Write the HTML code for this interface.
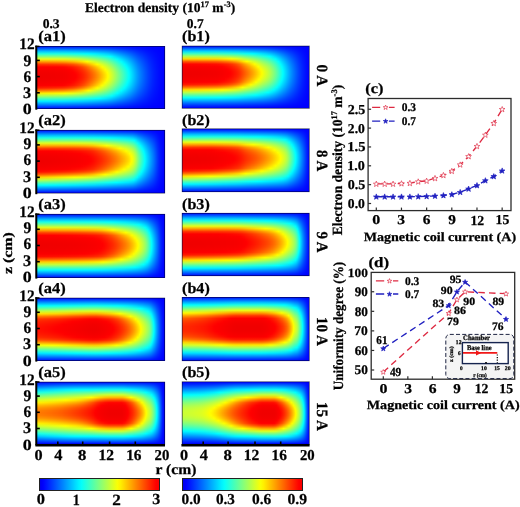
<!DOCTYPE html>
<html><head><meta charset="utf-8"><title>Electron density</title>
<style>
html,body{margin:0;padding:0;background:#fff}
#fig{position:relative;width:520px;height:507px;overflow:hidden;background:#fff;font-family:"Liberation Serif",serif}
.hm{position:absolute;display:flex}
.hm i{display:block;flex:0 0 1px;height:100%}
#ov{position:absolute;left:0;top:0;filter:blur(.35px)}
#ov text{font-family:"Liberation Serif",serif;font-weight:bold;fill:#000;text-anchor:start;text-rendering:geometricPrecision;stroke:#000;stroke-width:.25px}
.cb{position:absolute;height:12.4px;border:1px solid #222;box-sizing:border-box}
</style></head><body><div id="fig">

<div class="hm" style="left:36px;top:46.2px;width:129.7px;height:62.5px"><i style="background:linear-gradient(#0000ff,#005eff,#00bdff,#1fffe1,#81ff7f,#eaff15,#ff9c00,#ff3500,#fd0000,#f70000,#f30000,#f00000,#f00000,#f20000,#f60000,#fb0000,#ff1e00,#ff7700,#ffeb00,#acff53,#4effb1,#00f5ff,#009fff,#004cff,#0000ff)"></i><i style="background:linear-gradient(#0000ff,#005eff,#00bdff,#1fffe1,#81ff7f,#eaff15,#ff9b00,#ff3400,#fd0000,#f70000,#f30000,#f00000,#f00000,#f20000,#f60000,#fb0000,#ff1f00,#ff7800,#ffeb00,#acff53,#4effb1,#00f5ff,#009fff,#004cff,#0000ff)"></i><i style="background:linear-gradient(#0000ff,#005eff,#00beff,#1fffe1,#81ff7f,#eaff15,#ff9b00,#ff3400,#fd0000,#f70000,#f30000,#f00000,#f00000,#f20000,#f60000,#fb0000,#ff1f00,#ff7800,#ffeb00,#acff54,#4effb2,#00f5ff,#009fff,#004cff,#0000ff)"></i><i style="background:linear-gradient(#0000ff,#005eff,#00beff,#1fffe1,#81ff7f,#eaff15,#ff9b00,#ff3400,#fd0000,#f70000,#f30000,#f00000,#f00000,#f20000,#f60000,#fb0000,#ff1f00,#ff7900,#ffec00,#acff54,#4effb2,#00f5ff,#009fff,#004cff,#0000ff)"></i><i style="background:linear-gradient(#0000ff,#005eff,#00beff,#1fffe0,#81ff7f,#eaff15,#ff9b00,#ff3400,#fd0000,#f70000,#f30000,#f00000,#f00000,#f20000,#f60000,#fb0000,#ff1f00,#ff7900,#ffec00,#abff54,#4effb2,#00f4ff,#009fff,#004cff,#0000ff)"></i><i style="background:linear-gradient(#0000ff,#005eff,#00beff,#1fffe0,#81ff7f,#eaff15,#ff9b00,#ff3400,#fd0000,#f70000,#f30000,#f10000,#f00000,#f20000,#f60000,#fb0000,#ff2000,#ff7900,#ffed00,#abff55,#4dffb2,#00f4ff,#009eff,#004cff,#0000ff)"></i><i style="background:linear-gradient(#0000ff,#005eff,#00beff,#1fffe0,#81ff7f,#eaff15,#ff9b00,#ff3400,#fd0000,#f70000,#f30000,#f10000,#f00000,#f20000,#f60000,#fb0000,#ff2000,#ff7a00,#ffed00,#abff55,#4dffb3,#00f4ff,#009eff,#004cff,#0000ff)"></i><i style="background:linear-gradient(#0000ff,#005eff,#00beff,#1fffe0,#81ff7f,#eaff15,#ff9b00,#ff3400,#fd0000,#f70000,#f30000,#f10000,#f10000,#f20000,#f60000,#fb0000,#ff2100,#ff7b00,#ffee00,#aaff56,#4dffb3,#00f4ff,#009eff,#004cff,#0000ff)"></i><i style="background:linear-gradient(#0000ff,#005eff,#00beff,#1fffe0,#81ff7f,#eaff15,#ff9b00,#ff3500,#fd0000,#f70000,#f30000,#f10000,#f10000,#f20000,#f60000,#fc0000,#ff2100,#ff7b00,#ffee00,#aaff56,#4cffb3,#00f3ff,#009eff,#004cff,#0000ff)"></i><i style="background:linear-gradient(#0000ff,#005eff,#00beff,#1fffe1,#81ff7f,#eaff15,#ff9b00,#ff3500,#fd0000,#f70000,#f30000,#f10000,#f10000,#f30000,#f60000,#fc0000,#ff2200,#ff7c00,#ffef00,#a9ff56,#4cffb4,#00f3ff,#009eff,#004bff,#0000ff)"></i><i style="background:linear-gradient(#0000ff,#005eff,#00bdff,#1fffe1,#81ff7f,#eaff15,#ff9c00,#ff3500,#fd0000,#f70000,#f30000,#f10000,#f10000,#f30000,#f60000,#fc0000,#ff2200,#ff7c00,#ffef00,#a9ff57,#4cffb4,#00f3ff,#009dff,#004bff,#0000ff)"></i><i style="background:linear-gradient(#0000ff,#005eff,#00bdff,#1fffe1,#81ff7f,#eaff15,#ff9c00,#ff3500,#fd0000,#f70000,#f30000,#f10000,#f10000,#f30000,#f70000,#fc0000,#ff2300,#ff7d00,#fff000,#a8ff57,#4bffb4,#00f3ff,#009dff,#004bff,#0000ff)"></i><i style="background:linear-gradient(#0000ff,#005eff,#00bdff,#1fffe1,#81ff7f,#eaff16,#ff9c00,#ff3500,#fd0000,#f70000,#f30000,#f10000,#f10000,#f30000,#f70000,#fc0000,#ff2300,#ff7e00,#fff100,#a8ff58,#4bffb5,#00f2ff,#009dff,#004bff,#0000ff)"></i><i style="background:linear-gradient(#0000ff,#005eff,#00bdff,#1effe1,#80ff80,#e9ff16,#ff9c00,#ff3600,#fd0000,#f80000,#f40000,#f10000,#f10000,#f30000,#f70000,#fc0000,#ff2400,#ff7f00,#fff100,#a7ff58,#4affb5,#00f2ff,#009dff,#004bff,#0000ff)"></i><i style="background:linear-gradient(#0000ff,#005eff,#00bdff,#1effe1,#80ff80,#e9ff16,#ff9d00,#ff3600,#fe0000,#f80000,#f40000,#f20000,#f10000,#f30000,#f70000,#fc0000,#ff2500,#ff7f00,#fff200,#a7ff59,#4affb6,#00f2ff,#009dff,#004bff,#0000ff)"></i><i style="background:linear-gradient(#0000ff,#005eff,#00bdff,#1effe1,#80ff80,#e9ff16,#ff9d00,#ff3600,#fe0000,#f80000,#f40000,#f20000,#f20000,#f30000,#f70000,#fd0000,#ff2500,#ff8000,#fff300,#a6ff59,#4affb6,#00f1ff,#009cff,#004bff,#0000ff)"></i><i style="background:linear-gradient(#0000ff,#005eff,#00bdff,#1effe1,#80ff80,#e9ff16,#ff9d00,#ff3700,#fe0000,#f80000,#f40000,#f20000,#f20000,#f40000,#f70000,#fd0000,#ff2600,#ff8100,#fff300,#a6ff5a,#49ffb6,#00f1ff,#009cff,#004bff,#0000ff)"></i><i style="background:linear-gradient(#0000ff,#005eff,#00bdff,#1effe1,#80ff80,#e9ff17,#ff9e00,#ff3700,#fe0000,#f80000,#f40000,#f20000,#f20000,#f40000,#f80000,#fd0000,#ff2700,#ff8200,#fff400,#a5ff5a,#49ffb7,#00f1ff,#009cff,#004aff,#0000ff)"></i><i style="background:linear-gradient(#0000ff,#005eff,#00bdff,#1effe1,#80ff80,#e8ff17,#ff9e00,#ff3800,#fe0000,#f80000,#f40000,#f20000,#f20000,#f40000,#f80000,#fd0000,#ff2800,#ff8300,#fff500,#a5ff5b,#48ffb7,#00f0ff,#009cff,#004aff,#0000ff)"></i><i style="background:linear-gradient(#0000ff,#005eff,#00bdff,#1effe2,#7fff81,#e8ff17,#ff9f00,#ff3800,#fe0000,#f90000,#f50000,#f30000,#f20000,#f40000,#f80000,#fd0000,#ff2800,#ff8400,#fff600,#a4ff5c,#48ffb8,#00f0ff,#009bff,#004aff,#0000ff)"></i><i style="background:linear-gradient(#0000ff,#005eff,#00bdff,#1effe2,#7fff81,#e8ff17,#ff9f00,#ff3800,#ff0000,#f90000,#f50000,#f30000,#f30000,#f50000,#f80000,#fe0000,#ff2900,#ff8500,#fff700,#a3ff5c,#47ffb8,#00efff,#009bff,#004aff,#0000ff)"></i><i style="background:linear-gradient(#0000ff,#005eff,#00bdff,#1dffe2,#7fff81,#e7ff18,#ffa000,#ff3900,#ff0000,#f90000,#f50000,#f30000,#f30000,#f50000,#f80000,#fe0000,#ff2a00,#ff8600,#fff700,#a3ff5d,#47ffb9,#00efff,#009bff,#004aff,#0000ff)"></i><i style="background:linear-gradient(#0000ff,#005eff,#00bcff,#1dffe2,#7fff81,#e7ff18,#ffa000,#ff3a00,#ff0000,#f90000,#f50000,#f30000,#f30000,#f50000,#f90000,#fe0000,#ff2b00,#ff8700,#fff800,#a2ff5e,#46ffb9,#00efff,#009bff,#004aff,#0000ff)"></i><i style="background:linear-gradient(#0000ff,#005eff,#00bcff,#1dffe2,#7eff82,#e7ff18,#ffa100,#ff3a00,#ff0100,#f90000,#f50000,#f30000,#f30000,#f50000,#f90000,#fe0000,#ff2c00,#ff8800,#fff900,#a2ff5e,#46ffba,#00eeff,#009aff,#004aff,#0000ff)"></i><i style="background:linear-gradient(#0000ff,#005eff,#00bcff,#1dffe2,#7eff82,#e6ff19,#ffa100,#ff3b00,#ff0100,#fa0000,#f60000,#f40000,#f40000,#f60000,#f90000,#ff0000,#ff2d00,#ff8900,#fffa00,#a1ff5f,#45ffba,#00eeff,#009aff,#0049ff,#0000ff)"></i><i style="background:linear-gradient(#0000ff,#005dff,#00bcff,#1dffe3,#7eff82,#e6ff19,#ffa200,#ff3b00,#ff0200,#fa0000,#f60000,#f40000,#f40000,#f60000,#f90000,#ff0000,#ff2e00,#ff8a00,#fffb00,#a0ff5f,#45ffbb,#00edff,#009aff,#0049ff,#0000ff)"></i><i style="background:linear-gradient(#0000ff,#005dff,#00bcff,#1cffe3,#7eff82,#e6ff1a,#ffa300,#ff3c00,#ff0300,#fa0000,#f60000,#f40000,#f40000,#f60000,#fa0000,#ff0100,#ff2f00,#ff8b00,#fffc00,#a0ff60,#44ffbb,#00edff,#0099ff,#0049ff,#0000ff)"></i><i style="background:linear-gradient(#0000ff,#005dff,#00bcff,#1cffe3,#7dff83,#e5ff1a,#ffa400,#ff3d00,#ff0400,#fb0000,#f70000,#f50000,#f50000,#f60000,#fa0000,#ff0200,#ff3000,#ff8d00,#fffd00,#9fff61,#43ffbc,#00ecff,#0099ff,#0049ff,#0000ff)"></i><i style="background:linear-gradient(#0000ff,#005dff,#00bbff,#1bffe4,#7cff84,#e4ff1b,#ffa500,#ff3f00,#ff0500,#fb0000,#f70000,#f50000,#f50000,#f70000,#fb0000,#ff0300,#ff3200,#ff8f00,#ffff00,#9dff62,#42ffbd,#00ecff,#0099ff,#0049ff,#0000ff)"></i><i style="background:linear-gradient(#0000ff,#005dff,#00bbff,#1bffe4,#7cff84,#e3ff1c,#ffa700,#ff4000,#ff0700,#fc0000,#f80000,#f60000,#f60000,#f80000,#fb0000,#ff0500,#ff3400,#ff9100,#fdff02,#9cff64,#41ffbe,#00ebff,#0098ff,#0048ff,#0000ff)"></i><i style="background:linear-gradient(#0000ff,#005dff,#00baff,#1affe5,#7bff85,#e1ff1e,#ffa900,#ff4200,#ff0900,#fc0000,#f80000,#f60000,#f60000,#f80000,#fc0000,#ff0700,#ff3700,#ff9400,#fbff04,#9bff65,#40ffbf,#00eaff,#0097ff,#0048ff,#0000ff)"></i><i style="background:linear-gradient(#0000ff,#005cff,#00baff,#19ffe6,#79ff87,#e0ff1f,#ffab00,#ff4500,#ff0b00,#fd0000,#f90000,#f70000,#f70000,#f90000,#fd0000,#ff0a00,#ff3900,#ff9700,#f9ff06,#99ff67,#3fffc0,#00e9ff,#0097ff,#0048ff,#0000ff)"></i><i style="background:linear-gradient(#0000ff,#005cff,#00b9ff,#18ffe7,#78ff88,#dfff21,#ffae00,#ff4700,#ff0e00,#fe0000,#fa0000,#f80000,#f80000,#fa0000,#fe0000,#ff0c00,#ff3c00,#ff9a00,#f7ff08,#98ff68,#3effc2,#00e8ff,#0096ff,#0048ff,#0000ff)"></i><i style="background:linear-gradient(#0000ff,#005cff,#00b9ff,#17ffe8,#77ff89,#ddff22,#ffb000,#ff4a00,#ff1000,#ff0000,#fb0000,#f90000,#f90000,#fb0000,#ff0000,#ff0f00,#ff3f00,#ff9d00,#f5ff0a,#96ff6a,#3cffc3,#00e7ff,#0096ff,#0047ff,#0000ff)"></i><i style="background:linear-gradient(#0000ff,#005bff,#00b8ff,#16ffe9,#76ff8a,#dbff24,#ffb300,#ff4c00,#ff1300,#ff0200,#fc0000,#fa0000,#fa0000,#fc0000,#ff0100,#ff1100,#ff4200,#ffa000,#f3ff0c,#94ff6c,#3bffc4,#00e6ff,#0095ff,#0047ff,#0000ff)"></i><i style="background:linear-gradient(#0000ff,#005bff,#00b7ff,#16ffea,#75ff8b,#daff26,#ffb500,#ff4f00,#ff1500,#ff0400,#fd0000,#fb0000,#fb0000,#fd0000,#ff0400,#ff1400,#ff4500,#ffa300,#f0ff0f,#93ff6d,#3affc6,#00e5ff,#0094ff,#0047ff,#0000ff)"></i><i style="background:linear-gradient(#0000ff,#005bff,#00b7ff,#15ffeb,#73ff8d,#d8ff27,#ffb800,#ff5200,#ff1800,#ff0700,#fe0000,#fc0000,#fc0000,#fe0000,#ff0700,#ff1700,#ff4800,#ffa600,#eeff11,#91ff6f,#38ffc7,#00e4ff,#0093ff,#0046ff,#0000ff)"></i><i style="background:linear-gradient(#0000ff,#005aff,#00b6ff,#13ffec,#72ff8e,#d6ff29,#ffbb00,#ff5500,#ff1b00,#ff0a00,#ff0000,#fd0000,#fd0000,#ff0000,#ff0a00,#ff1a00,#ff4c00,#ffaa00,#ebff14,#8fff71,#37ffc9,#00e3ff,#0093ff,#0046ff,#0000ff)"></i><i style="background:linear-gradient(#0000ff,#005aff,#00b6ff,#13ffed,#70ff90,#d4ff2b,#ffbe00,#ff5900,#ff1f00,#ff0e00,#ff0200,#fe0000,#fe0000,#ff0200,#ff0d00,#ff1d00,#ff5000,#ffae00,#e9ff16,#8dff73,#36ffca,#00e2ff,#0092ff,#0045ff,#0000ff)"></i><i style="background:linear-gradient(#0000ff,#005aff,#00b5ff,#12ffee,#6fff91,#d2ff2d,#ffc200,#ff5e00,#ff2300,#ff1100,#ff0600,#ff0000,#ff0000,#ff0500,#ff1100,#ff2200,#ff5500,#ffb200,#e6ff19,#8bff75,#34ffcb,#00e1ff,#0092ff,#0045ff,#0000ff)"></i><i style="background:linear-gradient(#0000ff,#005aff,#00b4ff,#11ffef,#6dff92,#d0ff30,#ffc600,#ff6200,#ff2700,#ff1500,#ff0900,#ff0300,#ff0300,#ff0900,#ff1500,#ff2600,#ff5a00,#ffb700,#e3ff1c,#89ff77,#33ffcd,#00e0ff,#0091ff,#0045ff,#0000ff)"></i><i style="background:linear-gradient(#0000ff,#0059ff,#00b4ff,#10fff0,#6cff94,#cdff32,#ffcb00,#ff6700,#ff2b00,#ff1900,#ff0d00,#ff0700,#ff0700,#ff0d00,#ff1900,#ff2b00,#ff6000,#ffbc00,#e0ff1f,#87ff79,#31ffce,#00dfff,#0090ff,#0045ff,#0000ff)"></i><i style="background:linear-gradient(#0000ff,#0059ff,#00b3ff,#0efff1,#6aff96,#cbff35,#ffcf00,#ff6d00,#ff3000,#ff1e00,#ff1100,#ff0b00,#ff0b00,#ff1100,#ff1d00,#ff3000,#ff6500,#ffc100,#ddff23,#85ff7b,#30ffd0,#00deff,#0090ff,#0044ff,#0000ff)"></i><i style="background:linear-gradient(#0000ff,#0059ff,#00b2ff,#0dfff2,#68ff98,#c8ff37,#ffd400,#ff7200,#ff3600,#ff2200,#ff1600,#ff0f00,#ff0f00,#ff1600,#ff2200,#ff3500,#ff6b00,#ffc600,#d9ff26,#82ff7e,#2effd1,#00ddff,#008fff,#0044ff,#0000ff)"></i><i style="background:linear-gradient(#0000ff,#0058ff,#00b2ff,#0cfff3,#66ff99,#c5ff3a,#ffd800,#ff7800,#ff3b00,#ff2700,#ff1a00,#ff1400,#ff1400,#ff1a00,#ff2700,#ff3a00,#ff7100,#ffcb00,#d6ff29,#80ff80,#2cffd3,#00dcff,#008eff,#0044ff,#0000ff)"></i><i style="background:linear-gradient(#0000ff,#0058ff,#00b1ff,#0bfff4,#64ff9b,#c2ff3d,#ffdd00,#ff7e00,#ff4100,#ff2c00,#ff1f00,#ff1800,#ff1800,#ff1f00,#ff2c00,#ff4000,#ff7800,#ffd100,#d3ff2d,#7dff83,#2affd5,#00dbff,#008dff,#0043ff,#0000ff)"></i><i style="background:linear-gradient(#0000ff,#0058ff,#00b0ff,#09fff6,#62ff9d,#bfff40,#ffe200,#ff8400,#ff4700,#ff3100,#ff2400,#ff1d00,#ff1d00,#ff2400,#ff3200,#ff4700,#ff7f00,#ffd700,#cfff30,#7bff85,#29ffd7,#00d9ff,#008dff,#0043ff,#0000ff)"></i><i style="background:linear-gradient(#0000ff,#0057ff,#00afff,#08fff7,#60ffa0,#bcff44,#ffe800,#ff8b00,#ff4e00,#ff3800,#ff2900,#ff2200,#ff2200,#ff2a00,#ff3800,#ff4e00,#ff8600,#ffdd00,#cbff34,#78ff88,#27ffd9,#00d8ff,#008cff,#0042ff,#0000ff)"></i><i style="background:linear-gradient(#0000ff,#0057ff,#00aeff,#06fff9,#5effa2,#b8ff47,#ffee00,#ff9300,#ff5600,#ff3e00,#ff2f00,#ff2800,#ff2800,#ff3000,#ff3f00,#ff5500,#ff8e00,#ffe400,#c7ff38,#75ff8b,#24ffdb,#00d6ff,#008bff,#0042ff,#0000ff)"></i><i style="background:linear-gradient(#0000ff,#0056ff,#00adff,#04fffb,#5bffa5,#b4ff4b,#fff400,#ff9b00,#ff5e00,#ff4500,#ff3600,#ff2e00,#ff2f00,#ff3600,#ff4600,#ff5e00,#ff9700,#ffea00,#c3ff3d,#72ff8e,#22ffdd,#00d5ff,#008aff,#0042ff,#0000ff)"></i><i style="background:linear-gradient(#0000ff,#0056ff,#00acff,#03fffc,#58ffa7,#b0ff4f,#fffa00,#ffa300,#ff6600,#ff4d00,#ff3d00,#ff3500,#ff3500,#ff3d00,#ff4e00,#ff6600,#ff9f00,#fff100,#beff41,#6eff92,#20ffdf,#00d3ff,#0089ff,#0041ff,#0000ff)"></i><i style="background:linear-gradient(#0000ff,#0055ff,#00abff,#01fffe,#56ffaa,#acff53,#feff01,#ffac00,#ff6f00,#ff5500,#ff4400,#ff3c00,#ff3c00,#ff4500,#ff5600,#ff6f00,#ffa800,#fff800,#baff46,#6bff95,#1dffe2,#00d2ff,#0088ff,#0041ff,#0000ff)"></i><i style="background:linear-gradient(#0000ff,#0055ff,#00aaff,#00feff,#53ffad,#a8ff57,#f7ff08,#ffb400,#ff7800,#ff5d00,#ff4c00,#ff4400,#ff4400,#ff4d00,#ff5e00,#ff7800,#ffb100,#ffff00,#b5ff4b,#67ff98,#1bffe4,#00d0ff,#0087ff,#0040ff,#0000ff)"></i><i style="background:linear-gradient(#0000ff,#0054ff,#00a9ff,#00fcff,#50ffb0,#a4ff5c,#f1ff0e,#ffbd00,#ff8100,#ff6600,#ff5400,#ff4b00,#ff4c00,#ff5500,#ff6700,#ff8200,#ffba00,#f8ff07,#b0ff4f,#64ff9c,#19ffe7,#00ceff,#0086ff,#0040ff,#0000ff)"></i><i style="background:linear-gradient(#0000ff,#0054ff,#00a7ff,#00faff,#4dffb3,#a0ff60,#ebff14,#ffc500,#ff8b00,#ff6e00,#ff5c00,#ff5300,#ff5300,#ff5d00,#ff7000,#ff8b00,#ffc300,#f2ff0d,#acff54,#60ff9f,#16ffe9,#00ccff,#0085ff,#003fff,#0000ff)"></i><i style="background:linear-gradient(#0000ff,#0053ff,#00a6ff,#00f8ff,#4affb6,#9cff64,#e5ff1a,#ffce00,#ff9400,#ff7700,#ff6400,#ff5b00,#ff5b00,#ff6500,#ff7800,#ff9500,#ffcc00,#ebff14,#a7ff59,#5dffa3,#14ffec,#00cbff,#0084ff,#003fff,#0000ff)"></i><i style="background:linear-gradient(#0000ff,#0053ff,#00a5ff,#00f6ff,#47ffb9,#97ff68,#e0ff20,#ffd600,#ff9d00,#ff8000,#ff6d00,#ff6300,#ff6400,#ff6e00,#ff8100,#ff9e00,#ffd500,#e5ff1a,#a2ff5d,#59ffa6,#11ffee,#00c9ff,#0082ff,#003eff,#0000ff)"></i><i style="background:linear-gradient(#0000ff,#0052ff,#00a4ff,#00f4ff,#44ffbc,#93ff6d,#daff25,#ffdf00,#ffa700,#ff8900,#ff7500,#ff6c00,#ff6c00,#ff7700,#ff8b00,#ffa800,#ffde00,#dfff21,#9dff62,#56ffaa,#0efff1,#00c7ff,#0081ff,#003eff,#0000ff)"></i><i style="background:linear-gradient(#0000ff,#0051ff,#00a2ff,#00f2ff,#41ffbf,#8fff71,#d4ff2b,#ffe700,#ffb100,#ff9200,#ff7e00,#ff7400,#ff7500,#ff8000,#ff9400,#ffb200,#ffe700,#d9ff27,#99ff67,#52ffad,#0cfff3,#00c5ff,#0080ff,#003dff,#0000ff)"></i><i style="background:linear-gradient(#0000ff,#0051ff,#00a1ff,#00f0ff,#3effc2,#8aff76,#ceff31,#fff000,#ffba00,#ff9c00,#ff8700,#ff7d00,#ff7e00,#ff8900,#ff9e00,#ffbc00,#fff000,#d2ff2d,#94ff6c,#4effb1,#09fff6,#00c3ff,#007fff,#003dff,#0000ff)"></i><i style="background:linear-gradient(#0000ff,#0050ff,#00a0ff,#00edff,#3affc5,#85ff7b,#c9ff37,#fff900,#ffc400,#ffa600,#ff9100,#ff8700,#ff8700,#ff9200,#ffa800,#ffc600,#fff800,#ccff33,#8eff71,#4bffb5,#06fff9,#00c1ff,#007eff,#003cff,#0000ff)"></i><i style="background:linear-gradient(#0000ff,#004fff,#009eff,#00ebff,#37ffc8,#81ff7f,#c2ff3d,#fdff02,#ffce00,#ffb000,#ff9b00,#ff9000,#ff9100,#ff9c00,#ffb200,#ffd000,#fdff02,#c6ff3a,#89ff77,#47ffb9,#04fffb,#00bfff,#007dff,#003bff,#0000ff)"></i><i style="background:linear-gradient(#0000ff,#004fff,#009dff,#00e9ff,#34ffcc,#7cff84,#bcff43,#f5ff0a,#ffd900,#ffba00,#ffa400,#ff9a00,#ff9b00,#ffa600,#ffbc00,#ffdb00,#f4ff0b,#bfff40,#84ff7c,#43ffbd,#01fffe,#00bdff,#007bff,#003bff,#0000ff)"></i><i style="background:linear-gradient(#0000ff,#004eff,#009bff,#00e6ff,#30ffcf,#77ff89,#b6ff4a,#ecff13,#ffe300,#ffc400,#ffaf00,#ffa400,#ffa500,#ffb100,#ffc600,#ffe500,#ecff14,#b9ff47,#7fff81,#3fffc1,#00fdff,#00bbff,#007aff,#003aff,#0000ff)"></i><i style="background:linear-gradient(#0000ff,#004dff,#009aff,#00e4ff,#2cffd3,#72ff8e,#afff50,#e4ff1b,#ffed00,#ffce00,#ffb900,#ffae00,#ffaf00,#ffbb00,#ffd100,#ffef00,#e3ff1c,#b2ff4e,#79ff87,#3bffc5,#00faff,#00b9ff,#0079ff,#003aff,#0000ff)"></i><i style="background:linear-gradient(#0000ff,#004cff,#0098ff,#00e1ff,#29ffd7,#6dff93,#a9ff57,#dcff23,#fff700,#ffd800,#ffc300,#ffb900,#ffba00,#ffc500,#ffdb00,#fff900,#dbff24,#abff55,#74ff8c,#36ffc9,#00f7ff,#00b7ff,#0077ff,#0039ff,#0000ff)"></i><i style="background:linear-gradient(#0000ff,#004cff,#0096ff,#00dfff,#25ffda,#67ff98,#a2ff5d,#d5ff2b,#fdff02,#ffe300,#ffce00,#ffc300,#ffc400,#ffd000,#ffe500,#fbff04,#d3ff2c,#a4ff5b,#6eff92,#32ffcd,#00f3ff,#00b5ff,#0076ff,#0038ff,#0000ff)"></i><i style="background:linear-gradient(#0000ff,#004bff,#0095ff,#00dcff,#21ffde,#62ff9e,#9cff64,#cdff33,#f4ff0b,#ffed00,#ffd800,#ffce00,#ffcf00,#ffda00,#fff000,#f1ff0e,#cbff34,#9dff63,#68ff98,#2effd2,#00f0ff,#00b3ff,#0075ff,#0038ff,#0000ff)"></i><i style="background:linear-gradient(#0000ff,#004aff,#0093ff,#00d9ff,#1dffe2,#5cffa3,#95ff6b,#c5ff3b,#eaff15,#fff700,#ffe300,#ffd800,#ffd900,#ffe500,#fffa00,#e7ff18,#c3ff3c,#96ff6a,#62ff9d,#29ffd6,#00edff,#00b0ff,#0073ff,#0037ff,#0000ff)"></i><i style="background:linear-gradient(#0000ff,#0049ff,#0091ff,#00d6ff,#19ffe6,#57ffa9,#8eff72,#bcff43,#e1ff1f,#fcff03,#ffed00,#ffe300,#ffe400,#fff000,#f9ff06,#deff21,#bbff45,#8fff71,#5cffa3,#25ffdb,#00eaff,#00aeff,#0071ff,#0036ff,#0000ff)"></i><i style="background:linear-gradient(#0000ff,#0048ff,#008fff,#00d3ff,#15ffea,#51ffaf,#86ff7a,#b4ff4c,#d7ff28,#f2ff0d,#fff800,#ffee00,#ffef00,#fffb00,#efff10,#d5ff2b,#b2ff4e,#87ff79,#56ffaa,#20ffdf,#00e6ff,#00abff,#0070ff,#0035ff,#0000ff)"></i><i style="background:linear-gradient(#0000ff,#0047ff,#008dff,#00d0ff,#10ffef,#4bffb5,#7fff81,#abff55,#ceff31,#e8ff17,#fbff04,#fffa00,#fffb00,#f8ff07,#e5ff1a,#cbff34,#a9ff57,#7fff81,#50ffb0,#1bffe4,#00e2ff,#00a9ff,#006eff,#0035ff,#0000ff)"></i><i style="background:linear-gradient(#0000ff,#0046ff,#008bff,#00cdff,#0cfff3,#44ffbb,#77ff89,#a1ff5e,#c4ff3b,#deff22,#f0ff0f,#f9ff06,#f8ff07,#edff12,#dbff25,#c1ff3f,#9fff60,#77ff89,#49ffb7,#16ffe9,#00deff,#00a6ff,#006cff,#0034ff,#0000ff)"></i><i style="background:linear-gradient(#0000ff,#0045ff,#0088ff,#00c9ff,#06fff9,#3effc2,#6fff91,#98ff67,#baff45,#d4ff2c,#e5ff1a,#edff12,#edff13,#e2ff1d,#d1ff2f,#b7ff49,#96ff6a,#6fff91,#42ffbe,#10ffef,#00daff,#00a3ff,#006aff,#0033ff,#0000ff)"></i><i style="background:linear-gradient(#0000ff,#0043ff,#0085ff,#00c4ff,#01fffe,#37ffc9,#66ff99,#8fff71,#b0ff4f,#c9ff36,#daff26,#e2ff1e,#e1ff1e,#d7ff28,#c6ff39,#adff53,#8dff73,#66ff99,#3affc5,#0afff5,#00d5ff,#009fff,#0068ff,#0032ff,#0000ff)"></i><i style="background:linear-gradient(#0000ff,#0042ff,#0082ff,#00c0ff,#00f9ff,#2fffd0,#5effa2,#86ff7a,#a6ff5a,#beff41,#ceff31,#d6ff2a,#d5ff2a,#ccff33,#bbff45,#a3ff5d,#83ff7d,#5effa2,#33ffcd,#03fffc,#00d0ff,#009bff,#0065ff,#0030ff,#0000ff)"></i><i style="background:linear-gradient(#0000ff,#0040ff,#007fff,#00bbff,#00f3ff,#27ffd8,#55ffab,#7bff84,#9bff65,#b3ff4d,#c2ff3d,#caff36,#c9ff37,#c0ff40,#afff50,#98ff68,#79ff87,#54ffab,#2affd5,#00fbff,#00caff,#0097ff,#0063ff,#002fff,#0000ff)"></i><i style="background:linear-gradient(#0000ff,#003eff,#007bff,#00b6ff,#00ecff,#1fffe0,#4bffb4,#71ff8f,#90ff70,#a7ff59,#b6ff4a,#bdff43,#bcff43,#b4ff4c,#a3ff5c,#8cff74,#6eff91,#4bffb5,#22ffdd,#00f4ff,#00c4ff,#0092ff,#0060ff,#002eff,#0000ff)"></i><i style="background:linear-gradient(#0000ff,#003dff,#0078ff,#00b0ff,#00e5ff,#17ffe8,#42ffbe,#66ff99,#84ff7c,#9bff65,#a9ff56,#b0ff4f,#afff50,#a7ff59,#97ff68,#81ff7f,#64ff9c,#41ffbe,#1affe6,#00edff,#00bfff,#008eff,#005dff,#002cff,#0000ff)"></i><i style="background:linear-gradient(#0000ff,#003bff,#0074ff,#00abff,#00dfff,#0ffff1,#38ffc7,#5cffa4,#79ff87,#8eff72,#9dff63,#a3ff5c,#a3ff5d,#9aff65,#8bff75,#75ff8b,#59ffa7,#37ffc8,#11ffee,#00e6ff,#00b9ff,#008aff,#005aff,#002bff,#0000ff)"></i><i style="background:linear-gradient(#0000ff,#0039ff,#0071ff,#00a6ff,#00d8ff,#06fff9,#2fffd1,#51ffae,#6dff93,#82ff7e,#90ff70,#97ff69,#96ff6a,#8eff72,#7fff81,#6aff96,#4effb1,#2effd2,#09fff7,#00dfff,#00b3ff,#0085ff,#0057ff,#002aff,#0000ff)"></i><i style="background:linear-gradient(#0000ff,#0037ff,#006dff,#00a1ff,#00d1ff,#00fdff,#25ffda,#47ffb9,#62ff9e,#76ff8a,#84ff7c,#8aff76,#89ff77,#82ff7e,#73ff8d,#5effa1,#44ffbc,#24ffdb,#00ffff,#00d8ff,#00adff,#0081ff,#0054ff,#0028ff,#0000ff)"></i><i style="background:linear-gradient(#0000ff,#0036ff,#006aff,#009cff,#00cbff,#00f5ff,#1cffe3,#3dffc3,#57ffa9,#6bff95,#78ff88,#7eff82,#7dff83,#76ff8a,#68ff98,#53ffac,#3affc6,#1bffe4,#00f7ff,#00d1ff,#00a8ff,#007dff,#0052ff,#0027ff,#0000ff)"></i><i style="background:linear-gradient(#0000ff,#0034ff,#0066ff,#0097ff,#00c4ff,#00eeff,#13ffec,#33ffcd,#4cffb3,#5fffa0,#6cff94,#72ff8e,#71ff8f,#6aff96,#5cffa4,#49ffb7,#30ffd0,#12ffed,#00efff,#00caff,#00a2ff,#0079ff,#004fff,#0026ff,#0000ff)"></i><i style="background:linear-gradient(#0000ff,#0032ff,#0063ff,#0092ff,#00beff,#00e6ff,#0afff5,#29ffd7,#41ffbe,#54ffac,#60ffa0,#66ff9a,#65ff9b,#5effa2,#51ffaf,#3effc2,#26ffd9,#09fff6,#00e7ff,#00c3ff,#009dff,#0075ff,#004cff,#0024ff,#0000ff)"></i><i style="background:linear-gradient(#0000ff,#0030ff,#0060ff,#008dff,#00b8ff,#00deff,#02fffd,#1fffe0,#37ffc9,#49ffb7,#54ffab,#5affa6,#59ffa7,#52ffad,#45ffba,#33ffcc,#1cffe3,#00ffff,#00e0ff,#00bdff,#0098ff,#0071ff,#004aff,#0023ff,#0000ff)"></i><i style="background:linear-gradient(#0000ff,#002fff,#005dff,#0088ff,#00b1ff,#00d7ff,#00f8ff,#15ffea,#2cffd3,#3dffc2,#49ffb7,#4effb2,#4dffb2,#46ffb9,#3affc5,#29ffd7,#12ffed,#00f6ff,#00d8ff,#00b6ff,#0092ff,#006dff,#0047ff,#0022ff,#0000ff)"></i><i style="background:linear-gradient(#0000ff,#002dff,#0059ff,#0083ff,#00abff,#00cfff,#00efff,#0bfff4,#21ffde,#32ffce,#3dffc3,#42ffbe,#41ffbe,#3bffc5,#2fffd0,#1effe1,#08fff7,#00edff,#00d0ff,#00b0ff,#008dff,#0069ff,#0045ff,#0021ff,#0000ff)"></i><i style="background:linear-gradient(#0000ff,#002bff,#0056ff,#007fff,#00a5ff,#00c7ff,#00e6ff,#01fffe,#17ffe9,#27ffd9,#31ffce,#36ffc9,#35ffca,#2fffd0,#24ffdc,#13ffec,#00fdff,#00e4ff,#00c8ff,#00a9ff,#0088ff,#0065ff,#0042ff,#001fff,#0000ff)"></i><i style="background:linear-gradient(#0000ff,#002aff,#0053ff,#007aff,#009eff,#00c0ff,#00ddff,#00f6ff,#0cfff3,#1bffe4,#25ffda,#2affd5,#29ffd6,#23ffdc,#18ffe7,#09fff6,#00f4ff,#00dcff,#00c0ff,#00a2ff,#0082ff,#0061ff,#003fff,#001eff,#0000ff)"></i><i style="background:linear-gradient(#0000ff,#0028ff,#004fff,#0075ff,#0098ff,#00b8ff,#00d5ff,#00edff,#01fffe,#10ffef,#1affe5,#1effe1,#1effe2,#18ffe7,#0dfff2,#00fdff,#00eaff,#00d3ff,#00b9ff,#009cff,#007dff,#005dff,#003dff,#001dff,#0000ff)"></i><i style="background:linear-gradient(#0000ff,#0027ff,#004cff,#0070ff,#0092ff,#00b1ff,#00ccff,#00e3ff,#00f6ff,#05fffa,#0efff1,#13ffed,#12ffed,#0cfff3,#02fffd,#00f3ff,#00e0ff,#00caff,#00b1ff,#0095ff,#0078ff,#0059ff,#003aff,#001cff,#0000ff)"></i><i style="background:linear-gradient(#0000ff,#0025ff,#0049ff,#006bff,#008cff,#00a9ff,#00c3ff,#00d9ff,#00ebff,#00f9ff,#03fffc,#07fff8,#06fff9,#01fffe,#00f6ff,#00e8ff,#00d7ff,#00c1ff,#00a9ff,#008fff,#0073ff,#0056ff,#0038ff,#001bff,#0000ff)"></i><i style="background:linear-gradient(#0000ff,#0023ff,#0046ff,#0067ff,#0085ff,#00a1ff,#00baff,#00d0ff,#00e1ff,#00eeff,#00f6ff,#00faff,#00faff,#00f5ff,#00ebff,#00deff,#00cdff,#00b9ff,#00a2ff,#0089ff,#006eff,#0052ff,#0035ff,#0019ff,#0000ff)"></i><i style="background:linear-gradient(#0000ff,#0022ff,#0042ff,#0062ff,#007fff,#009aff,#00b1ff,#00c6ff,#00d6ff,#00e2ff,#00ebff,#00eeff,#00eeff,#00e9ff,#00e0ff,#00d3ff,#00c3ff,#00b0ff,#009aff,#0082ff,#0069ff,#004eff,#0033ff,#0018ff,#0000ff)"></i><i style="background:linear-gradient(#0000ff,#0020ff,#003fff,#005dff,#0079ff,#0092ff,#00a8ff,#00bcff,#00cbff,#00d7ff,#00dfff,#00e2ff,#00e2ff,#00ddff,#00d5ff,#00c9ff,#00b9ff,#00a7ff,#0092ff,#007cff,#0063ff,#004aff,#0030ff,#0017ff,#0000ff)"></i><i style="background:linear-gradient(#0000ff,#001eff,#003cff,#0058ff,#0072ff,#008aff,#009fff,#00b1ff,#00c0ff,#00cbff,#00d2ff,#00d6ff,#00d5ff,#00d1ff,#00c9ff,#00beff,#00afff,#009eff,#008aff,#0075ff,#005eff,#0046ff,#002eff,#0016ff,#0000ff)"></i><i style="background:linear-gradient(#0000ff,#001cff,#0038ff,#0053ff,#006bff,#0082ff,#0096ff,#00a7ff,#00b5ff,#00bfff,#00c6ff,#00caff,#00c9ff,#00c5ff,#00bdff,#00b3ff,#00a5ff,#0095ff,#0082ff,#006eff,#0058ff,#0042ff,#002bff,#0014ff,#0000ff)"></i><i style="background:linear-gradient(#0000ff,#001bff,#0035ff,#004eff,#0065ff,#007aff,#008dff,#009dff,#00aaff,#00b4ff,#00baff,#00bdff,#00bdff,#00b9ff,#00b2ff,#00a8ff,#009bff,#008cff,#007bff,#0067ff,#0053ff,#003eff,#0028ff,#0013ff,#0000ff)"></i><i style="background:linear-gradient(#0000ff,#0019ff,#0031ff,#0049ff,#005fff,#0072ff,#0084ff,#0093ff,#009fff,#00a9ff,#00afff,#00b1ff,#00b1ff,#00adff,#00a7ff,#009dff,#0091ff,#0083ff,#0073ff,#0061ff,#004eff,#003aff,#0026ff,#0012ff,#0000ff)"></i><i style="background:linear-gradient(#0000ff,#0017ff,#002eff,#0044ff,#0058ff,#006bff,#007bff,#008aff,#0095ff,#009eff,#00a3ff,#00a6ff,#00a5ff,#00a2ff,#009cff,#0093ff,#0088ff,#007bff,#006bff,#005bff,#0049ff,#0036ff,#0023ff,#0011ff,#0000ff)"></i><i style="background:linear-gradient(#0000ff,#0016ff,#002bff,#003fff,#0052ff,#0064ff,#0073ff,#0080ff,#008bff,#0093ff,#0098ff,#009bff,#009aff,#0097ff,#0091ff,#0089ff,#007fff,#0072ff,#0064ff,#0055ff,#0044ff,#0033ff,#0021ff,#0010ff,#0000ff)"></i><i style="background:linear-gradient(#0000ff,#0014ff,#0028ff,#003bff,#004dff,#005dff,#006bff,#0078ff,#0082ff,#0089ff,#008eff,#0090ff,#0090ff,#008dff,#0088ff,#0080ff,#0076ff,#006bff,#005dff,#004fff,#003fff,#002fff,#001fff,#000fff,#0000ff)"></i><i style="background:linear-gradient(#0000ff,#0013ff,#0025ff,#0037ff,#0048ff,#0057ff,#0064ff,#0070ff,#0079ff,#0080ff,#0084ff,#0086ff,#0086ff,#0083ff,#007eff,#0077ff,#006eff,#0063ff,#0057ff,#0049ff,#003bff,#002cff,#001dff,#000eff,#0000ff)"></i><i style="background:linear-gradient(#0000ff,#0012ff,#0023ff,#0033ff,#0043ff,#0051ff,#005eff,#0068ff,#0071ff,#0077ff,#007cff,#007eff,#007dff,#007bff,#0076ff,#006fff,#0067ff,#005dff,#0051ff,#0045ff,#0037ff,#0029ff,#001bff,#000dff,#0000ff)"></i><i style="background:linear-gradient(#0000ff,#0010ff,#0021ff,#0030ff,#003eff,#004bff,#0057ff,#0061ff,#0069ff,#006fff,#0073ff,#0075ff,#0075ff,#0072ff,#006eff,#0068ff,#0060ff,#0056ff,#004cff,#0040ff,#0033ff,#0026ff,#0019ff,#000cff,#0000ff)"></i><i style="background:linear-gradient(#0000ff,#000fff,#001eff,#002dff,#003aff,#0046ff,#0051ff,#005aff,#0062ff,#0067ff,#006bff,#006dff,#006cff,#006aff,#0066ff,#0060ff,#0059ff,#0050ff,#0046ff,#003bff,#0030ff,#0023ff,#0017ff,#000bff,#0000ff)"></i><i style="background:linear-gradient(#0000ff,#000eff,#001cff,#0029ff,#0035ff,#0041ff,#004bff,#0053ff,#005aff,#005fff,#0063ff,#0064ff,#0064ff,#0062ff,#005eff,#0059ff,#0052ff,#004aff,#0041ff,#0037ff,#002cff,#0021ff,#0015ff,#000aff,#0000ff)"></i><i style="background:linear-gradient(#0000ff,#000dff,#001aff,#0026ff,#0031ff,#003bff,#0045ff,#004cff,#0053ff,#0058ff,#005bff,#005cff,#005cff,#005aff,#0057ff,#0052ff,#004cff,#0044ff,#003cff,#0032ff,#0028ff,#001eff,#0014ff,#0009ff,#0000ff)"></i><i style="background:linear-gradient(#0000ff,#000cff,#0017ff,#0023ff,#002dff,#0036ff,#003fff,#0046ff,#004cff,#0050ff,#0053ff,#0054ff,#0054ff,#0052ff,#004fff,#004bff,#0045ff,#003eff,#0037ff,#002eff,#0025ff,#001cff,#0012ff,#0009ff,#0000ff)"></i><i style="background:linear-gradient(#0000ff,#000bff,#0015ff,#001fff,#0029ff,#0032ff,#0039ff,#0040ff,#0045ff,#0049ff,#004cff,#004dff,#004dff,#004bff,#0048ff,#0044ff,#003fff,#0039ff,#0032ff,#002aff,#0022ff,#0019ff,#0010ff,#0008ff,#0000ff)"></i><i style="background:linear-gradient(#0000ff,#000aff,#0013ff,#001cff,#0025ff,#002dff,#0034ff,#003aff,#003eff,#0042ff,#0044ff,#0045ff,#0045ff,#0044ff,#0041ff,#003eff,#0039ff,#0033ff,#002dff,#0026ff,#001eff,#0017ff,#000fff,#0007ff,#0000ff)"></i><i style="background:linear-gradient(#0000ff,#0009ff,#0011ff,#001aff,#0021ff,#0028ff,#002eff,#0034ff,#0038ff,#003bff,#003dff,#003eff,#003eff,#003dff,#003bff,#0037ff,#0033ff,#002eff,#0028ff,#0022ff,#001bff,#0014ff,#000dff,#0006ff,#0000ff)"></i><i style="background:linear-gradient(#0000ff,#0008ff,#0010ff,#0017ff,#001eff,#0024ff,#002aff,#002eff,#0032ff,#0035ff,#0037ff,#0038ff,#0038ff,#0037ff,#0034ff,#0031ff,#002eff,#0029ff,#0024ff,#001eff,#0018ff,#0012ff,#000cff,#0006ff,#0000ff)"></i><i style="background:linear-gradient(#0000ff,#0007ff,#000eff,#0014ff,#001aff,#0020ff,#0025ff,#0029ff,#002cff,#002fff,#0031ff,#0031ff,#0031ff,#0030ff,#002fff,#002cff,#0029ff,#0025ff,#0020ff,#001bff,#0016ff,#0010ff,#000bff,#0005ff,#0000ff)"></i><i style="background:linear-gradient(#0000ff,#0006ff,#000cff,#0012ff,#0017ff,#001cff,#0021ff,#0024ff,#0027ff,#0029ff,#002bff,#002cff,#002cff,#002bff,#0029ff,#0027ff,#0024ff,#0020ff,#001cff,#0018ff,#0013ff,#000eff,#0009ff,#0004ff,#0000ff)"></i><i style="background:linear-gradient(#0000ff,#0005ff,#000bff,#0010ff,#0014ff,#0019ff,#001dff,#0020ff,#0022ff,#0024ff,#0026ff,#0026ff,#0026ff,#0025ff,#0024ff,#0022ff,#001fff,#001cff,#0019ff,#0015ff,#0011ff,#000dff,#0008ff,#0004ff,#0000ff)"></i><i style="background:linear-gradient(#0000ff,#0005ff,#0009ff,#000eff,#0012ff,#0016ff,#0019ff,#001cff,#001eff,#0020ff,#0021ff,#0021ff,#0021ff,#0021ff,#001fff,#001eff,#001bff,#0019ff,#0016ff,#0012ff,#000fff,#000bff,#0007ff,#0003ff,#0000ff)"></i><i style="background:linear-gradient(#0000ff,#0004ff,#0008ff,#000cff,#000fff,#0013ff,#0016ff,#0018ff,#001aff,#001cff,#001cff,#001dff,#001dff,#001cff,#001bff,#001aff,#0018ff,#0015ff,#0013ff,#0010ff,#000dff,#0009ff,#0006ff,#0003ff,#0000ff)"></i><i style="background:linear-gradient(#0000ff,#0004ff,#0007ff,#000aff,#000dff,#0010ff,#0013ff,#0015ff,#0017ff,#0018ff,#0019ff,#0019ff,#0019ff,#0018ff,#0018ff,#0016ff,#0015ff,#0013ff,#0010ff,#000eff,#000bff,#0008ff,#0005ff,#0003ff,#0000ff)"></i><i style="background:linear-gradient(#0000ff,#0003ff,#0006ff,#0009ff,#000bff,#000eff,#0010ff,#0012ff,#0013ff,#0014ff,#0015ff,#0015ff,#0015ff,#0015ff,#0014ff,#0013ff,#0011ff,#0010ff,#000eff,#000cff,#0009ff,#0007ff,#0005ff,#0002ff,#0000ff)"></i><i style="background:linear-gradient(#0000ff,#0003ff,#0005ff,#0007ff,#0009ff,#000bff,#000dff,#000fff,#0010ff,#0011ff,#0012ff,#0012ff,#0012ff,#0011ff,#0011ff,#0010ff,#000fff,#000dff,#000cff,#000aff,#0008ff,#0006ff,#0004ff,#0002ff,#0000ff)"></i><i style="background:linear-gradient(#0000ff,#0002ff,#0004ff,#0006ff,#0008ff,#0009ff,#000bff,#000cff,#000dff,#000eff,#000eff,#000eff,#000eff,#000eff,#000eff,#000dff,#000cff,#000bff,#0009ff,#0008ff,#0006ff,#0005ff,#0003ff,#0001ff,#0000ff)"></i><i style="background:linear-gradient(#0000ff,#0002ff,#0003ff,#0005ff,#0006ff,#0007ff,#0008ff,#0009ff,#000aff,#000bff,#000bff,#000bff,#000bff,#000bff,#000bff,#000aff,#0009ff,#0008ff,#0007ff,#0006ff,#0005ff,#0004ff,#0002ff,#0001ff,#0000ff)"></i><i style="background:linear-gradient(#0000ff,#0001ff,#0002ff,#0003ff,#0004ff,#0005ff,#0006ff,#0007ff,#0008ff,#0008ff,#0008ff,#0008ff,#0008ff,#0008ff,#0008ff,#0007ff,#0007ff,#0006ff,#0005ff,#0005ff,#0004ff,#0003ff,#0002ff,#0001ff,#0000ff)"></i><i style="background:linear-gradient(#0000ff,#0001ff,#0002ff,#0002ff,#0003ff,#0004ff,#0004ff,#0005ff,#0005ff,#0006ff,#0006ff,#0006ff,#0006ff,#0006ff,#0005ff,#0005ff,#0005ff,#0004ff,#0004ff,#0003ff,#0003ff,#0002ff,#0001ff,#0001ff,#0000ff)"></i><i style="background:linear-gradient(#0000ff,#0001ff,#0001ff,#0001ff,#0002ff,#0002ff,#0003ff,#0003ff,#0003ff,#0003ff,#0004ff,#0004ff,#0004ff,#0004ff,#0003ff,#0003ff,#0003ff,#0003ff,#0002ff,#0002ff,#0002ff,#0001ff,#0001ff,#0000ff,#0000ff)"></i><i style="background:linear-gradient(#0000ff,#0000ff,#0000ff,#0001ff,#0001ff,#0001ff,#0001ff,#0001ff,#0002ff,#0002ff,#0002ff,#0002ff,#0002ff,#0002ff,#0002ff,#0002ff,#0001ff,#0001ff,#0001ff,#0001ff,#0001ff,#0001ff,#0000ff,#0000ff,#0000ff)"></i><i style="flex-basis:0.7px;background:linear-gradient(#0000ff,#0000ff,#0000ff,#0000ff,#0000ff,#0000ff,#0000ff,#0000ff,#0000ff,#0000ff,#0000ff,#0000ff,#0000ff,#0000ff,#0000ff,#0000ff,#0000ff,#0000ff,#0000ff,#0000ff,#0000ff,#0000ff,#0000ff,#0000ff,#0000ff)"></i></div>
<div class="hm" style="left:182px;top:45.8px;width:128.3px;height:62.6px"><i style="background:linear-gradient(#0000ff,#0069ff,#00d2ff,#3dffc2,#abff54,#ffda00,#ff5c00,#ff0500,#f80000,#f30000,#f10000,#f00000,#f20000,#f50000,#fb0000,#ff1b00,#ff7200,#ffe100,#b8ff47,#5fffa1,#0dfff2,#00beff,#0076ff,#0034ff,#0000ff)"></i><i style="background:linear-gradient(#0000ff,#0069ff,#00d2ff,#3dffc2,#abff54,#ffda00,#ff5c00,#ff0500,#f80000,#f30000,#f10000,#f00000,#f20000,#f50000,#fb0000,#ff1b00,#ff7200,#ffe200,#b8ff47,#5fffa1,#0dfff2,#00beff,#0076ff,#0034ff,#0000ff)"></i><i style="background:linear-gradient(#0000ff,#0069ff,#00d2ff,#3dffc2,#acff54,#ffd900,#ff5c00,#ff0500,#f80000,#f30000,#f10000,#f00000,#f20000,#f50000,#fb0000,#ff1b00,#ff7200,#ffe200,#b8ff48,#5effa1,#0dfff3,#00beff,#0076ff,#0034ff,#0000ff)"></i><i style="background:linear-gradient(#0000ff,#0069ff,#00d2ff,#3dffc2,#acff54,#ffd900,#ff5b00,#ff0500,#f80000,#f30000,#f10000,#f00000,#f20000,#f50000,#fb0000,#ff1c00,#ff7300,#ffe200,#b8ff48,#5effa2,#0cfff3,#00beff,#0075ff,#0034ff,#0000ff)"></i><i style="background:linear-gradient(#0000ff,#0069ff,#00d2ff,#3effc2,#acff54,#ffd900,#ff5b00,#ff0500,#f80000,#f30000,#f10000,#f00000,#f20000,#f50000,#fb0000,#ff1c00,#ff7300,#ffe300,#b7ff48,#5effa2,#0cfff3,#00beff,#0075ff,#0034ff,#0000ff)"></i><i style="background:linear-gradient(#0000ff,#0069ff,#00d2ff,#3effc2,#acff54,#ffd900,#ff5b00,#ff0500,#f80000,#f30000,#f10000,#f00000,#f20000,#f60000,#fb0000,#ff1c00,#ff7300,#ffe300,#b7ff48,#5effa2,#0cfff3,#00beff,#0075ff,#0034ff,#0000ff)"></i><i style="background:linear-gradient(#0000ff,#0069ff,#00d3ff,#3effc2,#acff54,#ffd900,#ff5b00,#ff0500,#f80000,#f30000,#f10000,#f00000,#f20000,#f60000,#fb0000,#ff1d00,#ff7400,#ffe300,#b7ff49,#5dffa2,#0cfff3,#00bdff,#0075ff,#0034ff,#0000ff)"></i><i style="background:linear-gradient(#0000ff,#0069ff,#00d3ff,#3effc2,#acff54,#ffd900,#ff5b00,#ff0500,#f80000,#f30000,#f10000,#f00000,#f20000,#f60000,#fb0000,#ff1d00,#ff7400,#ffe400,#b6ff49,#5dffa3,#0cfff4,#00bdff,#0075ff,#0034ff,#0000ff)"></i><i style="background:linear-gradient(#0000ff,#0069ff,#00d3ff,#3effc2,#acff54,#ffd900,#ff5b00,#ff0500,#f80000,#f40000,#f10000,#f00000,#f20000,#f60000,#fb0000,#ff1d00,#ff7500,#ffe400,#b6ff49,#5dffa3,#0bfff4,#00bdff,#0075ff,#0034ff,#0000ff)"></i><i style="background:linear-gradient(#0000ff,#0069ff,#00d3ff,#3effc2,#acff54,#ffd900,#ff5b00,#ff0600,#f80000,#f40000,#f10000,#f00000,#f20000,#f60000,#fb0000,#ff1e00,#ff7500,#ffe500,#b6ff4a,#5dffa3,#0bfff4,#00bdff,#0075ff,#0033ff,#0000ff)"></i><i style="background:linear-gradient(#0000ff,#0069ff,#00d3ff,#3effc2,#acff54,#ffd900,#ff5c00,#ff0600,#f80000,#f40000,#f10000,#f10000,#f20000,#f60000,#fb0000,#ff1e00,#ff7500,#ffe500,#b5ff4a,#5cffa3,#0bfff4,#00bdff,#0075ff,#0033ff,#0000ff)"></i><i style="background:linear-gradient(#0000ff,#0069ff,#00d3ff,#3effc2,#acff54,#ffd900,#ff5c00,#ff0600,#f80000,#f40000,#f10000,#f10000,#f20000,#f60000,#fb0000,#ff1e00,#ff7600,#ffe600,#b5ff4a,#5cffa4,#0bfff5,#00bcff,#0074ff,#0033ff,#0000ff)"></i><i style="background:linear-gradient(#0000ff,#0069ff,#00d2ff,#3effc2,#acff54,#ffd900,#ff5c00,#ff0600,#f90000,#f40000,#f10000,#f10000,#f20000,#f60000,#fb0000,#ff1f00,#ff7700,#ffe600,#b5ff4b,#5cffa4,#0afff5,#00bcff,#0074ff,#0033ff,#0000ff)"></i><i style="background:linear-gradient(#0000ff,#0069ff,#00d2ff,#3effc2,#acff54,#ffd900,#ff5c00,#ff0600,#f90000,#f40000,#f10000,#f10000,#f30000,#f60000,#fc0000,#ff1f00,#ff7700,#ffe700,#b4ff4b,#5bffa4,#0afff5,#00bcff,#0074ff,#0033ff,#0000ff)"></i><i style="background:linear-gradient(#0000ff,#0069ff,#00d2ff,#3dffc2,#acff54,#ffd900,#ff5c00,#ff0600,#f90000,#f40000,#f10000,#f10000,#f30000,#f60000,#fc0000,#ff2000,#ff7800,#ffe700,#b4ff4c,#5bffa5,#0afff5,#00bcff,#0074ff,#0033ff,#0000ff)"></i><i style="background:linear-gradient(#0000ff,#0069ff,#00d2ff,#3dffc2,#acff54,#ffda00,#ff5c00,#ff0700,#f90000,#f40000,#f10000,#f10000,#f30000,#f60000,#fc0000,#ff2000,#ff7800,#ffe800,#b4ff4c,#5bffa5,#0afff6,#00bcff,#0074ff,#0033ff,#0000ff)"></i><i style="background:linear-gradient(#0000ff,#0069ff,#00d2ff,#3dffc2,#acff54,#ffda00,#ff5d00,#ff0700,#f90000,#f40000,#f20000,#f10000,#f30000,#f70000,#fc0000,#ff2100,#ff7900,#ffe800,#b3ff4d,#5affa5,#09fff6,#00bbff,#0074ff,#0033ff,#0000ff)"></i><i style="background:linear-gradient(#0000ff,#0069ff,#00d2ff,#3dffc2,#abff54,#ffda00,#ff5d00,#ff0700,#f90000,#f40000,#f20000,#f10000,#f30000,#f70000,#fc0000,#ff2100,#ff7a00,#ffe900,#b3ff4d,#5affa6,#09fff6,#00bbff,#0074ff,#0033ff,#0000ff)"></i><i style="background:linear-gradient(#0000ff,#0069ff,#00d2ff,#3dffc2,#abff54,#ffda00,#ff5d00,#ff0700,#f90000,#f40000,#f20000,#f10000,#f30000,#f70000,#fc0000,#ff2200,#ff7a00,#ffea00,#b2ff4d,#5affa6,#09fff6,#00bbff,#0073ff,#0033ff,#0000ff)"></i><i style="background:linear-gradient(#0000ff,#0069ff,#00d2ff,#3dffc2,#abff54,#ffda00,#ff5d00,#ff0800,#f90000,#f50000,#f20000,#f20000,#f30000,#f70000,#fc0000,#ff2200,#ff7b00,#ffea00,#b2ff4e,#59ffa6,#08fff7,#00bbff,#0073ff,#0033ff,#0000ff)"></i><i style="background:linear-gradient(#0000ff,#0069ff,#00d2ff,#3dffc2,#abff55,#ffdb00,#ff5e00,#ff0800,#f90000,#f50000,#f20000,#f20000,#f30000,#f70000,#fc0000,#ff2300,#ff7c00,#ffeb00,#b1ff4e,#59ffa7,#08fff7,#00bbff,#0073ff,#0033ff,#0000ff)"></i><i style="background:linear-gradient(#0000ff,#0069ff,#00d2ff,#3dffc3,#abff55,#ffdb00,#ff5e00,#ff0800,#fa0000,#f50000,#f20000,#f20000,#f40000,#f70000,#fd0000,#ff2400,#ff7c00,#ffec00,#b1ff4f,#58ffa7,#08fff7,#00baff,#0073ff,#0033ff,#0000ff)"></i><i style="background:linear-gradient(#0000ff,#0069ff,#00d2ff,#3dffc3,#abff55,#ffdb00,#ff5e00,#ff0900,#fa0000,#f50000,#f20000,#f20000,#f40000,#f70000,#fd0000,#ff2400,#ff7d00,#ffec00,#b0ff4f,#58ffa8,#07fff8,#00baff,#0073ff,#0032ff,#0000ff)"></i><i style="background:linear-gradient(#0000ff,#0069ff,#00d2ff,#3dffc3,#abff55,#ffdb00,#ff5f00,#ff0900,#fa0000,#f50000,#f30000,#f20000,#f40000,#f80000,#fd0000,#ff2500,#ff7e00,#ffed00,#b0ff50,#58ffa8,#07fff8,#00baff,#0073ff,#0032ff,#0000ff)"></i><i style="background:linear-gradient(#0000ff,#0068ff,#00d2ff,#3dffc3,#abff55,#ffdc00,#ff5f00,#ff0900,#fa0000,#f50000,#f30000,#f20000,#f40000,#f80000,#fd0000,#ff2500,#ff7f00,#ffee00,#afff50,#57ffa8,#07fff8,#00baff,#0072ff,#0032ff,#0000ff)"></i><i style="background:linear-gradient(#0000ff,#0068ff,#00d2ff,#3cffc3,#aaff55,#ffdc00,#ff5f00,#ff0a00,#fa0000,#f50000,#f30000,#f20000,#f40000,#f80000,#fd0000,#ff2600,#ff7f00,#ffee00,#afff51,#57ffa9,#06fff9,#00b9ff,#0072ff,#0032ff,#0000ff)"></i><i style="background:linear-gradient(#0000ff,#0068ff,#00d2ff,#3cffc3,#aaff55,#ffdc00,#ff6000,#ff0a00,#fa0000,#f60000,#f30000,#f30000,#f40000,#f80000,#fe0000,#ff2700,#ff8000,#ffef00,#aeff51,#56ffa9,#06fff9,#00b9ff,#0072ff,#0032ff,#0000ff)"></i><i style="background:linear-gradient(#0000ff,#0068ff,#00d2ff,#3cffc3,#aaff56,#ffdd00,#ff6000,#ff0b00,#fa0000,#f60000,#f30000,#f30000,#f50000,#f80000,#fe0000,#ff2800,#ff8100,#fff000,#aeff52,#56ffaa,#06fff9,#00b9ff,#0072ff,#0032ff,#0000ff)"></i><i style="background:linear-gradient(#0000ff,#0068ff,#00d1ff,#3cffc3,#aaff56,#ffdd00,#ff6100,#ff0b00,#fb0000,#f60000,#f30000,#f30000,#f50000,#f90000,#fe0000,#ff2800,#ff8200,#fff100,#adff52,#55ffaa,#05fffa,#00b8ff,#0072ff,#0032ff,#0000ff)"></i><i style="background:linear-gradient(#0000ff,#0068ff,#00d1ff,#3cffc4,#aaff56,#ffdd00,#ff6100,#ff0c00,#fb0000,#f60000,#f40000,#f30000,#f50000,#f90000,#fe0000,#ff2900,#ff8300,#fff100,#adff53,#55ffab,#05fffa,#00b8ff,#0072ff,#0032ff,#0000ff)"></i><i style="background:linear-gradient(#0000ff,#0068ff,#00d1ff,#3cffc4,#a9ff56,#ffde00,#ff6200,#ff0c00,#fb0000,#f60000,#f40000,#f30000,#f50000,#f90000,#fe0000,#ff2a00,#ff8400,#fff200,#acff54,#55ffab,#05fffa,#00b8ff,#0071ff,#0032ff,#0000ff)"></i><i style="background:linear-gradient(#0000ff,#0068ff,#00d1ff,#3bffc4,#a9ff57,#ffde00,#ff6200,#ff0d00,#fb0000,#f70000,#f40000,#f40000,#f50000,#f90000,#ff0000,#ff2b00,#ff8500,#fff300,#abff54,#54ffac,#04fffb,#00b8ff,#0071ff,#0032ff,#0000ff)"></i><i style="background:linear-gradient(#0000ff,#0068ff,#00d1ff,#3bffc4,#a9ff57,#ffde00,#ff6300,#ff0d00,#fb0000,#f70000,#f40000,#f40000,#f60000,#f90000,#ff0000,#ff2b00,#ff8600,#fff400,#abff55,#54ffac,#04fffb,#00b7ff,#0071ff,#0032ff,#0000ff)"></i><i style="background:linear-gradient(#0000ff,#0068ff,#00d1ff,#3bffc4,#a9ff57,#ffdf00,#ff6300,#ff0e00,#fc0000,#f70000,#f40000,#f40000,#f60000,#fa0000,#ff0000,#ff2c00,#ff8700,#fff500,#aaff55,#53ffad,#03fffc,#00b7ff,#0071ff,#0031ff,#0000ff)"></i><i style="background:linear-gradient(#0000ff,#0068ff,#00d1ff,#3bffc5,#a8ff58,#ffe000,#ff6400,#ff0f00,#fc0000,#f70000,#f50000,#f40000,#f60000,#fa0000,#ff0100,#ff2e00,#ff8800,#fff600,#a9ff56,#52ffad,#03fffc,#00b7ff,#0070ff,#0031ff,#0000ff)"></i><i style="background:linear-gradient(#0000ff,#0068ff,#00d0ff,#3affc5,#a7ff58,#ffe100,#ff6600,#ff1000,#fc0000,#f80000,#f50000,#f50000,#f70000,#fa0000,#ff0200,#ff2f00,#ff8a00,#fff700,#a8ff57,#52ffae,#02fffd,#00b6ff,#0070ff,#0031ff,#0000ff)"></i><i style="background:linear-gradient(#0000ff,#0068ff,#00d0ff,#3affc6,#a7ff59,#ffe200,#ff6700,#ff1100,#fd0000,#f80000,#f60000,#f50000,#f70000,#fb0000,#ff0400,#ff3100,#ff8c00,#fff900,#a7ff58,#51ffaf,#02fffe,#00b6ff,#0070ff,#0031ff,#0000ff)"></i><i style="background:linear-gradient(#0000ff,#0067ff,#00cfff,#39ffc7,#a6ff5a,#ffe400,#ff6900,#ff1300,#fd0000,#f90000,#f60000,#f60000,#f80000,#fc0000,#ff0600,#ff3300,#ff8e00,#fffa00,#a6ff5a,#50ffb0,#01fffe,#00b5ff,#006fff,#0031ff,#0000ff)"></i><i style="background:linear-gradient(#0000ff,#0067ff,#00cfff,#38ffc7,#a5ff5b,#ffe500,#ff6b00,#ff1500,#fe0000,#f90000,#f70000,#f70000,#f90000,#fc0000,#ff0800,#ff3500,#ff9000,#fffc00,#a5ff5b,#4fffb1,#00ffff,#00b4ff,#006fff,#0031ff,#0000ff)"></i><i style="background:linear-gradient(#0000ff,#0067ff,#00ceff,#37ffc8,#a4ff5c,#ffe700,#ff6d00,#ff1700,#ff0000,#fa0000,#f80000,#f70000,#f90000,#fd0000,#ff0a00,#ff3800,#ff9300,#fffe00,#a3ff5c,#4dffb2,#00feff,#00b4ff,#006fff,#0030ff,#0000ff)"></i><i style="background:linear-gradient(#0000ff,#0066ff,#00ceff,#36ffc9,#a2ff5d,#ffe900,#ff7000,#ff1900,#ff0100,#fb0000,#f80000,#f80000,#fa0000,#fe0000,#ff0c00,#ff3a00,#ff9600,#feff01,#a2ff5e,#4cffb3,#00fdff,#00b3ff,#006eff,#0030ff,#0000ff)"></i><i style="background:linear-gradient(#0000ff,#0066ff,#00cdff,#35ffca,#a1ff5f,#ffeb00,#ff7200,#ff1b00,#ff0400,#fc0000,#f90000,#f90000,#fb0000,#fe0000,#ff0f00,#ff3d00,#ff9900,#fbff04,#a0ff60,#4bffb5,#00fcff,#00b2ff,#006eff,#0030ff,#0000ff)"></i><i style="background:linear-gradient(#0000ff,#0066ff,#00ccff,#34ffcb,#a0ff60,#ffed00,#ff7500,#ff1e00,#ff0600,#fd0000,#fa0000,#fa0000,#fc0000,#ff0100,#ff1100,#ff4000,#ff9b00,#f9ff06,#9eff61,#4affb6,#00fbff,#00b2ff,#006dff,#0030ff,#0000ff)"></i><i style="background:linear-gradient(#0000ff,#0065ff,#00ccff,#33ffcc,#9eff61,#ffef00,#ff7700,#ff2000,#ff0900,#fd0000,#fb0000,#fb0000,#fd0000,#ff0400,#ff1400,#ff4300,#ff9f00,#f7ff08,#9dff63,#48ffb7,#00faff,#00b1ff,#006dff,#0030ff,#0000ff)"></i><i style="background:linear-gradient(#0000ff,#0065ff,#00cbff,#32ffcd,#9dff63,#fff100,#ff7a00,#ff2200,#ff0b00,#fe0000,#fc0000,#fc0000,#fd0000,#ff0600,#ff1600,#ff4600,#ffa200,#f5ff0b,#9bff65,#47ffb9,#00f9ff,#00b0ff,#006cff,#002fff,#0000ff)"></i><i style="background:linear-gradient(#0000ff,#0065ff,#00caff,#31ffce,#9cff64,#fff400,#ff7d00,#ff2500,#ff0e00,#ff0100,#fd0000,#fc0000,#fe0000,#ff0900,#ff1900,#ff4900,#ffa500,#f2ff0d,#99ff67,#45ffba,#00f8ff,#00afff,#006cff,#002fff,#0000ff)"></i><i style="background:linear-gradient(#0000ff,#0065ff,#00caff,#30ffcf,#9aff66,#fff600,#ff8000,#ff2800,#ff1100,#ff0300,#fe0000,#fd0000,#ff0100,#ff0c00,#ff1c00,#ff4d00,#ffa800,#f0ff0f,#98ff68,#44ffbb,#00f7ff,#00afff,#006bff,#002fff,#0000ff)"></i><i style="background:linear-gradient(#0000ff,#0064ff,#00c9ff,#2fffd0,#99ff67,#fff900,#ff8400,#ff2c00,#ff1400,#ff0700,#ff0000,#fe0000,#ff0400,#ff0f00,#ff2000,#ff5100,#ffac00,#edff12,#96ff6a,#43ffbd,#00f6ff,#00aeff,#006bff,#002fff,#0000ff)"></i><i style="background:linear-gradient(#0000ff,#0064ff,#00c9ff,#2effd1,#97ff69,#fffc00,#ff8900,#ff3000,#ff1800,#ff0a00,#ff0200,#ff0200,#ff0700,#ff1300,#ff2400,#ff5600,#ffb100,#eaff15,#94ff6c,#41ffbe,#00f5ff,#00adff,#006bff,#002fff,#0000ff)"></i><i style="background:linear-gradient(#0000ff,#0064ff,#00c8ff,#2dffd2,#95ff6b,#ffff00,#ff8d00,#ff3500,#ff1c00,#ff0e00,#ff0600,#ff0500,#ff0b00,#ff1700,#ff2800,#ff5b00,#ffb500,#e7ff18,#92ff6e,#40ffc0,#00f4ff,#00adff,#006aff,#002eff,#0000ff)"></i><i style="background:linear-gradient(#0000ff,#0063ff,#00c7ff,#2cffd3,#93ff6d,#fcff03,#ff9200,#ff3900,#ff2000,#ff1200,#ff0a00,#ff0900,#ff0f00,#ff1b00,#ff2d00,#ff6000,#ffba00,#e4ff1b,#8fff70,#3effc1,#00f3ff,#00acff,#006aff,#002eff,#0000ff)"></i><i style="background:linear-gradient(#0000ff,#0063ff,#00c6ff,#2bffd5,#91ff6f,#f8ff07,#ff9700,#ff3f00,#ff2500,#ff1600,#ff0e00,#ff0d00,#ff1300,#ff1f00,#ff3200,#ff6600,#ffbf00,#e1ff1f,#8dff73,#3dffc3,#00f1ff,#00abff,#0069ff,#002eff,#0000ff)"></i><i style="background:linear-gradient(#0000ff,#0063ff,#00c6ff,#29ffd6,#8fff71,#f5ff0a,#ff9d00,#ff4400,#ff2900,#ff1a00,#ff1200,#ff1200,#ff1800,#ff2400,#ff3700,#ff6c00,#ffc500,#ddff22,#8bff75,#3bffc5,#00f0ff,#00aaff,#0069ff,#002eff,#0000ff)"></i><i style="background:linear-gradient(#0000ff,#0062ff,#00c5ff,#28ffd8,#8dff73,#f1ff0e,#ffa200,#ff4a00,#ff2f00,#ff1f00,#ff1700,#ff1600,#ff1c00,#ff2900,#ff3d00,#ff7200,#ffca00,#daff25,#88ff78,#39ffc6,#00efff,#00a9ff,#0068ff,#002eff,#0000ff)"></i><i style="background:linear-gradient(#0000ff,#0062ff,#00c4ff,#26ffd9,#8aff76,#edff12,#ffa800,#ff5100,#ff3400,#ff2400,#ff1c00,#ff1b00,#ff2100,#ff2f00,#ff4300,#ff7900,#ffd000,#d6ff29,#85ff7b,#37ffc8,#00edff,#00a8ff,#0068ff,#002dff,#0000ff)"></i><i style="background:linear-gradient(#0000ff,#0061ff,#00c3ff,#25ffdb,#88ff78,#e9ff16,#ffaf00,#ff5800,#ff3b00,#ff2900,#ff2100,#ff2000,#ff2700,#ff3500,#ff4a00,#ff8100,#ffd700,#d2ff2d,#82ff7e,#35ffca,#00ecff,#00a7ff,#0067ff,#002dff,#0000ff)"></i><i style="background:linear-gradient(#0000ff,#0061ff,#00c2ff,#23ffdd,#84ff7b,#e4ff1b,#ffb600,#ff6000,#ff4200,#ff3000,#ff2700,#ff2600,#ff2d00,#ff3c00,#ff5200,#ff8900,#ffdd00,#ceff31,#7fff81,#33ffcd,#00eaff,#00a6ff,#0066ff,#002dff,#0000ff)"></i><i style="background:linear-gradient(#0000ff,#0060ff,#00c0ff,#20ffdf,#81ff7f,#dfff20,#ffbf00,#ff6900,#ff4a00,#ff3700,#ff2e00,#ff2d00,#ff3500,#ff4400,#ff5b00,#ff9200,#ffe500,#c9ff36,#7bff85,#30ffcf,#00e8ff,#00a5ff,#0066ff,#002cff,#0000ff)"></i><i style="background:linear-gradient(#0000ff,#0060ff,#00bfff,#1effe1,#7dff83,#d9ff26,#ffc800,#ff7400,#ff5300,#ff4000,#ff3600,#ff3500,#ff3d00,#ff4d00,#ff6600,#ff9d00,#ffee00,#c4ff3c,#77ff89,#2dffd2,#00e6ff,#00a3ff,#0065ff,#002cff,#0000ff)"></i><i style="background:linear-gradient(#0000ff,#005fff,#00bdff,#1bffe4,#79ff87,#d4ff2c,#ffd100,#ff7f00,#ff5d00,#ff4900,#ff3f00,#ff3e00,#ff4600,#ff5700,#ff7000,#ffa800,#fff600,#beff42,#73ff8d,#2affd5,#00e4ff,#00a2ff,#0064ff,#002cff,#0000ff)"></i><i style="background:linear-gradient(#0000ff,#005eff,#00bcff,#19ffe7,#75ff8b,#ceff32,#ffdb00,#ff8a00,#ff6800,#ff5300,#ff4800,#ff4700,#ff5000,#ff6100,#ff7c00,#ffb300,#fffe00,#b8ff47,#6fff91,#27ffd8,#00e2ff,#00a0ff,#0063ff,#002bff,#0000ff)"></i><i style="background:linear-gradient(#0000ff,#005dff,#00baff,#16ffe9,#71ff8f,#c8ff37,#ffe400,#ff9500,#ff7200,#ff5c00,#ff5100,#ff5000,#ff5900,#ff6b00,#ff8700,#ffbd00,#f7ff08,#b3ff4d,#6bff95,#24ffdc,#00e0ff,#009fff,#0062ff,#002bff,#0000ff)"></i><i style="background:linear-gradient(#0000ff,#005dff,#00b8ff,#13ffec,#6dff93,#c2ff3d,#ffec00,#ffa000,#ff7c00,#ff6600,#ff5a00,#ff5900,#ff6300,#ff7500,#ff9200,#ffc800,#f0ff0f,#adff52,#66ff99,#21ffde,#00ddff,#009dff,#0061ff,#002aff,#0000ff)"></i><i style="background:linear-gradient(#0000ff,#005cff,#00b7ff,#11ffee,#69ff97,#bdff42,#fff400,#ffaa00,#ff8600,#ff6f00,#ff6300,#ff6200,#ff6c00,#ff7f00,#ff9c00,#ffd100,#e9ff16,#a8ff58,#63ff9d,#1effe1,#00dbff,#009cff,#0060ff,#002aff,#0000ff)"></i><i style="background:linear-gradient(#0000ff,#005bff,#00b5ff,#0efff1,#65ff9a,#b8ff47,#fffc00,#ffb400,#ff8f00,#ff7800,#ff6c00,#ff6b00,#ff7500,#ff8800,#ffa600,#ffda00,#e3ff1d,#a3ff5d,#5fffa1,#1bffe4,#00d9ff,#009bff,#005fff,#002aff,#0000ff)"></i><i style="background:linear-gradient(#0000ff,#005bff,#00b4ff,#0cfff3,#62ff9e,#b3ff4d,#fbff04,#ffbd00,#ff9900,#ff8100,#ff7400,#ff7300,#ff7d00,#ff9200,#ffaf00,#ffe300,#dcff23,#9eff62,#5bffa5,#18ffe7,#00d7ff,#0099ff,#005fff,#0029ff,#0000ff)"></i><i style="background:linear-gradient(#0000ff,#005aff,#00b3ff,#0afff5,#5effa1,#aeff52,#f4ff0b,#ffc700,#ffa200,#ff8a00,#ff7d00,#ff7c00,#ff8600,#ff9b00,#ffb900,#ffec00,#d6ff29,#99ff66,#57ffa8,#16ffe9,#00d5ff,#0098ff,#005eff,#0029ff,#0000ff)"></i><i style="background:linear-gradient(#0000ff,#0059ff,#00b1ff,#07fff8,#5bffa5,#a9ff57,#edff12,#ffd000,#ffab00,#ff9200,#ff8600,#ff8500,#ff8f00,#ffa400,#ffc200,#fff400,#d0ff2f,#95ff6b,#54ffac,#13ffec,#00d3ff,#0097ff,#005dff,#0029ff,#0000ff)"></i><i style="background:linear-gradient(#0000ff,#0058ff,#00b0ff,#05fffa,#57ffa9,#a4ff5c,#e6ff19,#ffd900,#ffb400,#ff9b00,#ff8f00,#ff8e00,#ff9800,#ffad00,#ffcc00,#fffc00,#cbff35,#90ff70,#50ffb0,#10ffef,#00d1ff,#0095ff,#005cff,#0028ff,#0000ff)"></i><i style="background:linear-gradient(#0000ff,#0058ff,#00aeff,#02fffd,#53ffac,#9fff61,#e0ff20,#ffe300,#ffbe00,#ffa500,#ff9800,#ff9700,#ffa100,#ffb700,#ffd500,#faff05,#c4ff3b,#8bff75,#4cffb3,#0dfff2,#00cfff,#0094ff,#005bff,#0028ff,#0000ff)"></i><i style="background:linear-gradient(#0000ff,#0057ff,#00adff,#00ffff,#50ffb0,#9aff66,#d9ff26,#ffec00,#ffc700,#ffae00,#ffa100,#ffa000,#ffab00,#ffc000,#ffdf00,#f2ff0e,#beff41,#86ff7a,#48ffb7,#0bfff5,#00cdff,#0092ff,#005aff,#0028ff,#0000ff)"></i><i style="background:linear-gradient(#0000ff,#0056ff,#00abff,#00fcff,#4cffb4,#95ff6b,#d2ff2d,#fff500,#ffd100,#ffb700,#ffaa00,#ffa900,#ffb400,#ffca00,#ffe900,#eaff16,#b8ff48,#81ff7f,#44ffbb,#08fff7,#00cbff,#0091ff,#005aff,#0027ff,#0000ff)"></i><i style="background:linear-gradient(#0000ff,#0055ff,#00a9ff,#00faff,#48ffb8,#8fff71,#ccff34,#fffe00,#ffda00,#ffc100,#ffb400,#ffb300,#ffbe00,#ffd400,#fff200,#e2ff1e,#b2ff4e,#7bff85,#40ffbf,#05fffa,#00c9ff,#008fff,#0059ff,#0027ff,#0000ff)"></i><i style="background:linear-gradient(#0000ff,#0055ff,#00a7ff,#00f7ff,#44ffbc,#89ff77,#c5ff3b,#f7ff09,#ffe400,#ffcb00,#ffbe00,#ffbd00,#ffc800,#ffde00,#fffc00,#daff25,#abff55,#76ff8a,#3cffc3,#01fffe,#00c7ff,#008eff,#0058ff,#0026ff,#0000ff)"></i><i style="background:linear-gradient(#0000ff,#0054ff,#00a6ff,#00f4ff,#3fffc0,#84ff7c,#beff42,#eeff12,#ffee00,#ffd500,#ffc800,#ffc700,#ffd200,#ffe800,#f9ff06,#d2ff2d,#a4ff5b,#70ff90,#38ffc8,#00fdff,#00c4ff,#008cff,#0057ff,#0026ff,#0000ff)"></i><i style="background:linear-gradient(#0000ff,#0053ff,#00a4ff,#00f1ff,#3bffc4,#7eff82,#b7ff49,#e5ff1a,#fff800,#ffdf00,#ffd200,#ffd200,#ffdd00,#fff200,#efff10,#caff35,#9dff62,#6bff95,#33ffcc,#00faff,#00c2ff,#008aff,#0056ff,#0025ff,#0000ff)"></i><i style="background:linear-gradient(#0000ff,#0052ff,#00a2ff,#00eeff,#37ffc9,#78ff88,#afff50,#dcff23,#fdff02,#ffe900,#ffdd00,#ffdc00,#ffe700,#fffc00,#e6ff19,#c2ff3d,#97ff69,#65ff9b,#2fffd0,#00f7ff,#00bfff,#0089ff,#0055ff,#0025ff,#0000ff)"></i><i style="background:linear-gradient(#0000ff,#0051ff,#00a0ff,#00ebff,#32ffcd,#72ff8e,#a8ff58,#d4ff2b,#f3ff0c,#fff300,#ffe700,#ffe600,#fff100,#f9ff06,#ddff22,#baff45,#90ff70,#5fffa1,#2affd5,#00f3ff,#00bdff,#0087ff,#0054ff,#0025ff,#0000ff)"></i><i style="background:linear-gradient(#0000ff,#0050ff,#009eff,#00e8ff,#2effd2,#6cff94,#a1ff5f,#cbff34,#eaff15,#fffd00,#fff100,#fff000,#fffb00,#efff10,#d5ff2b,#b2ff4d,#89ff77,#59ffa6,#26ffd9,#00f0ff,#00baff,#0085ff,#0053ff,#0024ff,#0000ff)"></i><i style="background:linear-gradient(#0000ff,#004fff,#009cff,#00e5ff,#29ffd6,#66ff9a,#99ff67,#c3ff3d,#e1ff1e,#f7ff08,#fffb00,#fffa00,#f9ff06,#e6ff19,#ccff33,#aaff55,#82ff7e,#53ffac,#21ffde,#00ecff,#00b8ff,#0083ff,#0051ff,#0024ff,#0000ff)"></i><i style="background:linear-gradient(#0000ff,#004eff,#009aff,#00e1ff,#24ffdb,#5fffa0,#92ff6e,#baff45,#d9ff27,#eeff11,#f9ff06,#faff05,#f0ff0f,#ddff22,#c3ff3c,#a2ff5e,#7aff86,#4dffb2,#1dffe3,#00e9ff,#00b5ff,#0082ff,#0050ff,#0023ff,#0000ff)"></i><i style="background:linear-gradient(#0000ff,#004dff,#0098ff,#00deff,#20ffe0,#59ffa7,#8aff76,#b2ff4e,#d0ff2f,#e5ff1a,#f0ff0f,#f0ff0f,#e7ff18,#d5ff2b,#bbff45,#9aff66,#73ff8d,#47ffb8,#18ffe7,#00e5ff,#00b2ff,#0080ff,#004fff,#0023ff,#0000ff)"></i><i style="background:linear-gradient(#0000ff,#004cff,#0095ff,#00daff,#1bffe4,#53ffac,#84ff7c,#abff55,#c8ff37,#dcff23,#e7ff18,#e7ff18,#deff21,#cdff33,#b3ff4c,#93ff6d,#6dff93,#42ffbe,#13ffec,#00e1ff,#00afff,#007dff,#004eff,#0022ff,#0000ff)"></i><i style="background:linear-gradient(#0000ff,#004aff,#0093ff,#00d7ff,#16ffe9,#4dffb2,#7dff83,#a3ff5c,#c1ff3f,#d4ff2b,#deff21,#deff21,#d6ff2a,#c5ff3b,#acff54,#8cff74,#66ff99,#3cffc3,#0efff1,#00ddff,#00acff,#007bff,#004cff,#0021ff,#0000ff)"></i><i style="background:linear-gradient(#0000ff,#0049ff,#0090ff,#00d3ff,#11ffee,#47ffb8,#76ff8a,#9cff64,#b8ff47,#ccff34,#d5ff2a,#d6ff2a,#cdff32,#bcff43,#a4ff5c,#85ff7b,#60ffa0,#36ffc9,#09fff6,#00d9ff,#00a9ff,#0079ff,#004bff,#0021ff,#0000ff)"></i><i style="background:linear-gradient(#0000ff,#0048ff,#008dff,#00cfff,#0cfff3,#41ffbe,#6fff91,#94ff6c,#b0ff50,#c3ff3d,#ccff33,#cdff33,#c4ff3b,#b4ff4c,#9cff64,#7dff83,#59ffa7,#30ffcf,#04fffb,#00d4ff,#00a5ff,#0076ff,#0049ff,#0020ff,#0000ff)"></i><i style="background:linear-gradient(#0000ff,#0046ff,#008aff,#00caff,#06fff9,#3affc5,#67ff99,#8cff74,#a7ff59,#b9ff46,#c3ff3d,#c3ff3d,#bbff45,#abff55,#93ff6d,#75ff8b,#52ffae,#2affd6,#00fdff,#00d0ff,#00a2ff,#0074ff,#0048ff,#001fff,#0000ff)"></i><i style="background:linear-gradient(#0000ff,#0045ff,#0087ff,#00c6ff,#00ffff,#33ffcc,#5fffa1,#83ff7d,#9eff62,#afff50,#b8ff47,#b9ff47,#b1ff4f,#a1ff5f,#8aff76,#6dff93,#4affb6,#23ffdd,#00f7ff,#00cbff,#009eff,#0071ff,#0046ff,#001fff,#0000ff)"></i><i style="background:linear-gradient(#0000ff,#0043ff,#0084ff,#00c1ff,#00f9ff,#2cffd4,#56ffa9,#79ff87,#93ff6d,#a5ff5b,#aeff52,#aeff52,#a6ff5a,#96ff69,#80ff80,#63ff9c,#41ffbe,#1bffe4,#00f1ff,#00c6ff,#009aff,#006eff,#0044ff,#001eff,#0000ff)"></i><i style="background:linear-gradient(#0000ff,#0041ff,#0080ff,#00bcff,#00f2ff,#24ffdc,#4dffb3,#6fff91,#88ff78,#99ff66,#a2ff5e,#a2ff5e,#9bff65,#8bff74,#76ff8a,#5affa6,#39ffc7,#14ffec,#00eaff,#00c0ff,#0096ff,#006bff,#0042ff,#001dff,#0000ff)"></i><i style="background:linear-gradient(#0000ff,#003fff,#007cff,#00b6ff,#00ebff,#1bffe4,#43ffbc,#64ff9c,#7dff83,#8dff72,#96ff6a,#96ff6a,#8fff71,#80ff80,#6bff95,#50ffb0,#2fffd0,#0bfff4,#00e4ff,#00bbff,#0091ff,#0068ff,#0040ff,#001cff,#0000ff)"></i><i style="background:linear-gradient(#0000ff,#003dff,#0078ff,#00b0ff,#00e4ff,#12ffed,#39ffc6,#59ffa7,#71ff8f,#81ff7f,#89ff77,#89ff77,#82ff7e,#74ff8c,#5fffa0,#45ffbb,#26ffd9,#03fffc,#00dcff,#00b5ff,#008dff,#0065ff,#003eff,#001bff,#0000ff)"></i><i style="background:linear-gradient(#0000ff,#003bff,#0075ff,#00abff,#00dcff,#09fff6,#2fffd1,#4effb2,#65ff9b,#74ff8c,#7cff84,#7cff84,#75ff8a,#68ff98,#54ffac,#3affc5,#1cffe3,#00faff,#00d5ff,#00afff,#0088ff,#0061ff,#003cff,#001aff,#0000ff)"></i><i style="background:linear-gradient(#0000ff,#0039ff,#0070ff,#00a4ff,#00d4ff,#00ffff,#24ffdb,#42ffbe,#58ffa8,#67ff99,#6fff91,#6fff91,#68ff98,#5bffa5,#47ffb8,#2fffd0,#12ffed,#00f1ff,#00cdff,#00a9ff,#0083ff,#005eff,#003aff,#0019ff,#0000ff)"></i><i style="background:linear-gradient(#0000ff,#0037ff,#006cff,#009eff,#00ccff,#00f5ff,#19ffe7,#35ffca,#4bffb5,#59ffa7,#60ff9f,#61ff9f,#5affa6,#4dffb2,#3bffc5,#23ffdc,#07fff8,#00e7ff,#00c5ff,#00a2ff,#007eff,#005aff,#0038ff,#0018ff,#0000ff)"></i><i style="background:linear-gradient(#0000ff,#0035ff,#0067ff,#0097ff,#00c3ff,#00eaff,#0dfff2,#28ffd7,#3dffc3,#4bffb5,#52ffae,#52ffae,#4cffb4,#3fffc0,#2effd2,#17ffe8,#00fbff,#00deff,#00bdff,#009bff,#0079ff,#0056ff,#0036ff,#0017ff,#0000ff)"></i><i style="background:linear-gradient(#0000ff,#0032ff,#0063ff,#0091ff,#00bbff,#00e0ff,#01fffe,#1bffe4,#2fffd1,#3cffc4,#43ffbd,#43ffbd,#3dffc3,#31ffce,#20ffdf,#0bfff4,#00f0ff,#00d4ff,#00b5ff,#0094ff,#0073ff,#0053ff,#0033ff,#0016ff,#0000ff)"></i><i style="background:linear-gradient(#0000ff,#0030ff,#005eff,#008aff,#00b2ff,#00d5ff,#00f4ff,#0efff1,#20ffdf,#2dffd2,#33ffcc,#34ffcc,#2effd1,#23ffdd,#13ffed,#00fdff,#00e5ff,#00caff,#00acff,#008dff,#006eff,#004fff,#0031ff,#0015ff,#0000ff)"></i><i style="background:linear-gradient(#0000ff,#002dff,#0059ff,#0083ff,#00a9ff,#00cbff,#00e8ff,#00ffff,#12ffed,#1effe1,#24ffdb,#24ffdb,#1fffe0,#14ffeb,#05fffa,#00f1ff,#00daff,#00c0ff,#00a4ff,#0086ff,#0068ff,#004bff,#002eff,#0014ff,#0000ff)"></i><i style="background:linear-gradient(#0000ff,#002bff,#0055ff,#007cff,#00a0ff,#00c1ff,#00dcff,#00f2ff,#04fffb,#10ffef,#15ffea,#16ffea,#10ffef,#06fff9,#00f7ff,#00e4ff,#00ceff,#00b6ff,#009bff,#0080ff,#0063ff,#0047ff,#002cff,#0013ff,#0000ff)"></i><i style="background:linear-gradient(#0000ff,#0029ff,#0050ff,#0076ff,#0098ff,#00b6ff,#00d0ff,#00e6ff,#00f6ff,#01fffe,#07fff8,#07fff8,#02fffd,#00f8ff,#00eaff,#00d8ff,#00c4ff,#00acff,#0093ff,#0079ff,#005eff,#0043ff,#002aff,#0012ff,#0000ff)"></i><i style="background:linear-gradient(#0000ff,#0027ff,#004cff,#0070ff,#0090ff,#00adff,#00c5ff,#00d9ff,#00e9ff,#00f3ff,#00f8ff,#00f8ff,#00f3ff,#00eaff,#00ddff,#00cdff,#00b9ff,#00a3ff,#008bff,#0072ff,#0059ff,#0040ff,#0027ff,#0011ff,#0000ff)"></i><i style="background:linear-gradient(#0000ff,#0025ff,#0048ff,#0069ff,#0088ff,#00a3ff,#00baff,#00cdff,#00dcff,#00e5ff,#00eaff,#00eaff,#00e6ff,#00ddff,#00d1ff,#00c1ff,#00afff,#009aff,#0084ff,#006cff,#0054ff,#003cff,#0025ff,#0010ff,#0000ff)"></i><i style="background:linear-gradient(#0000ff,#0022ff,#0044ff,#0063ff,#0080ff,#0099ff,#00afff,#00c1ff,#00cfff,#00d8ff,#00dcff,#00dcff,#00d8ff,#00d0ff,#00c5ff,#00b6ff,#00a5ff,#0091ff,#007cff,#0066ff,#004fff,#0039ff,#0023ff,#000fff,#0000ff)"></i><i style="background:linear-gradient(#0000ff,#0020ff,#003fff,#005dff,#0078ff,#0090ff,#00a4ff,#00b5ff,#00c2ff,#00caff,#00ceff,#00cfff,#00cbff,#00c3ff,#00b8ff,#00abff,#009aff,#0088ff,#0074ff,#005fff,#004aff,#0035ff,#0021ff,#000eff,#0000ff)"></i><i style="background:linear-gradient(#0000ff,#001eff,#003bff,#0057ff,#0070ff,#0086ff,#0099ff,#00a9ff,#00b5ff,#00bdff,#00c1ff,#00c1ff,#00bdff,#00b6ff,#00acff,#009fff,#0090ff,#007fff,#006cff,#0059ff,#0045ff,#0032ff,#001fff,#000dff,#0000ff)"></i><i style="background:linear-gradient(#0000ff,#001cff,#0037ff,#0051ff,#0068ff,#007dff,#008fff,#009dff,#00a8ff,#00b0ff,#00b3ff,#00b3ff,#00b0ff,#00aaff,#00a0ff,#0094ff,#0086ff,#0076ff,#0065ff,#0053ff,#0040ff,#002eff,#001dff,#000cff,#0000ff)"></i><i style="background:linear-gradient(#0000ff,#001aff,#0033ff,#004bff,#0061ff,#0074ff,#0084ff,#0092ff,#009cff,#00a3ff,#00a6ff,#00a6ff,#00a3ff,#009dff,#0095ff,#0089ff,#007cff,#006dff,#005eff,#004dff,#003cff,#002bff,#001aff,#000cff,#0000ff)"></i><i style="background:linear-gradient(#0000ff,#0018ff,#002fff,#0045ff,#0059ff,#006bff,#007aff,#0087ff,#0090ff,#0097ff,#009aff,#009aff,#0097ff,#0091ff,#0089ff,#007fff,#0073ff,#0065ff,#0056ff,#0047ff,#0037ff,#0027ff,#0018ff,#000bff,#0000ff)"></i><i style="background:linear-gradient(#0000ff,#0016ff,#002cff,#0040ff,#0052ff,#0063ff,#0071ff,#007cff,#0085ff,#008bff,#008eff,#008eff,#008bff,#0086ff,#007fff,#0075ff,#006aff,#005dff,#0050ff,#0041ff,#0033ff,#0024ff,#0017ff,#000aff,#0000ff)"></i><i style="background:linear-gradient(#0000ff,#0014ff,#0028ff,#003bff,#004cff,#005bff,#0068ff,#0072ff,#007aff,#0080ff,#0082ff,#0082ff,#0080ff,#007bff,#0074ff,#006cff,#0061ff,#0056ff,#0049ff,#003cff,#002fff,#0021ff,#0015ff,#0009ff,#0000ff)"></i><i style="background:linear-gradient(#0000ff,#0013ff,#0025ff,#0036ff,#0045ff,#0053ff,#005fff,#0069ff,#0070ff,#0075ff,#0077ff,#0077ff,#0075ff,#0071ff,#006bff,#0063ff,#0059ff,#004fff,#0043ff,#0037ff,#002bff,#001fff,#0013ff,#0008ff,#0000ff)"></i><i style="background:linear-gradient(#0000ff,#0011ff,#0021ff,#0031ff,#003fff,#004cff,#0056ff,#005fff,#0066ff,#006aff,#006dff,#006dff,#006bff,#0067ff,#0061ff,#005aff,#0051ff,#0048ff,#003dff,#0032ff,#0027ff,#001cff,#0011ff,#0008ff,#0000ff)"></i><i style="background:linear-gradient(#0000ff,#000fff,#001eff,#002cff,#0039ff,#0044ff,#004eff,#0056ff,#005cff,#0060ff,#0062ff,#0062ff,#0060ff,#005dff,#0058ff,#0051ff,#0049ff,#0041ff,#0037ff,#002dff,#0023ff,#0019ff,#0010ff,#0007ff,#0000ff)"></i><i style="background:linear-gradient(#0000ff,#000eff,#001bff,#0027ff,#0033ff,#003dff,#0046ff,#004dff,#0052ff,#0056ff,#0058ff,#0058ff,#0056ff,#0053ff,#004eff,#0048ff,#0042ff,#003aff,#0031ff,#0028ff,#001fff,#0017ff,#000eff,#0006ff,#0000ff)"></i><i style="background:linear-gradient(#0000ff,#000cff,#0018ff,#0023ff,#002dff,#0036ff,#003eff,#0044ff,#0049ff,#004cff,#004eff,#004eff,#004cff,#0049ff,#0045ff,#0040ff,#003aff,#0033ff,#002cff,#0024ff,#001cff,#0014ff,#000cff,#0005ff,#0000ff)"></i><i style="background:linear-gradient(#0000ff,#000bff,#0015ff,#001fff,#0028ff,#002fff,#0036ff,#003cff,#0040ff,#0043ff,#0044ff,#0044ff,#0043ff,#0040ff,#003dff,#0038ff,#0033ff,#002dff,#0026ff,#001fff,#0018ff,#0011ff,#000bff,#0005ff,#0000ff)"></i><i style="background:linear-gradient(#0000ff,#0009ff,#0012ff,#001bff,#0022ff,#0029ff,#002fff,#0034ff,#0037ff,#003aff,#003bff,#003bff,#003aff,#0038ff,#0035ff,#0031ff,#002cff,#0027ff,#0021ff,#001bff,#0015ff,#000fff,#0009ff,#0004ff,#0000ff)"></i><i style="background:linear-gradient(#0000ff,#0008ff,#000fff,#0017ff,#001dff,#0023ff,#0028ff,#002cff,#002fff,#0031ff,#0032ff,#0032ff,#0031ff,#0030ff,#002dff,#002aff,#0026ff,#0021ff,#001cff,#0017ff,#0012ff,#000dff,#0008ff,#0003ff,#0000ff)"></i><i style="background:linear-gradient(#0000ff,#0007ff,#000dff,#0013ff,#0019ff,#001eff,#0022ff,#0025ff,#0028ff,#0029ff,#002aff,#002aff,#002aff,#0028ff,#0026ff,#0023ff,#0020ff,#001cff,#0018ff,#0014ff,#000fff,#000bff,#0007ff,#0003ff,#0000ff)"></i><i style="background:linear-gradient(#0000ff,#0005ff,#000bff,#0010ff,#0014ff,#0018ff,#001cff,#001fff,#0021ff,#0022ff,#0023ff,#0023ff,#0022ff,#0021ff,#001fff,#001dff,#001aff,#0017ff,#0014ff,#0010ff,#000dff,#0009ff,#0006ff,#0002ff,#0000ff)"></i><i style="background:linear-gradient(#0000ff,#0004ff,#0009ff,#000dff,#0011ff,#0014ff,#0017ff,#0019ff,#001bff,#001cff,#001dff,#001dff,#001cff,#001bff,#001aff,#0018ff,#0015ff,#0013ff,#0010ff,#000dff,#000aff,#0007ff,#0005ff,#0002ff,#0000ff)"></i><i style="background:linear-gradient(#0000ff,#0004ff,#0007ff,#000aff,#000dff,#0010ff,#0012ff,#0014ff,#0015ff,#0016ff,#0017ff,#0017ff,#0016ff,#0015ff,#0014ff,#0013ff,#0011ff,#000fff,#000dff,#000aff,#0008ff,#0006ff,#0004ff,#0002ff,#0000ff)"></i><i style="background:linear-gradient(#0000ff,#0003ff,#0005ff,#0008ff,#000aff,#000cff,#000dff,#000fff,#0010ff,#0011ff,#0011ff,#0011ff,#0011ff,#0010ff,#000fff,#000eff,#000dff,#000bff,#000aff,#0008ff,#0006ff,#0004ff,#0003ff,#0001ff,#0000ff)"></i><i style="background:linear-gradient(#0000ff,#0002ff,#0004ff,#0005ff,#0007ff,#0008ff,#0009ff,#000aff,#000bff,#000cff,#000cff,#000cff,#000cff,#000bff,#000bff,#000aff,#0009ff,#0008ff,#0007ff,#0005ff,#0004ff,#0003ff,#0002ff,#0001ff,#0000ff)"></i><i style="background:linear-gradient(#0000ff,#0001ff,#0002ff,#0003ff,#0004ff,#0005ff,#0006ff,#0006ff,#0007ff,#0007ff,#0007ff,#0007ff,#0007ff,#0007ff,#0006ff,#0006ff,#0005ff,#0005ff,#0004ff,#0003ff,#0003ff,#0002ff,#0001ff,#0000ff,#0000ff)"></i><i style="background:linear-gradient(#0000ff,#0000ff,#0001ff,#0001ff,#0002ff,#0002ff,#0002ff,#0003ff,#0003ff,#0003ff,#0003ff,#0003ff,#0003ff,#0003ff,#0003ff,#0002ff,#0002ff,#0002ff,#0002ff,#0001ff,#0001ff,#0001ff,#0000ff,#0000ff,#0000ff)"></i><i style="flex-basis:0.3px;background:linear-gradient(#0000ff,#0000ff,#0000ff,#0000ff,#0000ff,#0000ff,#0000ff,#0000ff,#0000ff,#0001ff,#0001ff,#0001ff,#0001ff,#0000ff,#0000ff,#0000ff,#0000ff,#0000ff,#0000ff,#0000ff,#0000ff,#0000ff,#0000ff,#0000ff,#0000ff)"></i></div>
<div class="hm" style="left:36px;top:130px;width:129.7px;height:63.2px"><i style="background:linear-gradient(#0000ff,#005bff,#00b8ff,#17ffe8,#76ff8a,#dcff23,#ffae00,#ff4400,#fe0000,#f80000,#f30000,#f10000,#f00000,#f10000,#f50000,#f90000,#ff0e00,#ff5f00,#ffcf00,#c3ff3c,#61ff9e,#06fff9,#00acff,#0054ff,#0000ff)"></i><i style="background:linear-gradient(#0000ff,#005cff,#00b8ff,#17ffe8,#76ff89,#ddff23,#ffad00,#ff4300,#fe0000,#f80000,#f30000,#f10000,#f00000,#f10000,#f50000,#fa0000,#ff0e00,#ff6000,#ffd000,#c2ff3d,#61ff9f,#06fff9,#00abff,#0054ff,#0000ff)"></i><i style="background:linear-gradient(#0000ff,#005cff,#00b8ff,#17ffe8,#77ff89,#ddff22,#ffad00,#ff4300,#fe0000,#f80000,#f30000,#f10000,#f00000,#f10000,#f50000,#fa0000,#ff0f00,#ff6000,#ffd100,#c2ff3e,#60ffa0,#05fffa,#00abff,#0053ff,#0000ff)"></i><i style="background:linear-gradient(#0000ff,#005cff,#00b9ff,#18ffe8,#77ff89,#ddff22,#ffac00,#ff4300,#fe0000,#f80000,#f30000,#f10000,#f00000,#f10000,#f50000,#fa0000,#ff0f00,#ff6100,#ffd200,#c1ff3f,#5fffa0,#05fffa,#00aaff,#0053ff,#0000ff)"></i><i style="background:linear-gradient(#0000ff,#005cff,#00b9ff,#18ffe8,#77ff89,#deff22,#ffac00,#ff4200,#fe0000,#f80000,#f30000,#f10000,#f00000,#f20000,#f50000,#fa0000,#ff1000,#ff6200,#ffd300,#c0ff40,#5fffa1,#04fffb,#00aaff,#0053ff,#0000ff)"></i><i style="background:linear-gradient(#0000ff,#005cff,#00b9ff,#18ffe7,#77ff88,#deff21,#ffac00,#ff4200,#fe0000,#f80000,#f30000,#f10000,#f00000,#f20000,#f50000,#fa0000,#ff1000,#ff6300,#ffd400,#bfff40,#5effa2,#03fffc,#00aaff,#0053ff,#0000ff)"></i><i style="background:linear-gradient(#0000ff,#005cff,#00b9ff,#18ffe7,#78ff88,#deff21,#ffab00,#ff4200,#fe0000,#f80000,#f30000,#f10000,#f00000,#f20000,#f50000,#fa0000,#ff1100,#ff6400,#ffd500,#beff41,#5dffa2,#03fffc,#00a9ff,#0052ff,#0000ff)"></i><i style="background:linear-gradient(#0000ff,#005cff,#00b9ff,#18ffe7,#78ff88,#deff21,#ffab00,#ff4200,#fe0000,#f80000,#f30000,#f10000,#f00000,#f20000,#f50000,#fa0000,#ff1200,#ff6500,#ffd600,#beff42,#5dffa3,#02fffd,#00a9ff,#0052ff,#0000ff)"></i><i style="background:linear-gradient(#0000ff,#005cff,#00b9ff,#18ffe7,#78ff88,#deff21,#ffab00,#ff4200,#fe0000,#f80000,#f40000,#f10000,#f10000,#f20000,#f50000,#fa0000,#ff1300,#ff6600,#ffd700,#bdff43,#5cffa4,#02fffd,#00a8ff,#0052ff,#0000ff)"></i><i style="background:linear-gradient(#0000ff,#005cff,#00b9ff,#18ffe7,#78ff88,#dfff21,#ffaa00,#ff4100,#fe0000,#f80000,#f40000,#f10000,#f10000,#f20000,#f50000,#fa0000,#ff1300,#ff6700,#ffd800,#bcff44,#5bffa4,#01fffe,#00a8ff,#0052ff,#0000ff)"></i><i style="background:linear-gradient(#0000ff,#005cff,#00b9ff,#18ffe7,#78ff88,#dfff20,#ffaa00,#ff4100,#fe0000,#f80000,#f40000,#f10000,#f10000,#f20000,#f60000,#fb0000,#ff1400,#ff6800,#ffd900,#bbff45,#5bffa5,#01fffe,#00a7ff,#0051ff,#0000ff)"></i><i style="background:linear-gradient(#0000ff,#005cff,#00b9ff,#19ffe7,#78ff88,#dfff20,#ffaa00,#ff4100,#fe0000,#f80000,#f40000,#f10000,#f10000,#f20000,#f60000,#fb0000,#ff1500,#ff6900,#ffda00,#baff46,#5affa6,#00ffff,#00a7ff,#0051ff,#0000ff)"></i><i style="background:linear-gradient(#0000ff,#005cff,#00b9ff,#19ffe7,#78ff87,#dfff20,#ffaa00,#ff4100,#fe0000,#f80000,#f40000,#f20000,#f10000,#f30000,#f60000,#fb0000,#ff1600,#ff6a00,#ffdc00,#b9ff46,#59ffa7,#00feff,#00a6ff,#0051ff,#0000ff)"></i><i style="background:linear-gradient(#0000ff,#005cff,#00b9ff,#19ffe7,#79ff87,#dfff20,#ffaa00,#ff4100,#ff0000,#f80000,#f40000,#f20000,#f10000,#f30000,#f60000,#fb0000,#ff1700,#ff6c00,#ffdd00,#b8ff47,#58ffa7,#00feff,#00a6ff,#0051ff,#0000ff)"></i><i style="background:linear-gradient(#0000ff,#005cff,#00b9ff,#19ffe6,#79ff87,#dfff20,#ffaa00,#ff4100,#ff0000,#f80000,#f40000,#f20000,#f10000,#f30000,#f60000,#fb0000,#ff1800,#ff6d00,#ffde00,#b7ff48,#58ffa8,#00fdff,#00a5ff,#0050ff,#0000ff)"></i><i style="background:linear-gradient(#0000ff,#005cff,#00b9ff,#19ffe6,#79ff87,#dfff20,#ffaa00,#ff4100,#ff0000,#f90000,#f40000,#f20000,#f10000,#f30000,#f60000,#fc0000,#ff1900,#ff6e00,#ffdf00,#b6ff49,#57ffa9,#00fcff,#00a5ff,#0050ff,#0000ff)"></i><i style="background:linear-gradient(#0000ff,#005cff,#00baff,#19ffe6,#79ff87,#dfff20,#ffaa00,#ff4100,#ff0000,#f90000,#f50000,#f20000,#f20000,#f30000,#f70000,#fc0000,#ff1a00,#ff6f00,#ffe100,#b5ff4a,#56ffaa,#00fcff,#00a4ff,#0050ff,#0000ff)"></i><i style="background:linear-gradient(#0000ff,#005cff,#00baff,#19ffe6,#79ff87,#e0ff20,#ffaa00,#ff4100,#ff0000,#f90000,#f50000,#f20000,#f20000,#f30000,#f70000,#fc0000,#ff1b00,#ff7100,#ffe200,#b4ff4b,#55ffaa,#00fbff,#00a4ff,#004fff,#0000ff)"></i><i style="background:linear-gradient(#0000ff,#005cff,#00baff,#19ffe6,#79ff87,#e0ff20,#ffaa00,#ff4100,#ff0000,#f90000,#f50000,#f20000,#f20000,#f40000,#f70000,#fc0000,#ff1c00,#ff7200,#ffe300,#b3ff4c,#54ffab,#00faff,#00a4ff,#004fff,#0000ff)"></i><i style="background:linear-gradient(#0000ff,#005cff,#00baff,#19ffe6,#79ff87,#e0ff20,#ffaa00,#ff4200,#ff0100,#f90000,#f50000,#f30000,#f20000,#f40000,#f70000,#fc0000,#ff1d00,#ff7300,#ffe500,#b2ff4d,#54ffac,#00faff,#00a3ff,#004fff,#0000ff)"></i><i style="background:linear-gradient(#0000ff,#005cff,#00baff,#19ffe6,#79ff87,#e0ff20,#ffaa00,#ff4200,#ff0100,#f90000,#f50000,#f30000,#f20000,#f40000,#f70000,#fd0000,#ff1e00,#ff7500,#ffe600,#b1ff4e,#53ffad,#00f9ff,#00a3ff,#004fff,#0000ff)"></i><i style="background:linear-gradient(#0000ff,#005cff,#00baff,#19ffe6,#79ff87,#e0ff20,#ffaa00,#ff4200,#ff0200,#fa0000,#f50000,#f30000,#f30000,#f40000,#f80000,#fd0000,#ff1f00,#ff7600,#ffe700,#b0ff4f,#52ffae,#00f8ff,#00a2ff,#004eff,#0000ff)"></i><i style="background:linear-gradient(#0000ff,#005cff,#00baff,#19ffe6,#79ff87,#e0ff20,#ffaa00,#ff4200,#ff0200,#fa0000,#f60000,#f30000,#f30000,#f40000,#f80000,#fd0000,#ff2000,#ff7800,#ffe900,#afff50,#51ffaf,#00f8ff,#00a2ff,#004eff,#0000ff)"></i><i style="background:linear-gradient(#0000ff,#005cff,#00baff,#19ffe6,#79ff87,#e0ff20,#ffaa00,#ff4200,#ff0200,#fa0000,#f60000,#f30000,#f30000,#f50000,#f80000,#fd0000,#ff2100,#ff7900,#ffea00,#aeff51,#50ffaf,#00f7ff,#00a1ff,#004eff,#0000ff)"></i><i style="background:linear-gradient(#0000ff,#005cff,#00baff,#19ffe6,#79ff87,#dfff20,#ffaa00,#ff4200,#ff0300,#fa0000,#f60000,#f40000,#f30000,#f50000,#f80000,#fe0000,#ff2200,#ff7a00,#ffeb00,#adff52,#4fffb0,#00f6ff,#00a1ff,#004dff,#0000ff)"></i><i style="background:linear-gradient(#0000ff,#005cff,#00baff,#19ffe6,#79ff87,#dfff20,#ffab00,#ff4300,#ff0300,#fa0000,#f60000,#f40000,#f40000,#f50000,#f90000,#fe0000,#ff2300,#ff7c00,#ffed00,#acff53,#4fffb1,#00f6ff,#00a0ff,#004dff,#0000ff)"></i><i style="background:linear-gradient(#0000ff,#005cff,#00baff,#19ffe6,#79ff87,#dfff20,#ffab00,#ff4300,#ff0400,#fa0000,#f60000,#f40000,#f40000,#f50000,#f90000,#fe0000,#ff2400,#ff7d00,#ffee00,#abff55,#4effb2,#00f5ff,#00a0ff,#004dff,#0000ff)"></i><i style="background:linear-gradient(#0000ff,#005cff,#00baff,#19ffe6,#79ff87,#dfff20,#ffab00,#ff4300,#ff0400,#fb0000,#f70000,#f40000,#f40000,#f60000,#f90000,#fe0000,#ff2600,#ff7f00,#ffef00,#aaff56,#4dffb3,#00f4ff,#009fff,#004dff,#0000ff)"></i><i style="background:linear-gradient(#0000ff,#005cff,#00b9ff,#19ffe7,#79ff87,#dfff20,#ffab00,#ff4300,#ff0500,#fb0000,#f70000,#f40000,#f40000,#f60000,#f90000,#ff0000,#ff2700,#ff8000,#fff100,#a9ff57,#4cffb4,#00f4ff,#009fff,#004cff,#0000ff)"></i><i style="background:linear-gradient(#0000ff,#005cff,#00b9ff,#19ffe7,#79ff87,#dfff20,#ffab00,#ff4400,#ff0600,#fb0000,#f70000,#f50000,#f40000,#f60000,#fa0000,#ff0000,#ff2800,#ff8200,#fff200,#a8ff58,#4bffb4,#00f3ff,#009eff,#004cff,#0000ff)"></i><i style="background:linear-gradient(#0000ff,#005cff,#00b9ff,#19ffe7,#79ff87,#dfff20,#ffab00,#ff4400,#ff0600,#fb0000,#f70000,#f50000,#f50000,#f60000,#fa0000,#ff0100,#ff2900,#ff8300,#fff400,#a7ff59,#4affb5,#00f2ff,#009eff,#004cff,#0000ff)"></i><i style="background:linear-gradient(#0000ff,#005cff,#00b9ff,#19ffe7,#79ff87,#dfff20,#ffac00,#ff4400,#ff0700,#fb0000,#f70000,#f50000,#f50000,#f70000,#fa0000,#ff0100,#ff2b00,#ff8500,#fff500,#a6ff5a,#49ffb6,#00f2ff,#009dff,#004bff,#0000ff)"></i><i style="background:linear-gradient(#0000ff,#005cff,#00b9ff,#19ffe7,#78ff87,#dfff20,#ffac00,#ff4500,#ff0700,#fc0000,#f80000,#f50000,#f50000,#f70000,#fa0000,#ff0200,#ff2c00,#ff8600,#fff600,#a5ff5b,#49ffb7,#00f1ff,#009dff,#004bff,#0000ff)"></i><i style="background:linear-gradient(#0000ff,#005cff,#00b9ff,#18ffe7,#78ff88,#dfff20,#ffac00,#ff4500,#ff0800,#fc0000,#f80000,#f60000,#f50000,#f70000,#fb0000,#ff0300,#ff2d00,#ff8800,#fff800,#a4ff5c,#48ffb8,#00f0ff,#009cff,#004bff,#0000ff)"></i><i style="background:linear-gradient(#0000ff,#005cff,#00b9ff,#18ffe7,#78ff88,#dfff21,#ffac00,#ff4500,#ff0800,#fc0000,#f80000,#f60000,#f60000,#f70000,#fb0000,#ff0400,#ff2e00,#ff8a00,#fff900,#a3ff5d,#47ffb9,#00f0ff,#009cff,#004bff,#0000ff)"></i><i style="background:linear-gradient(#0000ff,#005cff,#00b9ff,#18ffe7,#78ff88,#dfff21,#ffad00,#ff4600,#ff0900,#fc0000,#f80000,#f60000,#f60000,#f80000,#fb0000,#ff0500,#ff3000,#ff8b00,#fffb00,#a2ff5e,#46ffba,#00efff,#009bff,#004aff,#0000ff)"></i><i style="background:linear-gradient(#0000ff,#005cff,#00b9ff,#18ffe7,#78ff88,#deff21,#ffad00,#ff4600,#ff0a00,#fd0000,#f90000,#f60000,#f60000,#f80000,#fc0000,#ff0600,#ff3100,#ff8d00,#fffc00,#a0ff5f,#45ffbb,#00eeff,#009aff,#004aff,#0000ff)"></i><i style="background:linear-gradient(#0000ff,#005cff,#00b9ff,#18ffe7,#78ff88,#deff21,#ffae00,#ff4700,#ff0b00,#fd0000,#f90000,#f70000,#f70000,#f80000,#fc0000,#ff0700,#ff3300,#ff8f00,#fffe00,#9fff60,#44ffbb,#00edff,#009aff,#004aff,#0000ff)"></i><i style="background:linear-gradient(#0000ff,#005cff,#00b9ff,#18ffe7,#78ff88,#deff21,#ffae00,#ff4700,#ff0c00,#fd0000,#f90000,#f70000,#f70000,#f90000,#fc0000,#ff0800,#ff3500,#ff9100,#ffff00,#9eff62,#43ffbc,#00edff,#0099ff,#0049ff,#0000ff)"></i><i style="background:linear-gradient(#0000ff,#005cff,#00b9ff,#18ffe8,#77ff89,#ddff22,#ffaf00,#ff4800,#ff0d00,#fd0000,#fa0000,#f70000,#f70000,#f90000,#fd0000,#ff0900,#ff3600,#ff9200,#fdff02,#9dff63,#42ffbd,#00ecff,#0099ff,#0049ff,#0000ff)"></i><i style="background:linear-gradient(#0000ff,#005cff,#00b9ff,#17ffe8,#77ff89,#ddff22,#ffaf00,#ff4900,#ff0e00,#fe0000,#fa0000,#f80000,#f80000,#fa0000,#fd0000,#ff0b00,#ff3800,#ff9400,#fcff03,#9cff64,#41ffbe,#00ebff,#0098ff,#0049ff,#0000ff)"></i><i style="background:linear-gradient(#0000ff,#005cff,#00b9ff,#17ffe8,#77ff89,#ddff23,#ffb000,#ff4a00,#ff0f00,#fe0000,#fa0000,#f80000,#f80000,#fa0000,#fe0000,#ff0c00,#ff3a00,#ff9600,#faff05,#9aff66,#40ffc0,#00eaff,#0098ff,#0048ff,#0000ff)"></i><i style="background:linear-gradient(#0000ff,#005cff,#00b8ff,#17ffe8,#76ff8a,#dcff23,#ffb100,#ff4a00,#ff1000,#ff0000,#fb0000,#f90000,#f90000,#fa0000,#fe0000,#ff0d00,#ff3c00,#ff9900,#f8ff07,#99ff67,#3fffc1,#00e9ff,#0097ff,#0048ff,#0000ff)"></i><i style="background:linear-gradient(#0000ff,#005cff,#00b8ff,#17ffe9,#76ff8a,#dcff24,#ffb200,#ff4b00,#ff1100,#ff0000,#fb0000,#f90000,#f90000,#fb0000,#ff0000,#ff0f00,#ff3e00,#ff9b00,#f7ff08,#98ff68,#3effc2,#00e8ff,#0096ff,#0048ff,#0000ff)"></i><i style="background:linear-gradient(#0000ff,#005bff,#00b8ff,#16ffe9,#76ff8a,#dbff24,#ffb300,#ff4c00,#ff1200,#ff0100,#fb0000,#f90000,#f90000,#fb0000,#ff0000,#ff1000,#ff4000,#ff9d00,#f5ff0a,#96ff6a,#3dffc3,#00e8ff,#0096ff,#0047ff,#0000ff)"></i><i style="background:linear-gradient(#0000ff,#005bff,#00b8ff,#16ffe9,#75ff8b,#dbff25,#ffb400,#ff4e00,#ff1300,#ff0200,#fc0000,#fa0000,#fa0000,#fc0000,#ff0200,#ff1200,#ff4200,#ff9f00,#f3ff0c,#95ff6b,#3cffc4,#00e7ff,#0095ff,#0047ff,#0000ff)"></i><i style="background:linear-gradient(#0000ff,#005bff,#00b8ff,#16ffea,#75ff8b,#daff25,#ffb500,#ff4f00,#ff1500,#ff0400,#fc0000,#fa0000,#fa0000,#fc0000,#ff0300,#ff1300,#ff4400,#ffa200,#f1ff0e,#93ff6d,#3affc5,#00e6ff,#0095ff,#0047ff,#0000ff)"></i><i style="background:linear-gradient(#0000ff,#005bff,#00b7ff,#15ffea,#74ff8c,#d9ff26,#ffb600,#ff5000,#ff1600,#ff0500,#fd0000,#fb0000,#fb0000,#fd0000,#ff0500,#ff1500,#ff4600,#ffa400,#efff10,#92ff6e,#39ffc6,#00e5ff,#0094ff,#0046ff,#0000ff)"></i><i style="background:linear-gradient(#0000ff,#005bff,#00b7ff,#15ffea,#74ff8c,#d9ff27,#ffb700,#ff5100,#ff1800,#ff0700,#fd0000,#fc0000,#fc0000,#fd0000,#ff0600,#ff1700,#ff4900,#ffa700,#edff12,#90ff70,#38ffc7,#00e4ff,#0093ff,#0046ff,#0000ff)"></i><i style="background:linear-gradient(#0000ff,#005bff,#00b7ff,#14ffeb,#73ff8d,#d8ff27,#ffb800,#ff5300,#ff1900,#ff0800,#fe0000,#fc0000,#fc0000,#fe0000,#ff0800,#ff1800,#ff4b00,#ffa900,#ecff14,#8fff71,#37ffc9,#00e3ff,#0093ff,#0046ff,#0000ff)"></i><i style="background:linear-gradient(#0000ff,#005bff,#00b6ff,#14ffeb,#72ff8d,#d7ff28,#ffba00,#ff5400,#ff1b00,#ff0a00,#ff0000,#fd0000,#fd0000,#ff0000,#ff0a00,#ff1a00,#ff4e00,#ffac00,#eaff16,#8dff73,#35ffca,#00e2ff,#0092ff,#0045ff,#0000ff)"></i><i style="background:linear-gradient(#0000ff,#005bff,#00b6ff,#14ffec,#72ff8e,#d6ff29,#ffbb00,#ff5600,#ff1d00,#ff0c00,#ff0000,#fd0000,#fd0000,#ff0100,#ff0c00,#ff1d00,#ff5100,#ffaf00,#e8ff18,#8cff74,#34ffcb,#00e1ff,#0091ff,#0045ff,#0000ff)"></i><i style="background:linear-gradient(#0000ff,#005aff,#00b6ff,#13ffec,#71ff8f,#d5ff2a,#ffbd00,#ff5800,#ff1f00,#ff0e00,#ff0200,#fe0000,#fe0000,#ff0300,#ff0e00,#ff1f00,#ff5400,#ffb200,#e5ff1a,#8aff76,#33ffcc,#00e0ff,#0091ff,#0045ff,#0000ff)"></i><i style="background:linear-gradient(#0000ff,#005aff,#00b6ff,#13ffec,#71ff8f,#d4ff2b,#ffbf00,#ff5a00,#ff2100,#ff1000,#ff0400,#ff0000,#ff0000,#ff0500,#ff1100,#ff2100,#ff5700,#ffb500,#e3ff1c,#88ff77,#32ffcd,#00dfff,#0090ff,#0044ff,#0000ff)"></i><i style="background:linear-gradient(#0000ff,#005aff,#00b6ff,#12ffed,#70ff90,#d3ff2c,#ffc100,#ff5d00,#ff2300,#ff1200,#ff0700,#ff0100,#ff0100,#ff0700,#ff1300,#ff2400,#ff5b00,#ffb800,#e1ff1e,#87ff79,#31ffcf,#00deff,#008fff,#0044ff,#0000ff)"></i><i style="background:linear-gradient(#0000ff,#005aff,#00b5ff,#12ffed,#6fff91,#d2ff2d,#ffc300,#ff5f00,#ff2600,#ff1500,#ff0900,#ff0300,#ff0300,#ff0a00,#ff1600,#ff2700,#ff5e00,#ffbc00,#dfff20,#85ff7b,#2fffd0,#00ddff,#008fff,#0044ff,#0000ff)"></i><i style="background:linear-gradient(#0000ff,#005aff,#00b5ff,#11ffee,#6eff92,#d0ff2f,#ffc600,#ff6300,#ff2900,#ff1800,#ff0c00,#ff0600,#ff0600,#ff0d00,#ff1900,#ff2a00,#ff6300,#ffc000,#dcff23,#83ff7d,#2effd1,#00dcff,#008eff,#0043ff,#0000ff)"></i><i style="background:linear-gradient(#0000ff,#005aff,#00b5ff,#11ffef,#6dff93,#cfff31,#ffc900,#ff6700,#ff2d00,#ff1b00,#ff0f00,#ff0900,#ff0900,#ff1000,#ff1c00,#ff2e00,#ff6800,#ffc400,#d9ff26,#81ff7f,#2cffd3,#00dbff,#008dff,#0043ff,#0000ff)"></i><i style="background:linear-gradient(#0000ff,#005aff,#00b4ff,#10ffef,#6cff94,#cdff33,#ffcd00,#ff6b00,#ff3100,#ff1f00,#ff1300,#ff0d00,#ff0d00,#ff1400,#ff2000,#ff3300,#ff6d00,#ffc900,#d6ff29,#7fff81,#2bffd5,#00daff,#008dff,#0043ff,#0000ff)"></i><i style="background:linear-gradient(#0000ff,#0059ff,#00b4ff,#0ffff0,#6aff95,#caff35,#ffd100,#ff7000,#ff3600,#ff2300,#ff1600,#ff1000,#ff1100,#ff1800,#ff2400,#ff3800,#ff7300,#ffce00,#d3ff2c,#7cff84,#29ffd6,#00d9ff,#008cff,#0042ff,#0000ff)"></i><i style="background:linear-gradient(#0000ff,#0059ff,#00b3ff,#0efff1,#69ff97,#c8ff37,#ffd500,#ff7500,#ff3b00,#ff2700,#ff1a00,#ff1400,#ff1500,#ff1c00,#ff2900,#ff3d00,#ff7900,#ffd300,#d0ff2f,#7aff86,#27ffd8,#00d7ff,#008bff,#0042ff,#0000ff)"></i><i style="background:linear-gradient(#0000ff,#0059ff,#00b2ff,#0dfff2,#67ff99,#c6ff3a,#ffd900,#ff7a00,#ff4000,#ff2b00,#ff1e00,#ff1800,#ff1900,#ff2000,#ff2e00,#ff4300,#ff7f00,#ffd900,#cdff33,#77ff89,#25ffda,#00d6ff,#008aff,#0041ff,#0000ff)"></i><i style="background:linear-gradient(#0000ff,#0059ff,#00b2ff,#0cfff3,#66ff9a,#c3ff3c,#ffdd00,#ff7f00,#ff4500,#ff3000,#ff2200,#ff1c00,#ff1d00,#ff2400,#ff3200,#ff4800,#ff8500,#ffde00,#c9ff36,#75ff8b,#23ffdc,#00d5ff,#0089ff,#0041ff,#0000ff)"></i><i style="background:linear-gradient(#0000ff,#0058ff,#00b1ff,#0bfff4,#64ff9c,#c1ff3f,#ffe100,#ff8400,#ff4a00,#ff3400,#ff2600,#ff2000,#ff2100,#ff2800,#ff3700,#ff4e00,#ff8b00,#ffe300,#c6ff39,#72ff8e,#22ffde,#00d4ff,#0088ff,#0040ff,#0000ff)"></i><i style="background:linear-gradient(#0000ff,#0058ff,#00b1ff,#0afff5,#63ff9d,#bfff41,#ffe500,#ff8900,#ff4f00,#ff3900,#ff2b00,#ff2400,#ff2500,#ff2d00,#ff3c00,#ff5300,#ff9100,#ffe800,#c3ff3d,#70ff90,#20ffdf,#00d2ff,#0087ff,#0040ff,#0000ff)"></i><i style="background:linear-gradient(#0000ff,#0058ff,#00b0ff,#09fff6,#61ff9f,#bcff43,#ffe900,#ff8e00,#ff5500,#ff3e00,#ff2f00,#ff2800,#ff2900,#ff3200,#ff4100,#ff5900,#ff9700,#ffed00,#bfff40,#6dff93,#1effe1,#00d1ff,#0087ff,#0040ff,#0000ff)"></i><i style="background:linear-gradient(#0000ff,#0057ff,#00afff,#08fff7,#5fffa0,#baff46,#ffed00,#ff9400,#ff5a00,#ff4300,#ff3400,#ff2d00,#ff2e00,#ff3600,#ff4700,#ff5f00,#ff9e00,#fff200,#bcff44,#6aff95,#1cffe3,#00d0ff,#0086ff,#003fff,#0000ff)"></i><i style="background:linear-gradient(#0000ff,#0057ff,#00afff,#06fff9,#5effa2,#b7ff49,#fff100,#ff9900,#ff6000,#ff4800,#ff3900,#ff3200,#ff3300,#ff3c00,#ff4c00,#ff6600,#ffa400,#fff700,#b8ff47,#68ff98,#1affe5,#00ceff,#0085ff,#003fff,#0000ff)"></i><i style="background:linear-gradient(#0000ff,#0057ff,#00aeff,#05fffa,#5cffa4,#b4ff4b,#fff600,#ff9f00,#ff6600,#ff4d00,#ff3e00,#ff3700,#ff3800,#ff4100,#ff5200,#ff6c00,#ffab00,#fffc00,#b5ff4b,#65ff9b,#18ffe7,#00cdff,#0084ff,#003eff,#0000ff)"></i><i style="background:linear-gradient(#0000ff,#0057ff,#00adff,#04fffb,#5affa6,#b1ff4e,#fffa00,#ffa500,#ff6c00,#ff5300,#ff4300,#ff3c00,#ff3d00,#ff4600,#ff5800,#ff7300,#ffb200,#fdff02,#b1ff4e,#62ff9d,#16ffe9,#00cbff,#0083ff,#003eff,#0000ff)"></i><i style="background:linear-gradient(#0000ff,#0056ff,#00acff,#03fffc,#58ffa8,#afff51,#ffff00,#ffab00,#ff7300,#ff5900,#ff4800,#ff4100,#ff4200,#ff4c00,#ff5e00,#ff7a00,#ffb800,#f7ff08,#aeff52,#60ffa0,#14ffeb,#00caff,#0082ff,#003dff,#0000ff)"></i><i style="background:linear-gradient(#0000ff,#0056ff,#00acff,#02fffd,#56ffaa,#acff54,#fbff04,#ffb100,#ff7900,#ff5f00,#ff4e00,#ff4600,#ff4800,#ff5200,#ff6500,#ff8100,#ffbf00,#f2ff0d,#aaff56,#5dffa3,#12ffed,#00c8ff,#0081ff,#003dff,#0000ff)"></i><i style="background:linear-gradient(#0000ff,#0055ff,#00abff,#00ffff,#54ffac,#a9ff57,#f7ff08,#ffb700,#ff8000,#ff6500,#ff5400,#ff4c00,#ff4d00,#ff5800,#ff6b00,#ff8800,#ffc600,#edff12,#a6ff59,#5affa6,#10ffef,#00c7ff,#0080ff,#003cff,#0000ff)"></i><i style="background:linear-gradient(#0000ff,#0055ff,#00aaff,#00feff,#52ffae,#a6ff5a,#f2ff0d,#ffbd00,#ff8600,#ff6b00,#ff5900,#ff5200,#ff5300,#ff5e00,#ff7200,#ff8f00,#ffcd00,#e8ff17,#a3ff5d,#57ffa8,#0efff1,#00c5ff,#007fff,#003cff,#0000ff)"></i><i style="background:linear-gradient(#0000ff,#0055ff,#00a9ff,#00fdff,#50ffb0,#a3ff5d,#eeff11,#ffc300,#ff8d00,#ff7100,#ff5f00,#ff5800,#ff5900,#ff6400,#ff7900,#ff9600,#ffd400,#e4ff1c,#9fff61,#54ffab,#0cfff3,#00c4ff,#007eff,#003bff,#0000ff)"></i><i style="background:linear-gradient(#0000ff,#0054ff,#00a8ff,#00fbff,#4effb2,#a0ff60,#eaff16,#ffc900,#ff9400,#ff7800,#ff6600,#ff5e00,#ff5f00,#ff6b00,#ff7f00,#ff9d00,#ffda00,#dfff20,#9bff65,#52ffae,#0afff5,#00c2ff,#007dff,#003bff,#0000ff)"></i><i style="background:linear-gradient(#0000ff,#0054ff,#00a8ff,#00faff,#4cffb4,#9dff63,#e5ff1a,#ffd000,#ff9b00,#ff7e00,#ff6c00,#ff6400,#ff6600,#ff7100,#ff8600,#ffa500,#ffe100,#daff25,#97ff68,#4fffb1,#08fff7,#00c1ff,#007cff,#003aff,#0000ff)"></i><i style="background:linear-gradient(#0000ff,#0054ff,#00a7ff,#00f8ff,#4affb6,#9aff66,#e1ff1e,#ffd600,#ffa200,#ff8500,#ff7200,#ff6a00,#ff6c00,#ff7800,#ff8d00,#ffac00,#ffe800,#d6ff2a,#94ff6c,#4cffb4,#06fff9,#00bfff,#007bff,#003aff,#0000ff)"></i><i style="background:linear-gradient(#0000ff,#0053ff,#00a6ff,#00f7ff,#48ffb8,#97ff69,#ddff22,#ffdc00,#ffa900,#ff8b00,#ff7900,#ff7000,#ff7200,#ff7f00,#ff9500,#ffb400,#ffee00,#d1ff2e,#90ff70,#49ffb7,#03fffc,#00beff,#007aff,#0039ff,#0000ff)"></i><i style="background:linear-gradient(#0000ff,#0053ff,#00a5ff,#00f5ff,#45ffba,#93ff6d,#d9ff27,#ffe300,#ffb000,#ff9200,#ff7f00,#ff7700,#ff7900,#ff8600,#ff9c00,#ffbc00,#fff500,#ccff33,#8cff74,#46ffb9,#01fffe,#00bcff,#0079ff,#0039ff,#0000ff)"></i><i style="background:linear-gradient(#0000ff,#0052ff,#00a4ff,#00f4ff,#43ffbd,#90ff70,#d4ff2b,#ffe900,#ffb700,#ff9900,#ff8600,#ff7e00,#ff8000,#ff8d00,#ffa400,#ffc300,#fffc00,#c7ff38,#88ff78,#43ffbc,#00feff,#00bbff,#0078ff,#0038ff,#0000ff)"></i><i style="background:linear-gradient(#0000ff,#0052ff,#00a3ff,#00f2ff,#41ffbf,#8dff73,#d0ff2f,#fff000,#ffbf00,#ffa100,#ff8d00,#ff8500,#ff8700,#ff9400,#ffab00,#ffcb00,#fcff03,#c2ff3d,#84ff7c,#40ffc0,#00fcff,#00b9ff,#0077ff,#0038ff,#0000ff)"></i><i style="background:linear-gradient(#0000ff,#0051ff,#00a2ff,#00f1ff,#3effc1,#89ff77,#cbff34,#fff600,#ffc600,#ffa800,#ff9500,#ff8c00,#ff8f00,#ff9c00,#ffb300,#ffd300,#f5ff0a,#bdff42,#80ff80,#3dffc3,#00f9ff,#00b7ff,#0076ff,#0037ff,#0000ff)"></i><i style="background:linear-gradient(#0000ff,#0051ff,#00a1ff,#00efff,#3cffc4,#85ff7b,#c7ff39,#fffd00,#ffce00,#ffb000,#ff9c00,#ff9400,#ff9600,#ffa400,#ffbb00,#ffdc00,#eeff11,#b8ff47,#7cff84,#3affc6,#00f7ff,#00b6ff,#0075ff,#0037ff,#0000ff)"></i><i style="background:linear-gradient(#0000ff,#0050ff,#00a0ff,#00edff,#39ffc7,#82ff7e,#c2ff3e,#faff05,#ffd600,#ffb800,#ffa400,#ff9c00,#ff9e00,#ffac00,#ffc400,#ffe400,#e8ff17,#b3ff4d,#77ff89,#36ffc9,#00f5ff,#00b4ff,#0074ff,#0036ff,#0000ff)"></i><i style="background:linear-gradient(#0000ff,#0050ff,#009fff,#00ebff,#36ffc9,#7eff82,#bdff42,#f4ff0b,#ffdd00,#ffbf00,#ffac00,#ffa300,#ffa600,#ffb400,#ffcb00,#ffec00,#e2ff1e,#aeff52,#73ff8d,#33ffcc,#00f2ff,#00b2ff,#0073ff,#0036ff,#0000ff)"></i><i style="background:linear-gradient(#0000ff,#004fff,#009eff,#00eaff,#34ffcc,#7aff86,#b9ff47,#eeff11,#ffe400,#ffc700,#ffb300,#ffaa00,#ffad00,#ffbb00,#ffd300,#fff300,#dcff23,#a9ff57,#6fff91,#30ffcf,#00f0ff,#00b1ff,#0072ff,#0035ff,#0000ff)"></i><i style="background:linear-gradient(#0000ff,#004fff,#009cff,#00e8ff,#31ffce,#77ff89,#b4ff4c,#e8ff17,#ffeb00,#ffce00,#ffba00,#ffb200,#ffb500,#ffc300,#ffdb00,#fffb00,#d6ff29,#a4ff5c,#6bff95,#2dffd2,#00eeff,#00afff,#0071ff,#0035ff,#0000ff)"></i><i style="background:linear-gradient(#0000ff,#004eff,#009bff,#00e6ff,#2fffd1,#73ff8d,#afff50,#e2ff1d,#fff200,#ffd500,#ffc100,#ffb900,#ffbc00,#ffca00,#ffe200,#fcff03,#d1ff2f,#9fff61,#67ff99,#2affd5,#00ebff,#00adff,#0070ff,#0034ff,#0000ff)"></i><i style="background:linear-gradient(#0000ff,#004eff,#009aff,#00e4ff,#2cffd3,#6fff91,#abff55,#ddff23,#fffa00,#ffdc00,#ffc900,#ffc100,#ffc400,#ffd200,#ffea00,#f5ff0a,#cbff35,#9aff66,#63ff9d,#27ffd9,#00e9ff,#00abff,#006eff,#0034ff,#0000ff)"></i><i style="background:linear-gradient(#0000ff,#004dff,#0099ff,#00e2ff,#29ffd6,#6bff95,#a6ff5a,#d7ff29,#fdff02,#ffe400,#ffd100,#ffc900,#ffcc00,#ffda00,#fff200,#edff12,#c5ff3b,#95ff6b,#5fffa1,#24ffdc,#00e6ff,#00aaff,#006dff,#0033ff,#0000ff)"></i><i style="background:linear-gradient(#0000ff,#004cff,#0097ff,#00e0ff,#26ffda,#67ff99,#a0ff60,#d0ff2f,#f5ff0a,#ffed00,#ffd900,#ffd100,#ffd400,#ffe200,#fffa00,#e6ff19,#beff41,#90ff70,#5affa5,#20ffdf,#00e4ff,#00a8ff,#006cff,#0033ff,#0000ff)"></i><i style="background:linear-gradient(#0000ff,#004cff,#0096ff,#00ddff,#22ffdd,#62ff9e,#9aff66,#c9ff36,#edff12,#fff500,#ffe200,#ffda00,#ffdd00,#ffeb00,#fcff03,#deff21,#b8ff48,#8aff76,#56ffaa,#1dffe2,#00e2ff,#00a6ff,#006bff,#0032ff,#0000ff)"></i><i style="background:linear-gradient(#0000ff,#004bff,#0094ff,#00dbff,#1effe1,#5cffa3,#93ff6d,#c1ff3e,#e4ff1b,#ffff00,#ffec00,#ffe400,#ffe700,#fff500,#f3ff0c,#d6ff29,#b0ff4f,#84ff7c,#51ffaf,#19ffe6,#00dfff,#00a4ff,#006aff,#0032ff,#0000ff)"></i><i style="background:linear-gradient(#0000ff,#004aff,#0092ff,#00d8ff,#1affe5,#57ffa9,#8cff74,#b9ff47,#dbff24,#f5ff0a,#fff700,#ffef00,#fff200,#ffff00,#e9ff16,#cdff32,#a9ff57,#7dff83,#4bffb5,#15ffea,#00dcff,#00a2ff,#0069ff,#0031ff,#0000ff)"></i><i style="background:linear-gradient(#0000ff,#0049ff,#0090ff,#00d4ff,#15ffea,#50ffaf,#84ff7c,#b0ff50,#d2ff2e,#ebff14,#fcff03,#fffa00,#fffd00,#f4ff0b,#dfff20,#c4ff3c,#a0ff60,#75ff8b,#45ffbb,#10ffef,#00d8ff,#00a0ff,#0067ff,#0030ff,#0000ff)"></i><i style="background:linear-gradient(#0000ff,#0048ff,#008eff,#00d1ff,#10ffef,#49ffb7,#7bff85,#a5ff5a,#c7ff38,#e0ff1f,#f1ff0f,#f8ff07,#f5ff0a,#e9ff17,#d4ff2b,#b9ff46,#96ff6a,#6dff93,#3effc1,#0bfff4,#00d4ff,#009dff,#0066ff,#0030ff,#0000ff)"></i><i style="background:linear-gradient(#0000ff,#0046ff,#008aff,#00cbff,#09fff6,#40ffc0,#70ff8f,#99ff66,#baff45,#d2ff2d,#e2ff1d,#e9ff17,#e6ff19,#dbff25,#c7ff38,#acff53,#8bff75,#63ff9d,#35ffca,#04fffb,#00cfff,#0099ff,#0063ff,#002eff,#0000ff)"></i><i style="background:linear-gradient(#0000ff,#0043ff,#0085ff,#00c3ff,#00feff,#34ffcc,#63ff9d,#8aff76,#aaff56,#c1ff3f,#d0ff30,#d6ff29,#d4ff2c,#c9ff37,#b6ff49,#9cff63,#7cff84,#55ffaa,#2affd6,#00f9ff,#00c7ff,#0093ff,#005fff,#002dff,#0000ff)"></i><i style="background:linear-gradient(#0000ff,#0040ff,#007fff,#00bbff,#00f3ff,#26ffd9,#53ffac,#79ff87,#97ff69,#aeff52,#bcff44,#c2ff3e,#bfff40,#b5ff4a,#a3ff5c,#8bff75,#6bff94,#46ffb9,#1dffe2,#00eeff,#00beff,#008dff,#005bff,#002bff,#0000ff)"></i><i style="background:linear-gradient(#0000ff,#003dff,#0079ff,#00b2ff,#00e7ff,#18ffe7,#42ffbd,#66ff99,#83ff7d,#99ff67,#a6ff5a,#acff54,#a9ff56,#a0ff60,#8fff71,#77ff89,#59ffa6,#36ffc9,#0ffff0,#00e3ff,#00b5ff,#0086ff,#0057ff,#0029ff,#0000ff)"></i><i style="background:linear-gradient(#0000ff,#003aff,#0072ff,#00a7ff,#00d9ff,#08fff7,#30ffd0,#52ffae,#6dff93,#81ff7f,#8eff72,#93ff6d,#91ff6f,#88ff78,#78ff88,#61ff9e,#45ffba,#24ffdb,#00feff,#00d5ff,#00aaff,#007eff,#0052ff,#0026ff,#0000ff)"></i><i style="background:linear-gradient(#0000ff,#0036ff,#006bff,#009eff,#00cdff,#00f8ff,#1effe1,#3effc1,#58ffa8,#6bff95,#77ff89,#7cff84,#7aff86,#71ff8f,#62ff9e,#4dffb2,#33ffcd,#14ffec,#00efff,#00c9ff,#00a1ff,#0077ff,#004dff,#0024ff,#0000ff)"></i><i style="background:linear-gradient(#0000ff,#0033ff,#0065ff,#0095ff,#00c1ff,#00eaff,#0ffff1,#2dffd3,#45ffbb,#57ffa9,#62ff9e,#67ff99,#65ff9b,#5dffa3,#4fffb1,#3bffc5,#22ffdd,#04fffb,#00e2ff,#00beff,#0098ff,#0070ff,#0049ff,#0022ff,#0000ff)"></i><i style="background:linear-gradient(#0000ff,#0030ff,#0060ff,#008dff,#00b7ff,#00ddff,#00feff,#1cffe3,#33ffcd,#44ffbc,#4effb1,#53ffad,#51ffaf,#49ffb6,#3cffc4,#29ffd6,#12ffee,#00f5ff,#00d5ff,#00b3ff,#008fff,#006aff,#0045ff,#0020ff,#0000ff)"></i><i style="background:linear-gradient(#0000ff,#002eff,#005aff,#0085ff,#00acff,#00d0ff,#00f0ff,#0cfff4,#21ffde,#31ffce,#3bffc4,#3fffc0,#3effc2,#36ffc9,#2affd6,#18ffe7,#02fffd,#00e7ff,#00c9ff,#00a9ff,#0087ff,#0064ff,#0041ff,#001eff,#0000ff)"></i><i style="background:linear-gradient(#0000ff,#002bff,#0055ff,#007dff,#00a2ff,#00c4ff,#00e2ff,#00fbff,#10ffef,#1fffe0,#29ffd7,#2dffd3,#2bffd4,#24ffdb,#18ffe7,#08fff7,#00f2ff,#00d9ff,#00bdff,#009fff,#007fff,#005eff,#003dff,#001dff,#0000ff)"></i><i style="background:linear-gradient(#0000ff,#0028ff,#0050ff,#0075ff,#0098ff,#00b8ff,#00d4ff,#00ecff,#00ffff,#0efff1,#17ffe8,#1affe5,#19ffe6,#13ffed,#07fff8,#00f7ff,#00e3ff,#00ccff,#00b2ff,#0095ff,#0077ff,#0058ff,#0039ff,#001bff,#0000ff)"></i><i style="background:linear-gradient(#0000ff,#0026ff,#004bff,#006eff,#008fff,#00acff,#00c7ff,#00ddff,#00efff,#00fcff,#05fffa,#09fff6,#07fff8,#01fffe,#00f6ff,#00e7ff,#00d5ff,#00bfff,#00a7ff,#008cff,#0070ff,#0053ff,#0035ff,#0019ff,#0000ff)"></i><i style="background:linear-gradient(#0000ff,#0023ff,#0046ff,#0067ff,#0085ff,#00a1ff,#00baff,#00ceff,#00dfff,#00ebff,#00f3ff,#00f6ff,#00f5ff,#00efff,#00e6ff,#00d8ff,#00c7ff,#00b3ff,#009cff,#0083ff,#0068ff,#004dff,#0032ff,#0017ff,#0000ff)"></i><i style="background:linear-gradient(#0000ff,#0021ff,#0041ff,#0060ff,#007cff,#0096ff,#00adff,#00c0ff,#00d0ff,#00dbff,#00e2ff,#00e6ff,#00e4ff,#00dfff,#00d6ff,#00c9ff,#00b9ff,#00a6ff,#0091ff,#007aff,#0061ff,#0048ff,#002fff,#0016ff,#0000ff)"></i><i style="background:linear-gradient(#0000ff,#001fff,#003cff,#0059ff,#0073ff,#008bff,#00a0ff,#00b2ff,#00c1ff,#00ccff,#00d2ff,#00d5ff,#00d4ff,#00cfff,#00c7ff,#00bbff,#00acff,#009aff,#0087ff,#0071ff,#005aff,#0043ff,#002bff,#0014ff,#0000ff)"></i><i style="background:linear-gradient(#0000ff,#001cff,#0038ff,#0052ff,#006bff,#0081ff,#0094ff,#00a5ff,#00b2ff,#00bcff,#00c3ff,#00c5ff,#00c4ff,#00c0ff,#00b8ff,#00adff,#009fff,#008fff,#007dff,#0069ff,#0054ff,#003eff,#0028ff,#0013ff,#0000ff)"></i><i style="background:linear-gradient(#0000ff,#001aff,#0033ff,#004cff,#0062ff,#0077ff,#0089ff,#0098ff,#00a4ff,#00adff,#00b3ff,#00b6ff,#00b5ff,#00b0ff,#00a9ff,#009fff,#0092ff,#0084ff,#0073ff,#0060ff,#004dff,#0039ff,#0025ff,#0011ff,#0000ff)"></i><i style="background:linear-gradient(#0000ff,#0018ff,#002fff,#0045ff,#005aff,#006dff,#007dff,#008bff,#0096ff,#009fff,#00a4ff,#00a6ff,#00a5ff,#00a2ff,#009bff,#0092ff,#0086ff,#0078ff,#0069ff,#0058ff,#0046ff,#0034ff,#0022ff,#0010ff,#0000ff)"></i><i style="background:linear-gradient(#0000ff,#0016ff,#002bff,#003fff,#0052ff,#0063ff,#0072ff,#007eff,#0089ff,#0090ff,#0095ff,#0097ff,#0096ff,#0093ff,#008dff,#0084ff,#007aff,#006dff,#005fff,#0050ff,#0040ff,#002fff,#001fff,#000eff,#0000ff)"></i><i style="background:linear-gradient(#0000ff,#0013ff,#0026ff,#0039ff,#004aff,#0059ff,#0066ff,#0072ff,#007bff,#0082ff,#0086ff,#0088ff,#0087ff,#0084ff,#007fff,#0077ff,#006eff,#0063ff,#0056ff,#0048ff,#003aff,#002bff,#001cff,#000dff,#0000ff)"></i><i style="background:linear-gradient(#0000ff,#0011ff,#0022ff,#0032ff,#0041ff,#004fff,#005bff,#0065ff,#006eff,#0074ff,#0077ff,#0079ff,#0078ff,#0076ff,#0071ff,#006aff,#0062ff,#0058ff,#004cff,#0040ff,#0033ff,#0026ff,#0019ff,#000cff,#0000ff)"></i><i style="background:linear-gradient(#0000ff,#000fff,#001eff,#002cff,#0039ff,#0045ff,#004fff,#0058ff,#005fff,#0064ff,#0068ff,#0069ff,#0069ff,#0066ff,#0062ff,#005cff,#0055ff,#004cff,#0042ff,#0038ff,#002dff,#0021ff,#0015ff,#000aff,#0000ff)"></i><i style="background:linear-gradient(#0000ff,#000dff,#0019ff,#0025ff,#0030ff,#003aff,#0043ff,#004aff,#0051ff,#0055ff,#0058ff,#0059ff,#0059ff,#0056ff,#0053ff,#004eff,#0048ff,#0040ff,#0038ff,#002fff,#0026ff,#001cff,#0012ff,#0008ff,#0000ff)"></i><i style="background:linear-gradient(#0000ff,#000aff,#0015ff,#001eff,#0027ff,#0030ff,#0037ff,#003dff,#0042ff,#0046ff,#0048ff,#0049ff,#0049ff,#0047ff,#0044ff,#0040ff,#003bff,#0035ff,#002eff,#0027ff,#001fff,#0017ff,#000fff,#0007ff,#0000ff)"></i><i style="background:linear-gradient(#0000ff,#0008ff,#0010ff,#0018ff,#001fff,#0026ff,#002bff,#0030ff,#0034ff,#0037ff,#0039ff,#003aff,#0039ff,#0038ff,#0036ff,#0033ff,#002eff,#002aff,#0024ff,#001fff,#0018ff,#0012ff,#000cff,#0005ff,#0000ff)"></i><i style="background:linear-gradient(#0000ff,#0006ff,#000cff,#0012ff,#0018ff,#001dff,#0021ff,#0025ff,#0028ff,#002aff,#002bff,#002cff,#002cff,#002bff,#0029ff,#0026ff,#0023ff,#0020ff,#001cff,#0017ff,#0013ff,#000eff,#0009ff,#0004ff,#0000ff)"></i><i style="background:linear-gradient(#0000ff,#0005ff,#0009ff,#000dff,#0011ff,#0015ff,#0018ff,#001bff,#001dff,#001fff,#0020ff,#0020ff,#0020ff,#001fff,#001eff,#001cff,#001aff,#0017ff,#0014ff,#0011ff,#000eff,#000aff,#0006ff,#0003ff,#0000ff)"></i><i style="background:linear-gradient(#0000ff,#0003ff,#0006ff,#000aff,#000cff,#000fff,#0011ff,#0013ff,#0015ff,#0016ff,#0017ff,#0017ff,#0017ff,#0016ff,#0015ff,#0014ff,#0013ff,#0011ff,#000eff,#000cff,#000aff,#0007ff,#0005ff,#0002ff,#0000ff)"></i><i style="background:linear-gradient(#0000ff,#0002ff,#0004ff,#0007ff,#0008ff,#000aff,#000cff,#000dff,#000eff,#000fff,#000fff,#0010ff,#0010ff,#000fff,#000fff,#000eff,#000dff,#000bff,#000aff,#0008ff,#0007ff,#0005ff,#0003ff,#0001ff,#0000ff)"></i><i style="background:linear-gradient(#0000ff,#0001ff,#0003ff,#0004ff,#0005ff,#0006ff,#0007ff,#0008ff,#0008ff,#0009ff,#0009ff,#0009ff,#0009ff,#0009ff,#0009ff,#0008ff,#0008ff,#0007ff,#0006ff,#0005ff,#0004ff,#0003ff,#0002ff,#0001ff,#0000ff)"></i><i style="background:linear-gradient(#0000ff,#0001ff,#0001ff,#0002ff,#0002ff,#0003ff,#0003ff,#0003ff,#0004ff,#0004ff,#0004ff,#0004ff,#0004ff,#0004ff,#0004ff,#0004ff,#0003ff,#0003ff,#0003ff,#0002ff,#0002ff,#0001ff,#0001ff,#0000ff,#0000ff)"></i><i style="flex-basis:0.7px;background:linear-gradient(#0000ff,#0000ff,#0000ff,#0000ff,#0001ff,#0001ff,#0001ff,#0001ff,#0001ff,#0001ff,#0001ff,#0001ff,#0001ff,#0001ff,#0001ff,#0001ff,#0001ff,#0001ff,#0001ff,#0000ff,#0000ff,#0000ff,#0000ff,#0000ff,#0000ff)"></i></div>
<div class="hm" style="left:182px;top:128.5px;width:128.3px;height:63.3px"><i style="background:linear-gradient(#0000ff,#005dff,#00bcff,#1cffe3,#7dff83,#e5ff1a,#ffa100,#ff3900,#fd0000,#f70000,#f30000,#f00000,#f00000,#f20000,#f50000,#fa0000,#ff1900,#ff6f00,#ffe200,#b4ff4c,#55ffab,#00faff,#00a3ff,#004fff,#0000ff)"></i><i style="background:linear-gradient(#0000ff,#005dff,#00bcff,#1cffe3,#7dff82,#e6ff1a,#ffa100,#ff3900,#fd0000,#f70000,#f30000,#f00000,#f00000,#f20000,#f50000,#fb0000,#ff1900,#ff7000,#ffe300,#b3ff4d,#54ffac,#00faff,#00a3ff,#004fff,#0000ff)"></i><i style="background:linear-gradient(#0000ff,#005dff,#00bcff,#1cffe3,#7eff82,#e6ff19,#ffa000,#ff3900,#fd0000,#f70000,#f30000,#f00000,#f00000,#f20000,#f50000,#fb0000,#ff1a00,#ff7100,#ffe300,#b2ff4d,#53ffac,#00f9ff,#00a2ff,#004eff,#0000ff)"></i><i style="background:linear-gradient(#0000ff,#005dff,#00bcff,#1dffe3,#7eff82,#e6ff19,#ffa000,#ff3800,#fd0000,#f70000,#f30000,#f00000,#f00000,#f20000,#f50000,#fb0000,#ff1a00,#ff7200,#ffe400,#b2ff4e,#53ffad,#00f9ff,#00a2ff,#004eff,#0000ff)"></i><i style="background:linear-gradient(#0000ff,#005eff,#00bcff,#1dffe2,#7eff82,#e7ff18,#ffa000,#ff3800,#fd0000,#f70000,#f30000,#f10000,#f00000,#f20000,#f50000,#fb0000,#ff1b00,#ff7200,#ffe500,#b1ff4f,#52ffad,#00f8ff,#00a2ff,#004eff,#0000ff)"></i><i style="background:linear-gradient(#0000ff,#005eff,#00bcff,#1dffe2,#7fff81,#e7ff18,#ff9f00,#ff3800,#fd0000,#f70000,#f30000,#f10000,#f00000,#f20000,#f60000,#fb0000,#ff1c00,#ff7300,#ffe600,#b0ff50,#52ffae,#00f8ff,#00a1ff,#004eff,#0000ff)"></i><i style="background:linear-gradient(#0000ff,#005eff,#00bdff,#1dffe2,#7fff81,#e7ff18,#ff9f00,#ff3700,#fd0000,#f70000,#f30000,#f10000,#f00000,#f20000,#f60000,#fb0000,#ff1c00,#ff7400,#ffe700,#afff50,#51ffaf,#00f7ff,#00a1ff,#004dff,#0000ff)"></i><i style="background:linear-gradient(#0000ff,#005eff,#00bdff,#1dffe2,#7fff81,#e8ff18,#ff9e00,#ff3700,#fd0000,#f70000,#f30000,#f10000,#f00000,#f20000,#f60000,#fb0000,#ff1d00,#ff7500,#ffe800,#afff51,#50ffaf,#00f7ff,#00a0ff,#004dff,#0000ff)"></i><i style="background:linear-gradient(#0000ff,#005eff,#00bdff,#1effe2,#7fff81,#e8ff17,#ff9e00,#ff3700,#fd0000,#f70000,#f30000,#f10000,#f00000,#f20000,#f60000,#fb0000,#ff1e00,#ff7600,#ffe900,#aeff52,#50ffb0,#00f6ff,#00a0ff,#004dff,#0000ff)"></i><i style="background:linear-gradient(#0000ff,#005eff,#00bdff,#1effe2,#7fff81,#e8ff17,#ff9e00,#ff3700,#fd0000,#f70000,#f30000,#f10000,#f10000,#f20000,#f60000,#fb0000,#ff1e00,#ff7700,#ffea00,#adff53,#4fffb1,#00f6ff,#00a0ff,#004dff,#0000ff)"></i><i style="background:linear-gradient(#0000ff,#005eff,#00bdff,#1effe1,#80ff80,#e8ff17,#ff9d00,#ff3600,#fd0000,#f70000,#f30000,#f10000,#f10000,#f20000,#f60000,#fb0000,#ff1f00,#ff7800,#ffeb00,#acff53,#4effb1,#00f5ff,#009fff,#004cff,#0000ff)"></i><i style="background:linear-gradient(#0000ff,#005eff,#00bdff,#1effe1,#80ff80,#e9ff17,#ff9d00,#ff3600,#fd0000,#f70000,#f30000,#f10000,#f10000,#f30000,#f60000,#fc0000,#ff2000,#ff7900,#ffec00,#abff54,#4effb2,#00f5ff,#009fff,#004cff,#0000ff)"></i><i style="background:linear-gradient(#0000ff,#005eff,#00bdff,#1effe1,#80ff80,#e9ff16,#ff9d00,#ff3600,#fd0000,#f70000,#f30000,#f10000,#f10000,#f30000,#f60000,#fc0000,#ff2100,#ff7a00,#ffed00,#abff55,#4dffb3,#00f4ff,#009eff,#004cff,#0000ff)"></i><i style="background:linear-gradient(#0000ff,#005eff,#00bdff,#1effe1,#80ff80,#e9ff16,#ff9d00,#ff3600,#fd0000,#f70000,#f30000,#f10000,#f10000,#f30000,#f60000,#fc0000,#ff2200,#ff7c00,#ffee00,#aaff56,#4cffb3,#00f3ff,#009eff,#004cff,#0000ff)"></i><i style="background:linear-gradient(#0000ff,#005eff,#00bdff,#1effe1,#80ff80,#e9ff16,#ff9d00,#ff3600,#fd0000,#f70000,#f30000,#f10000,#f10000,#f30000,#f70000,#fc0000,#ff2200,#ff7d00,#ffef00,#a9ff57,#4cffb4,#00f3ff,#009eff,#004bff,#0000ff)"></i><i style="background:linear-gradient(#0000ff,#005eff,#00bdff,#1effe1,#80ff80,#e9ff16,#ff9c00,#ff3600,#fd0000,#f80000,#f30000,#f10000,#f10000,#f30000,#f70000,#fc0000,#ff2300,#ff7e00,#fff000,#a8ff58,#4bffb5,#00f2ff,#009dff,#004bff,#0000ff)"></i><i style="background:linear-gradient(#0000ff,#005eff,#00bdff,#1effe1,#81ff7f,#eaff16,#ff9c00,#ff3600,#fd0000,#f80000,#f40000,#f10000,#f10000,#f30000,#f70000,#fc0000,#ff2400,#ff7f00,#fff200,#a7ff59,#4affb5,#00f2ff,#009dff,#004bff,#0000ff)"></i><i style="background:linear-gradient(#0000ff,#005eff,#00bdff,#1fffe1,#81ff7f,#eaff15,#ff9c00,#ff3500,#fd0000,#f80000,#f40000,#f20000,#f10000,#f30000,#f70000,#fc0000,#ff2500,#ff8000,#fff300,#a6ff59,#49ffb6,#00f1ff,#009cff,#004bff,#0000ff)"></i><i style="background:linear-gradient(#0000ff,#005eff,#00bdff,#1fffe1,#81ff7f,#eaff15,#ff9c00,#ff3500,#fe0000,#f80000,#f40000,#f20000,#f20000,#f30000,#f70000,#fd0000,#ff2600,#ff8100,#fff400,#a5ff5a,#49ffb7,#00f1ff,#009cff,#004aff,#0000ff)"></i><i style="background:linear-gradient(#0000ff,#005eff,#00beff,#1fffe1,#81ff7f,#eaff15,#ff9c00,#ff3500,#fe0000,#f80000,#f40000,#f20000,#f20000,#f40000,#f70000,#fd0000,#ff2700,#ff8300,#fff500,#a5ff5b,#48ffb8,#00f0ff,#009bff,#004aff,#0000ff)"></i><i style="background:linear-gradient(#0000ff,#005eff,#00beff,#1fffe0,#81ff7f,#eaff15,#ff9c00,#ff3500,#fe0000,#f80000,#f40000,#f20000,#f20000,#f40000,#f80000,#fd0000,#ff2800,#ff8400,#fff600,#a4ff5c,#47ffb8,#00efff,#009bff,#004aff,#0000ff)"></i><i style="background:linear-gradient(#0000ff,#005eff,#00beff,#1fffe0,#81ff7f,#eaff15,#ff9c00,#ff3500,#fe0000,#f80000,#f40000,#f20000,#f20000,#f40000,#f80000,#fd0000,#ff2900,#ff8500,#fff700,#a3ff5d,#47ffb9,#00efff,#009aff,#004aff,#0000ff)"></i><i style="background:linear-gradient(#0000ff,#005eff,#00beff,#1fffe0,#81ff7f,#eaff15,#ff9c00,#ff3500,#fe0000,#f80000,#f40000,#f20000,#f20000,#f40000,#f80000,#fd0000,#ff2a00,#ff8600,#fff800,#a2ff5e,#46ffba,#00eeff,#009aff,#0049ff,#0000ff)"></i><i style="background:linear-gradient(#0000ff,#005eff,#00beff,#1fffe0,#81ff7f,#eaff15,#ff9c00,#ff3500,#fe0000,#f80000,#f40000,#f20000,#f20000,#f40000,#f80000,#fe0000,#ff2b00,#ff8800,#fff900,#a1ff5f,#45ffba,#00eeff,#009aff,#0049ff,#0000ff)"></i><i style="background:linear-gradient(#0000ff,#005eff,#00beff,#1fffe0,#81ff7f,#eaff15,#ff9c00,#ff3500,#fe0000,#f80000,#f50000,#f30000,#f20000,#f40000,#f80000,#fe0000,#ff2c00,#ff8900,#fffb00,#a0ff60,#44ffbb,#00edff,#0099ff,#0049ff,#0000ff)"></i><i style="background:linear-gradient(#0000ff,#005eff,#00beff,#1fffe0,#81ff7f,#ebff15,#ff9c00,#ff3500,#fe0000,#f90000,#f50000,#f30000,#f30000,#f50000,#f80000,#fe0000,#ff2d00,#ff8a00,#fffc00,#9fff61,#44ffbc,#00ecff,#0099ff,#0049ff,#0000ff)"></i><i style="background:linear-gradient(#0000ff,#005eff,#00beff,#1fffe0,#81ff7f,#ebff15,#ff9c00,#ff3600,#fe0000,#f90000,#f50000,#f30000,#f30000,#f50000,#f90000,#fe0000,#ff2e00,#ff8b00,#fffd00,#9eff62,#43ffbd,#00ecff,#0098ff,#0048ff,#0000ff)"></i><i style="background:linear-gradient(#0000ff,#005eff,#00beff,#1fffe0,#81ff7f,#ebff15,#ff9c00,#ff3600,#ff0000,#f90000,#f50000,#f30000,#f30000,#f50000,#f90000,#fe0000,#ff2f00,#ff8d00,#fffe00,#9dff63,#42ffbd,#00ebff,#0098ff,#0048ff,#0000ff)"></i><i style="background:linear-gradient(#0000ff,#005eff,#00beff,#1fffe0,#81ff7f,#eaff15,#ff9c00,#ff3600,#ff0000,#f90000,#f50000,#f30000,#f30000,#f50000,#f90000,#ff0000,#ff3100,#ff8e00,#ffff00,#9cff64,#41ffbe,#00eaff,#0097ff,#0048ff,#0000ff)"></i><i style="background:linear-gradient(#0000ff,#005eff,#00beff,#1fffe0,#81ff7f,#eaff15,#ff9c00,#ff3600,#ff0000,#f90000,#f60000,#f40000,#f40000,#f60000,#f90000,#ff0000,#ff3200,#ff9000,#fdff02,#9bff65,#40ffbf,#00eaff,#0097ff,#0048ff,#0000ff)"></i><i style="background:linear-gradient(#0000ff,#005eff,#00beff,#1fffe0,#81ff7f,#eaff15,#ff9d00,#ff3700,#ff0100,#fa0000,#f60000,#f40000,#f40000,#f60000,#fa0000,#ff0100,#ff3400,#ff9200,#fcff03,#9aff66,#3fffc0,#00e9ff,#0096ff,#0047ff,#0000ff)"></i><i style="background:linear-gradient(#0000ff,#005eff,#00bdff,#1fffe1,#81ff7f,#eaff16,#ff9d00,#ff3800,#ff0200,#fa0000,#f60000,#f40000,#f40000,#f60000,#fa0000,#ff0200,#ff3500,#ff9400,#faff05,#99ff67,#3effc1,#00e8ff,#0096ff,#0047ff,#0000ff)"></i><i style="background:linear-gradient(#0000ff,#005eff,#00bdff,#1effe1,#80ff80,#e9ff16,#ff9e00,#ff3800,#ff0300,#fa0000,#f70000,#f50000,#f50000,#f70000,#fb0000,#ff0400,#ff3700,#ff9600,#f8ff07,#97ff68,#3dffc2,#00e7ff,#0095ff,#0047ff,#0000ff)"></i><i style="background:linear-gradient(#0000ff,#005eff,#00bdff,#1effe1,#80ff80,#e9ff17,#ff9f00,#ff3900,#ff0400,#fb0000,#f70000,#f50000,#f50000,#f70000,#fb0000,#ff0500,#ff3900,#ff9800,#f7ff08,#96ff6a,#3cffc3,#00e7ff,#0095ff,#0046ff,#0000ff)"></i><i style="background:linear-gradient(#0000ff,#005eff,#00bdff,#1effe1,#80ff80,#e8ff17,#ffa000,#ff3a00,#ff0500,#fb0000,#f70000,#f50000,#f60000,#f80000,#fc0000,#ff0600,#ff3b00,#ff9a00,#f5ff0a,#95ff6b,#3bffc4,#00e6ff,#0094ff,#0046ff,#0000ff)"></i><i style="background:linear-gradient(#0000ff,#005eff,#00bdff,#1dffe2,#7fff81,#e8ff18,#ffa100,#ff3b00,#ff0700,#fc0000,#f80000,#f60000,#f60000,#f80000,#fc0000,#ff0800,#ff3d00,#ff9d00,#f3ff0c,#93ff6d,#3affc5,#00e5ff,#0093ff,#0046ff,#0000ff)"></i><i style="background:linear-gradient(#0000ff,#005eff,#00bdff,#1dffe2,#7fff81,#e7ff18,#ffa200,#ff3c00,#ff0800,#fc0000,#f80000,#f60000,#f70000,#f90000,#fd0000,#ff0900,#ff3f00,#ff9f00,#f1ff0e,#92ff6e,#39ffc6,#00e4ff,#0093ff,#0045ff,#0000ff)"></i><i style="background:linear-gradient(#0000ff,#005eff,#00bcff,#1dffe2,#7eff82,#e6ff19,#ffa300,#ff3d00,#ff0900,#fc0000,#f90000,#f70000,#f70000,#f90000,#fd0000,#ff0b00,#ff4200,#ffa100,#f0ff0f,#90ff6f,#38ffc8,#00e3ff,#0092ff,#0045ff,#0000ff)"></i><i style="background:linear-gradient(#0000ff,#005dff,#00bcff,#1cffe3,#7eff82,#e6ff1a,#ffa400,#ff3f00,#ff0b00,#fd0000,#f90000,#f70000,#f80000,#fa0000,#fe0000,#ff0d00,#ff4400,#ffa400,#eeff11,#8fff71,#37ffc9,#00e2ff,#0091ff,#0045ff,#0000ff)"></i><i style="background:linear-gradient(#0000ff,#005dff,#00bcff,#1cffe3,#7dff83,#e5ff1a,#ffa500,#ff4000,#ff0c00,#fd0000,#fa0000,#f80000,#f80000,#fa0000,#fe0000,#ff0e00,#ff4600,#ffa600,#ecff13,#8eff72,#35ffca,#00e1ff,#0091ff,#0044ff,#0000ff)"></i><i style="background:linear-gradient(#0000ff,#005dff,#00bcff,#1cffe4,#7dff83,#e4ff1b,#ffa600,#ff4100,#ff0d00,#fe0000,#fa0000,#f80000,#f90000,#fb0000,#ff0000,#ff1000,#ff4900,#ffa900,#eaff15,#8cff74,#34ffcb,#00e0ff,#0090ff,#0044ff,#0000ff)"></i><i style="background:linear-gradient(#0000ff,#005dff,#00bbff,#1bffe4,#7cff84,#e3ff1c,#ffa800,#ff4200,#ff0f00,#fe0000,#fb0000,#f90000,#f90000,#fb0000,#ff0100,#ff1200,#ff4b00,#ffab00,#e8ff17,#8bff75,#33ffcc,#00dfff,#008fff,#0044ff,#0000ff)"></i><i style="background:linear-gradient(#0000ff,#005dff,#00bbff,#1bffe4,#7cff84,#e3ff1d,#ffa900,#ff4400,#ff1000,#ff0000,#fb0000,#fa0000,#fa0000,#fc0000,#ff0300,#ff1300,#ff4d00,#ffad00,#e7ff19,#89ff77,#32ffcd,#00deff,#008fff,#0043ff,#0000ff)"></i><i style="background:linear-gradient(#0000ff,#005dff,#00bbff,#1affe5,#7bff85,#e2ff1d,#ffaa00,#ff4500,#ff1200,#ff0100,#fc0000,#fa0000,#fa0000,#fc0000,#ff0400,#ff1500,#ff5000,#ffb000,#e5ff1a,#88ff78,#31ffcf,#00deff,#008eff,#0043ff,#0000ff)"></i><i style="background:linear-gradient(#0000ff,#005dff,#00bbff,#1affe5,#7bff85,#e1ff1e,#ffab00,#ff4600,#ff1300,#ff0300,#fc0000,#fb0000,#fb0000,#fd0000,#ff0600,#ff1700,#ff5200,#ffb200,#e3ff1c,#86ff7a,#30ffd0,#00ddff,#008eff,#0043ff,#0000ff)"></i><i style="background:linear-gradient(#0000ff,#005dff,#00baff,#1affe6,#7aff86,#e1ff1f,#ffac00,#ff4700,#ff1500,#ff0400,#fd0000,#fb0000,#fb0000,#fe0000,#ff0800,#ff1800,#ff5400,#ffb500,#e1ff1e,#85ff7b,#2effd1,#00dcff,#008dff,#0042ff,#0000ff)"></i><i style="background:linear-gradient(#0000ff,#005cff,#00baff,#19ffe6,#7aff86,#e0ff1f,#ffad00,#ff4900,#ff1600,#ff0600,#fd0000,#fc0000,#fc0000,#fe0000,#ff0900,#ff1a00,#ff5700,#ffb700,#e0ff20,#83ff7d,#2dffd2,#00dbff,#008cff,#0042ff,#0000ff)"></i><i style="background:linear-gradient(#0000ff,#005cff,#00baff,#19ffe6,#79ff87,#dfff20,#ffaf00,#ff4a00,#ff1800,#ff0700,#fe0000,#fc0000,#fc0000,#ff0000,#ff0b00,#ff1c00,#ff5900,#ffba00,#deff21,#82ff7e,#2cffd3,#00daff,#008cff,#0042ff,#0000ff)"></i><i style="background:linear-gradient(#0000ff,#005cff,#00b9ff,#18ffe7,#78ff87,#deff21,#ffb000,#ff4c00,#ff1900,#ff0900,#fe0000,#fd0000,#fd0000,#ff0100,#ff0d00,#ff1e00,#ff5c00,#ffbc00,#dcff23,#80ff80,#2bffd4,#00d9ff,#008bff,#0041ff,#0000ff)"></i><i style="background:linear-gradient(#0000ff,#005cff,#00b9ff,#18ffe7,#78ff88,#ddff22,#ffb200,#ff4d00,#ff1b00,#ff0b00,#ff0000,#fd0000,#fe0000,#ff0300,#ff0f00,#ff2000,#ff5f00,#ffbf00,#daff25,#7fff81,#2affd6,#00d8ff,#008aff,#0041ff,#0000ff)"></i><i style="background:linear-gradient(#0000ff,#005cff,#00b9ff,#18ffe8,#77ff89,#dcff23,#ffb400,#ff5000,#ff1d00,#ff0d00,#ff0200,#fe0000,#fe0000,#ff0500,#ff1100,#ff2300,#ff6200,#ffc200,#d8ff27,#7dff83,#29ffd7,#00d7ff,#008aff,#0041ff,#0000ff)"></i><i style="background:linear-gradient(#0000ff,#005cff,#00b9ff,#17ffe8,#77ff89,#dbff24,#ffb600,#ff5200,#ff2000,#ff0f00,#ff0400,#ff0000,#ff0000,#ff0700,#ff1300,#ff2500,#ff6500,#ffc500,#d6ff29,#7cff84,#28ffd8,#00d7ff,#0089ff,#0040ff,#0000ff)"></i><i style="background:linear-gradient(#0000ff,#005cff,#00b9ff,#17ffe8,#76ff8a,#daff25,#ffb800,#ff5400,#ff2200,#ff1100,#ff0600,#ff0100,#ff0200,#ff0900,#ff1600,#ff2800,#ff6900,#ffc800,#d4ff2b,#7aff86,#26ffd9,#00d6ff,#0089ff,#0040ff,#0000ff)"></i><i style="background:linear-gradient(#0000ff,#005cff,#00b8ff,#16ffe9,#75ff8b,#d9ff26,#ffba00,#ff5700,#ff2500,#ff1400,#ff0800,#ff0300,#ff0400,#ff0c00,#ff1900,#ff2b00,#ff6d00,#ffcc00,#d2ff2d,#79ff87,#25ffda,#00d5ff,#0088ff,#0040ff,#0000ff)"></i><i style="background:linear-gradient(#0000ff,#005cff,#00b8ff,#16ffe9,#74ff8c,#d7ff28,#ffbd00,#ff5a00,#ff2700,#ff1600,#ff0b00,#ff0600,#ff0700,#ff0e00,#ff1b00,#ff2e00,#ff7100,#ffcf00,#d0ff30,#77ff89,#24ffdb,#00d4ff,#0088ff,#003fff,#0000ff)"></i><i style="background:linear-gradient(#0000ff,#005bff,#00b8ff,#15ffea,#73ff8d,#d6ff29,#ffbf00,#ff5d00,#ff2a00,#ff1900,#ff0e00,#ff0800,#ff0a00,#ff1100,#ff1e00,#ff3200,#ff7500,#ffd300,#cdff32,#75ff8b,#22ffdd,#00d3ff,#0087ff,#003fff,#0000ff)"></i><i style="background:linear-gradient(#0000ff,#005bff,#00b7ff,#14ffeb,#72ff8e,#d4ff2b,#ffc300,#ff6100,#ff2e00,#ff1c00,#ff1100,#ff0c00,#ff0d00,#ff1500,#ff2200,#ff3600,#ff7a00,#ffd700,#cbff35,#73ff8d,#21ffde,#00d2ff,#0086ff,#003fff,#0000ff)"></i><i style="background:linear-gradient(#0000ff,#005bff,#00b7ff,#13ffec,#71ff8f,#d2ff2e,#ffc700,#ff6600,#ff3300,#ff2000,#ff1500,#ff0f00,#ff1100,#ff1900,#ff2600,#ff3b00,#ff8000,#ffdc00,#c8ff38,#71ff8f,#1fffe0,#00d1ff,#0085ff,#003eff,#0000ff)"></i><i style="background:linear-gradient(#0000ff,#005bff,#00b6ff,#12ffed,#6fff91,#cfff30,#ffcb00,#ff6b00,#ff3800,#ff2500,#ff1900,#ff1400,#ff1500,#ff1d00,#ff2b00,#ff4100,#ff8600,#ffe200,#c4ff3b,#6eff92,#1dffe2,#00cfff,#0085ff,#003eff,#0000ff)"></i><i style="background:linear-gradient(#0000ff,#005aff,#00b5ff,#11ffee,#6dff93,#ccff33,#ffd000,#ff7100,#ff3e00,#ff2a00,#ff1d00,#ff1800,#ff1a00,#ff2200,#ff3100,#ff4800,#ff8d00,#ffe700,#c1ff3f,#6bff94,#1bffe4,#00ceff,#0084ff,#003dff,#0000ff)"></i><i style="background:linear-gradient(#0000ff,#005aff,#00b5ff,#10ffef,#6bff95,#c9ff36,#ffd500,#ff7700,#ff4400,#ff2f00,#ff2200,#ff1d00,#ff1f00,#ff2700,#ff3700,#ff4e00,#ff9400,#ffed00,#bdff43,#69ff97,#19ffe6,#00ccff,#0083ff,#003dff,#0000ff)"></i><i style="background:linear-gradient(#0000ff,#005aff,#00b4ff,#0ffff1,#69ff97,#c6ff39,#ffda00,#ff7e00,#ff4a00,#ff3400,#ff2700,#ff2200,#ff2300,#ff2c00,#ff3c00,#ff5500,#ff9b00,#fff200,#b9ff46,#66ff9a,#17ffe8,#00cbff,#0082ff,#003dff,#0000ff)"></i><i style="background:linear-gradient(#0000ff,#0059ff,#00b3ff,#0dfff2,#67ff99,#c3ff3c,#ffdf00,#ff8400,#ff5000,#ff3a00,#ff2c00,#ff2700,#ff2800,#ff3200,#ff4200,#ff5c00,#ffa200,#fff800,#b6ff4a,#63ff9d,#15ffea,#00caff,#0081ff,#003cff,#0000ff)"></i><i style="background:linear-gradient(#0000ff,#0059ff,#00b2ff,#0cfff3,#65ff9a,#c1ff3f,#ffe400,#ff8900,#ff5600,#ff3f00,#ff3100,#ff2b00,#ff2d00,#ff3700,#ff4800,#ff6200,#ffa800,#fffd00,#b2ff4e,#61ff9f,#14ffec,#00c8ff,#0080ff,#003cff,#0000ff)"></i><i style="background:linear-gradient(#0000ff,#0059ff,#00b2ff,#0bfff4,#64ff9c,#beff41,#ffe800,#ff8f00,#ff5b00,#ff4400,#ff3500,#ff3000,#ff3200,#ff3c00,#ff4d00,#ff6800,#ffae00,#fcff03,#afff51,#5effa2,#12ffed,#00c7ff,#007fff,#003bff,#0000ff)"></i><i style="background:linear-gradient(#0000ff,#0058ff,#00b1ff,#0afff5,#62ff9e,#bcff44,#ffec00,#ff9400,#ff6000,#ff4800,#ff3a00,#ff3400,#ff3600,#ff4000,#ff5300,#ff6e00,#ffb400,#f8ff07,#acff54,#5cffa4,#10ffef,#00c6ff,#007eff,#003bff,#0000ff)"></i><i style="background:linear-gradient(#0000ff,#0058ff,#00b1ff,#09fff6,#61ff9f,#baff46,#ffef00,#ff9800,#ff6500,#ff4d00,#ff3e00,#ff3800,#ff3a00,#ff4500,#ff5700,#ff7400,#ffb900,#f4ff0b,#a9ff57,#5affa6,#0ffff1,#00c5ff,#007eff,#003aff,#0000ff)"></i><i style="background:linear-gradient(#0000ff,#0058ff,#00b0ff,#08fff7,#5fffa0,#b8ff48,#fff300,#ff9d00,#ff6900,#ff5100,#ff4200,#ff3c00,#ff3e00,#ff4900,#ff5c00,#ff7900,#ffbf00,#f0ff0f,#a6ff5a,#58ffa8,#0dfff2,#00c3ff,#007dff,#003aff,#0000ff)"></i><i style="background:linear-gradient(#0000ff,#0058ff,#00afff,#07fff8,#5effa2,#b5ff4a,#fff600,#ffa100,#ff6e00,#ff5500,#ff4600,#ff4000,#ff4200,#ff4d00,#ff6100,#ff7e00,#ffc400,#edff12,#a3ff5c,#56ffaa,#0bfff4,#00c2ff,#007cff,#003aff,#0000ff)"></i><i style="background:linear-gradient(#0000ff,#0057ff,#00afff,#06fff9,#5dffa3,#b3ff4c,#fff900,#ffa600,#ff7300,#ff5900,#ff4a00,#ff4400,#ff4600,#ff5200,#ff6600,#ff8400,#ffc900,#e9ff16,#a1ff5f,#53ffac,#0afff5,#00c1ff,#007bff,#0039ff,#0000ff)"></i><i style="background:linear-gradient(#0000ff,#0057ff,#00aeff,#05fffa,#5bffa5,#b1ff4e,#fffd00,#ffaa00,#ff7700,#ff5e00,#ff4e00,#ff4800,#ff4a00,#ff5600,#ff6b00,#ff8900,#ffce00,#e6ff1a,#9eff62,#51ffae,#08fff7,#00c0ff,#007bff,#0039ff,#0000ff)"></i><i style="background:linear-gradient(#0000ff,#0057ff,#00aeff,#04fffb,#5affa6,#afff50,#feff01,#ffaf00,#ff7c00,#ff6200,#ff5200,#ff4c00,#ff4f00,#ff5a00,#ff6f00,#ff8e00,#ffd200,#e2ff1d,#9bff65,#4fffb0,#07fff8,#00bfff,#007aff,#0039ff,#0000ff)"></i><i style="background:linear-gradient(#0000ff,#0057ff,#00adff,#04fffb,#58ffa7,#adff53,#fbff04,#ffb300,#ff8100,#ff6700,#ff5600,#ff5000,#ff5300,#ff5f00,#ff7400,#ff9400,#ffd700,#dfff21,#98ff67,#4dffb2,#05fffa,#00beff,#0079ff,#0038ff,#0000ff)"></i><i style="background:linear-gradient(#0000ff,#0056ff,#00adff,#03fffc,#57ffa9,#abff55,#f7ff08,#ffb800,#ff8600,#ff6b00,#ff5b00,#ff5400,#ff5700,#ff6400,#ff7a00,#ff9a00,#ffdd00,#dbff24,#96ff6a,#4bffb5,#04fffb,#00bdff,#0079ff,#0038ff,#0000ff)"></i><i style="background:linear-gradient(#0000ff,#0056ff,#00acff,#01fffe,#55ffaa,#a8ff57,#f4ff0b,#ffbd00,#ff8b00,#ff7000,#ff6000,#ff5900,#ff5c00,#ff6900,#ff7f00,#ff9f00,#ffe200,#d8ff28,#93ff6d,#49ffb7,#02fffd,#00bbff,#0078ff,#0038ff,#0000ff)"></i><i style="background:linear-gradient(#0000ff,#0056ff,#00abff,#00ffff,#53ffac,#a6ff5a,#f0ff0f,#ffc200,#ff9100,#ff7500,#ff6500,#ff5e00,#ff6100,#ff6e00,#ff8500,#ffa600,#ffe700,#d4ff2c,#90ff70,#47ffb9,#00ffff,#00baff,#0077ff,#0037ff,#0000ff)"></i><i style="background:linear-gradient(#0000ff,#0056ff,#00abff,#00feff,#52ffae,#a3ff5c,#edff13,#ffc700,#ff9600,#ff7b00,#ff6a00,#ff6300,#ff6600,#ff7400,#ff8b00,#ffac00,#ffec00,#d0ff2f,#8dff73,#44ffbb,#00fdff,#00b9ff,#0076ff,#0037ff,#0000ff)"></i><i style="background:linear-gradient(#0000ff,#0055ff,#00aaff,#00fdff,#50ffb0,#a1ff5f,#e9ff16,#ffcd00,#ff9c00,#ff8000,#ff6f00,#ff6800,#ff6c00,#ff7900,#ff9100,#ffb200,#fff200,#ccff33,#89ff76,#42ffbe,#00fcff,#00b8ff,#0075ff,#0036ff,#0000ff)"></i><i style="background:linear-gradient(#0000ff,#0055ff,#00a9ff,#00fcff,#4effb2,#9eff62,#e5ff1a,#ffd200,#ffa200,#ff8600,#ff7400,#ff6e00,#ff7100,#ff7f00,#ff9700,#ffb900,#fff700,#c8ff37,#86ff7a,#3fffc0,#00faff,#00b6ff,#0074ff,#0036ff,#0000ff)"></i><i style="background:linear-gradient(#0000ff,#0055ff,#00a8ff,#00faff,#4cffb3,#9bff64,#e1ff1e,#ffd800,#ffa800,#ff8c00,#ff7a00,#ff7300,#ff7700,#ff8500,#ff9d00,#ffbf00,#fffd00,#c4ff3b,#83ff7d,#3dffc2,#00f8ff,#00b5ff,#0074ff,#0035ff,#0000ff)"></i><i style="background:linear-gradient(#0000ff,#0054ff,#00a8ff,#00f9ff,#4affb5,#98ff67,#deff22,#ffdd00,#ffae00,#ff9200,#ff8000,#ff7900,#ff7d00,#ff8b00,#ffa300,#ffc600,#fcff03,#c0ff3f,#80ff80,#3bffc5,#00f6ff,#00b4ff,#0073ff,#0035ff,#0000ff)"></i><i style="background:linear-gradient(#0000ff,#0054ff,#00a7ff,#00f8ff,#48ffb7,#96ff6a,#daff26,#ffe300,#ffb400,#ff9800,#ff8600,#ff7f00,#ff8300,#ff9200,#ffaa00,#ffcd00,#f6ff09,#bcff43,#7cff84,#38ffc7,#00f4ff,#00b2ff,#0072ff,#0035ff,#0000ff)"></i><i style="background:linear-gradient(#0000ff,#0053ff,#00a6ff,#00f6ff,#46ffba,#93ff6d,#d6ff29,#ffe900,#ffbb00,#ff9e00,#ff8c00,#ff8500,#ff8900,#ff9800,#ffb100,#ffd400,#f1ff0e,#b8ff48,#79ff87,#35ffca,#00f2ff,#00b1ff,#0071ff,#0034ff,#0000ff)"></i><i style="background:linear-gradient(#0000ff,#0053ff,#00a5ff,#00f5ff,#44ffbc,#8fff70,#d2ff2d,#ffef00,#ffc100,#ffa400,#ff9200,#ff8b00,#ff9000,#ff9f00,#ffb700,#ffda00,#ecff14,#b4ff4c,#76ff8a,#33ffcd,#00f0ff,#00b0ff,#0070ff,#0034ff,#0000ff)"></i><i style="background:linear-gradient(#0000ff,#0053ff,#00a4ff,#00f4ff,#42ffbe,#8cff74,#ceff31,#fff400,#ffc800,#ffab00,#ff9800,#ff9200,#ff9600,#ffa500,#ffbe00,#ffe100,#e6ff19,#b0ff50,#72ff8e,#30ffcf,#00eeff,#00aeff,#006fff,#0033ff,#0000ff)"></i><i style="background:linear-gradient(#0000ff,#0052ff,#00a3ff,#00f2ff,#3fffc0,#89ff77,#caff36,#fffa00,#ffce00,#ffb100,#ff9f00,#ff9800,#ff9d00,#ffac00,#ffc500,#ffe800,#e1ff1e,#abff54,#6fff91,#2effd2,#00ecff,#00adff,#006eff,#0033ff,#0000ff)"></i><i style="background:linear-gradient(#0000ff,#0052ff,#00a2ff,#00f0ff,#3dffc2,#86ff7a,#c6ff3a,#feff01,#ffd500,#ffb800,#ffa600,#ff9f00,#ffa300,#ffb300,#ffcc00,#ffef00,#dcff23,#a7ff59,#6bff95,#2bffd5,#00eaff,#00abff,#006dff,#0032ff,#0000ff)"></i><i style="background:linear-gradient(#0000ff,#0051ff,#00a1ff,#00efff,#3bffc5,#83ff7d,#c1ff3e,#f8ff07,#ffdb00,#ffbf00,#ffac00,#ffa600,#ffaa00,#ffba00,#ffd300,#fff600,#d7ff29,#a2ff5d,#67ff99,#28ffd7,#00e8ff,#00aaff,#006cff,#0032ff,#0000ff)"></i><i style="background:linear-gradient(#0000ff,#0051ff,#00a0ff,#00edff,#38ffc7,#7fff81,#bdff43,#f2ff0d,#ffe200,#ffc500,#ffb300,#ffad00,#ffb100,#ffc100,#ffdb00,#fffd00,#d1ff2e,#9eff62,#64ff9c,#25ffda,#00e6ff,#00a8ff,#006bff,#0031ff,#0000ff)"></i><i style="background:linear-gradient(#0000ff,#0050ff,#009fff,#00ebff,#36ffca,#7bff85,#b8ff47,#ecff13,#ffe900,#ffcd00,#ffba00,#ffb400,#ffb900,#ffc800,#ffe200,#faff05,#ccff33,#99ff67,#60ffa0,#22ffdd,#00e4ff,#00a7ff,#006aff,#0031ff,#0000ff)"></i><i style="background:linear-gradient(#0000ff,#0050ff,#009eff,#00e9ff,#33ffcd,#77ff89,#b3ff4c,#e6ff19,#fff100,#ffd400,#ffc200,#ffbb00,#ffc000,#ffd000,#ffe900,#f3ff0c,#c7ff38,#95ff6b,#5cffa3,#20ffdf,#00e2ff,#00a5ff,#006aff,#0031ff,#0000ff)"></i><i style="background:linear-gradient(#0000ff,#004fff,#009dff,#00e7ff,#30ffd0,#73ff8d,#aeff51,#e0ff1f,#fff800,#ffdc00,#ffc900,#ffc300,#ffc800,#ffd700,#fff100,#edff13,#c2ff3e,#90ff70,#59ffa7,#1dffe2,#00e0ff,#00a4ff,#0069ff,#0030ff,#0000ff)"></i><i style="background:linear-gradient(#0000ff,#004eff,#009bff,#00e5ff,#2dffd3,#6fff91,#a9ff57,#daff26,#ffff00,#ffe300,#ffd100,#ffcb00,#ffd000,#ffdf00,#fff800,#e6ff19,#bcff44,#8bff74,#55ffab,#1affe5,#00deff,#00a3ff,#0068ff,#0030ff,#0000ff)"></i><i style="background:linear-gradient(#0000ff,#004eff,#009aff,#00e3ff,#2affd6,#6bff95,#a4ff5c,#d3ff2c,#f7ff08,#ffeb00,#ffd900,#ffd300,#ffd800,#ffe700,#feff01,#dfff20,#b6ff49,#87ff79,#51ffaf,#17ffe8,#00dcff,#00a1ff,#0067ff,#0030ff,#0000ff)"></i><i style="background:linear-gradient(#0000ff,#004dff,#0098ff,#00e1ff,#26ffd9,#66ff9a,#9eff62,#cdff33,#f0ff0f,#fff300,#ffe100,#ffdb00,#ffe000,#ffef00,#f7ff08,#d8ff27,#b0ff4f,#82ff7e,#4dffb3,#14ffeb,#00daff,#00a0ff,#0066ff,#002fff,#0000ff)"></i><i style="background:linear-gradient(#0000ff,#004cff,#0097ff,#00deff,#23ffdc,#62ff9e,#98ff67,#c6ff39,#e8ff17,#fffb00,#ffea00,#ffe300,#ffe800,#fff700,#efff10,#d2ff2e,#aaff55,#7cff83,#49ffb7,#11ffee,#00d8ff,#009eff,#0065ff,#002fff,#0000ff)"></i><i style="background:linear-gradient(#0000ff,#004bff,#0095ff,#00dcff,#1fffe0,#5dffa3,#92ff6e,#bfff40,#e1ff1e,#fbff04,#fff200,#ffec00,#fff100,#feff01,#e7ff18,#caff35,#a4ff5c,#77ff89,#44ffbb,#0efff1,#00d5ff,#009cff,#0064ff,#002eff,#0000ff)"></i><i style="background:linear-gradient(#0000ff,#004bff,#0093ff,#00d9ff,#1bffe4,#57ffa8,#8cff74,#b8ff48,#d9ff26,#f2ff0d,#fffb00,#fff500,#fffa00,#f6ff09,#dfff20,#c3ff3d,#9dff63,#71ff8f,#40ffc0,#0bfff4,#00d3ff,#009aff,#0063ff,#002eff,#0000ff)"></i><i style="background:linear-gradient(#0000ff,#004aff,#0092ff,#00d6ff,#17ffe8,#52ffae,#85ff7b,#b0ff50,#d1ff2e,#e9ff16,#f9ff06,#fffe00,#fbff04,#edff12,#d7ff28,#bbff45,#96ff6a,#6bff95,#3bffc5,#07fff8,#00d0ff,#0099ff,#0062ff,#002dff,#0000ff)"></i><i style="background:linear-gradient(#0000ff,#0049ff,#0090ff,#00d3ff,#13ffec,#4cffb4,#7eff82,#a7ff58,#c8ff37,#e0ff1f,#f0ff0f,#f6ff09,#f1ff0e,#e4ff1c,#cfff31,#b2ff4e,#8eff72,#64ff9b,#35ffca,#03fffc,#00cdff,#0096ff,#0060ff,#002dff,#0000ff)"></i><i style="background:linear-gradient(#0000ff,#0047ff,#008dff,#00cfff,#0efff1,#46ffba,#76ff89,#9fff60,#c0ff40,#d7ff28,#e6ff19,#ebff14,#e7ff18,#daff25,#c6ff3a,#aaff56,#87ff79,#5effa2,#30ffd0,#00fdff,#00c9ff,#0094ff,#005fff,#002cff,#0000ff)"></i><i style="background:linear-gradient(#0000ff,#0046ff,#008aff,#00cbff,#08fff7,#3fffc1,#6fff91,#97ff69,#b6ff49,#cdff32,#dbff24,#e1ff1f,#ddff22,#d1ff2f,#bcff43,#a1ff5f,#7fff81,#56ffa9,#29ffd6,#00f8ff,#00c5ff,#0091ff,#005dff,#002bff,#0000ff)"></i><i style="background:linear-gradient(#0000ff,#0044ff,#0087ff,#00c6ff,#02fffd,#37ffc8,#66ff9a,#8dff73,#acff53,#c3ff3d,#d0ff2f,#d5ff2a,#d2ff2e,#c6ff3a,#b2ff4e,#97ff69,#76ff8a,#4effb1,#22ffdd,#00f2ff,#00c0ff,#008dff,#005bff,#002aff,#0000ff)"></i><i style="background:linear-gradient(#0000ff,#0043ff,#0083ff,#00c1ff,#00faff,#2fffd0,#5dffa3,#83ff7d,#a1ff5f,#b7ff49,#c4ff3b,#c9ff36,#c5ff3a,#baff46,#a7ff59,#8cff74,#6cff94,#45ffba,#1bffe5,#00ecff,#00bbff,#0089ff,#0058ff,#0029ff,#0000ff)"></i><i style="background:linear-gradient(#0000ff,#0040ff,#007fff,#00bbff,#00f3ff,#26ffd9,#52ffae,#77ff89,#94ff6c,#a9ff56,#b6ff49,#bbff44,#b8ff48,#acff53,#9aff66,#80ff80,#61ff9f,#3bffc4,#12ffed,#00e4ff,#00b5ff,#0085ff,#0055ff,#0028ff,#0000ff)"></i><i style="background:linear-gradient(#0000ff,#003eff,#007aff,#00b4ff,#00e9ff,#1affe5,#45ffbb,#68ff98,#84ff7b,#99ff67,#a5ff5a,#aaff56,#a7ff59,#9cff64,#8aff76,#71ff8f,#53ffad,#2fffd0,#07fff8,#00dbff,#00aeff,#0080ff,#0052ff,#0026ff,#0000ff)"></i><i style="background:linear-gradient(#0000ff,#003bff,#0074ff,#00abff,#00deff,#0dfff2,#35ffca,#57ffa9,#72ff8e,#86ff7a,#91ff6e,#96ff6a,#93ff6d,#88ff78,#77ff89,#60ffa0,#43ffbd,#21ffdf,#00faff,#00d1ff,#00a6ff,#007aff,#004eff,#0024ff,#0000ff)"></i><i style="background:linear-gradient(#0000ff,#0038ff,#006fff,#00a2ff,#00d3ff,#00feff,#26ffda,#46ffba,#5fffa0,#72ff8e,#7dff83,#81ff7f,#7eff82,#74ff8b,#64ff9c,#4effb2,#32ffcd,#12ffed,#00edff,#00c6ff,#009dff,#0074ff,#004aff,#0022ff,#0000ff)"></i><i style="background:linear-gradient(#0000ff,#0035ff,#0069ff,#009aff,#00c8ff,#00f1ff,#16ffe9,#35ffcb,#4dffb3,#5fffa1,#69ff96,#6dff93,#6bff95,#61ff9f,#52ffae,#3dffc3,#22ffdd,#04fffb,#00e1ff,#00bcff,#0095ff,#006eff,#0046ff,#0021ff,#0000ff)"></i><i style="background:linear-gradient(#0000ff,#0032ff,#0063ff,#0091ff,#00bdff,#00e4ff,#07fff8,#24ffdc,#3bffc5,#4bffb4,#55ffaa,#59ffa7,#56ffa9,#4dffb2,#3fffc1,#2bffd4,#12ffed,#00f4ff,#00d4ff,#00b1ff,#008dff,#0068ff,#0042ff,#001fff,#0000ff)"></i><i style="background:linear-gradient(#0000ff,#002fff,#005dff,#0089ff,#00b1ff,#00d6ff,#00f6ff,#12ffed,#28ffd8,#37ffc8,#41ffbf,#44ffbb,#42ffbe,#3affc6,#2cffd4,#19ffe6,#02fffd,#00e6ff,#00c8ff,#00a7ff,#0085ff,#0061ff,#003eff,#001dff,#0000ff)"></i><i style="background:linear-gradient(#0000ff,#002cff,#0057ff,#0080ff,#00a6ff,#00c8ff,#00e6ff,#01fffe,#15ffea,#23ffdc,#2cffd3,#30ffd0,#2dffd2,#26ffda,#19ffe7,#07fff8,#00f0ff,#00d7ff,#00bbff,#009cff,#007cff,#005bff,#003aff,#001bff,#0000ff)"></i><i style="background:linear-gradient(#0000ff,#0029ff,#0051ff,#0077ff,#009bff,#00bbff,#00d7ff,#00eeff,#02fffd,#10ffef,#18ffe7,#1bffe4,#19ffe6,#12ffee,#06fff9,#00f4ff,#00e0ff,#00c8ff,#00aeff,#0092ff,#0074ff,#0055ff,#0036ff,#0019ff,#0000ff)"></i><i style="background:linear-gradient(#0000ff,#0026ff,#004bff,#006fff,#008fff,#00adff,#00c7ff,#00ddff,#00eeff,#00fbff,#04fffb,#06fff9,#04fffb,#00fdff,#00f2ff,#00e2ff,#00d0ff,#00baff,#00a1ff,#0087ff,#006bff,#004fff,#0032ff,#0017ff,#0000ff)"></i><i style="background:linear-gradient(#0000ff,#0023ff,#0045ff,#0066ff,#0084ff,#00a0ff,#00b8ff,#00ccff,#00dcff,#00e8ff,#00efff,#00f1ff,#00efff,#00e9ff,#00dfff,#00d1ff,#00c0ff,#00abff,#0095ff,#007cff,#0063ff,#0049ff,#002fff,#0016ff,#0000ff)"></i><i style="background:linear-gradient(#0000ff,#0020ff,#0040ff,#005dff,#0079ff,#0092ff,#00a8ff,#00bbff,#00c9ff,#00d4ff,#00dbff,#00ddff,#00dbff,#00d6ff,#00ccff,#00bfff,#00b0ff,#009dff,#0088ff,#0072ff,#005bff,#0043ff,#002bff,#0014ff,#0000ff)"></i><i style="background:linear-gradient(#0000ff,#001dff,#003aff,#0055ff,#006eff,#0085ff,#0099ff,#00aaff,#00b7ff,#00c1ff,#00c7ff,#00c9ff,#00c7ff,#00c2ff,#00baff,#00aeff,#00a0ff,#008fff,#007cff,#0068ff,#0052ff,#003dff,#0027ff,#0012ff,#0000ff)"></i><i style="background:linear-gradient(#0000ff,#001aff,#0034ff,#004cff,#0063ff,#0078ff,#008aff,#0099ff,#00a5ff,#00adff,#00b3ff,#00b5ff,#00b3ff,#00afff,#00a7ff,#009dff,#0090ff,#0080ff,#0070ff,#005dff,#004aff,#0036ff,#0023ff,#0010ff,#0000ff)"></i><i style="background:linear-gradient(#0000ff,#0017ff,#002eff,#0044ff,#0058ff,#006aff,#007aff,#0088ff,#0093ff,#009aff,#009fff,#00a1ff,#00a0ff,#009bff,#0095ff,#008bff,#0080ff,#0072ff,#0063ff,#0053ff,#0042ff,#0030ff,#001fff,#000eff,#0000ff)"></i><i style="background:linear-gradient(#0000ff,#0015ff,#0029ff,#003cff,#004dff,#005dff,#006bff,#0077ff,#0081ff,#0087ff,#008cff,#008dff,#008cff,#0088ff,#0082ff,#007aff,#0070ff,#0064ff,#0057ff,#0049ff,#003aff,#002aff,#001bff,#000dff,#0000ff)"></i><i style="background:linear-gradient(#0000ff,#0012ff,#0023ff,#0033ff,#0043ff,#0050ff,#005cff,#0067ff,#006fff,#0075ff,#0078ff,#0079ff,#0078ff,#0075ff,#0070ff,#0069ff,#0060ff,#0056ff,#004bff,#003fff,#0032ff,#0025ff,#0017ff,#000bff,#0000ff)"></i><i style="background:linear-gradient(#0000ff,#000fff,#001dff,#002bff,#0038ff,#0043ff,#004dff,#0056ff,#005dff,#0061ff,#0064ff,#0066ff,#0065ff,#0062ff,#005eff,#0058ff,#0051ff,#0048ff,#003fff,#0034ff,#002aff,#001fff,#0014ff,#0009ff,#0000ff)"></i><i style="background:linear-gradient(#0000ff,#000cff,#0017ff,#0023ff,#002dff,#0036ff,#003eff,#0045ff,#004aff,#004eff,#0051ff,#0052ff,#0051ff,#004fff,#004bff,#0047ff,#0041ff,#003aff,#0032ff,#002aff,#0021ff,#0019ff,#0010ff,#0007ff,#0000ff)"></i><i style="background:linear-gradient(#0000ff,#0009ff,#0012ff,#001aff,#0022ff,#0029ff,#002fff,#0035ff,#0039ff,#003cff,#003eff,#003eff,#003eff,#003cff,#0039ff,#0036ff,#0031ff,#002cff,#0026ff,#0020ff,#0019ff,#0013ff,#000cff,#0006ff,#0000ff)"></i><i style="background:linear-gradient(#0000ff,#0006ff,#000dff,#0012ff,#0018ff,#001dff,#0021ff,#0025ff,#0028ff,#002aff,#002bff,#002cff,#002bff,#002aff,#0028ff,#0026ff,#0023ff,#001fff,#001bff,#0017ff,#0012ff,#000dff,#0008ff,#0004ff,#0000ff)"></i><i style="background:linear-gradient(#0000ff,#0004ff,#0008ff,#000bff,#000fff,#0012ff,#0014ff,#0017ff,#0018ff,#001aff,#001aff,#001bff,#001bff,#001aff,#0019ff,#0017ff,#0015ff,#0013ff,#0011ff,#000eff,#000bff,#0008ff,#0005ff,#0002ff,#0000ff)"></i><i style="background:linear-gradient(#0000ff,#0002ff,#0003ff,#0005ff,#0006ff,#0008ff,#0009ff,#000aff,#000aff,#000bff,#000bff,#000bff,#000bff,#000bff,#000bff,#000aff,#0009ff,#0008ff,#0007ff,#0006ff,#0005ff,#0003ff,#0002ff,#0001ff,#0000ff)"></i><i style="flex-basis:0.3px;background:linear-gradient(#0000ff,#0000ff,#0001ff,#0001ff,#0001ff,#0001ff,#0002ff,#0002ff,#0002ff,#0002ff,#0002ff,#0002ff,#0002ff,#0002ff,#0002ff,#0002ff,#0002ff,#0001ff,#0001ff,#0001ff,#0001ff,#0001ff,#0000ff,#0000ff,#0000ff)"></i></div>
<div class="hm" style="left:36px;top:214px;width:129.7px;height:63.6px"><i style="background:linear-gradient(#0000ff,#005bff,#00b8ff,#17ffe8,#76ff8a,#dcff23,#ffae00,#ff4400,#fe0000,#f80000,#f30000,#f10000,#f00000,#f10000,#f50000,#f90000,#ff0d00,#ff5f00,#ffce00,#c3ff3c,#62ff9e,#06fff9,#00acff,#0054ff,#0000ff)"></i><i style="background:linear-gradient(#0000ff,#005bff,#00b8ff,#17ffe8,#76ff8a,#dcff23,#ffae00,#ff4400,#fe0000,#f80000,#f30000,#f10000,#f00000,#f10000,#f50000,#f90000,#ff0d00,#ff5f00,#ffce00,#c3ff3c,#62ff9e,#06fff9,#00acff,#0054ff,#0000ff)"></i><i style="background:linear-gradient(#0000ff,#005bff,#00b8ff,#17ffe8,#76ff8a,#dcff23,#ffae00,#ff4400,#fe0000,#f80000,#f30000,#f10000,#f00000,#f10000,#f50000,#f90000,#ff0e00,#ff5f00,#ffcf00,#c3ff3c,#61ff9e,#06fff9,#00acff,#0054ff,#0000ff)"></i><i style="background:linear-gradient(#0000ff,#005bff,#00b8ff,#17ffe8,#76ff8a,#dcff23,#ffae00,#ff4400,#fe0000,#f80000,#f30000,#f10000,#f00000,#f10000,#f50000,#fa0000,#ff0e00,#ff5f00,#ffcf00,#c3ff3d,#61ff9e,#06fff9,#00acff,#0054ff,#0000ff)"></i><i style="background:linear-gradient(#0000ff,#005bff,#00b8ff,#17ffe8,#76ff8a,#dcff23,#ffae00,#ff4400,#fe0000,#f80000,#f30000,#f10000,#f00000,#f10000,#f50000,#fa0000,#ff0e00,#ff5f00,#ffcf00,#c3ff3d,#61ff9f,#06fff9,#00acff,#0054ff,#0000ff)"></i><i style="background:linear-gradient(#0000ff,#005bff,#00b8ff,#17ffe8,#76ff8a,#dcff23,#ffae00,#ff4400,#fe0000,#f80000,#f30000,#f10000,#f00000,#f10000,#f50000,#fa0000,#ff0e00,#ff5f00,#ffcf00,#c3ff3d,#61ff9f,#06fff9,#00abff,#0054ff,#0000ff)"></i><i style="background:linear-gradient(#0000ff,#005bff,#00b8ff,#17ffe8,#76ff8a,#dcff23,#ffae00,#ff4400,#fe0000,#f80000,#f30000,#f10000,#f00000,#f10000,#f50000,#fa0000,#ff0e00,#ff6000,#ffcf00,#c3ff3d,#61ff9f,#06fff9,#00abff,#0054ff,#0000ff)"></i><i style="background:linear-gradient(#0000ff,#005bff,#00b8ff,#17ffe8,#76ff8a,#dcff23,#ffae00,#ff4400,#ff0000,#f80000,#f30000,#f10000,#f00000,#f20000,#f50000,#fa0000,#ff0e00,#ff6000,#ffd000,#c2ff3d,#61ff9f,#06fff9,#00abff,#0054ff,#0000ff)"></i><i style="background:linear-gradient(#0000ff,#005bff,#00b8ff,#17ffe8,#76ff8a,#dcff23,#ffae00,#ff4400,#ff0000,#f80000,#f40000,#f10000,#f00000,#f20000,#f50000,#fa0000,#ff0e00,#ff6000,#ffd000,#c2ff3d,#61ff9f,#06fff9,#00abff,#0054ff,#0000ff)"></i><i style="background:linear-gradient(#0000ff,#005bff,#00b8ff,#17ffe8,#76ff8a,#dcff23,#ffae00,#ff4400,#ff0000,#f80000,#f40000,#f10000,#f00000,#f20000,#f50000,#fa0000,#ff0f00,#ff6000,#ffd000,#c2ff3d,#61ff9f,#05fffa,#00abff,#0054ff,#0000ff)"></i><i style="background:linear-gradient(#0000ff,#005bff,#00b8ff,#17ffe8,#76ff8a,#dcff23,#ffae00,#ff4500,#ff0000,#f80000,#f40000,#f10000,#f00000,#f20000,#f50000,#fa0000,#ff0f00,#ff6100,#ffd000,#c2ff3e,#60ff9f,#05fffa,#00abff,#0054ff,#0000ff)"></i><i style="background:linear-gradient(#0000ff,#005bff,#00b8ff,#17ffe8,#76ff8a,#dcff23,#ffae00,#ff4500,#ff0000,#f80000,#f40000,#f10000,#f00000,#f20000,#f50000,#fa0000,#ff0f00,#ff6100,#ffd100,#c2ff3e,#60ffa0,#05fffa,#00abff,#0054ff,#0000ff)"></i><i style="background:linear-gradient(#0000ff,#005bff,#00b8ff,#17ffe9,#76ff8a,#dcff24,#ffae00,#ff4500,#ff0000,#f80000,#f40000,#f10000,#f00000,#f20000,#f50000,#fa0000,#ff0f00,#ff6100,#ffd100,#c1ff3e,#60ffa0,#05fffa,#00abff,#0054ff,#0000ff)"></i><i style="background:linear-gradient(#0000ff,#005bff,#00b8ff,#17ffe9,#76ff8a,#dcff24,#ffaf00,#ff4500,#ff0000,#f80000,#f40000,#f10000,#f10000,#f20000,#f50000,#fa0000,#ff1000,#ff6100,#ffd100,#c1ff3e,#60ffa0,#05fffa,#00abff,#0054ff,#0000ff)"></i><i style="background:linear-gradient(#0000ff,#005bff,#00b8ff,#17ffe9,#76ff8a,#dcff24,#ffaf00,#ff4500,#ff0000,#f80000,#f40000,#f10000,#f10000,#f20000,#f50000,#fa0000,#ff1000,#ff6200,#ffd200,#c1ff3e,#60ffa0,#05fffa,#00abff,#0053ff,#0000ff)"></i><i style="background:linear-gradient(#0000ff,#005bff,#00b8ff,#16ffe9,#76ff8a,#dbff24,#ffaf00,#ff4500,#ff0000,#f80000,#f40000,#f10000,#f10000,#f20000,#f50000,#fa0000,#ff1000,#ff6200,#ffd200,#c1ff3f,#60ffa0,#05fffa,#00abff,#0053ff,#0000ff)"></i><i style="background:linear-gradient(#0000ff,#005bff,#00b8ff,#16ffe9,#76ff8a,#dbff24,#ffaf00,#ff4600,#ff0000,#f80000,#f40000,#f10000,#f10000,#f20000,#f50000,#fa0000,#ff1000,#ff6200,#ffd200,#c1ff3f,#5fffa0,#05fffa,#00aaff,#0053ff,#0000ff)"></i><i style="background:linear-gradient(#0000ff,#005bff,#00b8ff,#16ffe9,#75ff8a,#dbff24,#ffaf00,#ff4600,#ff0000,#f80000,#f40000,#f20000,#f10000,#f20000,#f50000,#fa0000,#ff1100,#ff6300,#ffd300,#c0ff3f,#5fffa1,#04fffb,#00aaff,#0053ff,#0000ff)"></i><i style="background:linear-gradient(#0000ff,#005bff,#00b8ff,#16ffe9,#75ff8b,#dbff24,#ffb000,#ff4600,#ff0000,#f90000,#f40000,#f20000,#f10000,#f20000,#f60000,#fa0000,#ff1100,#ff6300,#ffd300,#c0ff3f,#5fffa1,#04fffb,#00aaff,#0053ff,#0000ff)"></i><i style="background:linear-gradient(#0000ff,#005bff,#00b8ff,#16ffe9,#75ff8b,#dbff24,#ffb000,#ff4600,#ff0100,#f90000,#f40000,#f20000,#f10000,#f20000,#f60000,#fb0000,#ff1100,#ff6400,#ffd300,#c0ff40,#5fffa1,#04fffb,#00aaff,#0053ff,#0000ff)"></i><i style="background:linear-gradient(#0000ff,#005bff,#00b8ff,#16ffe9,#75ff8b,#dbff24,#ffb000,#ff4600,#ff0100,#f90000,#f40000,#f20000,#f10000,#f30000,#f60000,#fb0000,#ff1200,#ff6400,#ffd400,#c0ff40,#5fffa1,#04fffb,#00aaff,#0053ff,#0000ff)"></i><i style="background:linear-gradient(#0000ff,#005bff,#00b8ff,#16ffe9,#75ff8b,#dbff25,#ffb000,#ff4700,#ff0100,#f90000,#f40000,#f20000,#f10000,#f30000,#f60000,#fb0000,#ff1200,#ff6400,#ffd400,#bfff40,#5effa1,#04fffb,#00aaff,#0053ff,#0000ff)"></i><i style="background:linear-gradient(#0000ff,#005bff,#00b8ff,#16ffe9,#75ff8b,#dbff25,#ffb000,#ff4700,#ff0100,#f90000,#f50000,#f20000,#f10000,#f30000,#f60000,#fb0000,#ff1200,#ff6500,#ffd400,#bfff40,#5effa2,#04fffb,#00aaff,#0053ff,#0000ff)"></i><i style="background:linear-gradient(#0000ff,#005bff,#00b8ff,#16ffe9,#75ff8b,#daff25,#ffb100,#ff4700,#ff0200,#f90000,#f50000,#f20000,#f10000,#f30000,#f60000,#fb0000,#ff1300,#ff6500,#ffd500,#bfff41,#5effa2,#03fffc,#00aaff,#0053ff,#0000ff)"></i><i style="background:linear-gradient(#0000ff,#005bff,#00b7ff,#16ffe9,#75ff8b,#daff25,#ffb100,#ff4700,#ff0200,#f90000,#f50000,#f20000,#f20000,#f30000,#f60000,#fb0000,#ff1300,#ff6600,#ffd500,#beff41,#5effa2,#03fffc,#00aaff,#0053ff,#0000ff)"></i><i style="background:linear-gradient(#0000ff,#005bff,#00b7ff,#16ffe9,#75ff8b,#daff25,#ffb100,#ff4800,#ff0200,#f90000,#f50000,#f20000,#f20000,#f30000,#f60000,#fb0000,#ff1300,#ff6600,#ffd600,#beff41,#5dffa2,#03fffc,#00a9ff,#0053ff,#0000ff)"></i><i style="background:linear-gradient(#0000ff,#005bff,#00b7ff,#16ffea,#74ff8b,#daff25,#ffb100,#ff4800,#ff0300,#f90000,#f50000,#f20000,#f20000,#f30000,#f60000,#fb0000,#ff1400,#ff6600,#ffd600,#beff42,#5dffa2,#03fffc,#00a9ff,#0053ff,#0000ff)"></i><i style="background:linear-gradient(#0000ff,#005bff,#00b7ff,#15ffea,#74ff8c,#daff25,#ffb200,#ff4800,#ff0300,#f90000,#f50000,#f30000,#f20000,#f30000,#f60000,#fb0000,#ff1400,#ff6700,#ffd600,#beff42,#5dffa3,#03fffc,#00a9ff,#0053ff,#0000ff)"></i><i style="background:linear-gradient(#0000ff,#005bff,#00b7ff,#15ffea,#74ff8c,#daff26,#ffb200,#ff4900,#ff0300,#fa0000,#f50000,#f30000,#f20000,#f30000,#f70000,#fc0000,#ff1500,#ff6700,#ffd700,#bdff42,#5dffa3,#03fffc,#00a9ff,#0053ff,#0000ff)"></i><i style="background:linear-gradient(#0000ff,#005bff,#00b7ff,#15ffea,#74ff8c,#d9ff26,#ffb200,#ff4900,#ff0300,#fa0000,#f50000,#f30000,#f20000,#f30000,#f70000,#fc0000,#ff1500,#ff6800,#ffd700,#bdff42,#5dffa3,#02fffd,#00a9ff,#0053ff,#0000ff)"></i><i style="background:linear-gradient(#0000ff,#005bff,#00b7ff,#15ffea,#74ff8c,#d9ff26,#ffb300,#ff4900,#ff0400,#fa0000,#f50000,#f30000,#f20000,#f40000,#f70000,#fc0000,#ff1500,#ff6800,#ffd800,#bdff43,#5cffa3,#02fffd,#00a9ff,#0052ff,#0000ff)"></i><i style="background:linear-gradient(#0000ff,#005bff,#00b7ff,#15ffea,#74ff8c,#d9ff26,#ffb300,#ff4900,#ff0400,#fa0000,#f60000,#f30000,#f20000,#f40000,#f70000,#fc0000,#ff1600,#ff6900,#ffd800,#bcff43,#5cffa4,#02fffd,#00a9ff,#0052ff,#0000ff)"></i><i style="background:linear-gradient(#0000ff,#005bff,#00b7ff,#15ffea,#74ff8c,#d9ff26,#ffb300,#ff4a00,#ff0400,#fa0000,#f60000,#f30000,#f20000,#f40000,#f70000,#fc0000,#ff1600,#ff6900,#ffd900,#bcff43,#5cffa4,#02fffd,#00a9ff,#0052ff,#0000ff)"></i><i style="background:linear-gradient(#0000ff,#005bff,#00b7ff,#15ffea,#73ff8c,#d9ff27,#ffb300,#ff4a00,#ff0500,#fa0000,#f60000,#f30000,#f30000,#f40000,#f70000,#fc0000,#ff1700,#ff6a00,#ffd900,#bcff44,#5cffa4,#02fffd,#00a8ff,#0052ff,#0000ff)"></i><i style="background:linear-gradient(#0000ff,#005bff,#00b7ff,#15ffea,#73ff8d,#d9ff27,#ffb400,#ff4a00,#ff0500,#fa0000,#f60000,#f30000,#f30000,#f40000,#f70000,#fc0000,#ff1700,#ff6a00,#ffd900,#bcff44,#5bffa4,#01fffe,#00a8ff,#0052ff,#0000ff)"></i><i style="background:linear-gradient(#0000ff,#005bff,#00b7ff,#15ffea,#73ff8d,#d8ff27,#ffb400,#ff4b00,#ff0500,#fa0000,#f60000,#f30000,#f30000,#f40000,#f70000,#fc0000,#ff1700,#ff6b00,#ffda00,#bbff44,#5bffa5,#01fffe,#00a8ff,#0052ff,#0000ff)"></i><i style="background:linear-gradient(#0000ff,#005bff,#00b7ff,#15ffeb,#73ff8d,#d8ff27,#ffb400,#ff4b00,#ff0600,#fa0000,#f60000,#f40000,#f30000,#f40000,#f80000,#fd0000,#ff1800,#ff6b00,#ffda00,#bbff45,#5bffa5,#01fffe,#00a8ff,#0052ff,#0000ff)"></i><i style="background:linear-gradient(#0000ff,#005bff,#00b7ff,#14ffeb,#73ff8d,#d8ff27,#ffb500,#ff4c00,#ff0600,#fb0000,#f60000,#f40000,#f30000,#f50000,#f80000,#fd0000,#ff1800,#ff6c00,#ffdb00,#bbff45,#5bffa5,#01fffe,#00a8ff,#0052ff,#0000ff)"></i><i style="background:linear-gradient(#0000ff,#005bff,#00b6ff,#14ffeb,#73ff8d,#d8ff28,#ffb500,#ff4c00,#ff0700,#fb0000,#f60000,#f40000,#f30000,#f50000,#f80000,#fd0000,#ff1900,#ff6c00,#ffdc00,#baff45,#5affa5,#01fffe,#00a8ff,#0052ff,#0000ff)"></i><i style="background:linear-gradient(#0000ff,#005bff,#00b6ff,#14ffeb,#72ff8e,#d7ff28,#ffb600,#ff4d00,#ff0700,#fb0000,#f70000,#f40000,#f30000,#f50000,#f80000,#fd0000,#ff1900,#ff6d00,#ffdc00,#baff46,#5affa6,#00ffff,#00a8ff,#0052ff,#0000ff)"></i><i style="background:linear-gradient(#0000ff,#005bff,#00b6ff,#14ffeb,#72ff8e,#d7ff28,#ffb600,#ff4d00,#ff0800,#fb0000,#f70000,#f40000,#f40000,#f50000,#f80000,#fd0000,#ff1a00,#ff6e00,#ffdd00,#b9ff46,#5affa6,#00ffff,#00a7ff,#0052ff,#0000ff)"></i><i style="background:linear-gradient(#0000ff,#005aff,#00b6ff,#14ffeb,#72ff8e,#d7ff29,#ffb700,#ff4e00,#ff0800,#fb0000,#f70000,#f40000,#f40000,#f50000,#f80000,#fd0000,#ff1b00,#ff6e00,#ffdd00,#b9ff47,#59ffa6,#00ffff,#00a7ff,#0052ff,#0000ff)"></i><i style="background:linear-gradient(#0000ff,#005aff,#00b6ff,#14ffec,#72ff8e,#d6ff29,#ffb700,#ff4e00,#ff0900,#fb0000,#f70000,#f50000,#f40000,#f50000,#f90000,#fe0000,#ff1b00,#ff6f00,#ffde00,#b9ff47,#59ffa7,#00ffff,#00a7ff,#0052ff,#0000ff)"></i><i style="background:linear-gradient(#0000ff,#005aff,#00b6ff,#13ffec,#71ff8f,#d6ff29,#ffb800,#ff4f00,#ff0900,#fc0000,#f70000,#f50000,#f40000,#f60000,#f90000,#fe0000,#ff1c00,#ff7000,#ffdf00,#b8ff47,#59ffa7,#00feff,#00a7ff,#0051ff,#0000ff)"></i><i style="background:linear-gradient(#0000ff,#005aff,#00b6ff,#13ffec,#71ff8f,#d6ff2a,#ffb800,#ff4f00,#ff0a00,#fc0000,#f80000,#f50000,#f40000,#f60000,#f90000,#fe0000,#ff1c00,#ff7100,#ffdf00,#b8ff48,#58ffa8,#00feff,#00a7ff,#0051ff,#0000ff)"></i><i style="background:linear-gradient(#0000ff,#005aff,#00b6ff,#13ffec,#71ff8f,#d5ff2a,#ffb900,#ff5000,#ff0b00,#fc0000,#f80000,#f50000,#f50000,#f60000,#f90000,#fe0000,#ff1d00,#ff7200,#ffe000,#b7ff48,#58ffa8,#00feff,#00a6ff,#0051ff,#0000ff)"></i><i style="background:linear-gradient(#0000ff,#005aff,#00b5ff,#13ffed,#70ff8f,#d5ff2a,#ffba00,#ff5100,#ff0b00,#fc0000,#f80000,#f60000,#f50000,#f60000,#fa0000,#fe0000,#ff1e00,#ff7200,#ffe100,#b7ff49,#57ffa8,#00fdff,#00a6ff,#0051ff,#0000ff)"></i><i style="background:linear-gradient(#0000ff,#005aff,#00b5ff,#12ffed,#70ff90,#d5ff2b,#ffba00,#ff5200,#ff0c00,#fd0000,#f80000,#f60000,#f50000,#f70000,#fa0000,#ff0000,#ff1f00,#ff7300,#ffe200,#b6ff4a,#57ffa9,#00fdff,#00a6ff,#0051ff,#0000ff)"></i><i style="background:linear-gradient(#0000ff,#005aff,#00b5ff,#12ffed,#70ff90,#d4ff2b,#ffbb00,#ff5200,#ff0d00,#fd0000,#f90000,#f60000,#f50000,#f70000,#fa0000,#ff0000,#ff1f00,#ff7400,#ffe200,#b6ff4a,#57ffa9,#00fdff,#00a6ff,#0051ff,#0000ff)"></i><i style="background:linear-gradient(#0000ff,#005aff,#00b5ff,#12ffed,#6fff90,#d4ff2c,#ffbc00,#ff5300,#ff0d00,#fd0000,#f90000,#f60000,#f60000,#f70000,#fa0000,#ff0100,#ff2000,#ff7500,#ffe300,#b5ff4b,#56ffaa,#00fcff,#00a6ff,#0051ff,#0000ff)"></i><i style="background:linear-gradient(#0000ff,#005aff,#00b5ff,#12ffee,#6fff91,#d3ff2c,#ffbd00,#ff5400,#ff0e00,#fd0000,#f90000,#f70000,#f60000,#f70000,#fb0000,#ff0100,#ff2100,#ff7600,#ffe400,#b4ff4b,#56ffaa,#00fcff,#00a5ff,#0051ff,#0000ff)"></i><i style="background:linear-gradient(#0000ff,#005aff,#00b4ff,#11ffee,#6fff91,#d3ff2d,#ffbd00,#ff5500,#ff0f00,#fe0000,#f90000,#f70000,#f60000,#f80000,#fb0000,#ff0200,#ff2200,#ff7700,#ffe500,#b4ff4c,#55ffab,#00fcff,#00a5ff,#0051ff,#0000ff)"></i><i style="background:linear-gradient(#0000ff,#005aff,#00b4ff,#11ffee,#6eff92,#d2ff2d,#ffbe00,#ff5600,#ff1000,#fe0000,#fa0000,#f70000,#f70000,#f80000,#fb0000,#ff0300,#ff2300,#ff7800,#ffe600,#b3ff4c,#55ffab,#00fbff,#00a5ff,#0050ff,#0000ff)"></i><i style="background:linear-gradient(#0000ff,#0059ff,#00b4ff,#11ffef,#6eff92,#d2ff2e,#ffbf00,#ff5700,#ff1100,#fe0000,#fa0000,#f80000,#f70000,#f80000,#fc0000,#ff0400,#ff2400,#ff7900,#ffe700,#b3ff4d,#54ffac,#00fbff,#00a5ff,#0050ff,#0000ff)"></i><i style="background:linear-gradient(#0000ff,#0059ff,#00b4ff,#10ffef,#6dff93,#d1ff2e,#ffc000,#ff5800,#ff1200,#ff0000,#fa0000,#f80000,#f70000,#f90000,#fc0000,#ff0500,#ff2500,#ff7b00,#ffe800,#b2ff4e,#54ffac,#00fbff,#00a4ff,#0050ff,#0000ff)"></i><i style="background:linear-gradient(#0000ff,#0059ff,#00b4ff,#10ffef,#6dff93,#d0ff2f,#ffc100,#ff5900,#ff1300,#ff0000,#fb0000,#f80000,#f80000,#f90000,#fc0000,#ff0600,#ff2600,#ff7c00,#ffe900,#b1ff4e,#53ffad,#00faff,#00a4ff,#0050ff,#0000ff)"></i><i style="background:linear-gradient(#0000ff,#0059ff,#00b3ff,#10fff0,#6cff94,#d0ff30,#ffc200,#ff5a00,#ff1400,#ff0100,#fb0000,#f90000,#f80000,#f90000,#fd0000,#ff0700,#ff2700,#ff7d00,#ffea00,#b0ff4f,#52ffad,#00faff,#00a4ff,#0050ff,#0000ff)"></i><i style="background:linear-gradient(#0000ff,#0059ff,#00b3ff,#0ffff0,#6cff94,#cfff30,#ffc300,#ff5b00,#ff1500,#ff0200,#fb0000,#f90000,#f80000,#fa0000,#fd0000,#ff0900,#ff2800,#ff7f00,#ffeb00,#b0ff50,#52ffae,#00f9ff,#00a3ff,#0050ff,#0000ff)"></i><i style="background:linear-gradient(#0000ff,#0059ff,#00b3ff,#0ffff1,#6bff95,#ceff31,#ffc500,#ff5d00,#ff1600,#ff0300,#fc0000,#f90000,#f90000,#fa0000,#fd0000,#ff0a00,#ff2a00,#ff8000,#ffed00,#afff51,#51ffaf,#00f9ff,#00a3ff,#004fff,#0000ff)"></i><i style="background:linear-gradient(#0000ff,#0059ff,#00b2ff,#0efff1,#6aff96,#cdff32,#ffc600,#ff5e00,#ff1800,#ff0500,#fc0000,#fa0000,#f90000,#fb0000,#fe0000,#ff0c00,#ff2c00,#ff8200,#ffee00,#aeff52,#50ffaf,#00f8ff,#00a3ff,#004fff,#0000ff)"></i><i style="background:linear-gradient(#0000ff,#0058ff,#00b2ff,#0dfff2,#69ff96,#ccff33,#ffc800,#ff6000,#ff1900,#ff0600,#fd0000,#fb0000,#fa0000,#fb0000,#ff0000,#ff0d00,#ff2d00,#ff8400,#fff000,#adff53,#4fffb0,#00f7ff,#00a2ff,#004fff,#0000ff)"></i><i style="background:linear-gradient(#0000ff,#0058ff,#00b2ff,#0dfff2,#69ff97,#cbff34,#ffca00,#ff6200,#ff1b00,#ff0800,#fe0000,#fb0000,#fb0000,#fc0000,#ff0000,#ff0f00,#ff2f00,#ff8600,#fff100,#abff54,#4effb1,#00f7ff,#00a2ff,#004fff,#0000ff)"></i><i style="background:linear-gradient(#0000ff,#0058ff,#00b1ff,#0cfff3,#68ff98,#caff36,#ffcb00,#ff6400,#ff1d00,#ff0a00,#fe0000,#fc0000,#fb0000,#fd0000,#ff0200,#ff1100,#ff3100,#ff8800,#fff300,#aaff56,#4effb2,#00f6ff,#00a1ff,#004fff,#0000ff)"></i><i style="background:linear-gradient(#0000ff,#0058ff,#00b1ff,#0bfff4,#67ff99,#c8ff37,#ffcd00,#ff6700,#ff1f00,#ff0c00,#ff0000,#fc0000,#fc0000,#fd0000,#ff0400,#ff1300,#ff3400,#ff8b00,#fff500,#a9ff57,#4cffb3,#00f5ff,#00a1ff,#004eff,#0000ff)"></i><i style="background:linear-gradient(#0000ff,#0057ff,#00b0ff,#0bfff5,#66ff9a,#c7ff38,#ffd000,#ff6900,#ff2100,#ff0f00,#ff0200,#fd0000,#fd0000,#fe0000,#ff0700,#ff1500,#ff3600,#ff8d00,#fff700,#a7ff58,#4bffb4,#00f4ff,#00a0ff,#004eff,#0000ff)"></i><i style="background:linear-gradient(#0000ff,#0057ff,#00b0ff,#0afff5,#65ff9b,#c6ff3a,#ffd200,#ff6c00,#ff2400,#ff1100,#ff0500,#fe0000,#fe0000,#ff0000,#ff0900,#ff1800,#ff3900,#ff9100,#fffa00,#a6ff5a,#4affb5,#00f4ff,#00a0ff,#004eff,#0000ff)"></i><i style="background:linear-gradient(#0000ff,#0057ff,#00afff,#09fff6,#63ff9c,#c4ff3c,#ffd500,#ff7000,#ff2800,#ff1400,#ff0800,#ff0000,#fe0000,#ff0300,#ff0d00,#ff1b00,#ff3d00,#ff9500,#fffc00,#a4ff5b,#49ffb6,#00f3ff,#009fff,#004eff,#0000ff)"></i><i style="background:linear-gradient(#0000ff,#0057ff,#00afff,#08fff7,#62ff9e,#c2ff3e,#ffd900,#ff7400,#ff2c00,#ff1800,#ff0b00,#ff0300,#ff0200,#ff0600,#ff1000,#ff1f00,#ff4100,#ff9900,#ffff00,#a2ff5d,#48ffb8,#00f2ff,#009fff,#004dff,#0000ff)"></i><i style="background:linear-gradient(#0000ff,#0057ff,#00aeff,#07fff8,#61ff9f,#c0ff40,#ffdc00,#ff7900,#ff3000,#ff1c00,#ff0e00,#ff0700,#ff0500,#ff0900,#ff1400,#ff2300,#ff4600,#ff9d00,#fbff04,#a0ff5f,#47ffb9,#00f1ff,#009eff,#004dff,#0000ff)"></i><i style="background:linear-gradient(#0000ff,#0056ff,#00adff,#06fff9,#5fffa1,#bdff42,#ffe000,#ff7e00,#ff3400,#ff2000,#ff1200,#ff0a00,#ff0900,#ff0d00,#ff1700,#ff2700,#ff4b00,#ffa200,#f8ff07,#9eff62,#45ffba,#00f0ff,#009eff,#004dff,#0000ff)"></i><i style="background:linear-gradient(#0000ff,#0056ff,#00adff,#05fffa,#5dffa2,#bbff45,#ffe400,#ff8300,#ff3900,#ff2400,#ff1600,#ff0e00,#ff0d00,#ff1100,#ff1c00,#ff2c00,#ff5000,#ffa700,#f5ff0a,#9cff64,#44ffbc,#00efff,#009dff,#004dff,#0000ff)"></i><i style="background:linear-gradient(#0000ff,#0056ff,#00acff,#04fffb,#5cffa4,#b8ff47,#ffe900,#ff8800,#ff3f00,#ff2800,#ff1a00,#ff1200,#ff1100,#ff1500,#ff2000,#ff3100,#ff5600,#ffac00,#f1ff0e,#9aff66,#42ffbe,#00eeff,#009cff,#004cff,#0000ff)"></i><i style="background:linear-gradient(#0000ff,#0055ff,#00abff,#03fffc,#5affa6,#b6ff4a,#ffed00,#ff8d00,#ff4400,#ff2d00,#ff1f00,#ff1700,#ff1500,#ff1900,#ff2400,#ff3600,#ff5c00,#ffb100,#eeff12,#97ff69,#40ffbf,#00edff,#009cff,#004cff,#0000ff)"></i><i style="background:linear-gradient(#0000ff,#0055ff,#00abff,#02fffd,#58ffa8,#b3ff4c,#fff100,#ff9300,#ff4a00,#ff3200,#ff2300,#ff1b00,#ff1900,#ff1e00,#ff2900,#ff3b00,#ff6200,#ffb700,#eaff15,#95ff6b,#3fffc1,#00ecff,#009bff,#004cff,#0000ff)"></i><i style="background:linear-gradient(#0000ff,#0055ff,#00aaff,#00ffff,#56ffa9,#b1ff4f,#fff500,#ff9900,#ff5000,#ff3700,#ff2800,#ff1f00,#ff1d00,#ff2200,#ff2e00,#ff4000,#ff6800,#ffbc00,#e6ff19,#92ff6d,#3dffc3,#00ebff,#009aff,#004bff,#0000ff)"></i><i style="background:linear-gradient(#0000ff,#0054ff,#00a9ff,#00feff,#55ffab,#aeff52,#fffa00,#ff9e00,#ff5600,#ff3c00,#ff2c00,#ff2300,#ff2200,#ff2700,#ff3300,#ff4600,#ff6e00,#ffc200,#e3ff1c,#90ff70,#3bffc4,#00e9ff,#0099ff,#004bff,#0000ff)"></i><i style="background:linear-gradient(#0000ff,#0054ff,#00a8ff,#00fdff,#53ffad,#abff55,#fffe00,#ffa400,#ff5c00,#ff4200,#ff3100,#ff2800,#ff2600,#ff2c00,#ff3800,#ff4c00,#ff7400,#ffc700,#dfff20,#8dff73,#39ffc6,#00e8ff,#0099ff,#004bff,#0000ff)"></i><i style="background:linear-gradient(#0000ff,#0054ff,#00a8ff,#00fcff,#51ffaf,#a8ff58,#fbff04,#ffab00,#ff6300,#ff4800,#ff3700,#ff2d00,#ff2b00,#ff3100,#ff3e00,#ff5200,#ff7b00,#ffcd00,#dcff24,#8aff75,#37ffc8,#00e7ff,#0098ff,#004aff,#0000ff)"></i><i style="background:linear-gradient(#0000ff,#0053ff,#00a7ff,#00faff,#4effb1,#a5ff5b,#f7ff08,#ffb100,#ff6a00,#ff4e00,#ff3d00,#ff3300,#ff3100,#ff3600,#ff4400,#ff5900,#ff8200,#ffd300,#d8ff28,#88ff78,#35ffca,#00e5ff,#0097ff,#004aff,#0000ff)"></i><i style="background:linear-gradient(#0000ff,#0053ff,#00a6ff,#00f9ff,#4cffb3,#a2ff5e,#f2ff0d,#ffb800,#ff7100,#ff5500,#ff4300,#ff3900,#ff3600,#ff3c00,#ff4a00,#ff6000,#ff8a00,#ffda00,#d4ff2c,#85ff7b,#33ffcc,#00e4ff,#0096ff,#0049ff,#0000ff)"></i><i style="background:linear-gradient(#0000ff,#0052ff,#00a5ff,#00f7ff,#4affb6,#9eff61,#edff12,#ffbf00,#ff7900,#ff5c00,#ff4900,#ff3f00,#ff3c00,#ff4200,#ff5100,#ff6700,#ff9200,#ffe000,#d0ff30,#82ff7e,#31ffce,#00e3ff,#0095ff,#0049ff,#0000ff)"></i><i style="background:linear-gradient(#0000ff,#0052ff,#00a4ff,#00f5ff,#48ffb8,#9bff65,#e8ff17,#ffc600,#ff8100,#ff6300,#ff5000,#ff4500,#ff4300,#ff4900,#ff5800,#ff6f00,#ff9900,#ffe600,#cbff34,#7fff81,#2fffd0,#00e1ff,#0094ff,#0049ff,#0000ff)"></i><i style="background:linear-gradient(#0000ff,#0051ff,#00a3ff,#00f4ff,#45ffba,#98ff68,#e3ff1c,#ffcd00,#ff8900,#ff6b00,#ff5700,#ff4c00,#ff4900,#ff5000,#ff5f00,#ff7700,#ffa100,#ffed00,#c7ff38,#7bff85,#2dffd3,#00e0ff,#0093ff,#0048ff,#0000ff)"></i><i style="background:linear-gradient(#0000ff,#0051ff,#00a2ff,#00f2ff,#43ffbd,#94ff6c,#dfff21,#ffd400,#ff9100,#ff7200,#ff5e00,#ff5200,#ff5000,#ff5700,#ff6600,#ff7f00,#ffa900,#fff300,#c3ff3c,#78ff88,#2bffd5,#00deff,#0092ff,#0048ff,#0000ff)"></i><i style="background:linear-gradient(#0000ff,#0050ff,#00a1ff,#00f1ff,#40ffbf,#91ff6f,#daff25,#ffdb00,#ff9900,#ff7a00,#ff6500,#ff5900,#ff5700,#ff5e00,#ff6d00,#ff8600,#ffb100,#fffa00,#bfff41,#75ff8b,#28ffd7,#00dcff,#0091ff,#0047ff,#0000ff)"></i><i style="background:linear-gradient(#0000ff,#0050ff,#00a0ff,#00efff,#3effc2,#8dff73,#d6ff2a,#ffe200,#ffa100,#ff8200,#ff6c00,#ff6000,#ff5e00,#ff6500,#ff7500,#ff8e00,#ffb900,#feff01,#baff45,#72ff8e,#26ffd9,#00dbff,#0090ff,#0047ff,#0000ff)"></i><i style="background:linear-gradient(#0000ff,#004fff,#009fff,#00edff,#3bffc4,#8aff76,#d1ff2e,#ffe900,#ffa900,#ff8900,#ff7300,#ff6700,#ff6500,#ff6c00,#ff7d00,#ff9600,#ffc100,#f8ff07,#b6ff49,#6eff91,#24ffdc,#00d9ff,#0090ff,#0046ff,#0000ff)"></i><i style="background:linear-gradient(#0000ff,#004fff,#009eff,#00ebff,#39ffc7,#86ff7a,#ccff33,#fff000,#ffb100,#ff9100,#ff7b00,#ff6f00,#ff6c00,#ff7300,#ff8400,#ff9e00,#ffc900,#f2ff0d,#b2ff4e,#6bff95,#21ffde,#00d8ff,#008fff,#0046ff,#0000ff)"></i><i style="background:linear-gradient(#0000ff,#004eff,#009dff,#00eaff,#36ffc9,#82ff7e,#c8ff38,#fff600,#ffb900,#ff9900,#ff8200,#ff7600,#ff7300,#ff7b00,#ff8c00,#ffa700,#ffd100,#edff13,#aeff52,#68ff98,#1fffe0,#00d6ff,#008eff,#0045ff,#0000ff)"></i><i style="background:linear-gradient(#0000ff,#004eff,#009cff,#00e8ff,#34ffcc,#7fff81,#c3ff3c,#fffd00,#ffc200,#ffa100,#ff8a00,#ff7d00,#ff7b00,#ff8200,#ff9400,#ffaf00,#ffd900,#e7ff18,#a9ff56,#65ff9b,#1dffe3,#00d4ff,#008cff,#0045ff,#0000ff)"></i><i style="background:linear-gradient(#0000ff,#004dff,#009aff,#00e6ff,#31ffce,#7bff85,#beff41,#faff05,#ffca00,#ffa900,#ff9200,#ff8500,#ff8300,#ff8a00,#ff9c00,#ffb700,#ffe100,#e1ff1e,#a5ff5b,#61ff9f,#1affe5,#00d3ff,#008bff,#0044ff,#0000ff)"></i><i style="background:linear-gradient(#0000ff,#004dff,#0099ff,#00e4ff,#2effd1,#77ff89,#b9ff47,#f3ff0c,#ffd300,#ffb200,#ff9b00,#ff8e00,#ff8b00,#ff9300,#ffa500,#ffc000,#ffe900,#dbff24,#a0ff60,#5effa2,#18ffe7,#00d1ff,#008aff,#0044ff,#0000ff)"></i><i style="background:linear-gradient(#0000ff,#004cff,#0098ff,#00e2ff,#2bffd4,#73ff8d,#b4ff4c,#ecff13,#ffdc00,#ffbb00,#ffa400,#ff9600,#ff9400,#ff9b00,#ffae00,#ffc900,#fff200,#d5ff2a,#9bff65,#5affa6,#15ffea,#00cfff,#0089ff,#0043ff,#0000ff)"></i><i style="background:linear-gradient(#0000ff,#004cff,#0097ff,#00e0ff,#28ffd7,#6eff92,#aeff52,#e5ff1a,#ffe500,#ffc500,#ffad00,#ffa000,#ff9d00,#ffa500,#ffb700,#ffd300,#fffb00,#cfff30,#96ff6a,#56ffaa,#12ffed,#00cdff,#0088ff,#0043ff,#0000ff)"></i><i style="background:linear-gradient(#0000ff,#004bff,#0095ff,#00deff,#25ffda,#6aff96,#a8ff58,#deff21,#ffef00,#ffce00,#ffb700,#ffa900,#ffa700,#ffaf00,#ffc100,#ffdd00,#faff05,#c8ff37,#91ff6f,#52ffae,#0ffff0,#00cbff,#0087ff,#0042ff,#0000ff)"></i><i style="background:linear-gradient(#0000ff,#004aff,#0093ff,#00dbff,#21ffde,#65ff9b,#a2ff5e,#d6ff29,#fff900,#ffd900,#ffc100,#ffb400,#ffb100,#ffb900,#ffcb00,#ffe700,#f1ff0e,#c1ff3e,#8bff75,#4dffb2,#0cfff3,#00c9ff,#0085ff,#0041ff,#0000ff)"></i><i style="background:linear-gradient(#0000ff,#0049ff,#0092ff,#00d9ff,#1effe2,#5fffa0,#9bff65,#ceff31,#fbff04,#ffe400,#ffcc00,#ffbe00,#ffbc00,#ffc400,#ffd600,#fff100,#e8ff17,#baff46,#85ff7b,#49ffb7,#09fff6,#00c6ff,#0084ff,#0041ff,#0000ff)"></i><i style="background:linear-gradient(#0000ff,#0048ff,#0090ff,#00d6ff,#1affe6,#5affa6,#94ff6c,#c6ff39,#f0ff0f,#ffef00,#ffd700,#ffca00,#ffc700,#ffcf00,#ffe100,#fffc00,#dfff20,#b2ff4d,#7eff82,#44ffbc,#05fffa,#00c4ff,#0082ff,#0040ff,#0000ff)"></i><i style="background:linear-gradient(#0000ff,#0048ff,#008eff,#00d3ff,#15ffea,#54ffab,#8dff73,#beff42,#e6ff19,#fffa00,#ffe300,#ffd500,#ffd300,#ffdb00,#ffed00,#f7ff08,#d6ff2a,#aaff55,#78ff88,#3effc1,#01fffe,#00c1ff,#0081ff,#003fff,#0000ff)"></i><i style="background:linear-gradient(#0000ff,#0047ff,#008cff,#00d0ff,#11ffee,#4effb1,#85ff7b,#b5ff4b,#dcff23,#f9ff06,#ffef00,#ffe100,#ffdf00,#ffe700,#fff800,#ecff13,#ccff33,#a2ff5e,#71ff8f,#39ffc6,#00fcff,#00bfff,#007fff,#003eff,#0000ff)"></i><i style="background:linear-gradient(#0000ff,#0046ff,#008aff,#00ccff,#0dfff3,#48ffb8,#7eff82,#acff54,#d2ff2e,#eeff12,#fffb00,#ffee00,#ffeb00,#fff300,#faff05,#e1ff1e,#c2ff3d,#99ff67,#69ff96,#33ffcc,#00f8ff,#00bcff,#007dff,#003eff,#0000ff)"></i><i style="background:linear-gradient(#0000ff,#0045ff,#0088ff,#00c9ff,#08fff7,#41ffbe,#75ff8b,#a2ff5e,#c7ff38,#e2ff1d,#f7ff08,#fffa00,#fff700,#ffff00,#eeff11,#d7ff29,#b8ff48,#90ff70,#62ff9e,#2effd2,#00f4ff,#00b9ff,#007bff,#003dff,#0000ff)"></i><i style="background:linear-gradient(#0000ff,#0043ff,#0086ff,#00c6ff,#03fffc,#3bffc5,#6dff93,#98ff68,#bcff43,#d8ff28,#ecff14,#f8ff08,#faff05,#f3ff0c,#e3ff1c,#ccff34,#adff52,#87ff79,#5affa6,#27ffd8,#00f0ff,#00b5ff,#0079ff,#003cff,#0000ff)"></i><i style="background:linear-gradient(#0000ff,#0042ff,#0083ff,#00c1ff,#00fcff,#34ffcc,#64ff9b,#8fff71,#b1ff4e,#cdff33,#e0ff1f,#ebff14,#eeff12,#e7ff18,#d8ff28,#c1ff3e,#a3ff5d,#7eff82,#52ffae,#21ffde,#00eaff,#00b2ff,#0077ff,#003aff,#0000ff)"></i><i style="background:linear-gradient(#0000ff,#0041ff,#0080ff,#00bdff,#00f6ff,#2cffd3,#5cffa4,#85ff7b,#a7ff59,#c1ff3e,#d4ff2b,#dfff21,#e1ff1f,#daff25,#ccff33,#b6ff4a,#99ff67,#74ff8c,#4affb6,#1affe5,#00e5ff,#00adff,#0074ff,#0039ff,#0000ff)"></i><i style="background:linear-gradient(#0000ff,#003fff,#007cff,#00b8ff,#00efff,#24ffdb,#52ffad,#7aff86,#9cff64,#b5ff4a,#c7ff38,#d2ff2e,#d4ff2c,#ceff32,#c0ff40,#aaff55,#8eff72,#6aff96,#41ffbf,#12ffed,#00dfff,#00a9ff,#0070ff,#0037ff,#0000ff)"></i><i style="background:linear-gradient(#0000ff,#003dff,#0079ff,#00b2ff,#00e8ff,#1bffe4,#48ffb7,#6fff91,#8fff70,#a8ff57,#baff45,#c4ff3c,#c6ff3a,#c0ff3f,#b3ff4d,#9eff62,#82ff7e,#60ffa0,#37ffc8,#0afff5,#00d8ff,#00a4ff,#006dff,#0036ff,#0000ff)"></i><i style="background:linear-gradient(#0000ff,#003bff,#0075ff,#00acff,#00e1ff,#12ffed,#3effc2,#63ff9d,#83ff7d,#9bff65,#acff54,#b5ff4a,#b7ff48,#b2ff4e,#a5ff5b,#90ff6f,#75ff8b,#54ffac,#2dffd2,#02fffe,#00d1ff,#009eff,#006aff,#0034ff,#0000ff)"></i><i style="background:linear-gradient(#0000ff,#0039ff,#0071ff,#00a6ff,#00d9ff,#08fff7,#32ffcd,#56ffa9,#75ff8b,#8cff74,#9cff63,#a6ff5a,#a7ff58,#a2ff5e,#95ff6a,#82ff7e,#68ff98,#48ffb8,#22ffdd,#00f7ff,#00c9ff,#0099ff,#0066ff,#0032ff,#0000ff)"></i><i style="background:linear-gradient(#0000ff,#0036ff,#006cff,#009fff,#00d0ff,#00fcff,#26ffda,#48ffb7,#65ff9a,#7cff84,#8cff74,#95ff6b,#96ff6a,#91ff6f,#85ff7b,#72ff8e,#59ffa6,#3affc5,#16ffe9,#00edff,#00c1ff,#0092ff,#0062ff,#0030ff,#0000ff)"></i><i style="background:linear-gradient(#0000ff,#0034ff,#0067ff,#0098ff,#00c6ff,#00f1ff,#18ffe7,#39ffc6,#55ffab,#6aff96,#79ff87,#82ff7e,#83ff7d,#7eff82,#73ff8d,#61ff9f,#49ffb6,#2cffd4,#09fff6,#00e2ff,#00b8ff,#008bff,#005dff,#002eff,#0000ff)"></i><i style="background:linear-gradient(#0000ff,#0031ff,#0061ff,#008fff,#00bbff,#00e3ff,#08fff7,#28ffd8,#42ffbe,#56ffaa,#64ff9b,#6cff94,#6eff92,#69ff97,#5effa1,#4dffb2,#37ffc9,#1bffe4,#00faff,#00d5ff,#00aeff,#0084ff,#0058ff,#002bff,#0000ff)"></i><i style="background:linear-gradient(#0000ff,#002eff,#005bff,#0086ff,#00aeff,#00d4ff,#00f6ff,#14ffeb,#2cffd3,#3fffc0,#4cffb3,#54ffac,#55ffaa,#51ffaf,#47ffb9,#37ffc8,#22ffdd,#08fff7,#00e9ff,#00c7ff,#00a2ff,#007bff,#0052ff,#0028ff,#0000ff)"></i><i style="background:linear-gradient(#0000ff,#002aff,#0054ff,#007bff,#00a1ff,#00c4ff,#00e3ff,#00feff,#15ffea,#26ffd9,#33ffcd,#3affc6,#3bffc4,#37ffc8,#2effd2,#1fffe0,#0cfff4,#00f3ff,#00d7ff,#00b8ff,#0096ff,#0071ff,#004cff,#0025ff,#0000ff)"></i><i style="background:linear-gradient(#0000ff,#0027ff,#004cff,#0071ff,#0093ff,#00b3ff,#00cfff,#00e8ff,#00fcff,#0dfff2,#19ffe7,#1fffe0,#20ffdf,#1cffe3,#14ffeb,#06fff9,#00f4ff,#00deff,#00c4ff,#00a8ff,#0089ff,#0068ff,#0045ff,#0022ff,#0000ff)"></i><i style="background:linear-gradient(#0000ff,#0023ff,#0045ff,#0067ff,#0086ff,#00a2ff,#00bcff,#00d3ff,#00e5ff,#00f4ff,#00feff,#05fffa,#06fff9,#02fffd,#00faff,#00eeff,#00ddff,#00caff,#00b3ff,#0099ff,#007cff,#005eff,#003fff,#001fff,#0000ff)"></i><i style="background:linear-gradient(#0000ff,#0020ff,#003fff,#005dff,#0079ff,#0093ff,#00aaff,#00bfff,#00cfff,#00dcff,#00e6ff,#00ebff,#00ecff,#00e9ff,#00e2ff,#00d7ff,#00c8ff,#00b6ff,#00a1ff,#008aff,#0070ff,#0055ff,#0039ff,#001cff,#0000ff)"></i><i style="background:linear-gradient(#0000ff,#001cff,#0038ff,#0053ff,#006cff,#0083ff,#0098ff,#00aaff,#00b9ff,#00c5ff,#00cdff,#00d2ff,#00d3ff,#00d0ff,#00caff,#00c0ff,#00b3ff,#00a3ff,#0090ff,#007bff,#0065ff,#004cff,#0033ff,#0019ff,#0000ff)"></i><i style="background:linear-gradient(#0000ff,#0019ff,#0032ff,#0049ff,#0060ff,#0074ff,#0086ff,#0096ff,#00a4ff,#00aeff,#00b5ff,#00baff,#00baff,#00b8ff,#00b2ff,#00aaff,#009eff,#0090ff,#0080ff,#006dff,#0059ff,#0043ff,#002dff,#0016ff,#0000ff)"></i><i style="background:linear-gradient(#0000ff,#0016ff,#002bff,#0040ff,#0053ff,#0065ff,#0075ff,#0083ff,#008fff,#0098ff,#009eff,#00a1ff,#00a2ff,#00a0ff,#009bff,#0094ff,#008aff,#007dff,#006fff,#005fff,#004dff,#003bff,#0027ff,#0013ff,#0000ff)"></i><i style="background:linear-gradient(#0000ff,#0013ff,#0025ff,#0037ff,#0047ff,#0056ff,#0064ff,#0070ff,#007aff,#0082ff,#0087ff,#008aff,#008bff,#0089ff,#0085ff,#007eff,#0076ff,#006bff,#005fff,#0051ff,#0042ff,#0032ff,#0021ff,#0010ff,#0000ff)"></i><i style="background:linear-gradient(#0000ff,#0010ff,#001fff,#002eff,#003bff,#0048ff,#0054ff,#005eff,#0066ff,#006cff,#0071ff,#0073ff,#0074ff,#0072ff,#006fff,#006aff,#0062ff,#005aff,#004fff,#0044ff,#0037ff,#002aff,#001cff,#000eff,#0000ff)"></i><i style="background:linear-gradient(#0000ff,#000cff,#0019ff,#0024ff,#002fff,#0039ff,#0043ff,#004aff,#0051ff,#0056ff,#005aff,#005cff,#005cff,#005bff,#0058ff,#0054ff,#004eff,#0047ff,#003fff,#0036ff,#002cff,#0021ff,#0016ff,#000bff,#0000ff)"></i><i style="background:linear-gradient(#0000ff,#0009ff,#0012ff,#001bff,#0023ff,#002bff,#0032ff,#0038ff,#003dff,#0041ff,#0043ff,#0045ff,#0045ff,#0044ff,#0042ff,#003fff,#003bff,#0036ff,#002fff,#0028ff,#0021ff,#0019ff,#0011ff,#0008ff,#0000ff)"></i><i style="background:linear-gradient(#0000ff,#0007ff,#000dff,#0013ff,#0019ff,#001eff,#0023ff,#0027ff,#002bff,#002dff,#002fff,#0030ff,#0031ff,#0030ff,#002fff,#002cff,#0029ff,#0026ff,#0021ff,#001cff,#0017ff,#0012ff,#000cff,#0006ff,#0000ff)"></i><i style="background:linear-gradient(#0000ff,#0004ff,#0009ff,#000dff,#0010ff,#0014ff,#0017ff,#001aff,#001cff,#001eff,#001fff,#0020ff,#0020ff,#0020ff,#001fff,#001dff,#001bff,#0019ff,#0016ff,#0013ff,#000fff,#000cff,#0008ff,#0004ff,#0000ff)"></i><i style="background:linear-gradient(#0000ff,#0003ff,#0005ff,#0008ff,#000aff,#000cff,#000eff,#0010ff,#0011ff,#0012ff,#0013ff,#0013ff,#0014ff,#0013ff,#0013ff,#0012ff,#0011ff,#000fff,#000dff,#000bff,#0009ff,#0007ff,#0005ff,#0002ff,#0000ff)"></i><i style="background:linear-gradient(#0000ff,#0001ff,#0002ff,#0004ff,#0005ff,#0006ff,#0006ff,#0007ff,#0008ff,#0008ff,#0009ff,#0009ff,#0009ff,#0009ff,#0009ff,#0008ff,#0008ff,#0007ff,#0006ff,#0005ff,#0004ff,#0003ff,#0002ff,#0001ff,#0000ff)"></i><i style="flex-basis:0.7px;background:linear-gradient(#0000ff,#0000ff,#0001ff,#0001ff,#0001ff,#0001ff,#0002ff,#0002ff,#0002ff,#0002ff,#0002ff,#0002ff,#0002ff,#0002ff,#0002ff,#0002ff,#0002ff,#0002ff,#0001ff,#0001ff,#0001ff,#0001ff,#0001ff,#0000ff,#0000ff)"></i></div>
<div class="hm" style="left:182px;top:213px;width:128.3px;height:62.8px"><i style="background:linear-gradient(#0000ff,#005dff,#00bcff,#1cffe3,#7dff83,#e5ff1a,#ffa200,#ff3a00,#fd0000,#f70000,#f30000,#f00000,#f00000,#f20000,#f50000,#fa0000,#ff1800,#ff6f00,#ffe200,#b4ff4c,#55ffab,#00faff,#00a3ff,#004fff,#0000ff)"></i><i style="background:linear-gradient(#0000ff,#005dff,#00bcff,#1cffe3,#7dff83,#e5ff1a,#ffa100,#ff3900,#fd0000,#f70000,#f30000,#f00000,#f00000,#f20000,#f50000,#fb0000,#ff1900,#ff6f00,#ffe200,#b3ff4c,#54ffab,#00faff,#00a3ff,#004fff,#0000ff)"></i><i style="background:linear-gradient(#0000ff,#005dff,#00bcff,#1cffe3,#7dff83,#e6ff1a,#ffa100,#ff3900,#fd0000,#f70000,#f30000,#f00000,#f00000,#f20000,#f50000,#fb0000,#ff1900,#ff7000,#ffe200,#b3ff4c,#54ffac,#00faff,#00a3ff,#004fff,#0000ff)"></i><i style="background:linear-gradient(#0000ff,#005dff,#00bcff,#1cffe3,#7eff82,#e6ff1a,#ffa100,#ff3900,#fd0000,#f70000,#f30000,#f00000,#f00000,#f20000,#f50000,#fb0000,#ff1900,#ff7000,#ffe300,#b3ff4d,#54ffac,#00faff,#00a3ff,#004eff,#0000ff)"></i><i style="background:linear-gradient(#0000ff,#005dff,#00bcff,#1cffe3,#7eff82,#e6ff19,#ffa100,#ff3900,#fd0000,#f70000,#f30000,#f10000,#f00000,#f20000,#f50000,#fb0000,#ff1a00,#ff7100,#ffe300,#b2ff4d,#53ffac,#00f9ff,#00a2ff,#004eff,#0000ff)"></i><i style="background:linear-gradient(#0000ff,#005dff,#00bcff,#1cffe3,#7eff82,#e6ff19,#ffa100,#ff3900,#fd0000,#f70000,#f30000,#f10000,#f00000,#f20000,#f50000,#fb0000,#ff1a00,#ff7100,#ffe400,#b2ff4e,#53ffad,#00f9ff,#00a2ff,#004eff,#0000ff)"></i><i style="background:linear-gradient(#0000ff,#005dff,#00bcff,#1dffe3,#7eff82,#e6ff19,#ffa000,#ff3900,#fd0000,#f70000,#f30000,#f10000,#f00000,#f20000,#f60000,#fb0000,#ff1a00,#ff7200,#ffe400,#b2ff4e,#53ffad,#00f9ff,#00a2ff,#004eff,#0000ff)"></i><i style="background:linear-gradient(#0000ff,#005dff,#00bcff,#1dffe3,#7eff82,#e6ff19,#ffa000,#ff3900,#fd0000,#f70000,#f30000,#f10000,#f00000,#f20000,#f60000,#fb0000,#ff1b00,#ff7200,#ffe500,#b1ff4e,#52ffad,#00f9ff,#00a2ff,#004eff,#0000ff)"></i><i style="background:linear-gradient(#0000ff,#005dff,#00bcff,#1dffe3,#7eff82,#e6ff19,#ffa000,#ff3800,#fd0000,#f70000,#f30000,#f10000,#f00000,#f20000,#f60000,#fb0000,#ff1b00,#ff7300,#ffe500,#b1ff4f,#52ffae,#00f8ff,#00a2ff,#004eff,#0000ff)"></i><i style="background:linear-gradient(#0000ff,#005dff,#00bcff,#1dffe2,#7eff82,#e6ff19,#ffa000,#ff3800,#fd0000,#f70000,#f30000,#f10000,#f00000,#f20000,#f60000,#fb0000,#ff1c00,#ff7300,#ffe600,#b0ff4f,#52ffae,#00f8ff,#00a1ff,#004eff,#0000ff)"></i><i style="background:linear-gradient(#0000ff,#005dff,#00bcff,#1dffe2,#7eff82,#e7ff19,#ffa000,#ff3800,#fd0000,#f70000,#f30000,#f10000,#f00000,#f20000,#f60000,#fb0000,#ff1c00,#ff7400,#ffe700,#b0ff50,#51ffae,#00f8ff,#00a1ff,#004eff,#0000ff)"></i><i style="background:linear-gradient(#0000ff,#005eff,#00bcff,#1dffe2,#7eff82,#e7ff19,#ffa000,#ff3800,#fd0000,#f70000,#f30000,#f10000,#f10000,#f20000,#f60000,#fb0000,#ff1c00,#ff7400,#ffe700,#afff50,#51ffaf,#00f7ff,#00a1ff,#004dff,#0000ff)"></i><i style="background:linear-gradient(#0000ff,#005eff,#00bcff,#1dffe2,#7eff82,#e7ff19,#ffa000,#ff3800,#fd0000,#f70000,#f30000,#f10000,#f10000,#f20000,#f60000,#fb0000,#ff1d00,#ff7500,#ffe800,#afff51,#51ffaf,#00f7ff,#00a1ff,#004dff,#0000ff)"></i><i style="background:linear-gradient(#0000ff,#005eff,#00bcff,#1dffe2,#7eff82,#e7ff18,#ffa000,#ff3800,#fd0000,#f70000,#f30000,#f10000,#f10000,#f20000,#f60000,#fb0000,#ff1d00,#ff7600,#ffe800,#afff51,#50ffaf,#00f7ff,#00a1ff,#004dff,#0000ff)"></i><i style="background:linear-gradient(#0000ff,#005eff,#00bcff,#1dffe2,#7eff82,#e7ff18,#ffa000,#ff3800,#fd0000,#f70000,#f30000,#f10000,#f10000,#f30000,#f60000,#fb0000,#ff1e00,#ff7600,#ffe900,#aeff52,#50ffb0,#00f7ff,#00a0ff,#004dff,#0000ff)"></i><i style="background:linear-gradient(#0000ff,#005eff,#00bcff,#1dffe2,#7eff82,#e7ff18,#ffa000,#ff3800,#fd0000,#f70000,#f30000,#f10000,#f10000,#f30000,#f60000,#fb0000,#ff1e00,#ff7700,#ffea00,#aeff52,#50ffb0,#00f6ff,#00a0ff,#004dff,#0000ff)"></i><i style="background:linear-gradient(#0000ff,#005eff,#00bcff,#1dffe2,#7eff82,#e7ff18,#ffa000,#ff3800,#fd0000,#f80000,#f30000,#f10000,#f10000,#f30000,#f60000,#fc0000,#ff1f00,#ff7800,#ffea00,#adff53,#4fffb0,#00f6ff,#00a0ff,#004dff,#0000ff)"></i><i style="background:linear-gradient(#0000ff,#005eff,#00bcff,#1dffe2,#7eff82,#e7ff18,#ffa000,#ff3800,#fd0000,#f80000,#f30000,#f10000,#f10000,#f30000,#f60000,#fc0000,#ff1f00,#ff7800,#ffeb00,#adff53,#4fffb1,#00f6ff,#00a0ff,#004dff,#0000ff)"></i><i style="background:linear-gradient(#0000ff,#005eff,#00bcff,#1dffe2,#7eff82,#e7ff18,#ffa000,#ff3800,#fe0000,#f80000,#f40000,#f10000,#f10000,#f30000,#f70000,#fc0000,#ff2000,#ff7900,#ffeb00,#acff53,#4effb1,#00f5ff,#009fff,#004dff,#0000ff)"></i><i style="background:linear-gradient(#0000ff,#005eff,#00bcff,#1dffe2,#7eff82,#e7ff18,#ffa000,#ff3800,#fe0000,#f80000,#f40000,#f10000,#f10000,#f30000,#f70000,#fc0000,#ff2000,#ff7a00,#ffec00,#acff54,#4effb2,#00f5ff,#009fff,#004cff,#0000ff)"></i><i style="background:linear-gradient(#0000ff,#005eff,#00bcff,#1dffe2,#7eff82,#e7ff18,#ffa000,#ff3800,#fe0000,#f80000,#f40000,#f20000,#f10000,#f30000,#f70000,#fc0000,#ff2100,#ff7a00,#ffed00,#abff54,#4effb2,#00f5ff,#009fff,#004cff,#0000ff)"></i><i style="background:linear-gradient(#0000ff,#005eff,#00bcff,#1dffe2,#7eff82,#e7ff18,#ffa000,#ff3900,#fe0000,#f80000,#f40000,#f20000,#f10000,#f30000,#f70000,#fc0000,#ff2100,#ff7b00,#ffed00,#abff55,#4dffb2,#00f4ff,#009fff,#004cff,#0000ff)"></i><i style="background:linear-gradient(#0000ff,#005eff,#00bcff,#1dffe2,#7eff82,#e7ff18,#ffa000,#ff3900,#fe0000,#f80000,#f40000,#f20000,#f20000,#f30000,#f70000,#fc0000,#ff2200,#ff7c00,#ffee00,#aaff56,#4dffb3,#00f4ff,#009eff,#004cff,#0000ff)"></i><i style="background:linear-gradient(#0000ff,#005eff,#00bcff,#1dffe2,#7eff82,#e7ff18,#ffa000,#ff3900,#fe0000,#f80000,#f40000,#f20000,#f20000,#f30000,#f70000,#fc0000,#ff2300,#ff7c00,#ffef00,#aaff56,#4cffb3,#00f4ff,#009eff,#004cff,#0000ff)"></i><i style="background:linear-gradient(#0000ff,#005eff,#00bcff,#1dffe2,#7eff82,#e7ff18,#ffa000,#ff3900,#fe0000,#f80000,#f40000,#f20000,#f20000,#f40000,#f70000,#fd0000,#ff2300,#ff7d00,#ffef00,#a9ff57,#4cffb4,#00f3ff,#009eff,#004cff,#0000ff)"></i><i style="background:linear-gradient(#0000ff,#005eff,#00bcff,#1dffe2,#7eff82,#e7ff18,#ffa000,#ff3900,#fe0000,#f80000,#f40000,#f20000,#f20000,#f40000,#f70000,#fd0000,#ff2400,#ff7e00,#fff000,#a9ff57,#4bffb4,#00f3ff,#009eff,#004cff,#0000ff)"></i><i style="background:linear-gradient(#0000ff,#005eff,#00bcff,#1dffe2,#7eff82,#e7ff18,#ffa000,#ff3900,#fe0000,#f80000,#f40000,#f20000,#f20000,#f40000,#f70000,#fd0000,#ff2400,#ff7f00,#fff100,#a8ff58,#4bffb5,#00f3ff,#009dff,#004bff,#0000ff)"></i><i style="background:linear-gradient(#0000ff,#005eff,#00bcff,#1dffe2,#7eff82,#e7ff18,#ffa000,#ff3900,#fe0000,#f80000,#f40000,#f20000,#f20000,#f40000,#f80000,#fd0000,#ff2500,#ff7f00,#fff100,#a8ff58,#4bffb5,#00f2ff,#009dff,#004bff,#0000ff)"></i><i style="background:linear-gradient(#0000ff,#005eff,#00bcff,#1dffe2,#7eff82,#e7ff18,#ffa000,#ff3900,#fe0000,#f90000,#f50000,#f20000,#f20000,#f40000,#f80000,#fd0000,#ff2600,#ff8000,#fff200,#a7ff59,#4affb5,#00f2ff,#009dff,#004bff,#0000ff)"></i><i style="background:linear-gradient(#0000ff,#005eff,#00bcff,#1dffe2,#7eff82,#e7ff18,#ffa000,#ff3900,#fe0000,#f90000,#f50000,#f20000,#f20000,#f40000,#f80000,#fd0000,#ff2600,#ff8100,#fff300,#a7ff59,#4affb6,#00f2ff,#009dff,#004bff,#0000ff)"></i><i style="background:linear-gradient(#0000ff,#005eff,#00bcff,#1dffe2,#7eff82,#e7ff18,#ffa000,#ff3a00,#ff0000,#f90000,#f50000,#f30000,#f20000,#f40000,#f80000,#fd0000,#ff2700,#ff8200,#fff300,#a6ff5a,#49ffb6,#00f1ff,#009cff,#004bff,#0000ff)"></i><i style="background:linear-gradient(#0000ff,#005eff,#00bcff,#1dffe2,#7eff82,#e7ff19,#ffa100,#ff3a00,#ff0000,#f90000,#f50000,#f30000,#f30000,#f40000,#f80000,#fd0000,#ff2700,#ff8200,#fff400,#a6ff5a,#49ffb7,#00f1ff,#009cff,#004bff,#0000ff)"></i><i style="background:linear-gradient(#0000ff,#005eff,#00bcff,#1dffe2,#7eff82,#e7ff19,#ffa100,#ff3a00,#ff0000,#f90000,#f50000,#f30000,#f30000,#f50000,#f80000,#fe0000,#ff2800,#ff8300,#fff500,#a5ff5b,#49ffb7,#00f1ff,#009cff,#004bff,#0000ff)"></i><i style="background:linear-gradient(#0000ff,#005eff,#00bcff,#1dffe2,#7eff82,#e7ff19,#ffa100,#ff3a00,#ff0000,#f90000,#f50000,#f30000,#f30000,#f50000,#f80000,#fe0000,#ff2900,#ff8400,#fff600,#a4ff5b,#48ffb7,#00f0ff,#009cff,#004aff,#0000ff)"></i><i style="background:linear-gradient(#0000ff,#005eff,#00bcff,#1dffe2,#7eff82,#e7ff19,#ffa100,#ff3a00,#ff0000,#f90000,#f50000,#f30000,#f30000,#f50000,#f90000,#fe0000,#ff2900,#ff8500,#fff600,#a4ff5c,#48ffb8,#00f0ff,#009bff,#004aff,#0000ff)"></i><i style="background:linear-gradient(#0000ff,#005eff,#00bcff,#1dffe2,#7eff82,#e6ff19,#ffa100,#ff3a00,#ff0000,#f90000,#f50000,#f30000,#f30000,#f50000,#f90000,#fe0000,#ff2a00,#ff8600,#fff700,#a3ff5c,#47ffb8,#00efff,#009bff,#004aff,#0000ff)"></i><i style="background:linear-gradient(#0000ff,#005eff,#00bcff,#1dffe3,#7eff82,#e6ff19,#ffa100,#ff3a00,#ff0000,#f90000,#f50000,#f30000,#f30000,#f50000,#f90000,#fe0000,#ff2b00,#ff8600,#fff800,#a3ff5d,#47ffb9,#00efff,#009bff,#004aff,#0000ff)"></i><i style="background:linear-gradient(#0000ff,#005eff,#00bcff,#1dffe3,#7eff82,#e6ff19,#ffa100,#ff3b00,#ff0100,#fa0000,#f60000,#f30000,#f30000,#f50000,#f90000,#fe0000,#ff2b00,#ff8700,#fff800,#a2ff5d,#46ffb9,#00efff,#009bff,#004aff,#0000ff)"></i><i style="background:linear-gradient(#0000ff,#005dff,#00bcff,#1dffe3,#7eff82,#e6ff19,#ffa200,#ff3b00,#ff0100,#fa0000,#f60000,#f40000,#f40000,#f50000,#f90000,#fe0000,#ff2c00,#ff8800,#fff900,#a2ff5e,#46ffba,#00eeff,#009aff,#004aff,#0000ff)"></i><i style="background:linear-gradient(#0000ff,#005dff,#00bcff,#1dffe3,#7eff82,#e6ff19,#ffa200,#ff3b00,#ff0200,#fa0000,#f60000,#f40000,#f40000,#f60000,#f90000,#ff0000,#ff2d00,#ff8900,#fffa00,#a1ff5f,#45ffba,#00eeff,#009aff,#004aff,#0000ff)"></i><i style="background:linear-gradient(#0000ff,#005dff,#00bcff,#1cffe3,#7eff82,#e6ff19,#ffa200,#ff3b00,#ff0200,#fa0000,#f60000,#f40000,#f40000,#f60000,#f90000,#ff0000,#ff2e00,#ff8a00,#fffb00,#a0ff5f,#45ffbb,#00eeff,#009aff,#0049ff,#0000ff)"></i><i style="background:linear-gradient(#0000ff,#005dff,#00bcff,#1cffe3,#7eff82,#e6ff19,#ffa200,#ff3c00,#ff0200,#fa0000,#f60000,#f40000,#f40000,#f60000,#fa0000,#ff0000,#ff2e00,#ff8b00,#fffc00,#a0ff60,#44ffbb,#00edff,#0099ff,#0049ff,#0000ff)"></i><i style="background:linear-gradient(#0000ff,#005dff,#00bcff,#1cffe3,#7eff82,#e6ff1a,#ffa300,#ff3c00,#ff0300,#fa0000,#f60000,#f40000,#f40000,#f60000,#fa0000,#ff0100,#ff2f00,#ff8c00,#fffc00,#9fff61,#44ffbc,#00edff,#0099ff,#0049ff,#0000ff)"></i><i style="background:linear-gradient(#0000ff,#005dff,#00bcff,#1cffe3,#7dff83,#e5ff1a,#ffa300,#ff3d00,#ff0300,#fa0000,#f70000,#f40000,#f40000,#f60000,#fa0000,#ff0100,#ff3000,#ff8d00,#fffd00,#9fff61,#43ffbc,#00ecff,#0099ff,#0049ff,#0000ff)"></i><i style="background:linear-gradient(#0000ff,#005dff,#00bcff,#1cffe3,#7dff83,#e5ff1a,#ffa300,#ff3d00,#ff0400,#fb0000,#f70000,#f50000,#f50000,#f70000,#fa0000,#ff0200,#ff3100,#ff8e00,#fffe00,#9eff62,#43ffbd,#00ecff,#0099ff,#0049ff,#0000ff)"></i><i style="background:linear-gradient(#0000ff,#005dff,#00bcff,#1cffe3,#7dff83,#e5ff1a,#ffa400,#ff3d00,#ff0500,#fb0000,#f70000,#f50000,#f50000,#f70000,#fb0000,#ff0300,#ff3200,#ff8f00,#ffff00,#9dff63,#42ffbd,#00ecff,#0098ff,#0049ff,#0000ff)"></i><i style="background:linear-gradient(#0000ff,#005dff,#00bcff,#1cffe3,#7dff83,#e5ff1b,#ffa400,#ff3e00,#ff0500,#fb0000,#f70000,#f50000,#f50000,#f70000,#fb0000,#ff0400,#ff3300,#ff9000,#feff01,#9dff63,#42ffbe,#00ebff,#0098ff,#0048ff,#0000ff)"></i><i style="background:linear-gradient(#0000ff,#005dff,#00bbff,#1cffe4,#7dff83,#e4ff1b,#ffa500,#ff3e00,#ff0600,#fb0000,#f70000,#f50000,#f50000,#f70000,#fb0000,#ff0400,#ff3400,#ff9100,#fdff02,#9cff64,#41ffbe,#00ebff,#0098ff,#0048ff,#0000ff)"></i><i style="background:linear-gradient(#0000ff,#005dff,#00bbff,#1bffe4,#7cff84,#e4ff1b,#ffa500,#ff3f00,#ff0700,#fb0000,#f80000,#f60000,#f60000,#f80000,#fb0000,#ff0500,#ff3500,#ff9200,#fcff03,#9bff65,#40ffbf,#00eaff,#0097ff,#0048ff,#0000ff)"></i><i style="background:linear-gradient(#0000ff,#005dff,#00bbff,#1bffe4,#7cff84,#e4ff1c,#ffa600,#ff4000,#ff0700,#fc0000,#f80000,#f60000,#f60000,#f80000,#fc0000,#ff0600,#ff3600,#ff9400,#fbff04,#9aff66,#40ffc0,#00eaff,#0097ff,#0048ff,#0000ff)"></i><i style="background:linear-gradient(#0000ff,#005dff,#00bbff,#1bffe4,#7cff84,#e3ff1c,#ffa700,#ff4000,#ff0800,#fc0000,#f80000,#f60000,#f60000,#f80000,#fc0000,#ff0700,#ff3700,#ff9500,#faff05,#99ff66,#3fffc0,#00e9ff,#0097ff,#0048ff,#0000ff)"></i><i style="background:linear-gradient(#0000ff,#005dff,#00bbff,#1bffe4,#7cff84,#e3ff1c,#ffa700,#ff4100,#ff0900,#fc0000,#f80000,#f60000,#f60000,#f80000,#fc0000,#ff0800,#ff3900,#ff9600,#f9ff06,#99ff67,#3fffc1,#00e9ff,#0096ff,#0047ff,#0000ff)"></i><i style="background:linear-gradient(#0000ff,#005dff,#00bbff,#1affe5,#7bff85,#e2ff1d,#ffa800,#ff4200,#ff0a00,#fd0000,#f90000,#f70000,#f70000,#f90000,#fd0000,#ff0900,#ff3a00,#ff9800,#f8ff07,#98ff68,#3effc2,#00e8ff,#0096ff,#0047ff,#0000ff)"></i><i style="background:linear-gradient(#0000ff,#005dff,#00bbff,#1affe5,#7bff85,#e2ff1d,#ffa900,#ff4300,#ff0b00,#fd0000,#f90000,#f70000,#f70000,#f90000,#fd0000,#ff0a00,#ff3b00,#ff9900,#f7ff08,#97ff69,#3dffc2,#00e8ff,#0096ff,#0047ff,#0000ff)"></i><i style="background:linear-gradient(#0000ff,#005dff,#00baff,#1affe5,#7aff86,#e1ff1e,#ffaa00,#ff4300,#ff0c00,#fd0000,#f90000,#f70000,#f70000,#f90000,#fd0000,#ff0b00,#ff3d00,#ff9b00,#f6ff09,#96ff6a,#3cffc3,#00e7ff,#0095ff,#0047ff,#0000ff)"></i><i style="background:linear-gradient(#0000ff,#005dff,#00baff,#1affe6,#7aff86,#e1ff1f,#ffab00,#ff4400,#ff0d00,#fe0000,#fa0000,#f80000,#f80000,#fa0000,#fe0000,#ff0c00,#ff3e00,#ff9c00,#f4ff0b,#95ff6b,#3cffc4,#00e6ff,#0095ff,#0047ff,#0000ff)"></i><i style="background:linear-gradient(#0000ff,#005cff,#00baff,#19ffe6,#79ff87,#e0ff1f,#ffac00,#ff4600,#ff0e00,#fe0000,#fa0000,#f80000,#f80000,#fa0000,#fe0000,#ff0e00,#ff4000,#ff9e00,#f3ff0c,#94ff6c,#3bffc5,#00e6ff,#0094ff,#0046ff,#0000ff)"></i><i style="background:linear-gradient(#0000ff,#005cff,#00baff,#19ffe7,#79ff87,#dfff20,#ffad00,#ff4700,#ff1000,#ff0000,#fb0000,#f90000,#f90000,#fb0000,#ff0000,#ff0f00,#ff4200,#ffa000,#f1ff0e,#93ff6d,#3affc6,#00e5ff,#0094ff,#0046ff,#0000ff)"></i><i style="background:linear-gradient(#0000ff,#005cff,#00b9ff,#18ffe7,#78ff88,#deff22,#ffaf00,#ff4900,#ff1200,#ff0100,#fb0000,#fa0000,#fa0000,#fc0000,#ff0100,#ff1100,#ff4500,#ffa300,#efff10,#91ff6f,#39ffc7,#00e4ff,#0093ff,#0046ff,#0000ff)"></i><i style="background:linear-gradient(#0000ff,#005cff,#00b9ff,#17ffe8,#77ff89,#dcff23,#ffb100,#ff4c00,#ff1400,#ff0300,#fc0000,#fa0000,#fa0000,#fc0000,#ff0300,#ff1400,#ff4800,#ffa600,#edff12,#90ff70,#37ffc8,#00e3ff,#0093ff,#0045ff,#0000ff)"></i><i style="background:linear-gradient(#0000ff,#005bff,#00b8ff,#16ffe9,#75ff8a,#dbff24,#ffb400,#ff4e00,#ff1600,#ff0600,#fd0000,#fb0000,#fb0000,#fd0000,#ff0600,#ff1600,#ff4b00,#ffa900,#ebff14,#8eff72,#36ffc9,#00e2ff,#0092ff,#0045ff,#0000ff)"></i><i style="background:linear-gradient(#0000ff,#005bff,#00b7ff,#15ffea,#74ff8c,#d9ff26,#ffb700,#ff5100,#ff1900,#ff0800,#fe0000,#fc0000,#fc0000,#fe0000,#ff0900,#ff1900,#ff4e00,#ffac00,#e9ff16,#8cff74,#35ffcb,#00e1ff,#0091ff,#0045ff,#0000ff)"></i><i style="background:linear-gradient(#0000ff,#005bff,#00b7ff,#14ffeb,#73ff8d,#d7ff28,#ffba00,#ff5400,#ff1c00,#ff0b00,#ff0000,#fd0000,#fd0000,#ff0100,#ff0c00,#ff1c00,#ff5200,#ffb000,#e6ff19,#8aff76,#33ffcc,#00e0ff,#0090ff,#0044ff,#0000ff)"></i><i style="background:linear-gradient(#0000ff,#005bff,#00b6ff,#14ffec,#72ff8e,#d6ff2a,#ffbd00,#ff5800,#ff1f00,#ff0f00,#ff0300,#fe0000,#fe0000,#ff0400,#ff0f00,#ff2000,#ff5600,#ffb400,#e4ff1c,#88ff77,#32ffce,#00dfff,#0090ff,#0044ff,#0000ff)"></i><i style="background:linear-gradient(#0000ff,#005aff,#00b6ff,#13ffec,#70ff8f,#d4ff2c,#ffc000,#ff5c00,#ff2300,#ff1200,#ff0600,#ff0000,#ff0100,#ff0700,#ff1300,#ff2400,#ff5a00,#ffb800,#e1ff1e,#87ff79,#31ffcf,#00deff,#008fff,#0044ff,#0000ff)"></i><i style="background:linear-gradient(#0000ff,#005aff,#00b5ff,#12ffed,#6fff91,#d2ff2e,#ffc400,#ff6000,#ff2600,#ff1500,#ff0900,#ff0300,#ff0400,#ff0a00,#ff1600,#ff2700,#ff5f00,#ffbc00,#dfff21,#85ff7b,#2fffd0,#00ddff,#008fff,#0044ff,#0000ff)"></i><i style="background:linear-gradient(#0000ff,#005aff,#00b5ff,#11ffee,#6eff92,#d0ff2f,#ffc700,#ff6400,#ff2a00,#ff1800,#ff0c00,#ff0600,#ff0700,#ff0d00,#ff1900,#ff2b00,#ff6300,#ffc000,#dcff23,#83ff7d,#2effd1,#00dcff,#008eff,#0043ff,#0000ff)"></i><i style="background:linear-gradient(#0000ff,#005aff,#00b4ff,#10ffef,#6dff93,#ceff31,#ffca00,#ff6700,#ff2d00,#ff1b00,#ff0f00,#ff0900,#ff0a00,#ff1000,#ff1c00,#ff2e00,#ff6700,#ffc400,#daff25,#81ff7f,#2dffd3,#00dcff,#008eff,#0043ff,#0000ff)"></i><i style="background:linear-gradient(#0000ff,#005aff,#00b4ff,#10ffef,#6cff94,#ccff33,#ffcd00,#ff6b00,#ff3100,#ff1e00,#ff1200,#ff0c00,#ff0c00,#ff1300,#ff1f00,#ff3200,#ff6b00,#ffc700,#d8ff28,#80ff80,#2cffd4,#00dbff,#008dff,#0043ff,#0000ff)"></i><i style="background:linear-gradient(#0000ff,#0059ff,#00b4ff,#0ffff0,#6bff95,#cbff35,#ffd000,#ff6e00,#ff3400,#ff2100,#ff1500,#ff0f00,#ff0f00,#ff1600,#ff2300,#ff3600,#ff7000,#ffcb00,#d5ff2a,#7eff82,#2affd5,#00daff,#008dff,#0043ff,#0000ff)"></i><i style="background:linear-gradient(#0000ff,#0059ff,#00b3ff,#0efff1,#69ff97,#c9ff37,#ffd300,#ff7200,#ff3800,#ff2400,#ff1800,#ff1200,#ff1200,#ff1900,#ff2600,#ff3a00,#ff7400,#ffcf00,#d3ff2c,#7cff84,#29ffd6,#00d9ff,#008cff,#0042ff,#0000ff)"></i><i style="background:linear-gradient(#0000ff,#0059ff,#00b3ff,#0dfff2,#68ff98,#c7ff38,#ffd600,#ff7600,#ff3c00,#ff2800,#ff1b00,#ff1500,#ff1500,#ff1c00,#ff2900,#ff3e00,#ff7800,#ffd300,#d1ff2f,#7aff86,#28ffd7,#00d8ff,#008bff,#0042ff,#0000ff)"></i><i style="background:linear-gradient(#0000ff,#0059ff,#00b2ff,#0cfff3,#67ff99,#c5ff3a,#ffd900,#ff7a00,#ff4000,#ff2b00,#ff1e00,#ff1800,#ff1800,#ff1f00,#ff2d00,#ff4200,#ff7d00,#ffd600,#ceff31,#79ff87,#27ffd9,#00d7ff,#008bff,#0042ff,#0000ff)"></i><i style="background:linear-gradient(#0000ff,#0059ff,#00b2ff,#0cfff3,#66ff9a,#c3ff3c,#ffdd00,#ff7e00,#ff4400,#ff2e00,#ff2100,#ff1b00,#ff1b00,#ff2300,#ff3000,#ff4600,#ff8100,#ffda00,#ccff34,#77ff89,#25ffda,#00d6ff,#008aff,#0041ff,#0000ff)"></i><i style="background:linear-gradient(#0000ff,#0058ff,#00b1ff,#0bfff4,#64ff9b,#c1ff3e,#ffe000,#ff8200,#ff4800,#ff3200,#ff2400,#ff1e00,#ff1f00,#ff2600,#ff3400,#ff4a00,#ff8600,#ffde00,#c9ff36,#75ff8b,#24ffdb,#00d5ff,#008aff,#0041ff,#0000ff)"></i><i style="background:linear-gradient(#0000ff,#0058ff,#00b1ff,#0afff5,#63ff9d,#bfff40,#ffe300,#ff8600,#ff4c00,#ff3600,#ff2800,#ff2100,#ff2200,#ff2900,#ff3800,#ff4e00,#ff8b00,#ffe200,#c7ff39,#73ff8d,#23ffdd,#00d4ff,#0089ff,#0041ff,#0000ff)"></i><i style="background:linear-gradient(#0000ff,#0058ff,#00b0ff,#09fff6,#62ff9e,#bdff42,#ffe600,#ff8b00,#ff5000,#ff3900,#ff2b00,#ff2400,#ff2500,#ff2d00,#ff3c00,#ff5300,#ff8f00,#ffe600,#c4ff3b,#71ff8f,#21ffde,#00d3ff,#0088ff,#0041ff,#0000ff)"></i><i style="background:linear-gradient(#0000ff,#0058ff,#00b0ff,#08fff7,#60ff9f,#bbff44,#ffea00,#ff8f00,#ff5400,#ff3d00,#ff2f00,#ff2800,#ff2900,#ff3100,#ff4000,#ff5700,#ff9400,#ffea00,#c2ff3e,#6fff90,#20ffdf,#00d3ff,#0088ff,#0040ff,#0000ff)"></i><i style="background:linear-gradient(#0000ff,#0057ff,#00afff,#07fff8,#5fffa1,#b9ff46,#ffed00,#ff9300,#ff5900,#ff4100,#ff3200,#ff2b00,#ff2c00,#ff3400,#ff4400,#ff5c00,#ff9900,#ffee00,#bfff40,#6dff92,#1fffe1,#00d2ff,#0087ff,#0040ff,#0000ff)"></i><i style="background:linear-gradient(#0000ff,#0057ff,#00aeff,#06fff9,#5dffa2,#b7ff48,#fff100,#ff9800,#ff5d00,#ff4500,#ff3600,#ff2f00,#ff3000,#ff3800,#ff4900,#ff6100,#ff9e00,#fff200,#bdff43,#6cff94,#1dffe2,#00d1ff,#0087ff,#0040ff,#0000ff)"></i><i style="background:linear-gradient(#0000ff,#0057ff,#00aeff,#05fffa,#5cffa4,#b5ff4b,#fff400,#ff9c00,#ff6200,#ff4900,#ff3a00,#ff3300,#ff3400,#ff3c00,#ff4d00,#ff6600,#ffa300,#fff600,#baff45,#6aff96,#1cffe3,#00d0ff,#0086ff,#003fff,#0000ff)"></i><i style="background:linear-gradient(#0000ff,#0057ff,#00adff,#04fffb,#5bffa5,#b3ff4d,#fff700,#ffa100,#ff6700,#ff4e00,#ff3e00,#ff3600,#ff3700,#ff4000,#ff5100,#ff6b00,#ffa800,#fff900,#b8ff48,#68ff98,#1affe5,#00cfff,#0085ff,#003fff,#0000ff)"></i><i style="background:linear-gradient(#0000ff,#0056ff,#00adff,#03fffc,#59ffa7,#b1ff4f,#fffb00,#ffa500,#ff6b00,#ff5200,#ff4200,#ff3a00,#ff3b00,#ff4400,#ff5600,#ff7000,#ffad00,#fffd00,#b5ff4b,#66ff9a,#19ffe6,#00ceff,#0085ff,#003fff,#0000ff)"></i><i style="background:linear-gradient(#0000ff,#0056ff,#00acff,#02fffd,#58ffa8,#afff51,#fffe00,#ffaa00,#ff7000,#ff5600,#ff4600,#ff3e00,#ff3f00,#ff4800,#ff5a00,#ff7500,#ffb200,#fdff02,#b2ff4d,#64ff9c,#18ffe8,#00cdff,#0084ff,#003eff,#0000ff)"></i><i style="background:linear-gradient(#0000ff,#0056ff,#00abff,#01fffe,#56ffaa,#acff53,#fcff03,#ffae00,#ff7500,#ff5b00,#ff4a00,#ff4200,#ff4300,#ff4d00,#ff5f00,#ff7a00,#ffb700,#f9ff06,#b0ff50,#62ff9e,#16ffe9,#00ccff,#0083ff,#003eff,#0000ff)"></i><i style="background:linear-gradient(#0000ff,#0055ff,#00abff,#00ffff,#55ffab,#aaff56,#f9ff06,#ffb300,#ff7a00,#ff5f00,#ff4e00,#ff4600,#ff4800,#ff5100,#ff6400,#ff7f00,#ffbc00,#f5ff0a,#adff53,#60ffa0,#15ffeb,#00cbff,#0083ff,#003eff,#0000ff)"></i><i style="background:linear-gradient(#0000ff,#0055ff,#00aaff,#00feff,#53ffad,#a8ff58,#f5ff0a,#ffb800,#ff7f00,#ff6400,#ff5300,#ff4b00,#ff4c00,#ff5600,#ff6900,#ff8500,#ffc100,#f2ff0e,#aaff56,#5effa2,#13ffec,#00c9ff,#0082ff,#003dff,#0000ff)"></i><i style="background:linear-gradient(#0000ff,#0055ff,#00a9ff,#00fdff,#51ffae,#a5ff5b,#f2ff0d,#ffbd00,#ff8500,#ff6a00,#ff5800,#ff5000,#ff5100,#ff5b00,#ff6f00,#ff8b00,#ffc700,#edff12,#a7ff59,#5bffa4,#11ffee,#00c8ff,#0081ff,#003dff,#0000ff)"></i><i style="background:linear-gradient(#0000ff,#0054ff,#00a9ff,#00fcff,#4fffb0,#a2ff5d,#eeff11,#ffc300,#ff8b00,#ff6f00,#ff5d00,#ff5500,#ff5600,#ff6100,#ff7400,#ff9100,#ffcd00,#e9ff16,#a4ff5c,#59ffa7,#10ffef,#00c7ff,#0081ff,#003dff,#0000ff)"></i><i style="background:linear-gradient(#0000ff,#0054ff,#00a8ff,#00faff,#4dffb2,#9fff60,#e9ff16,#ffc900,#ff9200,#ff7500,#ff6300,#ff5b00,#ff5c00,#ff6700,#ff7b00,#ff9800,#ffd300,#e5ff1a,#a1ff5f,#57ffa9,#0efff1,#00c6ff,#0080ff,#003cff,#0000ff)"></i><i style="background:linear-gradient(#0000ff,#0054ff,#00a7ff,#00f9ff,#4bffb5,#9cff64,#e5ff1a,#ffd000,#ff9900,#ff7c00,#ff6900,#ff6100,#ff6200,#ff6d00,#ff8100,#ff9f00,#ffd900,#e0ff1f,#9dff62,#54ffab,#0cfff3,#00c5ff,#007fff,#003cff,#0000ff)"></i><i style="background:linear-gradient(#0000ff,#0053ff,#00a6ff,#00f7ff,#48ffb7,#98ff67,#e0ff1f,#ffd700,#ffa000,#ff8300,#ff7000,#ff6800,#ff6900,#ff7400,#ff8900,#ffa700,#ffe000,#dcff23,#9aff66,#52ffae,#0afff5,#00c3ff,#007eff,#003cff,#0000ff)"></i><i style="background:linear-gradient(#0000ff,#0053ff,#00a5ff,#00f5ff,#46ffba,#94ff6b,#dbff24,#ffde00,#ffa900,#ff8b00,#ff7800,#ff6f00,#ff7000,#ff7c00,#ff9100,#ffaf00,#ffe800,#d7ff29,#96ff6a,#4fffb1,#08fff7,#00c2ff,#007dff,#003bff,#0000ff)"></i><i style="background:linear-gradient(#0000ff,#0052ff,#00a3ff,#00f3ff,#43ffbd,#90ff70,#d6ff2a,#ffe600,#ffb200,#ff9400,#ff8000,#ff7700,#ff7800,#ff8400,#ff9a00,#ffb800,#ffef00,#d2ff2e,#92ff6e,#4cffb4,#06fff9,#00c1ff,#007dff,#003bff,#0000ff)"></i><i style="background:linear-gradient(#0000ff,#0051ff,#00a2ff,#00f1ff,#3fffc0,#8cff74,#d0ff2f,#ffef00,#ffbb00,#ff9d00,#ff8900,#ff8000,#ff8100,#ff8d00,#ffa300,#ffc200,#fff700,#ccff34,#8dff73,#48ffb7,#04fffb,#00bfff,#007cff,#003aff,#0000ff)"></i><i style="background:linear-gradient(#0000ff,#0051ff,#00a1ff,#00efff,#3cffc3,#87ff79,#caff35,#fff700,#ffc500,#ffa600,#ff9200,#ff8900,#ff8a00,#ff9600,#ffac00,#ffcb00,#ffff00,#c6ff39,#88ff78,#45ffbb,#01fffe,#00bdff,#007bff,#003aff,#0000ff)"></i><i style="background:linear-gradient(#0000ff,#0050ff,#009fff,#00ecff,#39ffc7,#82ff7e,#c4ff3c,#feff01,#ffcf00,#ffb000,#ff9c00,#ff9200,#ff9400,#ffa000,#ffb600,#ffd500,#f6ff09,#c0ff40,#83ff7c,#41ffbe,#00feff,#00bbff,#0079ff,#003aff,#0000ff)"></i><i style="background:linear-gradient(#0000ff,#004fff,#009eff,#00eaff,#35ffca,#7dff83,#bdff42,#f5ff0a,#ffd900,#ffba00,#ffa600,#ff9c00,#ff9e00,#ffaa00,#ffc000,#ffe000,#eeff11,#baff46,#7eff82,#3dffc2,#00fbff,#00b9ff,#0078ff,#0039ff,#0000ff)"></i><i style="background:linear-gradient(#0000ff,#004eff,#009cff,#00e7ff,#31ffce,#78ff88,#b7ff49,#edff12,#ffe400,#ffc500,#ffb000,#ffa700,#ffa800,#ffb400,#ffcb00,#ffea00,#e6ff19,#b3ff4d,#79ff87,#39ffc6,#00f8ff,#00b8ff,#0077ff,#0038ff,#0000ff)"></i><i style="background:linear-gradient(#0000ff,#004eff,#009aff,#00e5ff,#2dffd2,#72ff8e,#b0ff50,#e4ff1b,#ffee00,#ffd000,#ffbb00,#ffb200,#ffb300,#ffbf00,#ffd600,#fff500,#ddff22,#acff54,#73ff8c,#35ffca,#00f5ff,#00b5ff,#0076ff,#0038ff,#0000ff)"></i><i style="background:linear-gradient(#0000ff,#004dff,#0098ff,#00e2ff,#29ffd6,#6cff93,#a8ff57,#dbff24,#fffa00,#ffdc00,#ffc700,#ffbd00,#ffbf00,#ffcb00,#ffe200,#feff01,#d5ff2b,#a5ff5b,#6dff92,#31ffcf,#00f2ff,#00b3ff,#0074ff,#0037ff,#0000ff)"></i><i style="background:linear-gradient(#0000ff,#004cff,#0096ff,#00deff,#24ffdb,#66ff9a,#a0ff5f,#d2ff2e,#f9ff06,#ffe800,#ffd300,#ffc900,#ffcb00,#ffd700,#ffed00,#f3ff0c,#ccff34,#9dff63,#67ff99,#2cffd3,#00eeff,#00b1ff,#0073ff,#0037ff,#0000ff)"></i><i style="background:linear-gradient(#0000ff,#004bff,#0094ff,#00dbff,#20ffe0,#60ffa0,#98ff68,#c8ff37,#eeff12,#fff400,#ffe000,#ffd600,#ffd700,#ffe400,#fff900,#e8ff17,#c2ff3d,#95ff6b,#61ff9f,#27ffd8,#00ebff,#00aeff,#0071ff,#0036ff,#0000ff)"></i><i style="background:linear-gradient(#0000ff,#004aff,#0092ff,#00d8ff,#1bffe4,#59ffa7,#90ff70,#beff41,#e2ff1d,#feff01,#ffec00,#ffe300,#ffe400,#fff000,#f8ff07,#ddff22,#b9ff47,#8cff73,#5affa6,#22ffdd,#00e7ff,#00acff,#0070ff,#0035ff,#0000ff)"></i><i style="background:linear-gradient(#0000ff,#0049ff,#0090ff,#00d4ff,#16ffea,#52ffae,#87ff79,#b4ff4c,#d7ff28,#f2ff0d,#fff900,#fff000,#fff100,#fffd00,#edff13,#d2ff2d,#afff51,#84ff7c,#53ffad,#1dffe3,#00e3ff,#00a9ff,#006eff,#0034ff,#0000ff)"></i><i style="background:linear-gradient(#0000ff,#0047ff,#008dff,#00d0ff,#10ffef,#4affb5,#7eff82,#aaff56,#ccff33,#e6ff19,#f8ff07,#fffd00,#fffe00,#f5ff0a,#e1ff1e,#c7ff39,#a4ff5b,#7bff85,#4bffb4,#17ffe8,#00dfff,#00a6ff,#006cff,#0033ff,#0000ff)"></i><i style="background:linear-gradient(#0000ff,#0046ff,#008bff,#00ccff,#0bfff4,#43ffbd,#75ff8b,#9fff61,#c1ff3f,#daff25,#ecff13,#f5ff0b,#f3ff0c,#e8ff17,#d6ff2a,#bbff44,#9aff66,#72ff8e,#44ffbc,#11ffee,#00dbff,#00a3ff,#006aff,#0033ff,#0000ff)"></i><i style="background:linear-gradient(#0000ff,#0045ff,#0088ff,#00c8ff,#05fffa,#3bffc4,#6cff94,#95ff6b,#b6ff49,#d0ff30,#e0ff1f,#e8ff17,#e7ff18,#ddff23,#cbff35,#b1ff4f,#90ff70,#69ff97,#3cffc3,#0bfff4,#00d6ff,#009fff,#0068ff,#0031ff,#0000ff)"></i><i style="background:linear-gradient(#0000ff,#0043ff,#0084ff,#00c3ff,#00fdff,#34ffcc,#63ff9d,#8bff75,#acff54,#c4ff3b,#d4ff2b,#dbff24,#daff25,#d1ff2e,#bfff40,#a6ff59,#86ff7a,#60ffa0,#35ffcb,#05fffa,#00d0ff,#009bff,#0065ff,#0030ff,#0000ff)"></i><i style="background:linear-gradient(#0000ff,#0041ff,#0081ff,#00bdff,#00f6ff,#2bffd4,#59ffa7,#80ff80,#a0ff60,#b8ff48,#c7ff38,#ceff31,#cdff32,#c4ff3b,#b3ff4c,#9bff65,#7cff84,#56ffa9,#2cffd3,#00fcff,#00cbff,#0097ff,#0062ff,#002fff,#0000ff)"></i><i style="background:linear-gradient(#0000ff,#003fff,#007dff,#00b7ff,#00efff,#22ffdd,#4effb1,#74ff8c,#93ff6d,#aaff56,#b9ff46,#c0ff3f,#bfff40,#b6ff49,#a6ff5a,#8eff72,#70ff90,#4cffb4,#23ffdd,#00f5ff,#00c4ff,#0092ff,#005fff,#002dff,#0000ff)"></i><i style="background:linear-gradient(#0000ff,#003dff,#0078ff,#00b1ff,#00e6ff,#18ffe8,#42ffbd,#67ff99,#85ff7b,#9bff65,#aaff56,#b0ff4f,#afff50,#a7ff59,#97ff69,#80ff80,#63ff9d,#40ffc0,#18ffe7,#00ecff,#00bdff,#008dff,#005cff,#002cff,#0000ff)"></i><i style="background:linear-gradient(#0000ff,#003aff,#0073ff,#00aaff,#00dcff,#0cfff3,#35ffca,#58ffa8,#75ff8b,#8aff76,#98ff68,#9eff61,#9dff62,#95ff6b,#86ff7a,#70ff90,#54ffac,#33ffcd,#0dfff2,#00e2ff,#00b5ff,#0087ff,#0058ff,#002aff,#0000ff)"></i><i style="background:linear-gradient(#0000ff,#0037ff,#006dff,#00a1ff,#00d1ff,#00fdff,#25ffda,#47ffb9,#62ff9e,#76ff8a,#84ff7c,#8aff76,#89ff77,#81ff7f,#72ff8e,#5dffa2,#43ffbd,#23ffdc,#00feff,#00d7ff,#00acff,#0080ff,#0054ff,#0028ff,#0000ff)"></i><i style="background:linear-gradient(#0000ff,#0034ff,#0066ff,#0096ff,#00c4ff,#00edff,#12ffed,#32ffce,#4bffb5,#5effa2,#6aff96,#70ff90,#6fff91,#68ff98,#5affa5,#47ffb9,#2effd1,#10ffef,#00eeff,#00c9ff,#00a1ff,#0078ff,#004eff,#0025ff,#0000ff)"></i><i style="background:linear-gradient(#0000ff,#002fff,#005dff,#0089ff,#00b2ff,#00d7ff,#00f9ff,#16ffe9,#2dffd2,#3effc1,#4affb6,#4fffb1,#4effb1,#47ffb8,#3bffc4,#29ffd6,#13ffec,#00f7ff,#00d8ff,#00b6ff,#0093ff,#006dff,#0047ff,#0022ff,#0000ff)"></i><i style="background:linear-gradient(#0000ff,#002aff,#0053ff,#007aff,#009eff,#00c0ff,#00ddff,#00f6ff,#0cfff3,#1bffe4,#25ffda,#2affd5,#29ffd6,#23ffdc,#18ffe7,#09fff7,#00f3ff,#00dbff,#00c0ff,#00a2ff,#0082ff,#0061ff,#003fff,#001eff,#0000ff)"></i><i style="background:linear-gradient(#0000ff,#0025ff,#0049ff,#006bff,#008bff,#00a8ff,#00c2ff,#00d8ff,#00eaff,#00f8ff,#02fffd,#06fff9,#05fffa,#00ffff,#00f5ff,#00e7ff,#00d6ff,#00c1ff,#00a9ff,#008fff,#0072ff,#0055ff,#0038ff,#001aff,#0000ff)"></i><i style="background:linear-gradient(#0000ff,#0020ff,#003fff,#005dff,#0079ff,#0093ff,#00aaff,#00bdff,#00cdff,#00d8ff,#00e0ff,#00e4ff,#00e3ff,#00dfff,#00d6ff,#00caff,#00bbff,#00a8ff,#0093ff,#007cff,#0064ff,#004aff,#0031ff,#0017ff,#0000ff)"></i><i style="background:linear-gradient(#0000ff,#001bff,#0036ff,#0050ff,#0068ff,#007eff,#0091ff,#00a2ff,#00afff,#00b9ff,#00c0ff,#00c3ff,#00c2ff,#00beff,#00b7ff,#00adff,#00a0ff,#0090ff,#007eff,#006aff,#0055ff,#0040ff,#002aff,#0014ff,#0000ff)"></i><i style="background:linear-gradient(#0000ff,#0017ff,#002dff,#0043ff,#0057ff,#0069ff,#0079ff,#0087ff,#0092ff,#009bff,#00a0ff,#00a3ff,#00a2ff,#009fff,#0099ff,#0090ff,#0085ff,#0078ff,#0069ff,#0059ff,#0047ff,#0035ff,#0023ff,#0011ff,#0000ff)"></i><i style="background:linear-gradient(#0000ff,#0013ff,#0025ff,#0037ff,#0047ff,#0056ff,#0063ff,#006fff,#0078ff,#007fff,#0083ff,#0085ff,#0085ff,#0082ff,#007dff,#0076ff,#006dff,#0062ff,#0056ff,#0049ff,#003aff,#002cff,#001cff,#000eff,#0000ff)"></i><i style="background:linear-gradient(#0000ff,#000fff,#001eff,#002cff,#0039ff,#0045ff,#004fff,#0058ff,#0060ff,#0065ff,#0069ff,#006bff,#006aff,#0068ff,#0064ff,#005fff,#0057ff,#004fff,#0045ff,#003aff,#002fff,#0023ff,#0017ff,#000bff,#0000ff)"></i><i style="background:linear-gradient(#0000ff,#000cff,#0017ff,#0022ff,#002cff,#0035ff,#003dff,#0044ff,#004aff,#004eff,#0051ff,#0052ff,#0052ff,#0050ff,#004dff,#0049ff,#0043ff,#003cff,#0035ff,#002dff,#0024ff,#001bff,#0011ff,#0008ff,#0000ff)"></i><i style="background:linear-gradient(#0000ff,#0008ff,#0010ff,#0018ff,#001fff,#0026ff,#002cff,#0031ff,#0035ff,#0038ff,#003aff,#003bff,#003aff,#0039ff,#0037ff,#0034ff,#0030ff,#002bff,#0026ff,#0020ff,#001aff,#0013ff,#000cff,#0006ff,#0000ff)"></i><i style="background:linear-gradient(#0000ff,#0005ff,#000aff,#000fff,#0013ff,#0018ff,#001bff,#001eff,#0021ff,#0023ff,#0024ff,#0024ff,#0024ff,#0024ff,#0022ff,#0020ff,#001eff,#001bff,#0018ff,#0014ff,#0010ff,#000cff,#0008ff,#0004ff,#0000ff)"></i><i style="background:linear-gradient(#0000ff,#0002ff,#0004ff,#0006ff,#0008ff,#000aff,#000cff,#000dff,#000eff,#000fff,#000fff,#0010ff,#0010ff,#000fff,#000fff,#000eff,#000dff,#000bff,#000aff,#0008ff,#0007ff,#0005ff,#0003ff,#0002ff,#0000ff)"></i><i style="flex-basis:0.3px;background:linear-gradient(#0000ff,#0000ff,#0001ff,#0001ff,#0002ff,#0002ff,#0002ff,#0002ff,#0003ff,#0003ff,#0003ff,#0003ff,#0003ff,#0003ff,#0003ff,#0003ff,#0002ff,#0002ff,#0002ff,#0002ff,#0001ff,#0001ff,#0001ff,#0000ff,#0000ff)"></i></div>
<div class="hm" style="left:36px;top:297.8px;width:129.7px;height:62.8px"><i style="background:linear-gradient(#0000ff,#0055ff,#00abff,#03fffc,#5bffa4,#baff45,#ffe300,#ff8000,#ff3700,#ff2400,#ff1800,#ff1100,#ff0f00,#ff1300,#ff1d00,#ff2c00,#ff4f00,#ffa800,#f3ff0d,#99ff67,#40ffc0,#00ecff,#009aff,#004bff,#0000ff)"></i><i style="background:linear-gradient(#0000ff,#0055ff,#00abff,#03fffc,#5cffa4,#bbff45,#ffe300,#ff8000,#ff3700,#ff2300,#ff1700,#ff1000,#ff0f00,#ff1300,#ff1c00,#ff2b00,#ff4f00,#ffa700,#f3ff0c,#99ff67,#40ffc0,#00ecff,#009aff,#004bff,#0000ff)"></i><i style="background:linear-gradient(#0000ff,#0055ff,#00abff,#03fffc,#5cffa4,#bbff45,#ffe300,#ff7f00,#ff3600,#ff2300,#ff1700,#ff1000,#ff0e00,#ff1200,#ff1c00,#ff2a00,#ff4e00,#ffa600,#f4ff0b,#9aff66,#40ffbf,#00ecff,#009bff,#004bff,#0000ff)"></i><i style="background:linear-gradient(#0000ff,#0055ff,#00abff,#03fffc,#5cffa4,#bbff44,#ffe200,#ff7f00,#ff3500,#ff2200,#ff1600,#ff0f00,#ff0e00,#ff1200,#ff1b00,#ff2a00,#ff4d00,#ffa500,#f4ff0b,#9aff66,#41ffbf,#00ecff,#009bff,#004bff,#0000ff)"></i><i style="background:linear-gradient(#0000ff,#0055ff,#00abff,#04fffb,#5cffa3,#bbff44,#ffe200,#ff7e00,#ff3500,#ff2200,#ff1500,#ff0e00,#ff0d00,#ff1100,#ff1b00,#ff2900,#ff4c00,#ffa400,#f5ff0a,#9bff65,#41ffbe,#00edff,#009bff,#004bff,#0000ff)"></i><i style="background:linear-gradient(#0000ff,#0055ff,#00acff,#04fffb,#5dffa3,#bcff44,#ffe100,#ff7d00,#ff3400,#ff2100,#ff1500,#ff0e00,#ff0c00,#ff1000,#ff1a00,#ff2800,#ff4c00,#ffa400,#f6ff09,#9bff65,#42ffbe,#00edff,#009bff,#004cff,#0000ff)"></i><i style="background:linear-gradient(#0000ff,#0055ff,#00acff,#04fffb,#5dffa3,#bcff43,#ffe100,#ff7d00,#ff3400,#ff2000,#ff1400,#ff0d00,#ff0c00,#ff1000,#ff1900,#ff2800,#ff4b00,#ffa300,#f6ff09,#9cff64,#42ffbd,#00edff,#009cff,#004cff,#0000ff)"></i><i style="background:linear-gradient(#0000ff,#0055ff,#00acff,#04fffb,#5dffa3,#bcff43,#ffe000,#ff7c00,#ff3300,#ff2000,#ff1400,#ff0c00,#ff0b00,#ff0f00,#ff1800,#ff2700,#ff4a00,#ffa200,#f7ff08,#9cff64,#43ffbd,#00eeff,#009cff,#004cff,#0000ff)"></i><i style="background:linear-gradient(#0000ff,#0055ff,#00acff,#04fffb,#5dffa2,#bdff43,#ffdf00,#ff7b00,#ff3200,#ff1f00,#ff1300,#ff0c00,#ff0a00,#ff0e00,#ff1800,#ff2600,#ff4900,#ffa100,#f8ff07,#9dff63,#43ffbd,#00eeff,#009cff,#004cff,#0000ff)"></i><i style="background:linear-gradient(#0000ff,#0055ff,#00acff,#05fffa,#5effa2,#bdff42,#ffdf00,#ff7b00,#ff3100,#ff1e00,#ff1200,#ff0b00,#ff0900,#ff0d00,#ff1700,#ff2500,#ff4800,#ffa000,#f9ff06,#9dff62,#43ffbc,#00efff,#009cff,#004cff,#0000ff)"></i><i style="background:linear-gradient(#0000ff,#0056ff,#00acff,#05fffa,#5effa2,#beff42,#ffde00,#ff7a00,#ff3100,#ff1e00,#ff1100,#ff0a00,#ff0900,#ff0d00,#ff1600,#ff2500,#ff4700,#ff9f00,#faff06,#9eff62,#44ffbc,#00efff,#009dff,#004cff,#0000ff)"></i><i style="background:linear-gradient(#0000ff,#0056ff,#00acff,#05fffa,#5effa1,#beff41,#ffde00,#ff7900,#ff3000,#ff1d00,#ff1000,#ff0900,#ff0800,#ff0c00,#ff1500,#ff2400,#ff4600,#ff9e00,#faff05,#9fff61,#44ffbb,#00efff,#009dff,#004cff,#0000ff)"></i><i style="background:linear-gradient(#0000ff,#0056ff,#00adff,#05fffa,#5fffa1,#beff41,#ffdd00,#ff7800,#ff2f00,#ff1c00,#ff1000,#ff0800,#ff0700,#ff0b00,#ff1400,#ff2300,#ff4500,#ff9d00,#fbff04,#9fff60,#45ffbb,#00f0ff,#009dff,#004dff,#0000ff)"></i><i style="background:linear-gradient(#0000ff,#0056ff,#00adff,#06fff9,#5fffa1,#bfff41,#ffdc00,#ff7700,#ff2e00,#ff1b00,#ff0f00,#ff0800,#ff0600,#ff0a00,#ff1400,#ff2200,#ff4400,#ff9b00,#fcff03,#a0ff60,#46ffba,#00f0ff,#009dff,#004dff,#0000ff)"></i><i style="background:linear-gradient(#0000ff,#0056ff,#00adff,#06fff9,#5fffa0,#bfff40,#ffdb00,#ff7700,#ff2d00,#ff1a00,#ff0e00,#ff0700,#ff0500,#ff0900,#ff1300,#ff2100,#ff4300,#ff9a00,#fdff02,#a1ff5f,#46ffba,#00f0ff,#009eff,#004dff,#0000ff)"></i><i style="background:linear-gradient(#0000ff,#0056ff,#00adff,#06fff9,#60ffa0,#c0ff40,#ffdb00,#ff7600,#ff2c00,#ff1a00,#ff0d00,#ff0600,#ff0400,#ff0800,#ff1200,#ff2000,#ff4200,#ff9900,#feff01,#a1ff5e,#47ffb9,#00f1ff,#009eff,#004dff,#0000ff)"></i><i style="background:linear-gradient(#0000ff,#0056ff,#00adff,#06fff9,#60ffa0,#c0ff3f,#ffda00,#ff7500,#ff2c00,#ff1900,#ff0c00,#ff0500,#ff0300,#ff0700,#ff1100,#ff1f00,#ff4000,#ff9800,#ffff00,#a2ff5e,#47ffb8,#00f1ff,#009eff,#004dff,#0000ff)"></i><i style="background:linear-gradient(#0000ff,#0056ff,#00aeff,#07fff8,#61ff9f,#c1ff3f,#ffd900,#ff7400,#ff2b00,#ff1800,#ff0b00,#ff0400,#ff0200,#ff0600,#ff1000,#ff1e00,#ff3f00,#ff9700,#fffe00,#a3ff5d,#48ffb8,#00f2ff,#009fff,#004dff,#0000ff)"></i><i style="background:linear-gradient(#0000ff,#0056ff,#00aeff,#07fff8,#61ff9f,#c1ff3e,#ffd800,#ff7300,#ff2a00,#ff1700,#ff0a00,#ff0300,#ff0100,#ff0500,#ff0f00,#ff1d00,#ff3e00,#ff9600,#fffd00,#a3ff5c,#48ffb7,#00f2ff,#009fff,#004dff,#0000ff)"></i><i style="background:linear-gradient(#0000ff,#0056ff,#00aeff,#07fff8,#61ff9e,#c2ff3e,#ffd800,#ff7200,#ff2900,#ff1600,#ff0900,#ff0200,#ff0000,#ff0400,#ff0e00,#ff1c00,#ff3d00,#ff9400,#fffc00,#a4ff5c,#49ffb7,#00f3ff,#009fff,#004eff,#0000ff)"></i><i style="background:linear-gradient(#0000ff,#0056ff,#00aeff,#08fff7,#62ff9e,#c2ff3d,#ffd700,#ff7100,#ff2800,#ff1500,#ff0800,#ff0100,#ff0000,#ff0300,#ff0d00,#ff1b00,#ff3c00,#ff9300,#fffb00,#a5ff5b,#49ffb6,#00f3ff,#009fff,#004eff,#0000ff)"></i><i style="background:linear-gradient(#0000ff,#0057ff,#00aeff,#08fff7,#62ff9e,#c3ff3d,#ffd600,#ff7000,#ff2700,#ff1400,#ff0700,#ff0000,#fe0000,#ff0200,#ff0c00,#ff1a00,#ff3b00,#ff9200,#fffa00,#a6ff5a,#4affb5,#00f4ff,#00a0ff,#004eff,#0000ff)"></i><i style="background:linear-gradient(#0000ff,#0057ff,#00afff,#08fff7,#63ff9d,#c4ff3c,#ffd500,#ff6f00,#ff2600,#ff1300,#ff0600,#ff0000,#fe0000,#ff0100,#ff0b00,#ff1900,#ff3900,#ff9000,#fff900,#a7ff59,#4bffb5,#00f4ff,#00a0ff,#004eff,#0000ff)"></i><i style="background:linear-gradient(#0000ff,#0057ff,#00afff,#09fff6,#63ff9c,#c4ff3b,#ffd400,#ff6e00,#ff2500,#ff1200,#ff0500,#fe0000,#fe0000,#ff0000,#ff0900,#ff1800,#ff3800,#ff8f00,#fff800,#a7ff58,#4bffb4,#00f5ff,#00a0ff,#004eff,#0000ff)"></i><i style="background:linear-gradient(#0000ff,#0057ff,#00afff,#09fff6,#64ff9c,#c5ff3a,#ffd300,#ff6c00,#ff2300,#ff1000,#ff0400,#fe0000,#fd0000,#ff0000,#ff0800,#ff1700,#ff3600,#ff8d00,#fff600,#a8ff57,#4cffb3,#00f5ff,#00a1ff,#004fff,#0000ff)"></i><i style="background:linear-gradient(#0000ff,#0057ff,#00afff,#0afff5,#64ff9b,#c6ff3a,#ffd200,#ff6b00,#ff2200,#ff0f00,#ff0200,#fd0000,#fd0000,#fe0000,#ff0700,#ff1500,#ff3500,#ff8b00,#fff500,#a9ff56,#4dffb3,#00f6ff,#00a1ff,#004fff,#0000ff)"></i><i style="background:linear-gradient(#0000ff,#0057ff,#00b0ff,#0afff5,#65ff9b,#c6ff39,#ffd000,#ff6900,#ff2100,#ff0e00,#ff0100,#fd0000,#fc0000,#fe0000,#ff0500,#ff1400,#ff3300,#ff8a00,#fff400,#aaff55,#4effb2,#00f6ff,#00a2ff,#004fff,#0000ff)"></i><i style="background:linear-gradient(#0000ff,#0057ff,#00b0ff,#0bfff4,#66ff9a,#c7ff38,#ffcf00,#ff6800,#ff1f00,#ff0c00,#ff0000,#fc0000,#fc0000,#fd0000,#ff0400,#ff1200,#ff3200,#ff8800,#fff200,#abff54,#4fffb1,#00f7ff,#00a2ff,#004fff,#0000ff)"></i><i style="background:linear-gradient(#0000ff,#0058ff,#00b0ff,#0bfff4,#66ff99,#c8ff37,#ffce00,#ff6700,#ff1e00,#ff0b00,#fe0000,#fc0000,#fb0000,#fd0000,#ff0200,#ff1100,#ff3000,#ff8600,#fff100,#acff53,#4fffb0,#00f8ff,#00a2ff,#004fff,#0000ff)"></i><i style="background:linear-gradient(#0000ff,#0058ff,#00b1ff,#0cfff4,#67ff99,#c9ff36,#ffcc00,#ff6500,#ff1d00,#ff0a00,#fe0000,#fb0000,#fb0000,#fc0000,#ff0100,#ff1000,#ff2e00,#ff8500,#ffef00,#adff52,#50ffaf,#00f8ff,#00a3ff,#0050ff,#0000ff)"></i><i style="background:linear-gradient(#0000ff,#0058ff,#00b1ff,#0cfff3,#68ff98,#caff36,#ffcb00,#ff6400,#ff1b00,#ff0800,#fd0000,#fb0000,#fa0000,#fc0000,#ff0000,#ff0e00,#ff2d00,#ff8300,#ffee00,#aeff51,#51ffaf,#00f9ff,#00a3ff,#0050ff,#0000ff)"></i><i style="background:linear-gradient(#0000ff,#0058ff,#00b1ff,#0dfff3,#68ff98,#cbff35,#ffca00,#ff6200,#ff1a00,#ff0700,#fd0000,#fb0000,#fa0000,#fb0000,#fe0000,#ff0d00,#ff2b00,#ff8100,#ffec00,#afff50,#52ffae,#00f9ff,#00a4ff,#0050ff,#0000ff)"></i><i style="background:linear-gradient(#0000ff,#0058ff,#00b2ff,#0dfff2,#69ff97,#cbff34,#ffc800,#ff6100,#ff1900,#ff0500,#fd0000,#fa0000,#f90000,#fb0000,#fe0000,#ff0b00,#ff2a00,#ff7f00,#ffeb00,#b0ff4f,#53ffad,#00faff,#00a4ff,#0050ff,#0000ff)"></i><i style="background:linear-gradient(#0000ff,#0058ff,#00b2ff,#0efff2,#6aff96,#ccff33,#ffc700,#ff5f00,#ff1700,#ff0400,#fc0000,#fa0000,#f90000,#fa0000,#fd0000,#ff0a00,#ff2800,#ff7d00,#ffe900,#b1ff4e,#53ffac,#00fbff,#00a5ff,#0050ff,#0000ff)"></i><i style="background:linear-gradient(#0000ff,#0059ff,#00b2ff,#0efff1,#6aff96,#cdff32,#ffc600,#ff5e00,#ff1600,#ff0300,#fc0000,#f90000,#f80000,#fa0000,#fd0000,#ff0800,#ff2700,#ff7c00,#ffe800,#b2ff4d,#54ffab,#00fbff,#00a5ff,#0051ff,#0000ff)"></i><i style="background:linear-gradient(#0000ff,#0059ff,#00b3ff,#0efff1,#6bff95,#ceff32,#ffc500,#ff5c00,#ff1500,#ff0100,#fb0000,#f90000,#f80000,#f90000,#fc0000,#ff0700,#ff2500,#ff7a00,#ffe600,#b3ff4c,#55ffab,#00fcff,#00a5ff,#0051ff,#0000ff)"></i><i style="background:linear-gradient(#0000ff,#0059ff,#00b3ff,#0ffff0,#6bff94,#cfff31,#ffc300,#ff5b00,#ff1300,#ff0000,#fb0000,#f80000,#f80000,#f90000,#fc0000,#ff0500,#ff2400,#ff7800,#ffe500,#b4ff4b,#56ffaa,#00fcff,#00a6ff,#0051ff,#0000ff)"></i><i style="background:linear-gradient(#0000ff,#0059ff,#00b3ff,#0ffff0,#6cff94,#cfff30,#ffc200,#ff5a00,#ff1200,#ff0000,#fa0000,#f80000,#f70000,#f80000,#fc0000,#ff0400,#ff2200,#ff7700,#ffe400,#b5ff4a,#57ffa9,#00fdff,#00a6ff,#0051ff,#0000ff)"></i><i style="background:linear-gradient(#0000ff,#0059ff,#00b3ff,#10ffef,#6dff93,#d0ff2f,#ffc100,#ff5800,#ff1100,#fe0000,#fa0000,#f70000,#f70000,#f80000,#fb0000,#ff0300,#ff2100,#ff7500,#ffe200,#b6ff49,#57ffa8,#00feff,#00a7ff,#0051ff,#0000ff)"></i><i style="background:linear-gradient(#0000ff,#0059ff,#00b4ff,#10ffef,#6dff93,#d1ff2f,#ffc000,#ff5700,#ff1000,#fe0000,#f90000,#f70000,#f60000,#f80000,#fb0000,#ff0200,#ff2000,#ff7400,#ffe100,#b7ff48,#58ffa8,#00feff,#00a7ff,#0052ff,#0000ff)"></i><i style="background:linear-gradient(#0000ff,#0059ff,#00b4ff,#11ffef,#6eff92,#d1ff2e,#ffbf00,#ff5600,#ff0f00,#fd0000,#f90000,#f70000,#f60000,#f70000,#fa0000,#ff0100,#ff1e00,#ff7200,#ffe000,#b8ff48,#59ffa7,#00ffff,#00a7ff,#0052ff,#0000ff)"></i><i style="background:linear-gradient(#0000ff,#005aff,#00b4ff,#11ffee,#6eff92,#d2ff2d,#ffbe00,#ff5500,#ff0e00,#fd0000,#f90000,#f60000,#f50000,#f70000,#fa0000,#ff0000,#ff1d00,#ff7100,#ffde00,#b9ff47,#59ffa6,#00ffff,#00a8ff,#0052ff,#0000ff)"></i><i style="background:linear-gradient(#0000ff,#005aff,#00b5ff,#11ffee,#6fff91,#d3ff2d,#ffbd00,#ff5400,#ff0d00,#fd0000,#f80000,#f60000,#f50000,#f60000,#fa0000,#fe0000,#ff1c00,#ff6f00,#ffdd00,#baff46,#5affa6,#01fffe,#00a8ff,#0052ff,#0000ff)"></i><i style="background:linear-gradient(#0000ff,#005aff,#00b5ff,#12ffed,#6fff91,#d3ff2c,#ffbc00,#ff5200,#ff0b00,#fc0000,#f80000,#f50000,#f50000,#f60000,#f90000,#fe0000,#ff1b00,#ff6e00,#ffdb00,#bbff45,#5bffa5,#01fffe,#00a8ff,#0052ff,#0000ff)"></i><i style="background:linear-gradient(#0000ff,#005aff,#00b5ff,#12ffed,#70ff90,#d4ff2b,#ffba00,#ff5100,#ff0a00,#fc0000,#f70000,#f50000,#f40000,#f50000,#f90000,#fd0000,#ff1900,#ff6c00,#ffda00,#bcff44,#5cffa4,#02fffd,#00a9ff,#0053ff,#0000ff)"></i><i style="background:linear-gradient(#0000ff,#005aff,#00b5ff,#13ffec,#70ff8f,#d5ff2a,#ffb900,#ff5000,#ff0900,#fb0000,#f70000,#f40000,#f40000,#f50000,#f80000,#fd0000,#ff1800,#ff6a00,#ffd800,#bdff43,#5cffa3,#03fffc,#00a9ff,#0053ff,#0000ff)"></i><i style="background:linear-gradient(#0000ff,#005aff,#00b6ff,#13ffec,#71ff8f,#d6ff2a,#ffb800,#ff4e00,#ff0800,#fb0000,#f70000,#f40000,#f30000,#f50000,#f80000,#fd0000,#ff1600,#ff6900,#ffd700,#beff42,#5dffa2,#03fffc,#00aaff,#0053ff,#0000ff)"></i><i style="background:linear-gradient(#0000ff,#005aff,#00b6ff,#14ffec,#72ff8e,#d6ff29,#ffb700,#ff4d00,#ff0600,#fa0000,#f60000,#f30000,#f30000,#f40000,#f70000,#fc0000,#ff1500,#ff6700,#ffd600,#bfff41,#5effa2,#04fffb,#00aaff,#0053ff,#0000ff)"></i><i style="background:linear-gradient(#0000ff,#005bff,#00b6ff,#14ffeb,#72ff8e,#d7ff28,#ffb600,#ff4c00,#ff0500,#fa0000,#f60000,#f30000,#f20000,#f40000,#f70000,#fc0000,#ff1400,#ff6600,#ffd400,#c0ff40,#5fffa1,#04fffb,#00aaff,#0054ff,#0000ff)"></i><i style="background:linear-gradient(#0000ff,#005bff,#00b7ff,#14ffeb,#73ff8d,#d8ff27,#ffb400,#ff4b00,#ff0400,#fa0000,#f50000,#f30000,#f20000,#f30000,#f60000,#fb0000,#ff1200,#ff6400,#ffd300,#c1ff3f,#60ffa0,#05fffa,#00abff,#0054ff,#0000ff)"></i><i style="background:linear-gradient(#0000ff,#005bff,#00b7ff,#15ffea,#73ff8d,#d8ff27,#ffb300,#ff4a00,#ff0300,#f90000,#f50000,#f20000,#f20000,#f30000,#f60000,#fb0000,#ff1100,#ff6300,#ffd200,#c1ff3e,#60ffa0,#05fffa,#00abff,#0054ff,#0000ff)"></i><i style="background:linear-gradient(#0000ff,#005bff,#00b7ff,#15ffea,#74ff8c,#d9ff26,#ffb300,#ff4900,#ff0200,#f90000,#f50000,#f20000,#f10000,#f30000,#f60000,#fb0000,#ff1000,#ff6100,#ffd000,#c2ff3d,#61ff9f,#06fff9,#00acff,#0054ff,#0000ff)"></i><i style="background:linear-gradient(#0000ff,#005bff,#00b7ff,#15ffea,#74ff8c,#daff26,#ffb200,#ff4800,#ff0100,#f90000,#f40000,#f20000,#f10000,#f20000,#f50000,#fa0000,#ff0f00,#ff6000,#ffcf00,#c3ff3c,#61ff9e,#06fff9,#00acff,#0054ff,#0000ff)"></i><i style="background:linear-gradient(#0000ff,#005bff,#00b7ff,#16ffea,#74ff8b,#daff25,#ffb100,#ff4700,#ff0000,#f80000,#f40000,#f10000,#f10000,#f20000,#f50000,#fa0000,#ff0e00,#ff5f00,#ffce00,#c4ff3c,#62ff9e,#07fff8,#00acff,#0054ff,#0000ff)"></i><i style="background:linear-gradient(#0000ff,#005bff,#00b7ff,#16ffe9,#75ff8b,#daff25,#ffb000,#ff4600,#ff0000,#f80000,#f40000,#f10000,#f00000,#f20000,#f50000,#fa0000,#ff0d00,#ff5e00,#ffcd00,#c4ff3b,#62ff9d,#07fff8,#00acff,#0055ff,#0000ff)"></i><i style="background:linear-gradient(#0000ff,#005bff,#00b8ff,#16ffe9,#75ff8b,#dbff25,#ffb000,#ff4600,#ff0000,#f80000,#f40000,#f10000,#f00000,#f20000,#f50000,#fa0000,#ff0d00,#ff5d00,#ffcd00,#c5ff3b,#63ff9d,#07fff8,#00adff,#0055ff,#0000ff)"></i><i style="background:linear-gradient(#0000ff,#005bff,#00b8ff,#16ffe9,#75ff8b,#dbff25,#ffb000,#ff4600,#ff0000,#f80000,#f30000,#f10000,#f00000,#f10000,#f50000,#f90000,#ff0c00,#ff5d00,#ffcc00,#c5ff3a,#63ff9d,#08fff7,#00adff,#0055ff,#0000ff)"></i><i style="background:linear-gradient(#0000ff,#005bff,#00b8ff,#16ffe9,#75ff8b,#dbff25,#ffb000,#ff4600,#ff0000,#f80000,#f30000,#f10000,#f00000,#f10000,#f40000,#f90000,#ff0c00,#ff5c00,#ffcc00,#c5ff3a,#63ff9c,#08fff7,#00adff,#0055ff,#0000ff)"></i><i style="background:linear-gradient(#0000ff,#005bff,#00b8ff,#16ffe9,#75ff8b,#dbff25,#ffb000,#ff4600,#ff0000,#f80000,#f30000,#f10000,#f00000,#f10000,#f40000,#f90000,#ff0c00,#ff5c00,#ffcb00,#c6ff3a,#64ff9c,#08fff7,#00adff,#0055ff,#0000ff)"></i><i style="background:linear-gradient(#0000ff,#005bff,#00b7ff,#16ffe9,#75ff8b,#daff25,#ffb000,#ff4600,#ff0000,#f80000,#f40000,#f10000,#f00000,#f10000,#f50000,#f90000,#ff0c00,#ff5d00,#ffcc00,#c6ff3a,#64ff9c,#08fff7,#00adff,#0055ff,#0000ff)"></i><i style="background:linear-gradient(#0000ff,#005bff,#00b7ff,#15ffea,#74ff8c,#daff26,#ffb100,#ff4700,#ff0000,#f80000,#f40000,#f10000,#f00000,#f20000,#f50000,#fa0000,#ff0d00,#ff5d00,#ffcc00,#c5ff3a,#63ff9d,#08fff7,#00adff,#0055ff,#0000ff)"></i><i style="background:linear-gradient(#0000ff,#005bff,#00b7ff,#15ffea,#73ff8c,#d9ff27,#ffb300,#ff4900,#ff0200,#f90000,#f40000,#f20000,#f10000,#f20000,#f50000,#fa0000,#ff0e00,#ff5f00,#ffcd00,#c5ff3b,#63ff9d,#07fff8,#00adff,#0055ff,#0000ff)"></i><i style="background:linear-gradient(#0000ff,#005bff,#00b6ff,#14ffeb,#73ff8d,#d8ff28,#ffb500,#ff4b00,#ff0300,#f90000,#f50000,#f20000,#f10000,#f30000,#f60000,#fb0000,#ff0f00,#ff6000,#ffce00,#c4ff3c,#62ff9e,#07fff8,#00acff,#0055ff,#0000ff)"></i><i style="background:linear-gradient(#0000ff,#005aff,#00b6ff,#13ffec,#72ff8e,#d6ff29,#ffb700,#ff4d00,#ff0500,#fa0000,#f50000,#f30000,#f20000,#f30000,#f60000,#fb0000,#ff1100,#ff6200,#ffd000,#c3ff3d,#61ff9e,#06fff9,#00acff,#0055ff,#0000ff)"></i><i style="background:linear-gradient(#0000ff,#005aff,#00b5ff,#13ffec,#70ff8f,#d5ff2a,#ffb900,#ff4f00,#ff0700,#fb0000,#f60000,#f30000,#f30000,#f40000,#f70000,#fc0000,#ff1300,#ff6400,#ffd200,#c2ff3e,#61ff9f,#06fff9,#00acff,#0054ff,#0000ff)"></i><i style="background:linear-gradient(#0000ff,#005aff,#00b5ff,#12ffed,#6fff91,#d3ff2c,#ffbb00,#ff5100,#ff0900,#fb0000,#f70000,#f40000,#f40000,#f50000,#f80000,#fd0000,#ff1500,#ff6600,#ffd400,#c1ff3f,#60ffa0,#05fffa,#00abff,#0054ff,#0000ff)"></i><i style="background:linear-gradient(#0000ff,#0059ff,#00b4ff,#11ffee,#6eff92,#d2ff2e,#ffbe00,#ff5400,#ff0c00,#fc0000,#f80000,#f50000,#f40000,#f60000,#f90000,#fd0000,#ff1700,#ff6900,#ffd600,#bfff40,#5fffa1,#04fffb,#00abff,#0054ff,#0000ff)"></i><i style="background:linear-gradient(#0000ff,#0059ff,#00b4ff,#10ffef,#6dff93,#d0ff2f,#ffc000,#ff5700,#ff0e00,#fd0000,#f90000,#f60000,#f50000,#f60000,#f90000,#fe0000,#ff1900,#ff6b00,#ffd800,#beff42,#5effa2,#04fffb,#00aaff,#0054ff,#0000ff)"></i><i style="background:linear-gradient(#0000ff,#0059ff,#00b3ff,#0ffff0,#6bff95,#ceff31,#ffc300,#ff5a00,#ff1100,#fe0000,#f90000,#f70000,#f60000,#f70000,#fa0000,#ff0000,#ff1c00,#ff6e00,#ffda00,#bdff43,#5dffa3,#03fffc,#00aaff,#0053ff,#0000ff)"></i><i style="background:linear-gradient(#0000ff,#0058ff,#00b2ff,#0efff1,#6aff96,#cdff33,#ffc600,#ff5d00,#ff1300,#ff0000,#fa0000,#f80000,#f70000,#f80000,#fb0000,#ff0200,#ff1e00,#ff7000,#ffdc00,#bbff44,#5bffa4,#02fffd,#00a9ff,#0053ff,#0000ff)"></i><i style="background:linear-gradient(#0000ff,#0058ff,#00b2ff,#0dfff2,#69ff97,#cbff34,#ffc800,#ff6000,#ff1600,#ff0100,#fb0000,#f80000,#f80000,#f90000,#fc0000,#ff0500,#ff2000,#ff7300,#ffde00,#baff46,#5affa5,#01fffe,#00a9ff,#0053ff,#0000ff)"></i><i style="background:linear-gradient(#0000ff,#0058ff,#00b1ff,#0cfff3,#67ff98,#c9ff36,#ffcb00,#ff6300,#ff1800,#ff0400,#fc0000,#f90000,#f90000,#fa0000,#fd0000,#ff0700,#ff2300,#ff7600,#ffe100,#b8ff47,#59ffa6,#01fffe,#00a8ff,#0053ff,#0000ff)"></i><i style="background:linear-gradient(#0000ff,#0057ff,#00b0ff,#0bfff4,#66ff9a,#c7ff38,#ffce00,#ff6600,#ff1b00,#ff0700,#fd0000,#fa0000,#fa0000,#fb0000,#fe0000,#ff0a00,#ff2600,#ff7900,#ffe300,#b7ff49,#58ffa8,#00ffff,#00a8ff,#0053ff,#0000ff)"></i><i style="background:linear-gradient(#0000ff,#0057ff,#00b0ff,#0afff5,#64ff9b,#c5ff3a,#ffd100,#ff6a00,#ff1f00,#ff0a00,#fe0000,#fb0000,#fb0000,#fc0000,#ff0000,#ff0e00,#ff2900,#ff7c00,#ffe600,#b5ff4a,#57ffa9,#00feff,#00a7ff,#0052ff,#0000ff)"></i><i style="background:linear-gradient(#0000ff,#0057ff,#00afff,#09fff6,#63ff9d,#c3ff3c,#ffd500,#ff6e00,#ff2300,#ff0e00,#ff0000,#fc0000,#fc0000,#fd0000,#ff0300,#ff1100,#ff2d00,#ff8000,#ffe900,#b3ff4c,#56ffaa,#00fdff,#00a7ff,#0052ff,#0000ff)"></i><i style="background:linear-gradient(#0000ff,#0057ff,#00aeff,#08fff8,#61ff9f,#c1ff3f,#ffd900,#ff7300,#ff2700,#ff1200,#ff0400,#fe0000,#fd0000,#fe0000,#ff0600,#ff1500,#ff3100,#ff8500,#ffec00,#b1ff4e,#54ffab,#00fcff,#00a6ff,#0052ff,#0000ff)"></i><i style="background:linear-gradient(#0000ff,#0056ff,#00adff,#06fff9,#5fffa0,#beff41,#ffdd00,#ff7800,#ff2b00,#ff1600,#ff0800,#ff0000,#fe0000,#ff0100,#ff0a00,#ff1900,#ff3600,#ff8900,#fff000,#afff50,#53ffad,#00fbff,#00a6ff,#0052ff,#0000ff)"></i><i style="background:linear-gradient(#0000ff,#0056ff,#00adff,#05fffa,#5effa2,#bcff44,#ffe100,#ff7d00,#ff3000,#ff1a00,#ff0c00,#ff0400,#ff0100,#ff0500,#ff0f00,#ff1e00,#ff3b00,#ff8e00,#fff300,#adff52,#51ffae,#00faff,#00a5ff,#0051ff,#0000ff)"></i><i style="background:linear-gradient(#0000ff,#0056ff,#00acff,#04fffb,#5cffa4,#b9ff46,#ffe600,#ff8300,#ff3600,#ff1f00,#ff1000,#ff0800,#ff0500,#ff0900,#ff1300,#ff2200,#ff4000,#ff9400,#fff700,#abff55,#50ffb0,#00f9ff,#00a5ff,#0051ff,#0000ff)"></i><i style="background:linear-gradient(#0000ff,#0055ff,#00abff,#03fffc,#5affa6,#b6ff49,#ffeb00,#ff8900,#ff3c00,#ff2400,#ff1500,#ff0c00,#ff0a00,#ff0e00,#ff1700,#ff2700,#ff4600,#ff9900,#fffb00,#a9ff57,#4effb1,#00f8ff,#00a4ff,#0051ff,#0000ff)"></i><i style="background:linear-gradient(#0000ff,#0055ff,#00abff,#02fffd,#58ffa7,#b4ff4c,#ffef00,#ff8f00,#ff4200,#ff2900,#ff1a00,#ff1100,#ff0e00,#ff1200,#ff1c00,#ff2c00,#ff4c00,#ff9f00,#ffff00,#a6ff5a,#4dffb3,#00f7ff,#00a4ff,#0051ff,#0000ff)"></i><i style="background:linear-gradient(#0000ff,#0055ff,#00aaff,#00ffff,#56ffa9,#b1ff4f,#fff400,#ff9500,#ff4800,#ff2e00,#ff1f00,#ff1500,#ff1300,#ff1700,#ff2100,#ff3200,#ff5200,#ffa500,#fbff04,#a4ff5c,#4bffb4,#00f6ff,#00a3ff,#0050ff,#0000ff)"></i><i style="background:linear-gradient(#0000ff,#0054ff,#00a9ff,#00feff,#54ffab,#adff52,#fff900,#ff9c00,#ff4f00,#ff3400,#ff2400,#ff1a00,#ff1800,#ff1c00,#ff2600,#ff3800,#ff5900,#ffab00,#f6ff09,#a1ff5f,#49ffb6,#00f5ff,#00a2ff,#0050ff,#0000ff)"></i><i style="background:linear-gradient(#0000ff,#0054ff,#00a8ff,#00fcff,#52ffae,#aaff56,#ffff00,#ffa400,#ff5700,#ff3b00,#ff2a00,#ff2000,#ff1d00,#ff2100,#ff2c00,#ff3f00,#ff6100,#ffb200,#f2ff0e,#9eff62,#48ffb8,#00f4ff,#00a2ff,#0050ff,#0000ff)"></i><i style="background:linear-gradient(#0000ff,#0053ff,#00a7ff,#00fbff,#50ffb0,#a7ff59,#faff05,#ffab00,#ff5f00,#ff4200,#ff3000,#ff2600,#ff2300,#ff2700,#ff3200,#ff4600,#ff6900,#ffb900,#edff12,#9bff65,#45ffba,#00f3ff,#00a1ff,#0050ff,#0000ff)"></i><i style="background:linear-gradient(#0000ff,#0053ff,#00a6ff,#00f9ff,#4dffb2,#a3ff5d,#f4ff0b,#ffb300,#ff6800,#ff4a00,#ff3700,#ff2c00,#ff2900,#ff2d00,#ff3900,#ff4e00,#ff7100,#ffc000,#e8ff17,#97ff68,#43ffbc,#00f1ff,#00a0ff,#004fff,#0000ff)"></i><i style="background:linear-gradient(#0000ff,#0052ff,#00a5ff,#00f8ff,#4bffb5,#9fff61,#efff10,#ffbb00,#ff7100,#ff5200,#ff3e00,#ff3200,#ff2f00,#ff3400,#ff4100,#ff5600,#ff7a00,#ffc800,#e3ff1c,#94ff6c,#41ffbe,#00f0ff,#009fff,#004fff,#0000ff)"></i><i style="background:linear-gradient(#0000ff,#0052ff,#00a4ff,#00f6ff,#48ffb8,#9bff65,#e9ff16,#ffc400,#ff7a00,#ff5a00,#ff4500,#ff3a00,#ff3600,#ff3b00,#ff4800,#ff5e00,#ff8300,#ffd000,#deff21,#91ff6f,#3fffc1,#00eeff,#009eff,#004eff,#0000ff)"></i><i style="background:linear-gradient(#0000ff,#0051ff,#00a3ff,#00f4ff,#45ffbb,#97ff69,#e3ff1c,#ffcc00,#ff8400,#ff6300,#ff4d00,#ff4100,#ff3d00,#ff4300,#ff5000,#ff6700,#ff8d00,#ffd800,#d9ff26,#8dff73,#3cffc3,#00ecff,#009dff,#004eff,#0000ff)"></i><i style="background:linear-gradient(#0000ff,#0051ff,#00a2ff,#00f2ff,#42ffbd,#93ff6d,#deff22,#ffd500,#ff8e00,#ff6c00,#ff5600,#ff4900,#ff4500,#ff4a00,#ff5900,#ff7000,#ff9600,#ffe000,#d4ff2b,#89ff77,#3affc6,#00ebff,#009cff,#004dff,#0000ff)"></i><i style="background:linear-gradient(#0000ff,#0050ff,#00a0ff,#00f0ff,#3fffc0,#8fff71,#d8ff27,#ffdd00,#ff9800,#ff7500,#ff5e00,#ff5100,#ff4d00,#ff5300,#ff6100,#ff7a00,#ffa000,#ffe800,#cfff31,#85ff7b,#37ffc9,#00e9ff,#009bff,#004dff,#0000ff)"></i><i style="background:linear-gradient(#0000ff,#0050ff,#009fff,#00eeff,#3cffc3,#8aff76,#d2ff2d,#ffe600,#ffa200,#ff7f00,#ff6800,#ff5a00,#ff5600,#ff5b00,#ff6b00,#ff8400,#ffaa00,#fff000,#c9ff36,#81ff7f,#34ffcc,#00e7ff,#009aff,#004cff,#0000ff)"></i><i style="background:linear-gradient(#0000ff,#004fff,#009eff,#00ecff,#39ffc6,#86ff7a,#cdff33,#ffee00,#ffad00,#ff8900,#ff7100,#ff6300,#ff5f00,#ff6500,#ff7400,#ff8e00,#ffb500,#fff800,#c3ff3c,#7dff83,#31ffcf,#00e5ff,#0098ff,#004cff,#0000ff)"></i><i style="background:linear-gradient(#0000ff,#004eff,#009cff,#00e9ff,#36ffca,#81ff7f,#c6ff39,#fff700,#ffb700,#ff9400,#ff7b00,#ff6d00,#ff6900,#ff6e00,#ff7e00,#ff9800,#ffbf00,#fdff02,#beff42,#78ff88,#2effd2,#00e2ff,#0097ff,#004bff,#0000ff)"></i><i style="background:linear-gradient(#0000ff,#004eff,#009bff,#00e7ff,#32ffcd,#7cff84,#c0ff3f,#feff01,#ffc200,#ff9f00,#ff8600,#ff7700,#ff7300,#ff7900,#ff8900,#ffa300,#ffca00,#f5ff0a,#b7ff48,#73ff8d,#2affd5,#00e0ff,#0096ff,#004aff,#0000ff)"></i><i style="background:linear-gradient(#0000ff,#004dff,#0099ff,#00e4ff,#2effd1,#77ff89,#baff46,#f5ff0a,#ffce00,#ffaa00,#ff9100,#ff8200,#ff7e00,#ff8400,#ff9400,#ffaf00,#ffd600,#edff13,#b1ff4e,#6eff92,#27ffd9,#00ddff,#0094ff,#004aff,#0000ff)"></i><i style="background:linear-gradient(#0000ff,#004cff,#0097ff,#00e1ff,#2affd5,#72ff8e,#b3ff4d,#ecff13,#ffd900,#ffb600,#ff9c00,#ff8d00,#ff8900,#ff8f00,#ffa000,#ffbb00,#ffe100,#e4ff1b,#abff55,#69ff97,#23ffdd,#00dbff,#0092ff,#0049ff,#0000ff)"></i><i style="background:linear-gradient(#0000ff,#004bff,#0095ff,#00deff,#26ffd9,#6cff94,#acff54,#e3ff1c,#ffe500,#ffc200,#ffa900,#ff9900,#ff9500,#ff9b00,#ffac00,#ffc700,#ffec00,#dcff23,#a4ff5c,#64ff9c,#1fffe1,#00d8ff,#0090ff,#0048ff,#0000ff)"></i><i style="background:linear-gradient(#0000ff,#004aff,#0093ff,#00dbff,#22ffdd,#66ff9a,#a5ff5b,#dbff25,#fff100,#ffce00,#ffb500,#ffa600,#ffa100,#ffa800,#ffb900,#ffd300,#fff800,#d3ff2c,#9dff63,#5effa2,#1bffe5,#00d5ff,#008eff,#0047ff,#0000ff)"></i><i style="background:linear-gradient(#0000ff,#0049ff,#0091ff,#00d8ff,#1dffe2,#60ffa0,#9dff63,#d1ff2e,#fffe00,#ffdc00,#ffc200,#ffb300,#ffaf00,#ffb500,#ffc600,#ffe000,#faff05,#caff35,#95ff6b,#58ffa8,#16ffe9,#00d2ff,#008dff,#0046ff,#0000ff)"></i><i style="background:linear-gradient(#0000ff,#0048ff,#008fff,#00d5ff,#19ffe7,#59ffa6,#94ff6b,#c8ff38,#f4ff0b,#ffe900,#ffd000,#ffc100,#ffbd00,#ffc300,#ffd400,#ffee00,#eeff11,#c1ff3f,#8dff73,#52ffae,#12ffee,#00cfff,#008aff,#0045ff,#0000ff)"></i><i style="background:linear-gradient(#0000ff,#0047ff,#008dff,#00d1ff,#14ffec,#52ffad,#8cff74,#bdff42,#e7ff18,#fff700,#ffdf00,#ffd000,#ffcb00,#ffd100,#ffe200,#fffc00,#e2ff1e,#b7ff49,#85ff7b,#4bffb5,#0dfff2,#00cbff,#0088ff,#0044ff,#0000ff)"></i><i style="background:linear-gradient(#0000ff,#0046ff,#008aff,#00cdff,#0efff1,#4bffb4,#83ff7d,#b3ff4d,#dbff24,#f9ff06,#ffed00,#ffdf00,#ffda00,#ffe000,#fff000,#f5ff0a,#d6ff29,#adff53,#7cff84,#44ffbb,#08fff8,#00c7ff,#0086ff,#0043ff,#0000ff)"></i><i style="background:linear-gradient(#0000ff,#0044ff,#0088ff,#00c9ff,#09fff6,#44ffbc,#7aff86,#a8ff57,#cfff30,#ecff13,#fffc00,#ffed00,#ffe900,#ffef00,#ffff00,#e8ff17,#caff35,#a2ff5e,#73ff8d,#3dffc3,#02fffd,#00c4ff,#0083ff,#0042ff,#0000ff)"></i><i style="background:linear-gradient(#0000ff,#0043ff,#0085ff,#00c5ff,#03fffc,#3cffc3,#71ff8f,#9eff62,#c3ff3c,#dfff20,#f5ff0a,#fffc00,#fff800,#fffd00,#f2ff0d,#dbff24,#beff41,#98ff68,#6aff96,#36ffca,#00fcff,#00c0ff,#0081ff,#0040ff,#0000ff)"></i><i style="background:linear-gradient(#0000ff,#0042ff,#0082ff,#00c1ff,#00fcff,#35ffca,#67ff98,#93ff6d,#b8ff48,#d3ff2c,#e8ff18,#f4ff0b,#f8ff07,#f3ff0c,#e5ff1b,#d0ff30,#b3ff4d,#8dff72,#61ff9f,#2effd1,#00f6ff,#00bbff,#007eff,#003fff,#0000ff)"></i><i style="background:linear-gradient(#0000ff,#0040ff,#0080ff,#00bdff,#00f7ff,#2effd2,#5effa1,#89ff77,#acff53,#c8ff38,#dbff24,#e7ff18,#ebff14,#e6ff19,#d9ff27,#c4ff3c,#a8ff58,#83ff7d,#58ffa7,#27ffd8,#00f1ff,#00b7ff,#007bff,#003eff,#0000ff)"></i><i style="background:linear-gradient(#0000ff,#003fff,#007dff,#00b8ff,#00f1ff,#26ffd9,#55ffaa,#7fff81,#a1ff5f,#bcff44,#cfff30,#dbff25,#deff21,#d9ff26,#cdff33,#b8ff47,#9cff63,#79ff87,#4fffb0,#20ffdf,#00ebff,#00b3ff,#0078ff,#003cff,#0000ff)"></i><i style="background:linear-gradient(#0000ff,#003dff,#0079ff,#00b3ff,#00eaff,#1effe1,#4cffb3,#74ff8c,#96ff6a,#b0ff50,#c3ff3d,#ceff31,#d1ff2e,#cdff33,#c0ff3f,#acff53,#91ff6f,#6fff91,#46ffb9,#18ffe7,#00e5ff,#00aeff,#0075ff,#003bff,#0000ff)"></i><i style="background:linear-gradient(#0000ff,#003cff,#0076ff,#00aeff,#00e4ff,#16ffe9,#43ffbd,#6aff96,#8aff76,#a4ff5c,#b6ff49,#c1ff3e,#c4ff3b,#c0ff40,#b4ff4c,#a0ff60,#86ff7a,#64ff9b,#3dffc3,#10ffef,#00deff,#00a9ff,#0072ff,#0039ff,#0000ff)"></i><i style="background:linear-gradient(#0000ff,#003aff,#0072ff,#00a9ff,#00ddff,#0dfff2,#39ffc7,#5effa1,#7eff82,#97ff69,#a9ff57,#b3ff4c,#b6ff49,#b2ff4e,#a6ff59,#93ff6c,#7aff86,#59ffa6,#33ffcc,#08fff7,#00d7ff,#00a4ff,#006fff,#0037ff,#0000ff)"></i><i style="background:linear-gradient(#0000ff,#0038ff,#006fff,#00a4ff,#00d6ff,#05fffa,#2fffd1,#53ffad,#72ff8e,#8aff76,#9bff65,#a5ff5a,#a8ff57,#a4ff5b,#99ff67,#87ff79,#6eff92,#4effb1,#29ffd6,#00feff,#00d0ff,#009fff,#006bff,#0036ff,#0000ff)"></i><i style="background:linear-gradient(#0000ff,#0036ff,#006bff,#009eff,#00ceff,#00fbff,#24ffdb,#47ffb8,#65ff9b,#7cff84,#8dff73,#97ff69,#99ff66,#95ff6a,#8aff76,#79ff87,#61ff9f,#42ffbd,#1fffe0,#00f5ff,#00c9ff,#0099ff,#0067ff,#0034ff,#0000ff)"></i><i style="background:linear-gradient(#0000ff,#0034ff,#0066ff,#0097ff,#00c5ff,#00f0ff,#17ffe8,#39ffc6,#55ffaa,#6cff94,#7cff84,#85ff7b,#88ff78,#84ff7c,#7aff86,#69ff97,#51ffae,#34ffcb,#12ffed,#00ebff,#00c0ff,#0093ff,#0063ff,#0031ff,#0000ff)"></i><i style="background:linear-gradient(#0000ff,#0031ff,#0060ff,#008eff,#00baff,#00e2ff,#07fff8,#27ffd8,#42ffbe,#57ffa9,#66ff9a,#6fff91,#72ff8e,#6eff92,#64ff9c,#54ffac,#3effc1,#23ffdc,#03fffc,#00ddff,#00b5ff,#008aff,#005dff,#002fff,#0000ff)"></i><i style="background:linear-gradient(#0000ff,#002dff,#0059ff,#0083ff,#00abff,#00d0ff,#00f2ff,#10ffef,#28ffd7,#3cffc4,#4affb6,#52ffae,#54ffab,#51ffaf,#48ffb8,#39ffc6,#25ffda,#0cfff3,#00edff,#00ccff,#00a7ff,#007fff,#0056ff,#002bff,#0000ff)"></i><i style="background:linear-gradient(#0000ff,#0028ff,#0050ff,#0076ff,#009aff,#00bcff,#00daff,#00f4ff,#0bfff4,#1dffe2,#29ffd6,#31ffcf,#33ffcc,#30ffcf,#28ffd8,#1affe5,#08fff7,#00f1ff,#00d6ff,#00b8ff,#0097ff,#0073ff,#004dff,#0027ff,#0000ff)"></i><i style="background:linear-gradient(#0000ff,#0024ff,#0047ff,#0069ff,#0089ff,#00a7ff,#00c1ff,#00d9ff,#00ecff,#00fcff,#08fff7,#0ffff0,#11ffee,#0efff1,#07fff8,#00faff,#00eaff,#00d6ff,#00beff,#00a3ff,#0086ff,#0066ff,#0045ff,#0022ff,#0000ff)"></i><i style="background:linear-gradient(#0000ff,#0020ff,#003fff,#005cff,#0079ff,#0093ff,#00aaff,#00bfff,#00d0ff,#00deff,#00e8ff,#00eeff,#00efff,#00edff,#00e6ff,#00dcff,#00ceff,#00bcff,#00a7ff,#0090ff,#0076ff,#005aff,#003cff,#001eff,#0000ff)"></i><i style="background:linear-gradient(#0000ff,#001bff,#0036ff,#0050ff,#0068ff,#007fff,#0093ff,#00a5ff,#00b4ff,#00bfff,#00c8ff,#00cdff,#00ceff,#00ccff,#00c7ff,#00beff,#00b1ff,#00a2ff,#0090ff,#007cff,#0065ff,#004dff,#0034ff,#001aff,#0000ff)"></i><i style="background:linear-gradient(#0000ff,#0017ff,#002dff,#0043ff,#0057ff,#006aff,#007bff,#008aff,#0097ff,#00a1ff,#00a8ff,#00acff,#00adff,#00acff,#00a7ff,#009fff,#0095ff,#0088ff,#0079ff,#0068ff,#0055ff,#0041ff,#002cff,#0016ff,#0000ff)"></i><i style="background:linear-gradient(#0000ff,#0013ff,#0025ff,#0037ff,#0048ff,#0057ff,#0065ff,#0072ff,#007cff,#0084ff,#008aff,#008dff,#008eff,#008dff,#0089ff,#0083ff,#007aff,#0070ff,#0063ff,#0055ff,#0046ff,#0035ff,#0024ff,#0012ff,#0000ff)"></i><i style="background:linear-gradient(#0000ff,#000fff,#001eff,#002cff,#003aff,#0046ff,#0052ff,#005bff,#0064ff,#006aff,#006fff,#0072ff,#0072ff,#0071ff,#006eff,#0069ff,#0062ff,#005aff,#0050ff,#0045ff,#0038ff,#002bff,#001dff,#000eff,#0000ff)"></i><i style="background:linear-gradient(#0000ff,#000cff,#0017ff,#0022ff,#002cff,#0036ff,#003eff,#0046ff,#004cff,#0051ff,#0055ff,#0057ff,#0058ff,#0057ff,#0054ff,#0051ff,#004bff,#0045ff,#003dff,#0035ff,#002bff,#0021ff,#0016ff,#000bff,#0000ff)"></i><i style="background:linear-gradient(#0000ff,#0008ff,#0010ff,#0018ff,#0020ff,#0027ff,#002dff,#0032ff,#0037ff,#003aff,#003dff,#003eff,#003fff,#003eff,#003cff,#003aff,#0036ff,#0031ff,#002cff,#0026ff,#001fff,#0018ff,#0010ff,#0008ff,#0000ff)"></i><i style="background:linear-gradient(#0000ff,#0005ff,#000bff,#0010ff,#0015ff,#0019ff,#001eff,#0021ff,#0024ff,#0026ff,#0028ff,#0029ff,#0029ff,#0029ff,#0028ff,#0026ff,#0024ff,#0021ff,#001dff,#0019ff,#0014ff,#0010ff,#000aff,#0005ff,#0000ff)"></i><i style="background:linear-gradient(#0000ff,#0003ff,#0007ff,#000aff,#000dff,#000fff,#0012ff,#0014ff,#0016ff,#0017ff,#0018ff,#0019ff,#0019ff,#0019ff,#0018ff,#0017ff,#0016ff,#0014ff,#0011ff,#000fff,#000cff,#0009ff,#0006ff,#0003ff,#0000ff)"></i><i style="background:linear-gradient(#0000ff,#0002ff,#0003ff,#0005ff,#0006ff,#0007ff,#0008ff,#0009ff,#000aff,#000bff,#000bff,#000cff,#000cff,#000cff,#000bff,#000bff,#000aff,#0009ff,#0008ff,#0007ff,#0006ff,#0004ff,#0003ff,#0001ff,#0000ff)"></i><i style="flex-basis:0.7px;background:linear-gradient(#0000ff,#0000ff,#0001ff,#0001ff,#0001ff,#0002ff,#0002ff,#0002ff,#0002ff,#0003ff,#0003ff,#0003ff,#0003ff,#0003ff,#0003ff,#0003ff,#0002ff,#0002ff,#0002ff,#0002ff,#0001ff,#0001ff,#0001ff,#0000ff,#0000ff)"></i></div>
<div class="hm" style="left:182px;top:297.3px;width:128.3px;height:63.5px"><i style="background:linear-gradient(#0000ff,#0056ff,#00acff,#02fffd,#57ffa8,#afff51,#fffc00,#ffa400,#ff5f00,#ff4300,#ff3100,#ff2800,#ff2700,#ff2d00,#ff3c00,#ff5300,#ff8100,#ffd400,#d7ff29,#86ff7a,#34ffcb,#00e4ff,#0096ff,#0049ff,#0000ff)"></i><i style="background:linear-gradient(#0000ff,#0056ff,#00acff,#02fffd,#57ffa8,#afff51,#fffb00,#ffa300,#ff5e00,#ff4300,#ff3100,#ff2800,#ff2600,#ff2d00,#ff3b00,#ff5200,#ff8100,#ffd300,#d7ff29,#86ff7a,#34ffcb,#00e4ff,#0096ff,#0049ff,#0000ff)"></i><i style="background:linear-gradient(#0000ff,#0056ff,#00acff,#02fffd,#57ffa8,#afff50,#fffa00,#ffa200,#ff5d00,#ff4200,#ff3100,#ff2700,#ff2600,#ff2c00,#ff3b00,#ff5100,#ff8000,#ffd200,#d7ff28,#86ff7a,#34ffcb,#00e4ff,#0095ff,#0048ff,#0000ff)"></i><i style="background:linear-gradient(#0000ff,#0056ff,#00acff,#02fffd,#58ffa8,#b0ff50,#fffa00,#ffa100,#ff5c00,#ff4100,#ff3000,#ff2700,#ff2600,#ff2c00,#ff3a00,#ff5000,#ff7f00,#ffd200,#d7ff28,#86ff7a,#34ffcb,#00e4ff,#0095ff,#0048ff,#0000ff)"></i><i style="background:linear-gradient(#0000ff,#0056ff,#00acff,#02fffd,#58ffa8,#b0ff4f,#fff900,#ffa000,#ff5b00,#ff4000,#ff2f00,#ff2600,#ff2500,#ff2b00,#ff3900,#ff5000,#ff7e00,#ffd100,#d8ff27,#87ff79,#34ffcb,#00e4ff,#0095ff,#0048ff,#0000ff)"></i><i style="background:linear-gradient(#0000ff,#0056ff,#00acff,#02fffd,#58ffa8,#b1ff4f,#fff800,#ff9f00,#ff5a00,#ff4000,#ff2f00,#ff2600,#ff2500,#ff2b00,#ff3800,#ff4f00,#ff7d00,#ffd000,#d8ff27,#87ff79,#34ffcb,#00e4ff,#0095ff,#0048ff,#0000ff)"></i><i style="background:linear-gradient(#0000ff,#0056ff,#00acff,#02fffd,#58ffa8,#b1ff4f,#fff700,#ff9d00,#ff5800,#ff3f00,#ff2e00,#ff2500,#ff2400,#ff2a00,#ff3800,#ff4d00,#ff7b00,#ffcf00,#d9ff27,#87ff79,#34ffcb,#00e4ff,#0095ff,#0048ff,#0000ff)"></i><i style="background:linear-gradient(#0000ff,#0056ff,#00acff,#03fffc,#58ffa7,#b2ff4e,#fff600,#ff9c00,#ff5700,#ff3e00,#ff2d00,#ff2400,#ff2300,#ff2900,#ff3700,#ff4c00,#ff7a00,#ffce00,#d9ff26,#87ff79,#34ffcb,#00e4ff,#0095ff,#0048ff,#0000ff)"></i><i style="background:linear-gradient(#0000ff,#0056ff,#00acff,#03fffc,#59ffa7,#b2ff4d,#fff500,#ff9b00,#ff5600,#ff3c00,#ff2c00,#ff2400,#ff2200,#ff2800,#ff3600,#ff4b00,#ff7900,#ffcd00,#daff25,#88ff78,#35ffcb,#00e4ff,#0095ff,#0048ff,#0000ff)"></i><i style="background:linear-gradient(#0000ff,#0056ff,#00acff,#03fffc,#59ffa7,#b3ff4d,#fff400,#ff9900,#ff5400,#ff3b00,#ff2b00,#ff2300,#ff2200,#ff2700,#ff3500,#ff4a00,#ff7700,#ffcc00,#daff25,#88ff78,#35ffcb,#00e4ff,#0095ff,#0048ff,#0000ff)"></i><i style="background:linear-gradient(#0000ff,#0056ff,#00acff,#03fffc,#59ffa6,#b3ff4c,#fff300,#ff9800,#ff5300,#ff3a00,#ff2a00,#ff2200,#ff2100,#ff2700,#ff3400,#ff4800,#ff7600,#ffcb00,#dbff24,#88ff78,#35ffcb,#00e4ff,#0095ff,#0048ff,#0000ff)"></i><i style="background:linear-gradient(#0000ff,#0056ff,#00acff,#03fffc,#5affa6,#b4ff4c,#fff200,#ff9600,#ff5100,#ff3900,#ff2900,#ff2100,#ff2000,#ff2600,#ff3200,#ff4700,#ff7400,#ffca00,#dcff24,#89ff77,#35ffca,#00e4ff,#0095ff,#0048ff,#0000ff)"></i><i style="background:linear-gradient(#0000ff,#0056ff,#00acff,#03fffc,#5affa6,#b5ff4b,#fff100,#ff9500,#ff5000,#ff3800,#ff2800,#ff2000,#ff1f00,#ff2500,#ff3100,#ff4600,#ff7300,#ffc800,#dcff23,#89ff77,#35ffca,#00e4ff,#0095ff,#0048ff,#0000ff)"></i><i style="background:linear-gradient(#0000ff,#0056ff,#00acff,#04fffb,#5bffa5,#b5ff4a,#fff000,#ff9300,#ff4e00,#ff3600,#ff2700,#ff1f00,#ff1e00,#ff2300,#ff3000,#ff4400,#ff7100,#ffc700,#ddff22,#89ff76,#36ffca,#00e4ff,#0095ff,#0048ff,#0000ff)"></i><i style="background:linear-gradient(#0000ff,#0056ff,#00acff,#04fffb,#5bffa5,#b6ff4a,#ffef00,#ff9200,#ff4c00,#ff3500,#ff2600,#ff1e00,#ff1d00,#ff2200,#ff2f00,#ff4300,#ff7000,#ffc600,#deff21,#8aff76,#36ffca,#00e5ff,#0095ff,#0048ff,#0000ff)"></i><i style="background:linear-gradient(#0000ff,#0056ff,#00adff,#04fffb,#5bffa4,#b7ff49,#ffed00,#ff9000,#ff4b00,#ff3400,#ff2500,#ff1d00,#ff1c00,#ff2100,#ff2e00,#ff4100,#ff6e00,#ffc400,#dfff21,#8aff76,#36ffc9,#00e5ff,#0095ff,#0048ff,#0000ff)"></i><i style="background:linear-gradient(#0000ff,#0056ff,#00adff,#05fffb,#5cffa4,#b7ff48,#ffec00,#ff8e00,#ff4900,#ff3200,#ff2400,#ff1c00,#ff1b00,#ff2000,#ff2c00,#ff4000,#ff6d00,#ffc300,#dfff20,#8bff75,#36ffc9,#00e5ff,#0096ff,#0048ff,#0000ff)"></i><i style="background:linear-gradient(#0000ff,#0056ff,#00adff,#05fffa,#5cffa3,#b8ff47,#ffeb00,#ff8d00,#ff4700,#ff3100,#ff2200,#ff1b00,#ff1a00,#ff1f00,#ff2b00,#ff3e00,#ff6b00,#ffc200,#e0ff1f,#8bff75,#37ffc9,#00e5ff,#0096ff,#0048ff,#0000ff)"></i><i style="background:linear-gradient(#0000ff,#0056ff,#00adff,#05fffa,#5dffa3,#b9ff47,#ffe900,#ff8b00,#ff4600,#ff3000,#ff2100,#ff1a00,#ff1900,#ff1e00,#ff2a00,#ff3d00,#ff6900,#ffc000,#e1ff1e,#8cff74,#37ffc9,#00e5ff,#0096ff,#0048ff,#0000ff)"></i><i style="background:linear-gradient(#0000ff,#0056ff,#00adff,#05fffa,#5dffa2,#baff46,#ffe800,#ff8900,#ff4400,#ff2e00,#ff2000,#ff1800,#ff1700,#ff1d00,#ff2900,#ff3b00,#ff6800,#ffbf00,#e2ff1d,#8cff74,#37ffc8,#00e5ff,#0096ff,#0048ff,#0000ff)"></i><i style="background:linear-gradient(#0000ff,#0056ff,#00adff,#06fff9,#5effa2,#bbff45,#ffe700,#ff8700,#ff4200,#ff2d00,#ff1f00,#ff1700,#ff1600,#ff1c00,#ff2700,#ff3a00,#ff6600,#ffbe00,#e3ff1d,#8dff73,#38ffc8,#00e6ff,#0096ff,#0048ff,#0000ff)"></i><i style="background:linear-gradient(#0000ff,#0056ff,#00aeff,#06fff9,#5effa1,#bcff44,#ffe500,#ff8500,#ff4100,#ff2b00,#ff1d00,#ff1600,#ff1500,#ff1a00,#ff2600,#ff3800,#ff6400,#ffbc00,#e4ff1c,#8eff72,#38ffc7,#00e6ff,#0096ff,#0048ff,#0000ff)"></i><i style="background:linear-gradient(#0000ff,#0057ff,#00aeff,#07fff8,#5fffa1,#bdff43,#ffe400,#ff8300,#ff3f00,#ff2900,#ff1c00,#ff1400,#ff1300,#ff1900,#ff2400,#ff3600,#ff6200,#ffba00,#e5ff1a,#8eff72,#38ffc7,#00e6ff,#0096ff,#0049ff,#0000ff)"></i><i style="background:linear-gradient(#0000ff,#0057ff,#00aeff,#07fff8,#60ffa0,#beff42,#ffe200,#ff8100,#ff3c00,#ff2800,#ff1a00,#ff1300,#ff1200,#ff1700,#ff2200,#ff3400,#ff6000,#ffb800,#e6ff19,#8fff71,#39ffc6,#00e6ff,#0096ff,#0049ff,#0000ff)"></i><i style="background:linear-gradient(#0000ff,#0057ff,#00afff,#08fff7,#61ff9f,#bfff41,#ffe000,#ff7f00,#ff3a00,#ff2600,#ff1800,#ff1100,#ff1000,#ff1500,#ff2000,#ff3200,#ff5e00,#ffb600,#e7ff18,#90ff70,#3affc6,#00e7ff,#0097ff,#0049ff,#0000ff)"></i><i style="background:linear-gradient(#0000ff,#0057ff,#00afff,#08fff7,#62ff9e,#c0ff3f,#ffde00,#ff7c00,#ff3800,#ff2400,#ff1600,#ff0f00,#ff0e00,#ff1300,#ff1f00,#ff3000,#ff5b00,#ffb400,#e9ff17,#91ff6f,#3affc5,#00e7ff,#0097ff,#0049ff,#0000ff)"></i><i style="background:linear-gradient(#0000ff,#0057ff,#00afff,#09fff6,#63ff9d,#c1ff3e,#ffdc00,#ff7a00,#ff3500,#ff2100,#ff1400,#ff0d00,#ff0c00,#ff1100,#ff1d00,#ff2e00,#ff5900,#ffb200,#eaff15,#92ff6e,#3bffc5,#00e8ff,#0097ff,#0049ff,#0000ff)"></i><i style="background:linear-gradient(#0000ff,#0057ff,#00b0ff,#0afff6,#63ff9c,#c3ff3d,#ffd900,#ff7700,#ff3300,#ff1f00,#ff1200,#ff0b00,#ff0a00,#ff0f00,#ff1a00,#ff2b00,#ff5600,#ffaf00,#ecff14,#93ff6d,#3cffc4,#00e8ff,#0097ff,#0049ff,#0000ff)"></i><i style="background:linear-gradient(#0000ff,#0058ff,#00b0ff,#0afff5,#64ff9b,#c4ff3b,#ffd700,#ff7400,#ff3000,#ff1d00,#ff1000,#ff0900,#ff0800,#ff0d00,#ff1800,#ff2900,#ff5400,#ffad00,#edff12,#94ff6c,#3cffc3,#00e9ff,#0098ff,#0049ff,#0000ff)"></i><i style="background:linear-gradient(#0000ff,#0058ff,#00b1ff,#0bfff4,#66ff9a,#c6ff3a,#ffd500,#ff7200,#ff2e00,#ff1b00,#ff0e00,#ff0700,#ff0600,#ff0b00,#ff1600,#ff2700,#ff5100,#ffab00,#efff10,#95ff6b,#3dffc2,#00e9ff,#0098ff,#0049ff,#0000ff)"></i><i style="background:linear-gradient(#0000ff,#0058ff,#00b1ff,#0cfff3,#67ff99,#c7ff38,#ffd300,#ff6f00,#ff2b00,#ff1900,#ff0c00,#ff0500,#ff0400,#ff0900,#ff1400,#ff2400,#ff4e00,#ffa800,#f0ff0f,#96ff6a,#3effc1,#00eaff,#0098ff,#004aff,#0000ff)"></i><i style="background:linear-gradient(#0000ff,#0058ff,#00b2ff,#0cfff3,#68ff98,#c8ff37,#ffd000,#ff6c00,#ff2900,#ff1600,#ff0900,#ff0200,#ff0100,#ff0700,#ff1200,#ff2200,#ff4c00,#ffa600,#f2ff0d,#97ff68,#3fffc1,#00eaff,#0099ff,#004aff,#0000ff)"></i><i style="background:linear-gradient(#0000ff,#0059ff,#00b2ff,#0dfff2,#69ff97,#caff35,#ffce00,#ff6900,#ff2600,#ff1400,#ff0700,#ff0000,#ff0000,#ff0400,#ff0f00,#ff1f00,#ff4900,#ffa300,#f4ff0b,#98ff67,#40ffc0,#00ebff,#0099ff,#004aff,#0000ff)"></i><i style="background:linear-gradient(#0000ff,#0059ff,#00b3ff,#0efff1,#6aff96,#cbff34,#ffcb00,#ff6600,#ff2400,#ff1200,#ff0500,#fe0000,#fe0000,#ff0200,#ff0d00,#ff1d00,#ff4700,#ffa100,#f6ff0a,#9aff66,#40ffbf,#00ecff,#0099ff,#004aff,#0000ff)"></i><i style="background:linear-gradient(#0000ff,#0059ff,#00b3ff,#0ffff0,#6bff95,#cdff33,#ffc900,#ff6400,#ff2100,#ff0f00,#ff0300,#fe0000,#fd0000,#ff0000,#ff0b00,#ff1b00,#ff4400,#ff9e00,#f7ff08,#9bff65,#41ffbe,#00ecff,#009aff,#004aff,#0000ff)"></i><i style="background:linear-gradient(#0000ff,#0059ff,#00b4ff,#0ffff0,#6cff94,#ceff31,#ffc700,#ff6100,#ff1f00,#ff0d00,#ff0000,#fd0000,#fd0000,#fe0000,#ff0900,#ff1900,#ff4200,#ff9c00,#f9ff06,#9cff64,#42ffbd,#00edff,#009aff,#004aff,#0000ff)"></i><i style="background:linear-gradient(#0000ff,#0059ff,#00b4ff,#10ffef,#6dff93,#d0ff30,#ffc400,#ff5e00,#ff1d00,#ff0b00,#fe0000,#fc0000,#fc0000,#fe0000,#ff0600,#ff1600,#ff3f00,#ff9900,#fbff04,#9dff63,#43ffbd,#00edff,#009bff,#004aff,#0000ff)"></i><i style="background:linear-gradient(#0000ff,#005aff,#00b4ff,#11ffee,#6eff92,#d1ff2e,#ffc200,#ff5c00,#ff1b00,#ff0900,#fe0000,#fb0000,#fb0000,#fd0000,#ff0400,#ff1400,#ff3d00,#ff9700,#fcff03,#9eff62,#44ffbc,#00eeff,#009bff,#004bff,#0000ff)"></i><i style="background:linear-gradient(#0000ff,#005aff,#00b5ff,#12ffed,#6fff91,#d2ff2d,#ffc000,#ff5900,#ff1900,#ff0700,#fd0000,#fb0000,#fb0000,#fc0000,#ff0200,#ff1200,#ff3b00,#ff9500,#feff01,#9fff61,#44ffbb,#00eeff,#009bff,#004bff,#0000ff)"></i><i style="background:linear-gradient(#0000ff,#005aff,#00b5ff,#12ffed,#70ff90,#d4ff2c,#ffbe00,#ff5700,#ff1700,#ff0500,#fc0000,#fa0000,#fa0000,#fc0000,#ff0000,#ff1000,#ff3900,#ff9300,#ffff00,#a0ff60,#45ffba,#00efff,#009cff,#004bff,#0000ff)"></i><i style="background:linear-gradient(#0000ff,#005aff,#00b6ff,#13ffec,#71ff8f,#d5ff2a,#ffbb00,#ff5500,#ff1400,#ff0300,#fc0000,#f90000,#f90000,#fb0000,#fe0000,#ff0e00,#ff3600,#ff9100,#fffd00,#a1ff5f,#46ffba,#00efff,#009cff,#004bff,#0000ff)"></i><i style="background:linear-gradient(#0000ff,#005bff,#00b6ff,#14ffeb,#72ff8e,#d7ff29,#ffb900,#ff5200,#ff1200,#ff0000,#fb0000,#f90000,#f80000,#fa0000,#fe0000,#ff0c00,#ff3400,#ff8e00,#fffb00,#a2ff5d,#47ffb9,#00f0ff,#009cff,#004bff,#0000ff)"></i><i style="background:linear-gradient(#0000ff,#005bff,#00b7ff,#15ffea,#73ff8d,#d8ff27,#ffb600,#ff4f00,#ff1000,#fe0000,#fa0000,#f80000,#f80000,#f90000,#fd0000,#ff0900,#ff3100,#ff8c00,#fff900,#a4ff5c,#48ffb8,#00f1ff,#009dff,#004bff,#0000ff)"></i><i style="background:linear-gradient(#0000ff,#005bff,#00b8ff,#16ffe9,#75ff8b,#daff25,#ffb400,#ff4d00,#ff0d00,#fd0000,#f90000,#f70000,#f70000,#f90000,#fc0000,#ff0700,#ff2f00,#ff8900,#fff700,#a5ff5b,#49ffb7,#00f1ff,#009dff,#004cff,#0000ff)"></i><i style="background:linear-gradient(#0000ff,#005bff,#00b8ff,#17ffe9,#76ff8a,#dbff24,#ffb100,#ff4a00,#ff0b00,#fd0000,#f90000,#f60000,#f60000,#f80000,#fb0000,#ff0500,#ff2c00,#ff8600,#fff500,#a6ff5a,#4affb6,#00f2ff,#009eff,#004cff,#0000ff)"></i><i style="background:linear-gradient(#0000ff,#005cff,#00b9ff,#18ffe8,#77ff89,#ddff22,#ffaf00,#ff4700,#ff0800,#fc0000,#f80000,#f60000,#f50000,#f70000,#fa0000,#ff0200,#ff2a00,#ff8400,#fff300,#a7ff58,#4bffb5,#00f3ff,#009eff,#004cff,#0000ff)"></i><i style="background:linear-gradient(#0000ff,#005cff,#00b9ff,#18ffe7,#78ff88,#dfff20,#ffac00,#ff4400,#ff0600,#fb0000,#f70000,#f50000,#f40000,#f60000,#fa0000,#ff0000,#ff2800,#ff8100,#fff100,#a9ff57,#4cffb4,#00f4ff,#009eff,#004cff,#0000ff)"></i><i style="background:linear-gradient(#0000ff,#005cff,#00baff,#19ffe6,#7aff86,#e0ff1f,#ffa900,#ff4200,#ff0300,#fa0000,#f60000,#f40000,#f40000,#f50000,#f90000,#fe0000,#ff2500,#ff7f00,#ffef00,#aaff56,#4dffb3,#00f4ff,#009fff,#004cff,#0000ff)"></i><i style="background:linear-gradient(#0000ff,#005dff,#00baff,#1affe5,#7bff85,#e2ff1d,#ffa700,#ff3f00,#ff0100,#fa0000,#f50000,#f30000,#f30000,#f50000,#f80000,#fd0000,#ff2300,#ff7c00,#ffee00,#abff54,#4effb2,#00f5ff,#009fff,#004dff,#0000ff)"></i><i style="background:linear-gradient(#0000ff,#005dff,#00bbff,#1bffe4,#7cff84,#e3ff1c,#ffa500,#ff3d00,#ff0000,#f90000,#f50000,#f30000,#f20000,#f40000,#f80000,#fd0000,#ff2100,#ff7a00,#ffec00,#acff53,#4fffb1,#00f6ff,#00a0ff,#004dff,#0000ff)"></i><i style="background:linear-gradient(#0000ff,#005dff,#00bbff,#1cffe4,#7dff83,#e5ff1b,#ffa300,#ff3b00,#fe0000,#f80000,#f40000,#f20000,#f20000,#f30000,#f70000,#fc0000,#ff2000,#ff7800,#ffea00,#adff52,#4fffb0,#00f6ff,#00a0ff,#004dff,#0000ff)"></i><i style="background:linear-gradient(#0000ff,#005dff,#00bcff,#1cffe3,#7eff82,#e6ff19,#ffa100,#ff3a00,#fe0000,#f80000,#f40000,#f10000,#f10000,#f30000,#f60000,#fc0000,#ff1e00,#ff7700,#ffe900,#aeff52,#50ffb0,#00f7ff,#00a0ff,#004dff,#0000ff)"></i><i style="background:linear-gradient(#0000ff,#005eff,#00bcff,#1dffe2,#7eff82,#e7ff19,#ffa000,#ff3800,#fd0000,#f70000,#f30000,#f10000,#f10000,#f20000,#f60000,#fb0000,#ff1d00,#ff7600,#ffe800,#afff51,#50ffaf,#00f7ff,#00a1ff,#004dff,#0000ff)"></i><i style="background:linear-gradient(#0000ff,#005eff,#00bdff,#1dffe2,#7fff81,#e7ff18,#ff9f00,#ff3700,#fd0000,#f70000,#f30000,#f10000,#f00000,#f20000,#f60000,#fb0000,#ff1c00,#ff7500,#ffe700,#afff51,#51ffaf,#00f7ff,#00a1ff,#004dff,#0000ff)"></i><i style="background:linear-gradient(#0000ff,#005eff,#00bdff,#1dffe2,#7fff81,#e8ff17,#ff9e00,#ff3700,#fd0000,#f70000,#f30000,#f00000,#f00000,#f20000,#f60000,#fb0000,#ff1c00,#ff7400,#ffe700,#afff50,#51ffaf,#00f7ff,#00a1ff,#004dff,#0000ff)"></i><i style="background:linear-gradient(#0000ff,#005eff,#00bdff,#1effe2,#7fff81,#e8ff17,#ff9e00,#ff3700,#fd0000,#f70000,#f30000,#f00000,#f00000,#f20000,#f50000,#fb0000,#ff1c00,#ff7400,#ffe700,#afff50,#51ffaf,#00f7ff,#00a1ff,#004dff,#0000ff)"></i><i style="background:linear-gradient(#0000ff,#005eff,#00bdff,#1effe2,#7fff81,#e8ff17,#ff9e00,#ff3600,#fd0000,#f70000,#f30000,#f00000,#f00000,#f20000,#f50000,#fb0000,#ff1c00,#ff7400,#ffe700,#afff50,#51ffaf,#00f7ff,#00a1ff,#004dff,#0000ff)"></i><i style="background:linear-gradient(#0000ff,#005eff,#00bdff,#1effe2,#7fff81,#e8ff17,#ff9e00,#ff3600,#fd0000,#f70000,#f30000,#f00000,#f00000,#f20000,#f50000,#fb0000,#ff1c00,#ff7400,#ffe700,#afff50,#51ffaf,#00f7ff,#00a1ff,#004dff,#0000ff)"></i><i style="background:linear-gradient(#0000ff,#005eff,#00bdff,#1effe2,#7fff81,#e8ff17,#ff9e00,#ff3600,#fd0000,#f70000,#f30000,#f00000,#f00000,#f20000,#f60000,#fb0000,#ff1c00,#ff7400,#ffe700,#afff51,#51ffaf,#00f7ff,#00a1ff,#004dff,#0000ff)"></i><i style="background:linear-gradient(#0000ff,#005eff,#00bdff,#1effe2,#7fff81,#e8ff17,#ff9e00,#ff3600,#fd0000,#f70000,#f30000,#f00000,#f00000,#f20000,#f60000,#fb0000,#ff1c00,#ff7400,#ffe700,#afff51,#51ffaf,#00f7ff,#00a1ff,#004dff,#0000ff)"></i><i style="background:linear-gradient(#0000ff,#005eff,#00bdff,#1effe2,#7fff81,#e8ff17,#ff9e00,#ff3600,#fd0000,#f70000,#f30000,#f00000,#f00000,#f20000,#f60000,#fb0000,#ff1c00,#ff7500,#ffe800,#afff51,#51ffaf,#00f7ff,#00a1ff,#004dff,#0000ff)"></i><i style="background:linear-gradient(#0000ff,#005eff,#00bdff,#1effe2,#7fff81,#e8ff17,#ff9e00,#ff3600,#fd0000,#f70000,#f30000,#f00000,#f00000,#f20000,#f60000,#fb0000,#ff1c00,#ff7500,#ffe800,#afff51,#51ffaf,#00f7ff,#00a1ff,#004dff,#0000ff)"></i><i style="background:linear-gradient(#0000ff,#005eff,#00bdff,#1effe1,#7fff81,#e8ff17,#ff9d00,#ff3600,#fd0000,#f70000,#f30000,#f00000,#f00000,#f20000,#f60000,#fb0000,#ff1c00,#ff7500,#ffe800,#afff51,#50ffaf,#00f7ff,#00a0ff,#004dff,#0000ff)"></i><i style="background:linear-gradient(#0000ff,#005eff,#00bdff,#1effe1,#80ff80,#e8ff17,#ff9d00,#ff3600,#fd0000,#f70000,#f30000,#f00000,#f00000,#f20000,#f60000,#fb0000,#ff1c00,#ff7500,#ffe800,#afff51,#50ffaf,#00f7ff,#00a0ff,#004dff,#0000ff)"></i><i style="background:linear-gradient(#0000ff,#005eff,#00bdff,#1effe1,#80ff80,#e8ff17,#ff9d00,#ff3600,#fd0000,#f70000,#f30000,#f00000,#f00000,#f20000,#f60000,#fb0000,#ff1d00,#ff7500,#ffe800,#afff51,#50ffaf,#00f7ff,#00a0ff,#004dff,#0000ff)"></i><i style="background:linear-gradient(#0000ff,#005eff,#00bdff,#1effe1,#80ff80,#e8ff17,#ff9d00,#ff3600,#fd0000,#f70000,#f30000,#f00000,#f00000,#f20000,#f60000,#fb0000,#ff1d00,#ff7500,#ffe800,#afff51,#50ffaf,#00f7ff,#00a0ff,#004dff,#0000ff)"></i><i style="background:linear-gradient(#0000ff,#005eff,#00bdff,#1effe1,#80ff80,#e9ff17,#ff9d00,#ff3600,#fd0000,#f70000,#f30000,#f00000,#f00000,#f20000,#f60000,#fb0000,#ff1d00,#ff7500,#ffe800,#aeff51,#50ffaf,#00f7ff,#00a0ff,#004dff,#0000ff)"></i><i style="background:linear-gradient(#0000ff,#005eff,#00bdff,#1effe1,#80ff80,#e9ff17,#ff9d00,#ff3600,#fd0000,#f70000,#f30000,#f00000,#f00000,#f20000,#f60000,#fb0000,#ff1d00,#ff7500,#ffe800,#aeff51,#50ffb0,#00f7ff,#00a0ff,#004dff,#0000ff)"></i><i style="background:linear-gradient(#0000ff,#005eff,#00bdff,#1effe1,#80ff80,#e9ff17,#ff9d00,#ff3600,#fd0000,#f70000,#f30000,#f00000,#f00000,#f20000,#f60000,#fb0000,#ff1d00,#ff7500,#ffe800,#aeff51,#50ffb0,#00f7ff,#00a0ff,#004dff,#0000ff)"></i><i style="background:linear-gradient(#0000ff,#005eff,#00bdff,#1effe1,#80ff80,#e9ff17,#ff9d00,#ff3600,#fd0000,#f70000,#f30000,#f00000,#f00000,#f20000,#f60000,#fb0000,#ff1d00,#ff7500,#ffe800,#aeff51,#50ffb0,#00f6ff,#00a0ff,#004dff,#0000ff)"></i><i style="background:linear-gradient(#0000ff,#005eff,#00bdff,#1effe1,#80ff80,#e9ff16,#ff9d00,#ff3600,#fd0000,#f70000,#f30000,#f00000,#f00000,#f20000,#f60000,#fb0000,#ff1d00,#ff7500,#ffe900,#aeff52,#50ffb0,#00f6ff,#00a0ff,#004dff,#0000ff)"></i><i style="background:linear-gradient(#0000ff,#005eff,#00bdff,#1effe1,#80ff80,#e9ff16,#ff9d00,#ff3600,#fd0000,#f70000,#f30000,#f00000,#f00000,#f20000,#f60000,#fb0000,#ff1d00,#ff7600,#ffe900,#aeff52,#50ffb0,#00f6ff,#00a0ff,#004dff,#0000ff)"></i><i style="background:linear-gradient(#0000ff,#005eff,#00bdff,#1effe1,#80ff80,#e9ff16,#ff9d00,#ff3600,#fd0000,#f70000,#f30000,#f00000,#f00000,#f20000,#f60000,#fb0000,#ff1d00,#ff7600,#ffe900,#aeff52,#50ffb0,#00f6ff,#00a0ff,#004dff,#0000ff)"></i><i style="background:linear-gradient(#0000ff,#005eff,#00bdff,#1effe1,#80ff80,#e9ff16,#ff9d00,#ff3500,#fd0000,#f70000,#f30000,#f00000,#f00000,#f20000,#f60000,#fb0000,#ff1d00,#ff7600,#ffe900,#aeff52,#50ffb0,#00f6ff,#00a0ff,#004dff,#0000ff)"></i><i style="background:linear-gradient(#0000ff,#005eff,#00bdff,#1effe1,#80ff80,#e9ff16,#ff9d00,#ff3500,#fd0000,#f70000,#f30000,#f00000,#f00000,#f20000,#f60000,#fb0000,#ff1d00,#ff7600,#ffe900,#aeff52,#50ffb0,#00f6ff,#00a0ff,#004dff,#0000ff)"></i><i style="background:linear-gradient(#0000ff,#005eff,#00bdff,#1effe1,#80ff80,#e9ff16,#ff9d00,#ff3500,#fd0000,#f70000,#f30000,#f00000,#f00000,#f20000,#f60000,#fb0000,#ff1d00,#ff7600,#ffe900,#aeff52,#50ffb0,#00f6ff,#00a0ff,#004dff,#0000ff)"></i><i style="background:linear-gradient(#0000ff,#005eff,#00bdff,#1effe1,#80ff80,#e9ff16,#ff9d00,#ff3500,#fd0000,#f70000,#f30000,#f00000,#f00000,#f20000,#f60000,#fb0000,#ff1d00,#ff7600,#ffe900,#aeff52,#4fffb0,#00f6ff,#00a0ff,#004dff,#0000ff)"></i><i style="background:linear-gradient(#0000ff,#005eff,#00bdff,#1effe1,#80ff80,#e9ff16,#ff9c00,#ff3500,#fd0000,#f70000,#f30000,#f00000,#f00000,#f20000,#f60000,#fb0000,#ff1d00,#ff7600,#ffe900,#aeff52,#4fffb0,#00f6ff,#00a0ff,#004dff,#0000ff)"></i><i style="background:linear-gradient(#0000ff,#005eff,#00bdff,#1effe1,#80ff80,#e9ff16,#ff9d00,#ff3500,#fd0000,#f70000,#f30000,#f00000,#f00000,#f20000,#f60000,#fb0000,#ff1e00,#ff7700,#ffea00,#adff52,#4fffb0,#00f6ff,#00a0ff,#004dff,#0000ff)"></i><i style="background:linear-gradient(#0000ff,#005eff,#00bdff,#1effe1,#80ff80,#e8ff17,#ff9d00,#ff3600,#fd0000,#f70000,#f30000,#f10000,#f10000,#f20000,#f60000,#fb0000,#ff1f00,#ff7700,#ffea00,#adff53,#4fffb1,#00f6ff,#009fff,#004dff,#0000ff)"></i><i style="background:linear-gradient(#0000ff,#005eff,#00bdff,#1dffe2,#7fff81,#e8ff18,#ff9f00,#ff3800,#fd0000,#f80000,#f30000,#f10000,#f10000,#f30000,#f60000,#fc0000,#ff2000,#ff7900,#ffec00,#acff54,#4effb2,#00f5ff,#009fff,#004cff,#0000ff)"></i><i style="background:linear-gradient(#0000ff,#005dff,#00bcff,#1dffe3,#7eff82,#e6ff19,#ffa100,#ff3900,#fe0000,#f80000,#f40000,#f20000,#f20000,#f30000,#f70000,#fc0000,#ff2200,#ff7b00,#ffed00,#abff55,#4dffb2,#00f4ff,#009fff,#004cff,#0000ff)"></i><i style="background:linear-gradient(#0000ff,#005dff,#00bcff,#1cffe3,#7dff83,#e5ff1a,#ffa300,#ff3c00,#ff0000,#f90000,#f50000,#f30000,#f20000,#f40000,#f80000,#fd0000,#ff2400,#ff7e00,#ffef00,#a9ff56,#4cffb3,#00f4ff,#009eff,#004cff,#0000ff)"></i><i style="background:linear-gradient(#0000ff,#005dff,#00bbff,#1bffe4,#7cff84,#e3ff1c,#ffa600,#ff3e00,#ff0200,#fa0000,#f60000,#f30000,#f30000,#f50000,#f90000,#fe0000,#ff2600,#ff8100,#fff200,#a8ff58,#4bffb5,#00f3ff,#009eff,#004cff,#0000ff)"></i><i style="background:linear-gradient(#0000ff,#005dff,#00baff,#1affe5,#7aff86,#e1ff1e,#ffa900,#ff4100,#ff0500,#fb0000,#f70000,#f40000,#f40000,#f60000,#fa0000,#ff0000,#ff2a00,#ff8400,#fff400,#a6ff5a,#4affb6,#00f2ff,#009dff,#004bff,#0000ff)"></i><i style="background:linear-gradient(#0000ff,#005cff,#00baff,#19ffe6,#79ff87,#dfff20,#ffac00,#ff4500,#ff0800,#fc0000,#f80000,#f50000,#f50000,#f70000,#fb0000,#ff0300,#ff2d00,#ff8800,#fff700,#a4ff5b,#48ffb7,#00f1ff,#009cff,#004bff,#0000ff)"></i><i style="background:linear-gradient(#0000ff,#005cff,#00b9ff,#18ffe7,#77ff89,#ddff22,#ffb000,#ff4900,#ff0c00,#fd0000,#f90000,#f70000,#f60000,#f80000,#fc0000,#ff0700,#ff3100,#ff8c00,#fffa00,#a2ff5d,#47ffb9,#00f0ff,#009cff,#004bff,#0000ff)"></i><i style="background:linear-gradient(#0000ff,#005cff,#00b9ff,#17ffe8,#76ff8a,#dbff25,#ffb400,#ff4e00,#ff1000,#fe0000,#fa0000,#f80000,#f80000,#f90000,#fd0000,#ff0b00,#ff3600,#ff9100,#fffe00,#a1ff5f,#46ffba,#00efff,#009bff,#004bff,#0000ff)"></i><i style="background:linear-gradient(#0000ff,#005cff,#00b8ff,#16ffe9,#74ff8c,#d8ff27,#ffb800,#ff5200,#ff1400,#ff0100,#fb0000,#f90000,#f90000,#fb0000,#fe0000,#ff0f00,#ff3b00,#ff9500,#fdff02,#9fff61,#44ffbb,#00eeff,#009bff,#004aff,#0000ff)"></i><i style="background:linear-gradient(#0000ff,#005bff,#00b7ff,#15ffea,#73ff8d,#d6ff29,#ffbc00,#ff5700,#ff1900,#ff0600,#fc0000,#fa0000,#fa0000,#fc0000,#ff0200,#ff1400,#ff3f00,#ff9a00,#faff05,#9dff63,#43ffbc,#00edff,#009aff,#004aff,#0000ff)"></i><i style="background:linear-gradient(#0000ff,#005bff,#00b7ff,#14ffeb,#71ff8f,#d3ff2c,#ffc100,#ff5d00,#ff1d00,#ff0a00,#fe0000,#fb0000,#fb0000,#fd0000,#ff0600,#ff1800,#ff4500,#ff9f00,#f7ff08,#9bff65,#42ffbe,#00edff,#009aff,#004aff,#0000ff)"></i><i style="background:linear-gradient(#0000ff,#005bff,#00b6ff,#13ffec,#70ff90,#d0ff2f,#ffc600,#ff6300,#ff2300,#ff0f00,#ff0100,#fd0000,#fd0000,#ff0000,#ff0b00,#ff1d00,#ff4b00,#ffa500,#f3ff0c,#99ff67,#41ffbf,#00ecff,#0099ff,#004aff,#0000ff)"></i><i style="background:linear-gradient(#0000ff,#005aff,#00b6ff,#12ffed,#6dff92,#cdff32,#ffcc00,#ff6900,#ff2900,#ff1400,#ff0600,#fe0000,#fe0000,#ff0400,#ff1000,#ff2300,#ff5200,#ffab00,#efff10,#96ff6a,#3fffc1,#00ebff,#0099ff,#004aff,#0000ff)"></i><i style="background:linear-gradient(#0000ff,#005aff,#00b5ff,#10ffef,#6bff95,#caff36,#ffd200,#ff7100,#ff3000,#ff1a00,#ff0b00,#ff0300,#ff0300,#ff0900,#ff1600,#ff2a00,#ff5900,#ffb200,#ebff15,#93ff6d,#3dffc2,#00eaff,#0098ff,#0049ff,#0000ff)"></i><i style="background:linear-gradient(#0000ff,#005aff,#00b4ff,#0ffff0,#69ff97,#c6ff3a,#ffd900,#ff7900,#ff3700,#ff2000,#ff1100,#ff0900,#ff0900,#ff0f00,#ff1c00,#ff3100,#ff6100,#ffb900,#e6ff19,#90ff70,#3bffc4,#00e8ff,#0097ff,#0049ff,#0000ff)"></i><i style="background:linear-gradient(#0000ff,#0059ff,#00b3ff,#0dfff2,#66ff9a,#c2ff3e,#ffe000,#ff8200,#ff4000,#ff2700,#ff1800,#ff0f00,#ff0f00,#ff1500,#ff2300,#ff3900,#ff6a00,#ffc100,#e1ff1e,#8dff73,#39ffc6,#00e7ff,#0097ff,#0049ff,#0000ff)"></i><i style="background:linear-gradient(#0000ff,#0059ff,#00b2ff,#0bfff4,#63ff9c,#beff42,#ffe700,#ff8b00,#ff4800,#ff2f00,#ff1e00,#ff1600,#ff1500,#ff1c00,#ff2a00,#ff4100,#ff7300,#ffc900,#dcff23,#8aff76,#37ffc9,#00e5ff,#0096ff,#0048ff,#0000ff)"></i><i style="background:linear-gradient(#0000ff,#0058ff,#00b1ff,#09fff6,#60ff9f,#b9ff46,#ffee00,#ff9400,#ff5200,#ff3700,#ff2500,#ff1d00,#ff1c00,#ff2300,#ff3200,#ff4a00,#ff7d00,#ffd100,#d8ff28,#86ff7a,#34ffcb,#00e4ff,#0095ff,#0048ff,#0000ff)"></i><i style="background:linear-gradient(#0000ff,#0058ff,#00b0ff,#07fff8,#5dffa2,#b5ff4b,#fff500,#ff9e00,#ff5b00,#ff3f00,#ff2d00,#ff2300,#ff2300,#ff2a00,#ff3a00,#ff5400,#ff8700,#ffd900,#d3ff2d,#83ff7d,#32ffcd,#00e2ff,#0094ff,#0047ff,#0000ff)"></i><i style="background:linear-gradient(#0000ff,#0057ff,#00aeff,#05fffa,#5affa5,#b0ff4f,#fffd00,#ffa700,#ff6600,#ff4800,#ff3500,#ff2b00,#ff2a00,#ff3200,#ff4300,#ff5d00,#ff9100,#ffe100,#cdff32,#7fff81,#30ffd0,#00e1ff,#0093ff,#0047ff,#0000ff)"></i><i style="background:linear-gradient(#0000ff,#0057ff,#00adff,#03fffc,#57ffa9,#abff54,#faff05,#ffb200,#ff7000,#ff5100,#ff3d00,#ff3300,#ff3200,#ff3a00,#ff4c00,#ff6800,#ff9c00,#ffea00,#c8ff37,#7bff85,#2dffd3,#00dfff,#0092ff,#0046ff,#0000ff)"></i><i style="background:linear-gradient(#0000ff,#0056ff,#00abff,#01fffe,#53ffac,#a6ff5a,#f2ff0d,#ffbc00,#ff7c00,#ff5c00,#ff4700,#ff3c00,#ff3b00,#ff4400,#ff5600,#ff7300,#ffa700,#fff300,#c2ff3d,#77ff89,#2affd5,#00ddff,#0091ff,#0046ff,#0000ff)"></i><i style="background:linear-gradient(#0000ff,#0055ff,#00aaff,#00fdff,#4fffb0,#a0ff5f,#eaff15,#ffc800,#ff8900,#ff6700,#ff5200,#ff4600,#ff4500,#ff4e00,#ff6200,#ff8000,#ffb300,#fffc00,#bcff44,#72ff8e,#27ffd9,#00daff,#008fff,#0045ff,#0000ff)"></i><i style="background:linear-gradient(#0000ff,#0054ff,#00a8ff,#00faff,#4bffb5,#9aff66,#e2ff1d,#ffd400,#ff9600,#ff7400,#ff5e00,#ff5200,#ff5100,#ff5a00,#ff6e00,#ff8d00,#ffc000,#f8ff07,#b5ff4b,#6dff93,#23ffdd,#00d8ff,#008eff,#0044ff,#0000ff)"></i><i style="background:linear-gradient(#0000ff,#0053ff,#00a6ff,#00f6ff,#46ffba,#93ff6d,#d9ff26,#ffe100,#ffa500,#ff8200,#ff6b00,#ff5f00,#ff5e00,#ff6800,#ff7c00,#ff9b00,#ffce00,#eeff11,#aeff52,#67ff99,#1fffe1,#00d5ff,#008cff,#0044ff,#0000ff)"></i><i style="background:linear-gradient(#0000ff,#0052ff,#00a3ff,#00f2ff,#40ffbf,#8bff75,#cfff30,#ffef00,#ffb500,#ff9300,#ff7b00,#ff6f00,#ff6d00,#ff7800,#ff8d00,#ffac00,#ffdd00,#e3ff1d,#a5ff5b,#60ff9f,#1affe6,#00d1ff,#0089ff,#0043ff,#0000ff)"></i><i style="background:linear-gradient(#0000ff,#0050ff,#00a0ff,#00edff,#39ffc6,#82ff7e,#c4ff3c,#ffff00,#ffc900,#ffa600,#ff8e00,#ff8100,#ff8000,#ff8a00,#ffa000,#ffbf00,#ffef00,#d6ff29,#9bff65,#59ffa7,#14ffeb,#00cdff,#0087ff,#0041ff,#0000ff)"></i><i style="background:linear-gradient(#0000ff,#004fff,#009cff,#00e8ff,#32ffce,#78ff88,#b7ff49,#eeff11,#ffde00,#ffbb00,#ffa300,#ff9600,#ff9500,#ff9f00,#ffb500,#ffd500,#fdff02,#c9ff37,#90ff70,#50ffb0,#0dfff2,#00c9ff,#0084ff,#0040ff,#0000ff)"></i><i style="background:linear-gradient(#0000ff,#004dff,#0099ff,#00e2ff,#2affd6,#6dff93,#a9ff56,#ddff22,#fff300,#ffd100,#ffb900,#ffac00,#ffab00,#ffb600,#ffcb00,#ffea00,#eaff15,#bbff45,#84ff7c,#47ffb9,#06fff9,#00c4ff,#0081ff,#003eff,#0000ff)"></i><i style="background:linear-gradient(#0000ff,#004bff,#0094ff,#00dbff,#20ffdf,#60ff9f,#9aff66,#cbff34,#f4ff0b,#ffea00,#ffd200,#ffc600,#ffc500,#ffcf00,#ffe400,#fdff02,#d8ff28,#aaff55,#76ff8a,#3cffc3,#00fdff,#00beff,#007dff,#003dff,#0000ff)"></i><i style="background:linear-gradient(#0000ff,#0048ff,#008fff,#00d4ff,#16ffea,#53ffad,#89ff77,#b8ff48,#deff22,#fbff04,#ffed00,#ffe100,#ffe000,#ffea00,#fffe00,#e5ff1a,#c3ff3c,#99ff67,#67ff99,#30ffcf,#00f4ff,#00b7ff,#0079ff,#003bff,#0000ff)"></i><i style="background:linear-gradient(#0000ff,#0046ff,#008aff,#00ccff,#0bfff4,#45ffbb,#79ff87,#a5ff5b,#c9ff36,#e3ff1c,#f7ff08,#fffc00,#fffb00,#faff05,#e8ff17,#d0ff2f,#b0ff50,#87ff79,#58ffa7,#24ffdb,#00ebff,#00b0ff,#0075ff,#0039ff,#0000ff)"></i><i style="background:linear-gradient(#0000ff,#0043ff,#0085ff,#00c4ff,#01fffe,#38ffc7,#6aff96,#94ff6c,#b7ff49,#d1ff2f,#e3ff1d,#edff13,#edff12,#e5ff1a,#d5ff2a,#beff42,#9eff61,#78ff88,#4bffb4,#19ffe6,#00e3ff,#00aaff,#0071ff,#0037ff,#0000ff)"></i><i style="background:linear-gradient(#0000ff,#0041ff,#0081ff,#00beff,#00f8ff,#2effd1,#5dffa2,#86ff7a,#a7ff58,#c1ff3f,#d2ff2d,#dbff24,#dcff23,#d5ff2b,#c5ff3a,#aeff51,#90ff70,#6bff95,#40ffc0,#10ffef,#00dbff,#00a5ff,#006dff,#0035ff,#0000ff)"></i><i style="background:linear-gradient(#0000ff,#003fff,#007cff,#00b7ff,#00efff,#23ffdc,#50ffaf,#78ff88,#98ff68,#b1ff4f,#c1ff3e,#caff35,#cbff34,#c4ff3c,#b5ff4b,#9fff61,#81ff7f,#5effa2,#34ffcb,#06fff9,#00d4ff,#009fff,#0069ff,#0033ff,#0000ff)"></i><i style="background:linear-gradient(#0000ff,#003cff,#0076ff,#00aeff,#00e3ff,#15ffea,#40ffc0,#65ff9a,#84ff7c,#9bff64,#acff54,#b4ff4c,#b5ff4b,#aeff52,#a0ff60,#8aff76,#6eff91,#4cffb3,#25ffda,#00f8ff,#00c9ff,#0097ff,#0064ff,#0031ff,#0000ff)"></i><i style="background:linear-gradient(#0000ff,#0037ff,#006eff,#00a2ff,#00d2ff,#00ffff,#28ffd7,#4bffb5,#67ff98,#7dff83,#8cff74,#94ff6c,#95ff6b,#8eff72,#81ff7f,#6dff93,#53ffac,#34ffcc,#0ffff0,#00e6ff,#00baff,#008cff,#005dff,#002dff,#0000ff)"></i><i style="background:linear-gradient(#0000ff,#0033ff,#0064ff,#0094ff,#00c0ff,#00e9ff,#0ffff0,#2fffd1,#49ffb7,#5dffa3,#6aff95,#72ff8e,#72ff8e,#6cff93,#60ff9f,#4effb1,#36ffc9,#1affe6,#00f7ff,#00d2ff,#00aaff,#0080ff,#0055ff,#0029ff,#0000ff)"></i><i style="background:linear-gradient(#0000ff,#002eff,#005bff,#0086ff,#00aeff,#00d3ff,#00f4ff,#12ffed,#29ffd6,#3bffc4,#48ffb8,#4effb1,#4fffb1,#4affb6,#3fffc1,#2effd1,#19ffe6,#00feff,#00e0ff,#00beff,#009aff,#0074ff,#004dff,#0025ff,#0000ff)"></i><i style="background:linear-gradient(#0000ff,#0029ff,#0051ff,#0077ff,#009bff,#00bcff,#00d9ff,#00f3ff,#09fff6,#19ffe6,#24ffdb,#2affd6,#2affd5,#26ffda,#1cffe4,#0dfff2,#00f9ff,#00e2ff,#00c7ff,#00a9ff,#0089ff,#0067ff,#0044ff,#0021ff,#0000ff)"></i><i style="background:linear-gradient(#0000ff,#0024ff,#0046ff,#0068ff,#0087ff,#00a4ff,#00beff,#00d4ff,#00e6ff,#00f4ff,#00feff,#04fffb,#04fffb,#00ffff,#00f7ff,#00eaff,#00d9ff,#00c5ff,#00aeff,#0094ff,#0078ff,#005aff,#003cff,#001dff,#0000ff)"></i><i style="background:linear-gradient(#0000ff,#001eff,#003cff,#0058ff,#0072ff,#008bff,#00a1ff,#00b3ff,#00c3ff,#00cfff,#00d7ff,#00dbff,#00dcff,#00d8ff,#00d1ff,#00c6ff,#00b8ff,#00a7ff,#0093ff,#007dff,#0065ff,#004cff,#0032ff,#0019ff,#0000ff)"></i><i style="background:linear-gradient(#0000ff,#0018ff,#0030ff,#0047ff,#005dff,#0071ff,#0082ff,#0092ff,#009eff,#00a8ff,#00aeff,#00b2ff,#00b2ff,#00afff,#00a9ff,#00a1ff,#0095ff,#0087ff,#0077ff,#0065ff,#0052ff,#003eff,#0029ff,#0014ff,#0000ff)"></i><i style="background:linear-gradient(#0000ff,#0013ff,#0025ff,#0037ff,#0047ff,#0057ff,#0064ff,#0070ff,#007aff,#0081ff,#0086ff,#0089ff,#0089ff,#0087ff,#0082ff,#007cff,#0073ff,#0068ff,#005cff,#004eff,#003fff,#0030ff,#001fff,#000fff,#0000ff)"></i><i style="background:linear-gradient(#0000ff,#000dff,#001aff,#0027ff,#0033ff,#003dff,#0047ff,#004fff,#0056ff,#005cff,#005fff,#0061ff,#0061ff,#0060ff,#005dff,#0058ff,#0051ff,#004aff,#0041ff,#0037ff,#002dff,#0022ff,#0016ff,#000bff,#0000ff)"></i><i style="background:linear-gradient(#0000ff,#0008ff,#0010ff,#0017ff,#001eff,#0025ff,#002bff,#0030ff,#0034ff,#0037ff,#0039ff,#003aff,#003aff,#0039ff,#0037ff,#0035ff,#0031ff,#002cff,#0027ff,#0021ff,#001bff,#0014ff,#000dff,#0007ff,#0000ff)"></i><i style="background:linear-gradient(#0000ff,#0003ff,#0006ff,#0009ff,#000cff,#000fff,#0011ff,#0013ff,#0015ff,#0016ff,#0017ff,#0017ff,#0018ff,#0017ff,#0016ff,#0015ff,#0014ff,#0012ff,#0010ff,#000dff,#000bff,#0008ff,#0005ff,#0003ff,#0000ff)"></i><i style="flex-basis:0.3px;background:linear-gradient(#0000ff,#0001ff,#0001ff,#0002ff,#0002ff,#0003ff,#0003ff,#0003ff,#0004ff,#0004ff,#0004ff,#0004ff,#0004ff,#0004ff,#0004ff,#0004ff,#0004ff,#0003ff,#0003ff,#0002ff,#0002ff,#0001ff,#0001ff,#0000ff,#0000ff)"></i></div>
<div class="hm" style="left:36px;top:381.8px;width:129.7px;height:62.6px"><i style="background:linear-gradient(#0000ff,#003bff,#0082ff,#00ccff,#16ffea,#5cffa4,#9dff63,#d6ff29,#fff100,#ffbe00,#ff9800,#ff8000,#ff7800,#ff8000,#ff9800,#ffbe00,#fff100,#d6ff29,#9dff63,#5cffa4,#16ffea,#00ccff,#0082ff,#003bff,#0000ff)"></i><i style="background:linear-gradient(#0000ff,#003cff,#0083ff,#00cdff,#17ffe8,#5dffa3,#9eff62,#d7ff28,#fff000,#ffbe00,#ff9700,#ff8000,#ff7800,#ff8000,#ff9700,#ffbe00,#fff000,#d7ff28,#9eff62,#5dffa3,#17ffe8,#00cdff,#0083ff,#003cff,#0000ff)"></i><i style="background:linear-gradient(#0000ff,#003dff,#0084ff,#00ceff,#18ffe7,#5effa2,#9fff61,#d8ff27,#ffef00,#ffbd00,#ff9600,#ff7f00,#ff7700,#ff7f00,#ff9600,#ffbd00,#ffef00,#d8ff27,#9fff61,#5effa2,#18ffe7,#00ceff,#0084ff,#003dff,#0000ff)"></i><i style="background:linear-gradient(#0000ff,#003dff,#0085ff,#00cfff,#19ffe6,#5fffa1,#a0ff60,#d9ff26,#ffee00,#ffbc00,#ff9600,#ff7e00,#ff7700,#ff7e00,#ff9600,#ffbc00,#ffee00,#d9ff26,#a0ff60,#5fffa1,#19ffe6,#00cfff,#0085ff,#003dff,#0000ff)"></i><i style="background:linear-gradient(#0000ff,#003eff,#0086ff,#00d0ff,#1affe5,#60ff9f,#a1ff5f,#daff25,#ffed00,#ffbb00,#ff9500,#ff7e00,#ff7600,#ff7e00,#ff9500,#ffbb00,#ffed00,#daff25,#a1ff5f,#60ff9f,#1affe5,#00d0ff,#0086ff,#003eff,#0000ff)"></i><i style="background:linear-gradient(#0000ff,#003fff,#0087ff,#00d2ff,#1cffe3,#62ff9e,#a2ff5e,#dbff24,#ffec00,#ffba00,#ff9400,#ff7d00,#ff7500,#ff7d00,#ff9400,#ffba00,#ffec00,#dbff24,#a2ff5e,#62ff9e,#1cffe3,#00d2ff,#0087ff,#003fff,#0000ff)"></i><i style="background:linear-gradient(#0000ff,#003fff,#0088ff,#00d3ff,#1dffe2,#63ff9d,#a3ff5d,#dcff23,#ffeb00,#ffb900,#ff9300,#ff7c00,#ff7400,#ff7c00,#ff9300,#ffb900,#ffeb00,#dcff23,#a3ff5d,#63ff9d,#1dffe2,#00d3ff,#0088ff,#003fff,#0000ff)"></i><i style="background:linear-gradient(#0000ff,#0040ff,#0089ff,#00d4ff,#1fffe1,#64ff9b,#a4ff5b,#ddff22,#ffea00,#ffb800,#ff9200,#ff7b00,#ff7400,#ff7b00,#ff9200,#ffb800,#ffea00,#ddff22,#a4ff5b,#64ff9b,#1fffe1,#00d4ff,#0089ff,#0040ff,#0000ff)"></i><i style="background:linear-gradient(#0000ff,#0041ff,#008bff,#00d5ff,#20ffdf,#66ff9a,#a6ff5a,#deff21,#ffe900,#ffb700,#ff9100,#ff7a00,#ff7300,#ff7a00,#ff9100,#ffb700,#ffe900,#deff21,#a6ff5a,#66ff9a,#20ffdf,#00d5ff,#008bff,#0041ff,#0000ff)"></i><i style="background:linear-gradient(#0000ff,#0042ff,#008cff,#00d7ff,#21ffde,#67ff99,#a7ff59,#e0ff20,#ffe700,#ffb500,#ff9000,#ff7900,#ff7200,#ff7900,#ff9000,#ffb500,#ffe700,#e0ff20,#a7ff59,#67ff99,#21ffde,#00d7ff,#008cff,#0042ff,#0000ff)"></i><i style="background:linear-gradient(#0000ff,#0043ff,#008dff,#00d8ff,#23ffdc,#69ff97,#a8ff57,#e1ff1e,#ffe600,#ffb400,#ff8f00,#ff7800,#ff7100,#ff7800,#ff8f00,#ffb400,#ffe600,#e1ff1e,#a8ff57,#69ff97,#23ffdc,#00d8ff,#008dff,#0043ff,#0000ff)"></i><i style="background:linear-gradient(#0000ff,#0043ff,#008eff,#00daff,#24ffdb,#6aff96,#aaff56,#e2ff1d,#ffe400,#ffb300,#ff8d00,#ff7700,#ff6f00,#ff7700,#ff8d00,#ffb300,#ffe400,#e2ff1d,#aaff56,#6aff96,#24ffdb,#00daff,#008eff,#0043ff,#0000ff)"></i><i style="background:linear-gradient(#0000ff,#0044ff,#008fff,#00dbff,#26ffda,#6bff94,#abff55,#e3ff1c,#ffe300,#ffb100,#ff8c00,#ff7600,#ff6e00,#ff7600,#ff8c00,#ffb100,#ffe300,#e3ff1c,#abff55,#6bff94,#26ffda,#00dbff,#008fff,#0044ff,#0000ff)"></i><i style="background:linear-gradient(#0000ff,#0045ff,#0091ff,#00dcff,#27ffd8,#6dff93,#acff53,#e5ff1a,#ffe100,#ffb000,#ff8b00,#ff7500,#ff6d00,#ff7500,#ff8b00,#ffb000,#ffe100,#e5ff1a,#acff53,#6dff93,#27ffd8,#00dcff,#0091ff,#0045ff,#0000ff)"></i><i style="background:linear-gradient(#0000ff,#0046ff,#0092ff,#00deff,#29ffd7,#6eff91,#aeff52,#e6ff19,#ffe000,#ffae00,#ff8900,#ff7300,#ff6c00,#ff7300,#ff8900,#ffae00,#ffe000,#e6ff19,#aeff52,#6eff91,#29ffd7,#00deff,#0092ff,#0046ff,#0000ff)"></i><i style="background:linear-gradient(#0000ff,#0047ff,#0093ff,#00dfff,#2affd5,#70ff90,#afff50,#e8ff18,#ffde00,#ffad00,#ff8800,#ff7200,#ff6b00,#ff7200,#ff8800,#ffad00,#ffde00,#e8ff18,#afff50,#70ff90,#2affd5,#00dfff,#0093ff,#0047ff,#0000ff)"></i><i style="background:linear-gradient(#0000ff,#0048ff,#0094ff,#00e1ff,#2cffd4,#71ff8e,#b1ff4f,#e9ff16,#ffdd00,#ffab00,#ff8700,#ff7100,#ff6900,#ff7100,#ff8700,#ffab00,#ffdd00,#e9ff16,#b1ff4f,#71ff8e,#2cffd4,#00e1ff,#0094ff,#0048ff,#0000ff)"></i><i style="background:linear-gradient(#0000ff,#0048ff,#0095ff,#00e2ff,#2dffd2,#73ff8d,#b2ff4e,#ebff15,#ffdb00,#ffaa00,#ff8500,#ff6f00,#ff6800,#ff6f00,#ff8500,#ffaa00,#ffdb00,#ebff15,#b2ff4e,#73ff8d,#2dffd2,#00e2ff,#0095ff,#0048ff,#0000ff)"></i><i style="background:linear-gradient(#0000ff,#0049ff,#0097ff,#00e4ff,#2fffd1,#74ff8c,#b4ff4c,#ecff13,#ffda00,#ffa800,#ff8400,#ff6e00,#ff6700,#ff6e00,#ff8400,#ffa800,#ffda00,#ecff13,#b4ff4c,#74ff8c,#2fffd1,#00e4ff,#0097ff,#0049ff,#0000ff)"></i><i style="background:linear-gradient(#0000ff,#004aff,#0098ff,#00e5ff,#30ffcf,#76ff8a,#b5ff4b,#edff12,#ffd800,#ffa700,#ff8200,#ff6d00,#ff6500,#ff6d00,#ff8200,#ffa700,#ffd800,#edff12,#b5ff4b,#76ff8a,#30ffcf,#00e5ff,#0098ff,#004aff,#0000ff)"></i><i style="background:linear-gradient(#0000ff,#004bff,#0099ff,#00e6ff,#32ffce,#77ff89,#b6ff49,#efff10,#ffd600,#ffa500,#ff8100,#ff6b00,#ff6400,#ff6b00,#ff8100,#ffa500,#ffd600,#efff10,#b6ff49,#77ff89,#32ffce,#00e6ff,#0099ff,#004bff,#0000ff)"></i><i style="background:linear-gradient(#0000ff,#004cff,#009aff,#00e8ff,#33ffcc,#79ff87,#b8ff48,#f1ff0f,#ffd500,#ffa300,#ff7f00,#ff6a00,#ff6300,#ff6a00,#ff7f00,#ffa300,#ffd500,#f1ff0f,#b8ff48,#79ff87,#33ffcc,#00e8ff,#009aff,#004cff,#0000ff)"></i><i style="background:linear-gradient(#0000ff,#004cff,#009bff,#00e9ff,#35ffcb,#7aff86,#b9ff46,#f2ff0d,#ffd300,#ffa200,#ff7d00,#ff6800,#ff6100,#ff6800,#ff7d00,#ffa200,#ffd300,#f2ff0d,#b9ff46,#7aff86,#35ffcb,#00e9ff,#009bff,#004cff,#0000ff)"></i><i style="background:linear-gradient(#0000ff,#004dff,#009dff,#00ebff,#36ffc9,#7cff84,#bbff45,#f4ff0b,#ffd100,#ffa000,#ff7c00,#ff6600,#ff5f00,#ff6600,#ff7c00,#ffa000,#ffd100,#f4ff0b,#bbff45,#7cff84,#36ffc9,#00ebff,#009dff,#004dff,#0000ff)"></i><i style="background:linear-gradient(#0000ff,#004eff,#009eff,#00ecff,#38ffc8,#7eff82,#bdff43,#f6ff09,#ffcf00,#ff9e00,#ff7a00,#ff6400,#ff5d00,#ff6400,#ff7a00,#ff9e00,#ffcf00,#f6ff09,#bdff43,#7eff82,#38ffc8,#00ecff,#009eff,#004eff,#0000ff)"></i><i style="background:linear-gradient(#0000ff,#004fff,#009fff,#00edff,#39ffc6,#7fff81,#beff41,#f7ff08,#ffcd00,#ff9c00,#ff7800,#ff6300,#ff5c00,#ff6300,#ff7800,#ff9c00,#ffcd00,#f7ff08,#beff41,#7fff81,#39ffc6,#00edff,#009fff,#004fff,#0000ff)"></i><i style="background:linear-gradient(#0000ff,#0050ff,#00a0ff,#00efff,#3bffc5,#81ff7f,#c0ff40,#f9ff06,#ffcb00,#ff9900,#ff7600,#ff6100,#ff5a00,#ff6100,#ff7600,#ff9900,#ffcb00,#f9ff06,#c0ff40,#81ff7f,#3bffc5,#00efff,#00a0ff,#0050ff,#0000ff)"></i><i style="background:linear-gradient(#0000ff,#0050ff,#00a1ff,#00f0ff,#3cffc3,#82ff7e,#c1ff3e,#fbff04,#ffc900,#ff9700,#ff7400,#ff5e00,#ff5800,#ff5e00,#ff7400,#ff9700,#ffc900,#fbff04,#c1ff3e,#82ff7e,#3cffc3,#00f0ff,#00a1ff,#0050ff,#0000ff)"></i><i style="background:linear-gradient(#0000ff,#0051ff,#00a2ff,#00f1ff,#3effc2,#84ff7c,#c3ff3c,#fdff02,#ffc600,#ff9500,#ff7100,#ff5c00,#ff5500,#ff5c00,#ff7100,#ff9500,#ffc600,#fdff02,#c3ff3c,#84ff7c,#3effc2,#00f1ff,#00a2ff,#0051ff,#0000ff)"></i><i style="background:linear-gradient(#0000ff,#0052ff,#00a3ff,#00f3ff,#3fffc0,#86ff7a,#c5ff3b,#ffff00,#ffc400,#ff9300,#ff6f00,#ff5a00,#ff5300,#ff5a00,#ff6f00,#ff9300,#ffc400,#ffff00,#c5ff3b,#86ff7a,#3fffc0,#00f3ff,#00a3ff,#0052ff,#0000ff)"></i><i style="background:linear-gradient(#0000ff,#0052ff,#00a4ff,#00f4ff,#41ffbf,#87ff79,#c6ff39,#fffd00,#ffc200,#ff9000,#ff6d00,#ff5800,#ff5100,#ff5800,#ff6d00,#ff9000,#ffc200,#fffd00,#c6ff39,#87ff79,#41ffbf,#00f4ff,#00a4ff,#0052ff,#0000ff)"></i><i style="background:linear-gradient(#0000ff,#0053ff,#00a5ff,#00f5ff,#42ffbd,#89ff77,#c8ff37,#fffb00,#ffbf00,#ff8e00,#ff6a00,#ff5600,#ff4f00,#ff5600,#ff6a00,#ff8e00,#ffbf00,#fffb00,#c8ff37,#89ff77,#42ffbd,#00f5ff,#00a5ff,#0053ff,#0000ff)"></i><i style="background:linear-gradient(#0000ff,#0054ff,#00a6ff,#00f7ff,#44ffbc,#8aff76,#caff36,#fff900,#ffbd00,#ff8b00,#ff6800,#ff5300,#ff4c00,#ff5300,#ff6800,#ff8b00,#ffbd00,#fff900,#caff36,#8aff76,#44ffbc,#00f7ff,#00a6ff,#0054ff,#0000ff)"></i><i style="background:linear-gradient(#0000ff,#0054ff,#00a7ff,#00f8ff,#45ffba,#8cff74,#cbff34,#fff600,#ffbb00,#ff8900,#ff6500,#ff5100,#ff4a00,#ff5100,#ff6500,#ff8900,#ffbb00,#fff600,#cbff34,#8cff74,#45ffba,#00f8ff,#00a7ff,#0054ff,#0000ff)"></i><i style="background:linear-gradient(#0000ff,#0055ff,#00a8ff,#00f9ff,#46ffb9,#8dff73,#cdff32,#fff400,#ffb800,#ff8600,#ff6300,#ff4e00,#ff4800,#ff4e00,#ff6300,#ff8600,#ffb800,#fff400,#cdff32,#8dff73,#46ffb9,#00f9ff,#00a8ff,#0055ff,#0000ff)"></i><i style="background:linear-gradient(#0000ff,#0055ff,#00a9ff,#00faff,#48ffb8,#8fff71,#cfff31,#fff200,#ffb600,#ff8400,#ff6000,#ff4c00,#ff4500,#ff4c00,#ff6000,#ff8400,#ffb600,#fff200,#cfff31,#8fff71,#48ffb8,#00faff,#00a9ff,#0055ff,#0000ff)"></i><i style="background:linear-gradient(#0000ff,#0056ff,#00aaff,#00fbff,#49ffb7,#90ff70,#d0ff2f,#fff000,#ffb300,#ff8100,#ff5e00,#ff4900,#ff4300,#ff4900,#ff5e00,#ff8100,#ffb300,#fff000,#d0ff2f,#90ff70,#49ffb7,#00fbff,#00aaff,#0056ff,#0000ff)"></i><i style="background:linear-gradient(#0000ff,#0056ff,#00aaff,#00fcff,#4affb5,#92ff6e,#d2ff2d,#ffee00,#ffb100,#ff7e00,#ff5b00,#ff4700,#ff4000,#ff4700,#ff5b00,#ff7e00,#ffb100,#ffee00,#d2ff2d,#92ff6e,#4affb5,#00fcff,#00aaff,#0056ff,#0000ff)"></i><i style="background:linear-gradient(#0000ff,#0056ff,#00abff,#00fdff,#4bffb4,#93ff6d,#d3ff2c,#ffec00,#ffae00,#ff7c00,#ff5900,#ff4400,#ff3e00,#ff4400,#ff5900,#ff7c00,#ffae00,#ffec00,#d3ff2c,#93ff6d,#4bffb4,#00fdff,#00abff,#0056ff,#0000ff)"></i><i style="background:linear-gradient(#0000ff,#0056ff,#00abff,#00feff,#4cffb3,#94ff6c,#d5ff2a,#ffea00,#ffac00,#ff7900,#ff5600,#ff4200,#ff3b00,#ff4200,#ff5600,#ff7900,#ffac00,#ffea00,#d5ff2a,#94ff6c,#4cffb3,#00feff,#00abff,#0056ff,#0000ff)"></i><i style="background:linear-gradient(#0000ff,#0057ff,#00acff,#00feff,#4dffb2,#96ff6a,#d7ff29,#ffe700,#ffa900,#ff7600,#ff5300,#ff3f00,#ff3900,#ff3f00,#ff5300,#ff7600,#ffa900,#ffe700,#d7ff29,#96ff6a,#4dffb2,#00feff,#00acff,#0057ff,#0000ff)"></i><i style="background:linear-gradient(#0000ff,#0057ff,#00acff,#00ffff,#4effb1,#97ff69,#d9ff27,#ffe400,#ffa500,#ff7300,#ff5000,#ff3d00,#ff3600,#ff3d00,#ff5000,#ff7300,#ffa500,#ffe400,#d9ff27,#97ff69,#4effb1,#00ffff,#00acff,#0057ff,#0000ff)"></i><i style="background:linear-gradient(#0000ff,#0057ff,#00adff,#00ffff,#4fffb1,#98ff67,#daff25,#ffe100,#ffa200,#ff7000,#ff4e00,#ff3a00,#ff3400,#ff3a00,#ff4e00,#ff7000,#ffa200,#ffe100,#daff25,#98ff67,#4fffb1,#00ffff,#00adff,#0057ff,#0000ff)"></i><i style="background:linear-gradient(#0000ff,#0057ff,#00adff,#01fffe,#50ffb0,#9aff66,#dcff23,#ffde00,#ff9e00,#ff6c00,#ff4b00,#ff3700,#ff3100,#ff3700,#ff4b00,#ff6c00,#ff9e00,#ffde00,#dcff23,#9aff66,#50ffb0,#01fffe,#00adff,#0057ff,#0000ff)"></i><i style="background:linear-gradient(#0000ff,#0057ff,#00adff,#01fffe,#51ffaf,#9bff65,#dfff21,#ffdb00,#ff9900,#ff6900,#ff4800,#ff3500,#ff2f00,#ff3500,#ff4800,#ff6900,#ff9900,#ffdb00,#dfff21,#9bff65,#51ffaf,#01fffe,#00adff,#0057ff,#0000ff)"></i><i style="background:linear-gradient(#0000ff,#0057ff,#00adff,#02fffd,#51ffae,#9dff63,#e1ff1e,#ffd700,#ff9500,#ff6500,#ff4400,#ff3200,#ff2c00,#ff3200,#ff4400,#ff6500,#ff9500,#ffd700,#e1ff1e,#9dff63,#51ffae,#02fffd,#00adff,#0057ff,#0000ff)"></i><i style="background:linear-gradient(#0000ff,#0057ff,#00adff,#02fffd,#52ffae,#9eff62,#e3ff1c,#ffd300,#ff9000,#ff6100,#ff4100,#ff2f00,#ff2900,#ff2f00,#ff4100,#ff6100,#ff9000,#ffd300,#e3ff1c,#9eff62,#52ffae,#02fffd,#00adff,#0057ff,#0000ff)"></i><i style="background:linear-gradient(#0000ff,#0057ff,#00adff,#02fffd,#53ffad,#a0ff60,#e6ff19,#ffcf00,#ff8b00,#ff5c00,#ff3e00,#ff2c00,#ff2700,#ff2c00,#ff3e00,#ff5c00,#ff8b00,#ffcf00,#e6ff19,#a0ff60,#53ffad,#02fffd,#00adff,#0057ff,#0000ff)"></i><i style="background:linear-gradient(#0000ff,#0057ff,#00adff,#03fffc,#54ffac,#a1ff5e,#e9ff17,#ffca00,#ff8500,#ff5800,#ff3a00,#ff2900,#ff2400,#ff2900,#ff3a00,#ff5800,#ff8500,#ffca00,#e9ff17,#a1ff5e,#54ffac,#03fffc,#00adff,#0057ff,#0000ff)"></i><i style="background:linear-gradient(#0000ff,#0057ff,#00aeff,#03fffc,#54ffab,#a3ff5d,#ecff14,#ffc600,#ff8000,#ff5300,#ff3700,#ff2600,#ff2100,#ff2600,#ff3700,#ff5300,#ff8000,#ffc600,#ecff14,#a3ff5d,#54ffab,#03fffc,#00aeff,#0057ff,#0000ff)"></i><i style="background:linear-gradient(#0000ff,#0057ff,#00aeff,#03fffc,#55ffab,#a5ff5b,#efff10,#ffc100,#ff7a00,#ff4f00,#ff3300,#ff2300,#ff1e00,#ff2300,#ff3300,#ff4f00,#ff7a00,#ffc100,#efff10,#a5ff5b,#55ffab,#03fffc,#00aeff,#0057ff,#0000ff)"></i><i style="background:linear-gradient(#0000ff,#0057ff,#00aeff,#03fffc,#56ffaa,#a6ff59,#f2ff0d,#ffbc00,#ff7400,#ff4a00,#ff2f00,#ff2000,#ff1c00,#ff2000,#ff2f00,#ff4a00,#ff7400,#ffbc00,#f2ff0d,#a6ff59,#56ffaa,#03fffc,#00aeff,#0057ff,#0000ff)"></i><i style="background:linear-gradient(#0000ff,#0057ff,#00aeff,#04fffb,#57ffa9,#a8ff57,#f5ff0a,#ffb700,#ff6d00,#ff4500,#ff2b00,#ff1d00,#ff1800,#ff1d00,#ff2b00,#ff4500,#ff6d00,#ffb700,#f5ff0a,#a8ff57,#57ffa9,#04fffb,#00aeff,#0057ff,#0000ff)"></i><i style="background:linear-gradient(#0000ff,#0057ff,#00aeff,#04fffb,#57ffa8,#aaff56,#f9ff06,#ffb100,#ff6700,#ff4000,#ff2800,#ff1a00,#ff1500,#ff1a00,#ff2800,#ff4000,#ff6700,#ffb100,#f9ff06,#aaff56,#57ffa8,#04fffb,#00aeff,#0057ff,#0000ff)"></i><i style="background:linear-gradient(#0000ff,#0057ff,#00aeff,#04fffb,#58ffa7,#acff54,#fcff03,#ffab00,#ff6100,#ff3b00,#ff2400,#ff1700,#ff1200,#ff1700,#ff2400,#ff3b00,#ff6100,#ffab00,#fcff03,#acff54,#58ffa7,#04fffb,#00aeff,#0057ff,#0000ff)"></i><i style="background:linear-gradient(#0000ff,#0057ff,#00aeff,#05fffa,#59ffa6,#aeff51,#fffe00,#ffa600,#ff5a00,#ff3600,#ff2000,#ff1300,#ff0f00,#ff1300,#ff2000,#ff3600,#ff5a00,#ffa600,#fffe00,#aeff51,#59ffa6,#05fffa,#00aeff,#0057ff,#0000ff)"></i><i style="background:linear-gradient(#0000ff,#0057ff,#00aeff,#05fffa,#5affa5,#b0ff4f,#fff900,#ff9f00,#ff5300,#ff3000,#ff1b00,#ff0f00,#ff0b00,#ff0f00,#ff1b00,#ff3000,#ff5300,#ff9f00,#fff900,#b0ff4f,#5affa5,#05fffa,#00aeff,#0057ff,#0000ff)"></i><i style="background:linear-gradient(#0000ff,#0057ff,#00aeff,#06fff9,#5cffa4,#b3ff4c,#fff500,#ff9900,#ff4c00,#ff2a00,#ff1700,#ff0b00,#ff0700,#ff0b00,#ff1700,#ff2a00,#ff4c00,#ff9900,#fff500,#b3ff4c,#5cffa4,#06fff9,#00aeff,#0057ff,#0000ff)"></i><i style="background:linear-gradient(#0000ff,#0057ff,#00afff,#07fff8,#5dffa2,#b6ff4a,#ffef00,#ff9100,#ff4400,#ff2400,#ff1100,#ff0600,#ff0200,#ff0600,#ff1100,#ff2400,#ff4400,#ff9100,#ffef00,#b6ff4a,#5dffa2,#07fff8,#00afff,#0057ff,#0000ff)"></i><i style="background:linear-gradient(#0000ff,#0057ff,#00afff,#08fff7,#5fffa1,#b9ff47,#ffea00,#ff8a00,#ff3c00,#ff1e00,#ff0c00,#ff0100,#fe0000,#ff0100,#ff0c00,#ff1e00,#ff3c00,#ff8a00,#ffea00,#b9ff47,#5fffa1,#08fff7,#00afff,#0057ff,#0000ff)"></i><i style="background:linear-gradient(#0000ff,#0058ff,#00b0ff,#09fff6,#61ff9f,#bcff44,#ffe500,#ff8300,#ff3500,#ff1800,#ff0700,#fe0000,#fd0000,#fe0000,#ff0700,#ff1800,#ff3500,#ff8300,#ffe500,#bcff44,#61ff9f,#09fff6,#00b0ff,#0058ff,#0000ff)"></i><i style="background:linear-gradient(#0000ff,#0058ff,#00b0ff,#0afff6,#62ff9e,#bfff41,#ffe000,#ff7c00,#ff2e00,#ff1300,#ff0200,#fc0000,#fb0000,#fc0000,#ff0200,#ff1300,#ff2e00,#ff7c00,#ffe000,#bfff41,#62ff9e,#0afff6,#00b0ff,#0058ff,#0000ff)"></i><i style="background:linear-gradient(#0000ff,#0058ff,#00b0ff,#0afff5,#64ff9c,#c1ff3e,#ffdb00,#ff7600,#ff2800,#ff0e00,#fe0000,#fb0000,#fa0000,#fb0000,#fe0000,#ff0e00,#ff2800,#ff7600,#ffdb00,#c1ff3e,#64ff9c,#0afff5,#00b0ff,#0058ff,#0000ff)"></i><i style="background:linear-gradient(#0000ff,#0058ff,#00b1ff,#0bfff4,#65ff9b,#c4ff3c,#ffd600,#ff7000,#ff2200,#ff0900,#fd0000,#f90000,#f80000,#f90000,#fd0000,#ff0900,#ff2200,#ff7000,#ffd600,#c4ff3c,#65ff9b,#0bfff4,#00b1ff,#0058ff,#0000ff)"></i><i style="background:linear-gradient(#0000ff,#0058ff,#00b1ff,#0cfff3,#66ff9a,#c5ff3a,#ffd200,#ff6b00,#ff1e00,#ff0500,#fc0000,#f80000,#f70000,#f80000,#fc0000,#ff0500,#ff1e00,#ff6b00,#ffd200,#c5ff3a,#66ff9a,#0cfff3,#00b1ff,#0058ff,#0000ff)"></i><i style="background:linear-gradient(#0000ff,#0058ff,#00b1ff,#0cfff3,#67ff99,#c7ff38,#ffcf00,#ff6700,#ff1a00,#ff0100,#fa0000,#f70000,#f60000,#f70000,#fa0000,#ff0100,#ff1a00,#ff6700,#ffcf00,#c7ff38,#67ff99,#0cfff3,#00b1ff,#0058ff,#0000ff)"></i><i style="background:linear-gradient(#0000ff,#0058ff,#00b2ff,#0dfff2,#68ff98,#c9ff36,#ffcb00,#ff6200,#ff1600,#fe0000,#f90000,#f60000,#f50000,#f60000,#f90000,#fe0000,#ff1600,#ff6200,#ffcb00,#c9ff36,#68ff98,#0dfff2,#00b2ff,#0058ff,#0000ff)"></i><i style="background:linear-gradient(#0000ff,#0058ff,#00b2ff,#0dfff2,#69ff97,#cbff34,#ffc800,#ff5e00,#ff1200,#fd0000,#f80000,#f50000,#f40000,#f50000,#f80000,#fd0000,#ff1200,#ff5e00,#ffc800,#cbff34,#69ff97,#0dfff2,#00b2ff,#0058ff,#0000ff)"></i><i style="background:linear-gradient(#0000ff,#0059ff,#00b2ff,#0efff1,#6aff96,#cdff33,#ffc500,#ff5a00,#ff0e00,#fc0000,#f70000,#f40000,#f30000,#f40000,#f70000,#fc0000,#ff0e00,#ff5a00,#ffc500,#cdff33,#6aff96,#0efff1,#00b2ff,#0059ff,#0000ff)"></i><i style="background:linear-gradient(#0000ff,#0059ff,#00b3ff,#0ffff0,#6bff94,#ceff31,#ffc200,#ff5700,#ff0b00,#fb0000,#f60000,#f40000,#f30000,#f40000,#f60000,#fb0000,#ff0b00,#ff5700,#ffc200,#ceff31,#6bff94,#0ffff0,#00b3ff,#0059ff,#0000ff)"></i><i style="background:linear-gradient(#0000ff,#0059ff,#00b3ff,#10ffef,#6cff93,#d0ff30,#ffc000,#ff5500,#ff0900,#fa0000,#f60000,#f30000,#f20000,#f30000,#f60000,#fa0000,#ff0900,#ff5500,#ffc000,#d0ff30,#6cff93,#10ffef,#00b3ff,#0059ff,#0000ff)"></i><i style="background:linear-gradient(#0000ff,#0059ff,#00b4ff,#10ffef,#6dff92,#d1ff2e,#ffbe00,#ff5200,#ff0700,#fa0000,#f50000,#f20000,#f10000,#f20000,#f50000,#fa0000,#ff0700,#ff5200,#ffbe00,#d1ff2e,#6dff92,#10ffef,#00b4ff,#0059ff,#0000ff)"></i><i style="background:linear-gradient(#0000ff,#0059ff,#00b4ff,#11ffee,#6eff92,#d2ff2d,#ffbc00,#ff5100,#ff0500,#f90000,#f40000,#f20000,#f10000,#f20000,#f40000,#f90000,#ff0500,#ff5100,#ffbc00,#d2ff2d,#6eff92,#11ffee,#00b4ff,#0059ff,#0000ff)"></i><i style="background:linear-gradient(#0000ff,#005aff,#00b4ff,#11ffee,#6fff91,#d3ff2d,#ffbb00,#ff5000,#ff0400,#f90000,#f40000,#f10000,#f00000,#f10000,#f40000,#f90000,#ff0400,#ff5000,#ffbb00,#d3ff2d,#6fff91,#11ffee,#00b4ff,#005aff,#0000ff)"></i><i style="background:linear-gradient(#0000ff,#005aff,#00b5ff,#12ffee,#6fff91,#d3ff2c,#ffba00,#ff4f00,#ff0400,#f80000,#f40000,#f10000,#f00000,#f10000,#f40000,#f80000,#ff0400,#ff4f00,#ffba00,#d3ff2c,#6fff91,#12ffee,#00b5ff,#005aff,#0000ff)"></i><i style="background:linear-gradient(#0000ff,#005aff,#00b5ff,#12ffee,#6fff91,#d3ff2c,#ffba00,#ff4f00,#ff0400,#f80000,#f40000,#f10000,#f00000,#f10000,#f40000,#f80000,#ff0400,#ff4f00,#ffba00,#d3ff2c,#6fff91,#12ffee,#00b5ff,#005aff,#0000ff)"></i><i style="background:linear-gradient(#0000ff,#005aff,#00b5ff,#12ffee,#6fff91,#d3ff2c,#ffba00,#ff4f00,#ff0400,#f80000,#f40000,#f10000,#f00000,#f10000,#f40000,#f80000,#ff0400,#ff4f00,#ffba00,#d3ff2c,#6fff91,#12ffee,#00b5ff,#005aff,#0000ff)"></i><i style="background:linear-gradient(#0000ff,#005aff,#00b5ff,#12ffee,#6fff91,#d3ff2c,#ffba00,#ff4f00,#ff0400,#f80000,#f40000,#f10000,#f00000,#f10000,#f40000,#f80000,#ff0400,#ff4f00,#ffba00,#d3ff2c,#6fff91,#12ffee,#00b5ff,#005aff,#0000ff)"></i><i style="background:linear-gradient(#0000ff,#005aff,#00b5ff,#12ffee,#6fff91,#d3ff2c,#ffba00,#ff4f00,#ff0400,#f80000,#f40000,#f10000,#f00000,#f10000,#f40000,#f80000,#ff0400,#ff4f00,#ffba00,#d3ff2c,#6fff91,#12ffee,#00b5ff,#005aff,#0000ff)"></i><i style="background:linear-gradient(#0000ff,#005aff,#00b5ff,#12ffee,#6fff91,#d3ff2c,#ffba00,#ff4f00,#ff0400,#f80000,#f40000,#f10000,#f00000,#f10000,#f40000,#f80000,#ff0400,#ff4f00,#ffba00,#d3ff2c,#6fff91,#12ffee,#00b5ff,#005aff,#0000ff)"></i><i style="background:linear-gradient(#0000ff,#005aff,#00b5ff,#12ffee,#6fff91,#d3ff2c,#ffba00,#ff4f00,#ff0400,#f80000,#f40000,#f10000,#f00000,#f10000,#f40000,#f80000,#ff0400,#ff4f00,#ffba00,#d3ff2c,#6fff91,#12ffee,#00b5ff,#005aff,#0000ff)"></i><i style="background:linear-gradient(#0000ff,#005aff,#00b5ff,#12ffee,#6fff91,#d3ff2c,#ffba00,#ff4f00,#ff0400,#f80000,#f40000,#f10000,#f00000,#f10000,#f40000,#f80000,#ff0400,#ff4f00,#ffba00,#d3ff2c,#6fff91,#12ffee,#00b5ff,#005aff,#0000ff)"></i><i style="background:linear-gradient(#0000ff,#005aff,#00b5ff,#12ffee,#6fff91,#d3ff2c,#ffba00,#ff4f00,#ff0400,#f80000,#f40000,#f10000,#f00000,#f10000,#f40000,#f80000,#ff0400,#ff4f00,#ffba00,#d3ff2c,#6fff91,#12ffee,#00b5ff,#005aff,#0000ff)"></i><i style="background:linear-gradient(#0000ff,#005aff,#00b5ff,#12ffee,#6fff91,#d3ff2c,#ffba00,#ff4f00,#ff0400,#f80000,#f40000,#f10000,#f00000,#f10000,#f40000,#f80000,#ff0400,#ff4f00,#ffba00,#d3ff2c,#6fff91,#12ffee,#00b5ff,#005aff,#0000ff)"></i><i style="background:linear-gradient(#0000ff,#005aff,#00b5ff,#12ffee,#6fff91,#d3ff2c,#ffba00,#ff4f00,#ff0400,#f80000,#f40000,#f10000,#f00000,#f10000,#f40000,#f80000,#ff0400,#ff4f00,#ffba00,#d3ff2c,#6fff91,#12ffee,#00b5ff,#005aff,#0000ff)"></i><i style="background:linear-gradient(#0000ff,#005aff,#00b5ff,#11ffee,#6fff91,#d3ff2d,#ffbb00,#ff4f00,#ff0400,#f90000,#f40000,#f10000,#f00000,#f10000,#f40000,#f90000,#ff0400,#ff4f00,#ffbb00,#d3ff2d,#6fff91,#11ffee,#00b5ff,#005aff,#0000ff)"></i><i style="background:linear-gradient(#0000ff,#0059ff,#00b4ff,#11ffef,#6eff92,#d1ff2e,#ffbd00,#ff5200,#ff0700,#f90000,#f50000,#f20000,#f10000,#f20000,#f50000,#f90000,#ff0700,#ff5200,#ffbd00,#d1ff2e,#6eff92,#11ffef,#00b4ff,#0059ff,#0000ff)"></i><i style="background:linear-gradient(#0000ff,#0059ff,#00b3ff,#0ffff0,#6bff95,#ceff31,#ffc200,#ff5700,#ff0b00,#fb0000,#f60000,#f40000,#f30000,#f40000,#f60000,#fb0000,#ff0b00,#ff5700,#ffc200,#ceff31,#6bff95,#0ffff0,#00b3ff,#0059ff,#0000ff)"></i><i style="background:linear-gradient(#0000ff,#0058ff,#00b1ff,#0dfff3,#68ff98,#caff35,#ffc800,#ff5e00,#ff1100,#fd0000,#f80000,#f60000,#f50000,#f60000,#f80000,#fd0000,#ff1100,#ff5e00,#ffc800,#caff35,#68ff98,#0dfff3,#00b1ff,#0058ff,#0000ff)"></i><i style="background:linear-gradient(#0000ff,#0057ff,#00afff,#0afff5,#65ff9b,#c6ff3a,#ffcf00,#ff6600,#ff1800,#ff0100,#fb0000,#f80000,#f70000,#f80000,#fb0000,#ff0100,#ff1800,#ff6600,#ffcf00,#c6ff3a,#65ff9b,#0afff5,#00afff,#0057ff,#0000ff)"></i><i style="background:linear-gradient(#0000ff,#0056ff,#00adff,#07fff8,#60ff9f,#c1ff3f,#ffd800,#ff6f00,#ff2100,#ff0a00,#fe0000,#fb0000,#fa0000,#fb0000,#fe0000,#ff0a00,#ff2100,#ff6f00,#ffd800,#c1ff3f,#60ff9f,#07fff8,#00adff,#0056ff,#0000ff)"></i><i style="background:linear-gradient(#0000ff,#0055ff,#00abff,#04fffb,#5cffa3,#bbff44,#ffe000,#ff7900,#ff2a00,#ff1300,#ff0500,#fe0000,#fd0000,#fe0000,#ff0500,#ff1300,#ff2a00,#ff7900,#ffe000,#bbff44,#5cffa3,#04fffb,#00abff,#0055ff,#0000ff)"></i><i style="background:linear-gradient(#0000ff,#0054ff,#00aaff,#01fffe,#58ffa7,#b6ff4a,#ffe900,#ff8400,#ff3400,#ff1c00,#ff0e00,#ff0600,#ff0300,#ff0600,#ff0e00,#ff1c00,#ff3400,#ff8400,#ffe900,#b6ff4a,#58ffa7,#01fffe,#00aaff,#0054ff,#0000ff)"></i><i style="background:linear-gradient(#0000ff,#0054ff,#00a8ff,#00fdff,#54ffab,#b0ff4f,#fff200,#ff9000,#ff3f00,#ff2600,#ff1700,#ff0f00,#ff0c00,#ff0f00,#ff1700,#ff2600,#ff3f00,#ff9000,#fff200,#b0ff4f,#54ffab,#00fdff,#00a8ff,#0054ff,#0000ff)"></i><i style="background:linear-gradient(#0000ff,#0053ff,#00a7ff,#00fbff,#51ffaf,#abff54,#fffa00,#ff9a00,#ff4a00,#ff2f00,#ff2000,#ff1700,#ff1400,#ff1700,#ff2000,#ff2f00,#ff4a00,#ff9a00,#fffa00,#abff54,#51ffaf,#00fbff,#00a7ff,#0053ff,#0000ff)"></i><i style="background:linear-gradient(#0000ff,#0052ff,#00a5ff,#00f9ff,#4effb2,#a6ff5a,#fcff03,#ffa600,#ff5700,#ff3a00,#ff2900,#ff2000,#ff1d00,#ff2000,#ff2900,#ff3a00,#ff5700,#ffa600,#fcff03,#a6ff5a,#4effb2,#00f9ff,#00a5ff,#0052ff,#0000ff)"></i><i style="background:linear-gradient(#0000ff,#0052ff,#00a4ff,#00f6ff,#4affb6,#a0ff5f,#f3ff0c,#ffb300,#ff6400,#ff4600,#ff3400,#ff2900,#ff2600,#ff2900,#ff3400,#ff4600,#ff6400,#ffb300,#f3ff0c,#a0ff5f,#4affb6,#00f6ff,#00a4ff,#0052ff,#0000ff)"></i><i style="background:linear-gradient(#0000ff,#0051ff,#00a3ff,#00f4ff,#46ffb9,#9aff65,#eaff15,#ffc000,#ff7300,#ff5300,#ff4000,#ff3400,#ff3000,#ff3400,#ff4000,#ff5300,#ff7300,#ffc000,#eaff15,#9aff65,#46ffb9,#00f4ff,#00a3ff,#0051ff,#0000ff)"></i><i style="background:linear-gradient(#0000ff,#0050ff,#00a1ff,#00f1ff,#42ffbd,#94ff6c,#e1ff1e,#ffcd00,#ff8300,#ff6100,#ff4c00,#ff4000,#ff3c00,#ff4000,#ff4c00,#ff6100,#ff8300,#ffcd00,#e1ff1e,#94ff6c,#42ffbd,#00f1ff,#00a1ff,#0050ff,#0000ff)"></i><i style="background:linear-gradient(#0000ff,#0050ff,#009fff,#00efff,#3effc1,#8eff72,#d9ff27,#ffdb00,#ff9300,#ff7000,#ff5900,#ff4c00,#ff4800,#ff4c00,#ff5900,#ff7000,#ff9300,#ffdb00,#d9ff27,#8eff72,#3effc1,#00efff,#009fff,#0050ff,#0000ff)"></i><i style="background:linear-gradient(#0000ff,#004fff,#009eff,#00ecff,#3affc6,#88ff78,#d0ff30,#ffe800,#ffa300,#ff7f00,#ff6700,#ff5900,#ff5400,#ff5900,#ff6700,#ff7f00,#ffa300,#ffe800,#d0ff30,#88ff78,#3affc6,#00ecff,#009eff,#004fff,#0000ff)"></i><i style="background:linear-gradient(#0000ff,#004eff,#009cff,#00e9ff,#35ffca,#81ff7f,#c7ff38,#fff600,#ffb400,#ff8f00,#ff7600,#ff6700,#ff6200,#ff6700,#ff7600,#ff8f00,#ffb400,#fff600,#c7ff38,#81ff7f,#35ffca,#00e9ff,#009cff,#004eff,#0000ff)"></i><i style="background:linear-gradient(#0000ff,#004dff,#009aff,#00e6ff,#31ffce,#7aff86,#beff42,#fbff04,#ffc500,#ff9f00,#ff8500,#ff7500,#ff7000,#ff7500,#ff8500,#ff9f00,#ffc500,#fbff04,#beff42,#7aff86,#31ffce,#00e6ff,#009aff,#004dff,#0000ff)"></i><i style="background:linear-gradient(#0000ff,#004cff,#0098ff,#00e3ff,#2cffd3,#73ff8d,#b5ff4b,#efff10,#ffd500,#ffaf00,#ff9400,#ff8400,#ff7e00,#ff8400,#ff9400,#ffaf00,#ffd500,#efff10,#b5ff4b,#73ff8d,#2cffd3,#00e3ff,#0098ff,#004cff,#0000ff)"></i><i style="background:linear-gradient(#0000ff,#004bff,#0096ff,#00dfff,#27ffd8,#6cff94,#abff54,#e2ff1d,#ffe600,#ffc000,#ffa500,#ff9400,#ff8e00,#ff9400,#ffa500,#ffc000,#ffe600,#e2ff1d,#abff54,#6cff94,#27ffd8,#00dfff,#0096ff,#004bff,#0000ff)"></i><i style="background:linear-gradient(#0000ff,#004aff,#0094ff,#00dcff,#22ffde,#64ff9b,#a1ff5f,#d6ff29,#fff700,#ffd100,#ffb600,#ffa500,#ff9f00,#ffa500,#ffb600,#ffd100,#fff700,#d6ff29,#a1ff5f,#64ff9b,#22ffde,#00dcff,#0094ff,#004aff,#0000ff)"></i><i style="background:linear-gradient(#0000ff,#0049ff,#0091ff,#00d7ff,#1cffe4,#5cffa4,#97ff69,#caff36,#f7ff08,#ffe300,#ffc800,#ffb700,#ffb100,#ffb700,#ffc800,#ffe300,#f7ff08,#caff36,#97ff69,#5cffa4,#1cffe4,#00d7ff,#0091ff,#0049ff,#0000ff)"></i><i style="background:linear-gradient(#0000ff,#0047ff,#008eff,#00d2ff,#15ffeb,#53ffad,#8bff75,#bcff43,#e6ff19,#fff600,#ffdc00,#ffcb00,#ffc500,#ffcb00,#ffdc00,#fff600,#e6ff19,#bcff43,#8bff75,#53ffad,#15ffeb,#00d2ff,#008eff,#0047ff,#0000ff)"></i><i style="background:linear-gradient(#0000ff,#0046ff,#008aff,#00cdff,#0dfff2,#48ffb7,#7fff81,#aeff52,#d5ff2a,#f5ff0a,#fff000,#ffe000,#ffda00,#ffe000,#fff000,#f5ff0a,#d5ff2a,#aeff52,#7fff81,#48ffb7,#0dfff2,#00cdff,#008aff,#0046ff,#0000ff)"></i><i style="background:linear-gradient(#0000ff,#0044ff,#0086ff,#00c7ff,#05fffa,#3effc1,#72ff8e,#9fff60,#c6ff3a,#e3ff1c,#faff05,#fff500,#fff000,#fff500,#faff05,#e3ff1c,#c6ff3a,#9fff60,#72ff8e,#3effc1,#05fffa,#00c7ff,#0086ff,#0044ff,#0000ff)"></i><i style="background:linear-gradient(#0000ff,#0042ff,#0082ff,#00c1ff,#00fcff,#34ffcb,#66ff9a,#92ff6e,#b6ff49,#d3ff2c,#e8ff17,#f6ff09,#fbff04,#f6ff09,#e8ff17,#d3ff2c,#b6ff49,#92ff6e,#66ff9a,#34ffcb,#00fcff,#00c1ff,#0082ff,#0042ff,#0000ff)"></i><i style="background:linear-gradient(#0000ff,#0040ff,#007fff,#00bbff,#00f5ff,#2bffd4,#5bffa4,#86ff7a,#a9ff57,#c5ff3a,#d9ff26,#e6ff19,#ebff15,#e6ff19,#d9ff26,#c5ff3a,#a9ff57,#86ff7a,#5bffa4,#2bffd4,#00f5ff,#00bbff,#007fff,#0040ff,#0000ff)"></i><i style="background:linear-gradient(#0000ff,#003eff,#007bff,#00b6ff,#00eeff,#23ffdd,#52ffae,#7bff85,#9dff63,#b8ff47,#ccff33,#d8ff27,#dcff23,#d8ff27,#ccff33,#b8ff47,#9dff63,#7bff85,#52ffae,#23ffdd,#00eeff,#00b6ff,#007bff,#003eff,#0000ff)"></i><i style="background:linear-gradient(#0000ff,#003cff,#0077ff,#00b1ff,#00e7ff,#1affe5,#47ffb8,#6fff91,#91ff6f,#abff54,#bfff41,#caff35,#ceff31,#caff35,#bfff41,#abff54,#91ff6f,#6fff91,#47ffb8,#1affe5,#00e7ff,#00b1ff,#0077ff,#003cff,#0000ff)"></i><i style="background:linear-gradient(#0000ff,#003aff,#0073ff,#00aaff,#00deff,#10ffef,#3cffc4,#62ff9e,#82ff7e,#9cff64,#afff51,#baff46,#beff42,#baff46,#afff51,#9cff64,#82ff7e,#62ff9e,#3cffc4,#10ffef,#00deff,#00aaff,#0073ff,#003aff,#0000ff)"></i><i style="background:linear-gradient(#0000ff,#0037ff,#006eff,#00a2ff,#00d4ff,#03fffc,#2dffd2,#52ffae,#70ff8f,#89ff77,#9bff65,#a5ff5a,#a9ff57,#a5ff5a,#9bff65,#89ff77,#70ff8f,#52ffae,#2dffd2,#03fffc,#00d4ff,#00a2ff,#006eff,#0037ff,#0000ff)"></i><i style="background:linear-gradient(#0000ff,#0034ff,#0067ff,#0099ff,#00c8ff,#00f3ff,#1cffe4,#3effc1,#5bffa5,#72ff8e,#83ff7d,#8dff73,#91ff6f,#8dff73,#83ff7d,#72ff8e,#5bffa5,#3effc1,#1cffe4,#00f3ff,#00c8ff,#0099ff,#0067ff,#0034ff,#0000ff)"></i><i style="background:linear-gradient(#0000ff,#0031ff,#0060ff,#008eff,#00baff,#00e2ff,#08fff7,#28ffd7,#43ffbc,#59ffa7,#68ff97,#72ff8e,#75ff8b,#72ff8e,#68ff97,#59ffa7,#43ffbc,#28ffd7,#08fff7,#00e2ff,#00baff,#008eff,#0060ff,#0031ff,#0000ff)"></i><i style="background:linear-gradient(#0000ff,#002cff,#0058ff,#0082ff,#00aaff,#00cfff,#00f1ff,#0ffff0,#28ffd7,#3cffc4,#4affb5,#53ffad,#56ffaa,#53ffad,#4affb5,#3cffc4,#28ffd7,#0ffff0,#00f1ff,#00cfff,#00aaff,#0082ff,#0058ff,#002cff,#0000ff)"></i><i style="background:linear-gradient(#0000ff,#0028ff,#004fff,#0075ff,#0099ff,#00bbff,#00d9ff,#00f3ff,#0afff5,#1cffe3,#29ffd6,#31ffce,#34ffcc,#31ffce,#29ffd6,#1cffe3,#0afff5,#00f3ff,#00d9ff,#00bbff,#0099ff,#0075ff,#004fff,#0028ff,#0000ff)"></i><i style="background:linear-gradient(#0000ff,#0023ff,#0046ff,#0067ff,#0087ff,#00a5ff,#00bfff,#00d6ff,#00eaff,#00faff,#06fff9,#0dfff2,#0ffff0,#0dfff2,#06fff9,#00faff,#00eaff,#00d6ff,#00bfff,#00a5ff,#0087ff,#0067ff,#0046ff,#0023ff,#0000ff)"></i><i style="background:linear-gradient(#0000ff,#001eff,#003cff,#0059ff,#0074ff,#008eff,#00a5ff,#00b9ff,#00caff,#00d7ff,#00e1ff,#00e7ff,#00e9ff,#00e7ff,#00e1ff,#00d7ff,#00caff,#00b9ff,#00a5ff,#008eff,#0074ff,#0059ff,#003cff,#001eff,#0000ff)"></i><i style="background:linear-gradient(#0000ff,#0019ff,#0032ff,#0049ff,#0060ff,#0075ff,#0088ff,#0098ff,#00a6ff,#00b1ff,#00baff,#00beff,#00c0ff,#00beff,#00baff,#00b1ff,#00a6ff,#0098ff,#0088ff,#0075ff,#0060ff,#0049ff,#0032ff,#0019ff,#0000ff)"></i><i style="background:linear-gradient(#0000ff,#0014ff,#0027ff,#003aff,#004bff,#005cff,#006aff,#0077ff,#0082ff,#008bff,#0091ff,#0095ff,#0097ff,#0095ff,#0091ff,#008bff,#0082ff,#0077ff,#006aff,#005cff,#004bff,#003aff,#0027ff,#0014ff,#0000ff)"></i><i style="background:linear-gradient(#0000ff,#000eff,#001dff,#002aff,#0037ff,#0043ff,#004eff,#0057ff,#005fff,#0066ff,#006aff,#006dff,#006eff,#006dff,#006aff,#0066ff,#005fff,#0057ff,#004eff,#0043ff,#0037ff,#002aff,#001dff,#000eff,#0000ff)"></i><i style="background:linear-gradient(#0000ff,#0009ff,#0011ff,#001aff,#0022ff,#0029ff,#0030ff,#0036ff,#003aff,#003eff,#0041ff,#0043ff,#0043ff,#0043ff,#0041ff,#003eff,#003aff,#0036ff,#0030ff,#0029ff,#0022ff,#001aff,#0011ff,#0009ff,#0000ff)"></i><i style="background:linear-gradient(#0000ff,#0004ff,#0009ff,#000dff,#0011ff,#0015ff,#0018ff,#001bff,#001dff,#001fff,#0021ff,#0022ff,#0022ff,#0022ff,#0021ff,#001fff,#001dff,#001bff,#0018ff,#0015ff,#0011ff,#000dff,#0009ff,#0004ff,#0000ff)"></i><i style="background:linear-gradient(#0000ff,#0002ff,#0004ff,#0005ff,#0007ff,#0008ff,#000aff,#000bff,#000cff,#000dff,#000dff,#000eff,#000eff,#000eff,#000dff,#000dff,#000cff,#000bff,#000aff,#0008ff,#0007ff,#0005ff,#0004ff,#0002ff,#0000ff)"></i><i style="flex-basis:0.7px;background:linear-gradient(#0000ff,#0000ff,#0001ff,#0001ff,#0001ff,#0001ff,#0002ff,#0002ff,#0002ff,#0002ff,#0002ff,#0002ff,#0002ff,#0002ff,#0002ff,#0002ff,#0002ff,#0002ff,#0002ff,#0001ff,#0001ff,#0001ff,#0001ff,#0000ff,#0000ff)"></i></div>
<div class="hm" style="left:182px;top:381.5px;width:128.3px;height:62.9px"><i style="background:linear-gradient(#0000ff,#0028ff,#005bff,#0091ff,#00c8ff,#00fdff,#30ffcf,#5dffa3,#84ff7c,#a3ff5d,#b9ff46,#c7ff38,#ccff33,#c7ff38,#b9ff46,#a3ff5d,#84ff7c,#5dffa3,#30ffcf,#00fdff,#00c8ff,#0091ff,#005bff,#0028ff,#0000ff)"></i><i style="background:linear-gradient(#0000ff,#0028ff,#005bff,#0091ff,#00c8ff,#00fdff,#30ffcf,#5dffa3,#84ff7c,#a3ff5d,#baff46,#c7ff38,#ccff33,#c8ff38,#baff46,#a3ff5d,#84ff7c,#5dffa2,#30ffcf,#00feff,#00c8ff,#0091ff,#005bff,#0028ff,#0000ff)"></i><i style="background:linear-gradient(#0000ff,#0028ff,#005bff,#0091ff,#00c8ff,#00fdff,#30ffcf,#5dffa2,#84ff7c,#a3ff5d,#baff46,#c8ff38,#ccff33,#c8ff38,#baff46,#a3ff5d,#84ff7c,#5effa2,#31ffcf,#00feff,#00c8ff,#0091ff,#005bff,#0028ff,#0000ff)"></i><i style="background:linear-gradient(#0000ff,#0028ff,#005bff,#0091ff,#00c8ff,#00feff,#31ffcf,#5effa2,#84ff7c,#a3ff5c,#baff45,#c8ff37,#cdff33,#c8ff37,#baff45,#a4ff5c,#85ff7b,#5effa2,#31ffce,#00feff,#00c9ff,#0092ff,#005bff,#0028ff,#0000ff)"></i><i style="background:linear-gradient(#0000ff,#0028ff,#005bff,#0092ff,#00c9ff,#00feff,#31ffce,#5effa2,#85ff7b,#a4ff5c,#bbff45,#c9ff37,#cdff32,#c9ff37,#bbff45,#a4ff5c,#85ff7b,#5fffa1,#32ffce,#00ffff,#00c9ff,#0092ff,#005bff,#0028ff,#0000ff)"></i><i style="background:linear-gradient(#0000ff,#0028ff,#005bff,#0092ff,#00c9ff,#00feff,#31ffce,#5effa1,#85ff7b,#a4ff5b,#bbff44,#c9ff36,#ceff31,#c9ff36,#bbff44,#a5ff5b,#86ff7a,#5fffa1,#32ffcd,#00ffff,#00caff,#0092ff,#005cff,#0028ff,#0000ff)"></i><i style="background:linear-gradient(#0000ff,#0028ff,#005bff,#0092ff,#00c9ff,#00ffff,#32ffce,#5fffa1,#86ff7a,#a5ff5b,#bcff44,#caff36,#cfff31,#caff35,#bcff43,#a5ff5a,#86ff79,#60ffa0,#33ffcd,#01fffe,#00caff,#0093ff,#005cff,#0029ff,#0000ff)"></i><i style="background:linear-gradient(#0000ff,#0028ff,#005cff,#0092ff,#00caff,#00ffff,#32ffcd,#60ffa0,#86ff7a,#a6ff5a,#bdff43,#cbff35,#cfff30,#cbff35,#bdff42,#a6ff59,#87ff79,#61ff9f,#33ffcc,#01fffe,#00cbff,#0093ff,#005cff,#0029ff,#0000ff)"></i><i style="background:linear-gradient(#0000ff,#0029ff,#005cff,#0093ff,#00caff,#01fffe,#33ffcc,#60ff9f,#87ff79,#a6ff59,#bdff42,#cbff34,#d0ff2f,#ccff34,#beff42,#a7ff58,#88ff78,#61ff9e,#34ffcb,#02fffd,#00cbff,#0094ff,#005dff,#0029ff,#0000ff)"></i><i style="background:linear-gradient(#0000ff,#0029ff,#005cff,#0093ff,#00cbff,#01fffe,#34ffcc,#61ff9f,#88ff78,#a7ff58,#beff41,#ccff33,#d1ff2e,#cdff33,#bfff41,#a8ff57,#89ff77,#62ff9d,#35ffca,#03fffc,#00ccff,#0094ff,#005dff,#0029ff,#0000ff)"></i><i style="background:linear-gradient(#0000ff,#0029ff,#005dff,#0094ff,#00cbff,#02fffd,#35ffcb,#62ff9e,#89ff77,#a8ff57,#bfff40,#cdff32,#d2ff2d,#ceff32,#c0ff3f,#a9ff56,#8aff76,#63ff9c,#36ffc9,#04fffb,#00cdff,#0095ff,#005dff,#0029ff,#0000ff)"></i><i style="background:linear-gradient(#0000ff,#0029ff,#005dff,#0094ff,#00ccff,#03fffc,#35ffca,#63ff9d,#8aff76,#a9ff56,#c0ff3f,#cfff31,#d3ff2c,#cfff30,#c1ff3e,#aaff55,#8bff75,#64ff9b,#37ffc8,#05fffb,#00cdff,#0096ff,#005eff,#002aff,#0000ff)"></i><i style="background:linear-gradient(#0000ff,#0029ff,#005dff,#0095ff,#00cdff,#04fffb,#36ffc9,#64ff9c,#8bff75,#aaff55,#c1ff3e,#d0ff30,#d5ff2b,#d0ff2f,#c2ff3d,#acff54,#8cff74,#66ff9a,#38ffc7,#05fffa,#00ceff,#0096ff,#005eff,#002aff,#0000ff)"></i><i style="background:linear-gradient(#0000ff,#002aff,#005eff,#0095ff,#00cdff,#04fffb,#37ffc8,#65ff9b,#8cff74,#abff54,#c3ff3d,#d1ff2e,#d6ff29,#d1ff2e,#c4ff3c,#adff53,#8eff72,#67ff99,#39ffc6,#06fff9,#00cfff,#0097ff,#005fff,#002aff,#0000ff)"></i><i style="background:linear-gradient(#0000ff,#002aff,#005eff,#0096ff,#00ceff,#05fffa,#38ffc7,#66ff9a,#8dff73,#adff53,#c4ff3c,#d2ff2d,#d7ff28,#d3ff2d,#c5ff3b,#aeff52,#8fff71,#68ff98,#3affc5,#07fff8,#00d0ff,#0098ff,#005fff,#002aff,#0000ff)"></i><i style="background:linear-gradient(#0000ff,#002aff,#005fff,#0097ff,#00cfff,#06fff9,#39ffc6,#67ff99,#8eff72,#aeff52,#c5ff3a,#d4ff2c,#d9ff27,#d4ff2b,#c6ff39,#afff50,#90ff70,#69ff97,#3bffc4,#09fff7,#00d1ff,#0098ff,#0060ff,#002bff,#0000ff)"></i><i style="background:linear-gradient(#0000ff,#002aff,#005fff,#0097ff,#00d0ff,#07fff8,#3affc5,#68ff98,#8fff70,#afff50,#c7ff39,#d5ff2a,#daff25,#d6ff2a,#c8ff38,#b1ff4f,#91ff6e,#6aff95,#3dffc3,#0afff5,#00d2ff,#0099ff,#0061ff,#002bff,#0000ff)"></i><i style="background:linear-gradient(#0000ff,#002bff,#0060ff,#0098ff,#00d0ff,#08fff7,#3bffc4,#69ff97,#91ff6f,#b0ff4f,#c8ff38,#d6ff29,#dbff24,#d7ff28,#c9ff36,#b2ff4d,#93ff6d,#6cff94,#3effc2,#0bfff4,#00d3ff,#009aff,#0061ff,#002bff,#0000ff)"></i><i style="background:linear-gradient(#0000ff,#002bff,#0060ff,#0099ff,#00d1ff,#09fff6,#3dffc3,#6bff95,#92ff6e,#b2ff4e,#caff36,#d8ff27,#ddff22,#d9ff27,#cbff35,#b4ff4c,#95ff6b,#6dff93,#3fffc0,#0cfff3,#00d4ff,#009bff,#0062ff,#002cff,#0000ff)"></i><i style="background:linear-gradient(#0000ff,#002bff,#0061ff,#009aff,#00d3ff,#0bfff4,#3effc1,#6dff93,#94ff6c,#b4ff4c,#ccff34,#daff25,#dfff20,#dbff24,#cdff32,#b6ff4a,#97ff69,#6fff91,#41ffbe,#0efff1,#00d5ff,#009cff,#0063ff,#002cff,#0000ff)"></i><i style="background:linear-gradient(#0000ff,#002cff,#0062ff,#009bff,#00d4ff,#0cfff3,#40ffbf,#6fff91,#96ff69,#b6ff49,#ceff31,#ddff23,#e2ff1d,#ddff22,#cfff30,#b8ff47,#99ff67,#71ff8e,#43ffbc,#0ffff0,#00d7ff,#009dff,#0063ff,#002dff,#0000ff)"></i><i style="background:linear-gradient(#0000ff,#002cff,#0063ff,#009cff,#00d6ff,#0efff1,#42ffbd,#71ff8f,#99ff67,#b9ff46,#d1ff2e,#e0ff20,#e5ff1a,#e0ff1f,#d2ff2d,#bbff44,#9cff64,#74ff8c,#45ffba,#11ffee,#00d9ff,#009fff,#0064ff,#002dff,#0000ff)"></i><i style="background:linear-gradient(#0000ff,#002dff,#0063ff,#009dff,#00d7ff,#10ffef,#45ffbb,#74ff8c,#9cff64,#bcff43,#d4ff2b,#e3ff1c,#e8ff17,#e4ff1b,#d6ff2a,#beff41,#9eff61,#77ff89,#48ffb8,#14ffeb,#00daff,#00a0ff,#0065ff,#002eff,#0000ff)"></i><i style="background:linear-gradient(#0000ff,#002dff,#0064ff,#009fff,#00d9ff,#12ffed,#47ffb8,#76ff8a,#9fff61,#bfff40,#d7ff28,#e7ff19,#ecff13,#e7ff18,#d9ff26,#c2ff3e,#a2ff5e,#7aff86,#4bffb5,#16ffe9,#00dcff,#00a2ff,#0067ff,#002eff,#0000ff)"></i><i style="background:linear-gradient(#0000ff,#002eff,#0065ff,#00a0ff,#00dbff,#15ffea,#4affb6,#79ff87,#a2ff5e,#c3ff3d,#dbff24,#eaff15,#f0ff0f,#ebff14,#ddff23,#c5ff3a,#a5ff5b,#7dff83,#4effb2,#19ffe7,#00dfff,#00a3ff,#0068ff,#002fff,#0000ff)"></i><i style="background:linear-gradient(#0000ff,#002eff,#0067ff,#00a2ff,#00ddff,#17ffe8,#4dffb3,#7cff84,#a5ff5a,#c6ff39,#dfff21,#efff11,#f5ff0a,#f0ff10,#e0ff1f,#c9ff37,#a8ff57,#80ff80,#50ffaf,#1bffe4,#00e1ff,#00a5ff,#0069ff,#002fff,#0000ff)"></i><i style="background:linear-gradient(#0000ff,#002fff,#0068ff,#00a3ff,#00dfff,#1affe5,#4fffb0,#80ff80,#a9ff57,#caff36,#e3ff1d,#f3ff0c,#f9ff06,#f4ff0b,#e5ff1b,#cdff33,#acff54,#83ff7d,#54ffac,#1effe1,#00e3ff,#00a7ff,#006aff,#0030ff,#0000ff)"></i><i style="background:linear-gradient(#0000ff,#002fff,#0069ff,#00a5ff,#00e1ff,#1cffe3,#52ffad,#83ff7d,#acff53,#ceff32,#e7ff19,#f8ff08,#feff01,#f9ff06,#e9ff16,#d0ff2f,#b0ff50,#87ff79,#57ffa9,#21ffdf,#00e5ff,#00a9ff,#006bff,#0031ff,#0000ff)"></i><i style="background:linear-gradient(#0000ff,#0030ff,#006aff,#00a7ff,#00e4ff,#1fffe0,#55ffaa,#86ff7a,#b0ff50,#d1ff2e,#ebff14,#fcff03,#fffb00,#fdff02,#edff12,#d4ff2b,#b3ff4c,#8aff76,#5affa6,#23ffdc,#00e8ff,#00aaff,#006dff,#0031ff,#0000ff)"></i><i style="background:linear-gradient(#0000ff,#0031ff,#006bff,#00a9ff,#00e6ff,#22ffde,#58ffa7,#8aff76,#b3ff4c,#d5ff2a,#efff10,#fffd00,#fff600,#fffc00,#f2ff0d,#d8ff27,#b7ff48,#8eff72,#5dffa3,#26ffd9,#00eaff,#00acff,#006eff,#0032ff,#0000ff)"></i><i style="background:linear-gradient(#0000ff,#0031ff,#006dff,#00aaff,#00e8ff,#24ffdb,#5cffa4,#8dff73,#b7ff48,#d9ff26,#f4ff0b,#fff800,#fff100,#fff600,#f7ff08,#ddff23,#bbff44,#92ff6e,#61ff9f,#29ffd6,#00edff,#00aeff,#006fff,#0033ff,#0000ff)"></i><i style="background:linear-gradient(#0000ff,#0032ff,#006eff,#00acff,#00ebff,#28ffd8,#5fffa0,#91ff6f,#bcff44,#deff21,#faff06,#fff200,#ffeb00,#fff000,#fcff03,#e1ff1e,#c0ff40,#96ff6a,#64ff9b,#2dffd3,#00efff,#00b1ff,#0071ff,#0034ff,#0000ff)"></i><i style="background:linear-gradient(#0000ff,#0033ff,#006fff,#00afff,#00edff,#2bffd4,#63ff9d,#95ff6b,#c0ff3f,#e3ff1c,#ffff00,#ffeb00,#ffe400,#ffea00,#fffc00,#e7ff19,#c4ff3b,#9aff66,#68ff97,#30ffcf,#00f2ff,#00b3ff,#0073ff,#0035ff,#0000ff)"></i><i style="background:linear-gradient(#0000ff,#0034ff,#0071ff,#00b1ff,#00f1ff,#2fffd1,#67ff99,#9aff66,#c5ff3b,#e8ff17,#fff800,#ffe500,#ffdd00,#ffe300,#fff500,#ecff13,#c9ff36,#9fff61,#6dff93,#34ffcb,#00f6ff,#00b5ff,#0074ff,#0036ff,#0000ff)"></i><i style="background:linear-gradient(#0000ff,#0035ff,#0073ff,#00b4ff,#00f4ff,#32ffcd,#6cff94,#9eff61,#caff35,#eeff11,#fff200,#ffdd00,#ffd600,#ffdc00,#ffee00,#f2ff0d,#cfff31,#a4ff5c,#71ff8f,#38ffc7,#00f9ff,#00b8ff,#0076ff,#0037ff,#0000ff)"></i><i style="background:linear-gradient(#0000ff,#0036ff,#0075ff,#00b7ff,#00f7ff,#37ffc9,#70ff90,#a3ff5c,#cfff30,#f4ff0b,#ffeb00,#ffd600,#ffce00,#ffd400,#ffe700,#f9ff06,#d4ff2b,#a9ff57,#76ff8a,#3cffc3,#00fdff,#00bbff,#0079ff,#0038ff,#0000ff)"></i><i style="background:linear-gradient(#0000ff,#0037ff,#0077ff,#00baff,#00fbff,#3bffc5,#75ff8b,#a9ff57,#d5ff2b,#fbff04,#ffe300,#ffce00,#ffc700,#ffcc00,#ffe000,#ffff00,#daff26,#aeff51,#7bff85,#41ffbf,#02fffd,#00bfff,#007bff,#0039ff,#0000ff)"></i><i style="background:linear-gradient(#0000ff,#0038ff,#007aff,#00bdff,#00ffff,#3fffc0,#7aff86,#aeff52,#daff25,#fffc00,#ffdc00,#ffc600,#ffbf00,#ffc500,#ffd800,#fff800,#e0ff20,#b4ff4c,#80ff80,#46ffba,#06fff9,#00c2ff,#007eff,#003bff,#0000ff)"></i><i style="background:linear-gradient(#0000ff,#003aff,#007cff,#00c0ff,#04fffb,#44ffbc,#7fff81,#b3ff4c,#e0ff1f,#fff500,#ffd400,#ffbe00,#ffb600,#ffbc00,#ffd000,#fff000,#e6ff1a,#b9ff46,#85ff7b,#4affb5,#0afff5,#00c5ff,#0080ff,#003cff,#0000ff)"></i><i style="background:linear-gradient(#0000ff,#003bff,#007fff,#00c3ff,#08fff7,#49ffb7,#84ff7c,#b9ff47,#e6ff19,#ffee00,#ffcc00,#ffb600,#ffae00,#ffb400,#ffc800,#ffe900,#ecff13,#bfff40,#8bff75,#4fffb0,#0efff1,#00c9ff,#0083ff,#003eff,#0000ff)"></i><i style="background:linear-gradient(#0000ff,#003dff,#0081ff,#00c7ff,#0cfff3,#4dffb2,#89ff77,#beff41,#edff13,#ffe700,#ffc400,#ffaf00,#ffa600,#ffac00,#ffc000,#ffe100,#f3ff0c,#c5ff3b,#90ff70,#54ffab,#13ffec,#00cdff,#0086ff,#003fff,#0000ff)"></i><i style="background:linear-gradient(#0000ff,#003eff,#0084ff,#00caff,#10ffef,#52ffae,#8fff71,#c4ff3b,#f3ff0c,#ffdf00,#ffbd00,#ffa700,#ff9f00,#ffa500,#ffb800,#ffd900,#faff05,#cbff35,#96ff6a,#59ffa6,#17ffe8,#00d0ff,#0088ff,#0041ff,#0000ff)"></i><i style="background:linear-gradient(#0000ff,#0040ff,#0086ff,#00cdff,#14ffeb,#57ffa9,#94ff6c,#caff35,#fbff04,#ffd700,#ffb500,#ff9f00,#ff9700,#ff9d00,#ffb100,#ffd100,#fffc00,#d1ff2e,#9bff65,#5effa2,#1bffe4,#00d4ff,#008bff,#0043ff,#0000ff)"></i><i style="background:linear-gradient(#0000ff,#0041ff,#0089ff,#00d1ff,#18ffe7,#5bffa5,#99ff67,#d0ff2f,#fffc00,#ffcf00,#ffad00,#ff9800,#ff9000,#ff9500,#ffa900,#ffc900,#fff500,#d7ff28,#a1ff5f,#63ff9d,#1fffe0,#00d7ff,#008eff,#0044ff,#0000ff)"></i><i style="background:linear-gradient(#0000ff,#0043ff,#008bff,#00d4ff,#1cffe3,#60ffa0,#9fff61,#d6ff29,#fff400,#ffc700,#ffa500,#ff9000,#ff8800,#ff8e00,#ffa100,#ffc100,#ffec00,#ddff22,#a7ff59,#68ff98,#23ffdc,#00daff,#0090ff,#0046ff,#0000ff)"></i><i style="background:linear-gradient(#0000ff,#0044ff,#008eff,#00d7ff,#20ffe0,#65ff9b,#a4ff5c,#dcff23,#ffec00,#ffbf00,#ff9d00,#ff8800,#ff8000,#ff8600,#ff9900,#ffb800,#ffe400,#e4ff1b,#adff53,#6dff93,#28ffd8,#00deff,#0093ff,#0048ff,#0000ff)"></i><i style="background:linear-gradient(#0000ff,#0046ff,#0090ff,#00daff,#23ffdc,#69ff96,#aaff56,#e3ff1c,#ffe300,#ffb600,#ff9500,#ff8100,#ff7900,#ff7e00,#ff9100,#ffb000,#ffdb00,#ebff14,#b2ff4d,#72ff8e,#2cffd4,#00e1ff,#0096ff,#0049ff,#0000ff)"></i><i style="background:linear-gradient(#0000ff,#0047ff,#0092ff,#00ddff,#27ffd8,#6eff92,#afff50,#eaff15,#ffda00,#ffad00,#ff8d00,#ff7900,#ff7200,#ff7700,#ff8800,#ffa700,#ffd100,#f3ff0c,#b8ff47,#77ff89,#30ffd0,#00e4ff,#0098ff,#004bff,#0000ff)"></i><i style="background:linear-gradient(#0000ff,#0049ff,#0095ff,#00e0ff,#2bffd4,#73ff8d,#b5ff4a,#f1ff0e,#ffd100,#ffa400,#ff8500,#ff7100,#ff6a00,#ff6f00,#ff8000,#ff9e00,#ffc800,#faff05,#beff41,#7cff84,#34ffcc,#00e8ff,#009aff,#004cff,#0000ff)"></i><i style="background:linear-gradient(#0000ff,#004aff,#0097ff,#00e3ff,#2effd1,#77ff89,#bbff45,#f8ff07,#ffc700,#ff9b00,#ff7d00,#ff6a00,#ff6300,#ff6800,#ff7800,#ff9500,#ffbe00,#fffc00,#c4ff3b,#81ff7f,#37ffc8,#00ebff,#009dff,#004eff,#0000ff)"></i><i style="background:linear-gradient(#0000ff,#004bff,#0099ff,#00e6ff,#32ffce,#7cff84,#c0ff3f,#ffff00,#ffbe00,#ff9300,#ff7500,#ff6300,#ff5c00,#ff6100,#ff7100,#ff8c00,#ffb400,#fff400,#caff35,#86ff7a,#3bffc4,#00eeff,#009fff,#004fff,#0000ff)"></i><i style="background:linear-gradient(#0000ff,#004dff,#009bff,#00e8ff,#35ffca,#80ff80,#c6ff3a,#fff700,#ffb400,#ff8a00,#ff6d00,#ff5c00,#ff5500,#ff5a00,#ff6900,#ff8400,#ffab00,#ffeb00,#d0ff2f,#8bff75,#3effc1,#00f0ff,#00a1ff,#0050ff,#0000ff)"></i><i style="background:linear-gradient(#0000ff,#004eff,#009cff,#00eaff,#38ffc8,#84ff7c,#cbff35,#fff000,#ffab00,#ff8200,#ff6600,#ff5500,#ff4f00,#ff5300,#ff6200,#ff7c00,#ffa100,#ffe300,#d6ff2a,#8fff71,#42ffbe,#00f3ff,#00a3ff,#0052ff,#0000ff)"></i><i style="background:linear-gradient(#0000ff,#004fff,#009eff,#00ecff,#3bffc5,#88ff78,#d0ff30,#ffe800,#ffa200,#ff7900,#ff5f00,#ff4f00,#ff4900,#ff4d00,#ff5b00,#ff7300,#ff9800,#ffdb00,#dbff24,#93ff6d,#45ffbb,#00f5ff,#00a5ff,#0053ff,#0000ff)"></i><i style="background:linear-gradient(#0000ff,#004fff,#009fff,#00eeff,#3dffc2,#8bff75,#d5ff2b,#ffe100,#ff9900,#ff7100,#ff5800,#ff4900,#ff4300,#ff4700,#ff5400,#ff6c00,#ff8f00,#ffd300,#e0ff1f,#97ff69,#47ffb8,#00f7ff,#00a6ff,#0054ff,#0000ff)"></i><i style="background:linear-gradient(#0000ff,#0050ff,#00a0ff,#00f0ff,#3fffc0,#8fff71,#d9ff26,#ffda00,#ff9100,#ff6a00,#ff5200,#ff4300,#ff3d00,#ff4100,#ff4e00,#ff6400,#ff8600,#ffcc00,#e5ff1a,#9bff65,#4affb6,#00f9ff,#00a7ff,#0054ff,#0000ff)"></i><i style="background:linear-gradient(#0000ff,#0050ff,#00a1ff,#00f1ff,#41ffbf,#92ff6e,#ddff22,#ffd300,#ff8800,#ff6200,#ff4b00,#ff3d00,#ff3800,#ff3b00,#ff4800,#ff5d00,#ff7e00,#ffc400,#eaff15,#9eff62,#4cffb4,#00faff,#00a8ff,#0055ff,#0000ff)"></i><i style="background:linear-gradient(#0000ff,#0050ff,#00a1ff,#00f2ff,#42ffbd,#94ff6c,#e1ff1e,#ffcc00,#ff8000,#ff5b00,#ff4500,#ff3800,#ff3300,#ff3600,#ff4200,#ff5600,#ff7500,#ffbd00,#efff10,#a1ff5e,#4effb2,#00fbff,#00a9ff,#0055ff,#0000ff)"></i><i style="background:linear-gradient(#0000ff,#0051ff,#00a2ff,#00f2ff,#44ffbc,#97ff69,#e5ff1a,#ffc600,#ff7800,#ff5500,#ff3f00,#ff3300,#ff2e00,#ff3100,#ff3c00,#ff4f00,#ff6d00,#ffb600,#f4ff0b,#a4ff5b,#50ffb0,#00fcff,#00a9ff,#0055ff,#0000ff)"></i><i style="background:linear-gradient(#0000ff,#0051ff,#00a2ff,#00f3ff,#45ffba,#99ff66,#eaff16,#ffbf00,#ff7100,#ff4e00,#ff3a00,#ff2e00,#ff2900,#ff2c00,#ff3600,#ff4900,#ff6500,#ffaf00,#f9ff06,#a7ff58,#51ffae,#00fdff,#00aaff,#0055ff,#0000ff)"></i><i style="background:linear-gradient(#0000ff,#0051ff,#00a2ff,#00f4ff,#47ffb9,#9cff64,#eeff11,#ffb900,#ff6900,#ff4700,#ff3400,#ff2900,#ff2500,#ff2700,#ff3100,#ff4300,#ff5e00,#ffa800,#feff01,#aaff55,#53ffad,#00feff,#00aaff,#0056ff,#0000ff)"></i><i style="background:linear-gradient(#0000ff,#0051ff,#00a3ff,#00f5ff,#48ffb7,#9eff61,#f2ff0d,#ffb200,#ff6200,#ff4100,#ff2f00,#ff2400,#ff2000,#ff2300,#ff2c00,#ff3c00,#ff5600,#ffa100,#fffb00,#adff52,#55ffab,#00ffff,#00abff,#0056ff,#0000ff)"></i><i style="background:linear-gradient(#0000ff,#0051ff,#00a3ff,#00f6ff,#4affb6,#a1ff5f,#f6ff09,#ffac00,#ff5b00,#ff3b00,#ff2a00,#ff2000,#ff1c00,#ff1e00,#ff2700,#ff3600,#ff4f00,#ff9a00,#fff600,#b0ff4f,#57ffa9,#01fffe,#00abff,#0056ff,#0000ff)"></i><i style="background:linear-gradient(#0000ff,#0051ff,#00a4ff,#00f7ff,#4bffb4,#a3ff5c,#faff05,#ffa600,#ff5400,#ff3500,#ff2500,#ff1b00,#ff1700,#ff1a00,#ff2200,#ff3100,#ff4800,#ff9300,#fff100,#b3ff4c,#59ffa7,#03fffc,#00acff,#0056ff,#0000ff)"></i><i style="background:linear-gradient(#0000ff,#0052ff,#00a4ff,#00f8ff,#4dffb3,#a6ff5a,#feff01,#ffa000,#ff4d00,#ff2f00,#ff2000,#ff1600,#ff1300,#ff1500,#ff1d00,#ff2b00,#ff4200,#ff8d00,#ffec00,#b6ff49,#5bffa5,#04fffb,#00adff,#0057ff,#0000ff)"></i><i style="background:linear-gradient(#0000ff,#0052ff,#00a5ff,#00f9ff,#4fffb1,#a9ff57,#fffb00,#ff9a00,#ff4700,#ff2a00,#ff1b00,#ff1200,#ff0e00,#ff1000,#ff1800,#ff2600,#ff3b00,#ff8600,#ffe700,#b9ff46,#5dffa3,#05fffa,#00aeff,#0057ff,#0000ff)"></i><i style="background:linear-gradient(#0000ff,#0052ff,#00a6ff,#00faff,#50ffaf,#abff54,#fff700,#ff9400,#ff4100,#ff2400,#ff1600,#ff0d00,#ff0900,#ff0c00,#ff1300,#ff2000,#ff3500,#ff8000,#ffe200,#bdff43,#5fffa1,#07fff8,#00afff,#0058ff,#0000ff)"></i><i style="background:linear-gradient(#0000ff,#0053ff,#00a6ff,#00fbff,#52ffae,#aeff52,#fff300,#ff8e00,#ff3b00,#ff1f00,#ff1100,#ff0800,#ff0500,#ff0700,#ff0f00,#ff1b00,#ff2f00,#ff7a00,#ffdd00,#c0ff40,#61ff9f,#08fff7,#00b0ff,#0058ff,#0000ff)"></i><i style="background:linear-gradient(#0000ff,#0053ff,#00a7ff,#00fdff,#54ffac,#b1ff4f,#ffef00,#ff8900,#ff3600,#ff1b00,#ff0d00,#ff0400,#ff0000,#ff0200,#ff0a00,#ff1700,#ff2a00,#ff7400,#ffd800,#c3ff3d,#63ff9d,#0afff5,#00b1ff,#0059ff,#0000ff)"></i><i style="background:linear-gradient(#0000ff,#0053ff,#00a8ff,#00feff,#56ffaa,#b3ff4c,#ffeb00,#ff8400,#ff3100,#ff1600,#ff0800,#ff0000,#fe0000,#fe0000,#ff0600,#ff1200,#ff2500,#ff6e00,#ffd300,#c6ff3a,#65ff9a,#0bfff4,#00b2ff,#0059ff,#0000ff)"></i><i style="background:linear-gradient(#0000ff,#0054ff,#00a9ff,#00ffff,#58ffa8,#b6ff4a,#ffe700,#ff7f00,#ff2c00,#ff1200,#ff0400,#fd0000,#fc0000,#fd0000,#ff0100,#ff0e00,#ff2100,#ff6900,#ffcf00,#c8ff37,#68ff98,#0dfff2,#00b3ff,#005aff,#0000ff)"></i><i style="background:linear-gradient(#0000ff,#0054ff,#00aaff,#02fffd,#5affa6,#b8ff48,#ffe300,#ff7b00,#ff2900,#ff0e00,#ff0000,#fc0000,#fb0000,#fc0000,#fe0000,#ff0a00,#ff1d00,#ff6500,#ffcb00,#cbff34,#6aff96,#0ffff0,#00b4ff,#005aff,#0000ff)"></i><i style="background:linear-gradient(#0000ff,#0055ff,#00abff,#03fffc,#5cffa4,#baff45,#ffe000,#ff7700,#ff2500,#ff0a00,#fe0000,#fb0000,#fa0000,#fa0000,#fd0000,#ff0600,#ff1900,#ff6000,#ffc700,#ceff32,#6cff94,#10ffef,#00b5ff,#005bff,#0000ff)"></i><i style="background:linear-gradient(#0000ff,#0055ff,#00acff,#05fffa,#5dffa2,#bdff43,#ffdc00,#ff7200,#ff2100,#ff0600,#fc0000,#f90000,#f80000,#f90000,#fb0000,#ff0200,#ff1500,#ff5c00,#ffc200,#d1ff2f,#6eff92,#12ffed,#00b6ff,#005bff,#0000ff)"></i><i style="background:linear-gradient(#0000ff,#0056ff,#00adff,#06fff9,#60ffa0,#bfff40,#ffd800,#ff6e00,#ff1d00,#ff0200,#fb0000,#f80000,#f70000,#f70000,#fa0000,#fe0000,#ff1100,#ff5700,#ffbe00,#d4ff2c,#71ff8f,#14ffeb,#00b7ff,#005cff,#0000ff)"></i><i style="background:linear-gradient(#0000ff,#0056ff,#00aeff,#08fff7,#62ff9e,#c2ff3e,#ffd400,#ff6900,#ff1900,#fe0000,#fa0000,#f60000,#f50000,#f60000,#f80000,#fd0000,#ff0d00,#ff5200,#ffb900,#d7ff29,#73ff8d,#16ffea,#00b9ff,#005dff,#0000ff)"></i><i style="background:linear-gradient(#0000ff,#0057ff,#00afff,#09fff6,#64ff9c,#c4ff3b,#ffd000,#ff6400,#ff1500,#fd0000,#f80000,#f50000,#f40000,#f50000,#f70000,#fb0000,#ff0800,#ff4d00,#ffb500,#daff26,#75ff8b,#17ffe8,#00baff,#005dff,#0000ff)"></i><i style="background:linear-gradient(#0000ff,#0057ff,#00b0ff,#0afff5,#65ff9a,#c7ff39,#ffcd00,#ff6000,#ff1100,#fc0000,#f70000,#f40000,#f30000,#f30000,#f60000,#fa0000,#ff0500,#ff4900,#ffb000,#dcff23,#77ff89,#19ffe6,#00bbff,#005eff,#0000ff)"></i><i style="background:linear-gradient(#0000ff,#0058ff,#00b1ff,#0cfff4,#67ff99,#c9ff37,#ffca00,#ff5d00,#ff0e00,#fb0000,#f60000,#f30000,#f10000,#f20000,#f50000,#f90000,#ff0100,#ff4500,#ffad00,#deff21,#79ff87,#1affe5,#00bcff,#005eff,#0000ff)"></i><i style="background:linear-gradient(#0000ff,#0058ff,#00b1ff,#0cfff3,#68ff98,#caff35,#ffc700,#ff5a00,#ff0c00,#fa0000,#f50000,#f20000,#f10000,#f10000,#f40000,#f80000,#ff0000,#ff4200,#ffaa00,#e0ff1f,#7bff85,#1bffe4,#00bdff,#005fff,#0000ff)"></i><i style="background:linear-gradient(#0000ff,#0058ff,#00b1ff,#0dfff2,#69ff97,#cbff35,#ffc600,#ff5900,#ff0a00,#f90000,#f40000,#f10000,#f00000,#f10000,#f30000,#f80000,#fe0000,#ff4100,#ffa800,#e1ff1e,#7cff84,#1cffe3,#00bdff,#005fff,#0000ff)"></i><i style="background:linear-gradient(#0000ff,#0058ff,#00b1ff,#0dfff2,#69ff97,#cbff35,#ffc600,#ff5900,#ff0a00,#f90000,#f40000,#f10000,#f00000,#f10000,#f30000,#f80000,#fe0000,#ff4000,#ffa800,#e2ff1d,#7cff84,#1cffe3,#00bdff,#005fff,#0000ff)"></i><i style="background:linear-gradient(#0000ff,#0058ff,#00b1ff,#0dfff2,#69ff97,#cbff35,#ffc600,#ff5900,#ff0a00,#f90000,#f40000,#f10000,#f00000,#f10000,#f30000,#f80000,#fe0000,#ff4000,#ffa800,#e2ff1d,#7cff84,#1cffe3,#00bdff,#005fff,#0000ff)"></i><i style="background:linear-gradient(#0000ff,#0058ff,#00b1ff,#0dfff2,#69ff97,#cbff35,#ffc600,#ff5900,#ff0a00,#f90000,#f40000,#f10000,#f00000,#f10000,#f30000,#f80000,#fe0000,#ff4000,#ffa700,#e2ff1d,#7cff84,#1dffe3,#00bdff,#005fff,#0000ff)"></i><i style="background:linear-gradient(#0000ff,#0058ff,#00b1ff,#0dfff2,#68ff97,#caff35,#ffc600,#ff5900,#ff0a00,#f90000,#f40000,#f10000,#f00000,#f10000,#f30000,#f80000,#fe0000,#ff4000,#ffa700,#e2ff1d,#7cff84,#1dffe2,#00bdff,#005fff,#0000ff)"></i><i style="background:linear-gradient(#0000ff,#0058ff,#00b1ff,#0dfff2,#68ff97,#caff35,#ffc600,#ff5900,#ff0a00,#f90000,#f40000,#f10000,#f00000,#f10000,#f30000,#f80000,#fe0000,#ff4000,#ffa700,#e3ff1d,#7dff83,#1dffe2,#00beff,#005fff,#0000ff)"></i><i style="background:linear-gradient(#0000ff,#0058ff,#00b1ff,#0dfff2,#68ff98,#caff35,#ffc700,#ff5900,#ff0b00,#f90000,#f40000,#f10000,#f00000,#f10000,#f30000,#f80000,#fe0000,#ff3f00,#ffa700,#e3ff1c,#7dff83,#1dffe2,#00beff,#005fff,#0000ff)"></i><i style="background:linear-gradient(#0000ff,#0058ff,#00b1ff,#0dfff3,#68ff98,#caff35,#ffc700,#ff5a00,#ff0b00,#f90000,#f40000,#f10000,#f00000,#f10000,#f30000,#f80000,#fe0000,#ff3f00,#ffa600,#e3ff1c,#7dff83,#1dffe2,#00beff,#005fff,#0000ff)"></i><i style="background:linear-gradient(#0000ff,#0058ff,#00b1ff,#0cfff3,#68ff98,#caff35,#ffc700,#ff5a00,#ff0b00,#f90000,#f40000,#f10000,#f00000,#f10000,#f30000,#f80000,#fe0000,#ff3f00,#ffa600,#e3ff1c,#7dff83,#1dffe2,#00beff,#0060ff,#0000ff)"></i><i style="background:linear-gradient(#0000ff,#0058ff,#00b1ff,#0cfff3,#68ff98,#caff35,#ffc700,#ff5a00,#ff0b00,#f90000,#f40000,#f10000,#f00000,#f10000,#f30000,#f80000,#fe0000,#ff3f00,#ffa600,#e3ff1c,#7dff83,#1dffe2,#00beff,#0060ff,#0000ff)"></i><i style="background:linear-gradient(#0000ff,#0058ff,#00b1ff,#0dfff2,#68ff98,#caff35,#ffc700,#ff5a00,#ff0b00,#f90000,#f50000,#f10000,#f00000,#f10000,#f30000,#f80000,#fe0000,#ff3f00,#ffa600,#e3ff1c,#7dff83,#1effe2,#00beff,#0060ff,#0000ff)"></i><i style="background:linear-gradient(#0000ff,#0058ff,#00b2ff,#0dfff2,#69ff97,#caff35,#ffc800,#ff5b00,#ff0c00,#fa0000,#f50000,#f10000,#f00000,#f10000,#f30000,#f80000,#fe0000,#ff4000,#ffa700,#e3ff1c,#7eff82,#1effe1,#00bfff,#0060ff,#0000ff)"></i><i style="background:linear-gradient(#0000ff,#0058ff,#00b2ff,#0dfff2,#68ff98,#c9ff37,#ffca00,#ff5f00,#ff1000,#fb0000,#f50000,#f20000,#f10000,#f10000,#f40000,#f90000,#ff0200,#ff4400,#ffaa00,#e2ff1e,#7dff83,#1effe1,#00bfff,#0060ff,#0000ff)"></i><i style="background:linear-gradient(#0000ff,#0058ff,#00b1ff,#0cfff3,#67ff99,#c6ff39,#ffd000,#ff6500,#ff1600,#fc0000,#f70000,#f40000,#f20000,#f30000,#f60000,#fb0000,#ff0800,#ff4a00,#ffb000,#dfff21,#7bff85,#1dffe2,#00beff,#0060ff,#0000ff)"></i><i style="background:linear-gradient(#0000ff,#0058ff,#00b1ff,#0bfff4,#64ff9b,#c2ff3d,#ffd700,#ff6e00,#ff1e00,#ff0000,#f90000,#f60000,#f40000,#f50000,#f80000,#fd0000,#ff1000,#ff5300,#ffb800,#daff25,#79ff87,#1bffe4,#00bdff,#005fff,#0000ff)"></i><i style="background:linear-gradient(#0000ff,#0057ff,#00afff,#09fff6,#61ff9e,#beff42,#ffdf00,#ff7900,#ff2800,#ff0900,#fc0000,#f80000,#f70000,#f80000,#fb0000,#ff0300,#ff1a00,#ff5e00,#ffc100,#d5ff2a,#75ff8a,#19ffe6,#00bcff,#005fff,#0000ff)"></i><i style="background:linear-gradient(#0000ff,#0057ff,#00aeff,#07fff8,#5effa2,#b9ff47,#ffe800,#ff8500,#ff3400,#ff1400,#ff0100,#fb0000,#fa0000,#fb0000,#fe0000,#ff0d00,#ff2500,#ff6a00,#ffcb00,#cfff30,#72ff8e,#17ffe8,#00bbff,#005eff,#0000ff)"></i><i style="background:linear-gradient(#0000ff,#0056ff,#00adff,#05fffa,#5bffa5,#b3ff4c,#fff100,#ff9100,#ff4000,#ff1e00,#ff0b00,#fe0000,#fd0000,#fe0000,#ff0600,#ff1700,#ff3100,#ff7700,#ffd600,#caff36,#6eff92,#15ffea,#00baff,#005eff,#0000ff)"></i><i style="background:linear-gradient(#0000ff,#0056ff,#00acff,#03fffc,#58ffa8,#afff51,#fffa00,#ff9d00,#ff4d00,#ff2800,#ff1400,#ff0700,#ff0100,#ff0400,#ff0f00,#ff2100,#ff3d00,#ff8300,#ffdf00,#c4ff3b,#6bff95,#13ffec,#00b8ff,#005dff,#0000ff)"></i><i style="background:linear-gradient(#0000ff,#0055ff,#00abff,#01fffe,#55ffab,#a9ff56,#fcff03,#ffa900,#ff5a00,#ff3400,#ff1d00,#ff1000,#ff0a00,#ff0d00,#ff1800,#ff2b00,#ff4a00,#ff9000,#ffe900,#beff41,#67ff99,#10ffef,#00b7ff,#005dff,#0000ff)"></i><i style="background:linear-gradient(#0000ff,#0055ff,#00a9ff,#00fdff,#51ffaf,#a3ff5c,#f2ff0d,#ffb600,#ff6900,#ff4000,#ff2800,#ff1a00,#ff1400,#ff1700,#ff2300,#ff3700,#ff5800,#ff9e00,#fff400,#b8ff48,#63ff9d,#0efff1,#00b5ff,#005cff,#0000ff)"></i><i style="background:linear-gradient(#0000ff,#0054ff,#00a8ff,#00faff,#4cffb3,#9dff63,#e9ff16,#ffc400,#ff7900,#ff4f00,#ff3500,#ff2500,#ff1f00,#ff2200,#ff2e00,#ff4500,#ff6800,#ffad00,#ffff00,#b1ff4f,#5effa2,#0bfff5,#00b4ff,#005bff,#0000ff)"></i><i style="background:linear-gradient(#0000ff,#0053ff,#00a6ff,#00f7ff,#48ffb8,#96ff6a,#e0ff20,#ffd200,#ff8900,#ff5e00,#ff4200,#ff3200,#ff2b00,#ff2e00,#ff3c00,#ff5400,#ff7800,#ffbc00,#f4ff0b,#aaff56,#59ffa7,#07fff8,#00b1ff,#005aff,#0000ff)"></i><i style="background:linear-gradient(#0000ff,#0052ff,#00a4ff,#00f4ff,#43ffbd,#8fff71,#d6ff29,#ffe000,#ff9a00,#ff6e00,#ff5100,#ff3f00,#ff3800,#ff3c00,#ff4a00,#ff6300,#ff8900,#ffcb00,#e9ff16,#a2ff5e,#54ffac,#03fffc,#00afff,#0059ff,#0000ff)"></i><i style="background:linear-gradient(#0000ff,#0051ff,#00a1ff,#00f0ff,#3effc2,#88ff78,#cdff32,#ffee00,#ffab00,#ff7e00,#ff6000,#ff4d00,#ff4600,#ff4a00,#ff5800,#ff7300,#ff9a00,#ffd900,#dfff20,#9aff65,#4effb1,#00feff,#00adff,#0058ff,#0000ff)"></i><i style="background:linear-gradient(#0000ff,#0050ff,#009fff,#00ecff,#38ffc7,#81ff7f,#c4ff3b,#fffb00,#ffbb00,#ff8f00,#ff7000,#ff5d00,#ff5500,#ff5900,#ff6800,#ff8300,#ffab00,#ffe800,#d5ff2a,#93ff6d,#48ffb7,#00faff,#00aaff,#0057ff,#0000ff)"></i><i style="background:linear-gradient(#0000ff,#004eff,#009cff,#00e8ff,#32ffcd,#79ff87,#baff45,#f5ff0a,#ffcd00,#ffa000,#ff8100,#ff6d00,#ff6500,#ff6900,#ff7900,#ff9500,#ffbc00,#fff700,#cbff34,#8aff76,#42ffbd,#00f6ff,#00a7ff,#0055ff,#0000ff)"></i><i style="background:linear-gradient(#0000ff,#004dff,#0099ff,#00e3ff,#2cffd3,#71ff8f,#b0ff50,#e8ff17,#ffde00,#ffb300,#ff9300,#ff7f00,#ff7700,#ff7b00,#ff8b00,#ffa700,#ffcf00,#f8ff07,#c0ff3f,#82ff7e,#3cffc4,#00f1ff,#00a4ff,#0054ff,#0000ff)"></i><i style="background:linear-gradient(#0000ff,#004bff,#0096ff,#00dfff,#26ffda,#68ff98,#a5ff5a,#dbff24,#fff000,#ffc600,#ffa600,#ff9200,#ff8a00,#ff8e00,#ff9e00,#ffba00,#ffe100,#eaff15,#b5ff4b,#78ff88,#35ffcb,#00ecff,#00a1ff,#0052ff,#0000ff)"></i><i style="background:linear-gradient(#0000ff,#004aff,#0093ff,#00daff,#1fffe0,#5fffa0,#9aff66,#ceff31,#fdff02,#ffd900,#ffba00,#ffa600,#ff9e00,#ffa200,#ffb200,#ffce00,#fff400,#dcff23,#a9ff56,#6fff91,#2dffd2,#00e7ff,#009dff,#0050ff,#0000ff)"></i><i style="background:linear-gradient(#0000ff,#0048ff,#008fff,#00d4ff,#18ffe8,#56ffaa,#8fff71,#c1ff3f,#ecff13,#ffed00,#ffce00,#ffbb00,#ffb300,#ffb700,#ffc700,#ffe200,#f8ff07,#ceff31,#9dff63,#65ff9b,#26ffda,#00e1ff,#0099ff,#004eff,#0000ff)"></i><i style="background:linear-gradient(#0000ff,#0046ff,#008cff,#00cfff,#10ffef,#4cffb4,#83ff7d,#b3ff4d,#dbff24,#feff01,#ffe300,#ffd000,#ffc900,#ffcd00,#ffdc00,#fff600,#e7ff18,#bfff40,#91ff6f,#5affa6,#1dffe2,#00dbff,#0095ff,#004cff,#0000ff)"></i><i style="background:linear-gradient(#0000ff,#0044ff,#0087ff,#00c8ff,#07fff8,#41ffbe,#76ff8a,#a4ff5c,#cbff34,#ebff14,#fff900,#ffe700,#ffdf00,#ffe300,#fff200,#f4ff0b,#d6ff29,#b0ff4f,#83ff7d,#4fffb1,#15ffeb,#00d4ff,#0091ff,#004aff,#0000ff)"></i><i style="background:linear-gradient(#0000ff,#0042ff,#0083ff,#00c2ff,#00fdff,#36ffc9,#69ff97,#95ff6b,#bbff45,#d9ff26,#f1ff0f,#fffd00,#fff600,#fffa00,#f7ff08,#e1ff1e,#c5ff3a,#a1ff5f,#76ff8a,#43ffbc,#0bfff4,#00cdff,#008cff,#0048ff,#0000ff)"></i><i style="background:linear-gradient(#0000ff,#003fff,#007eff,#00baff,#00f4ff,#2affd5,#5bffa5,#86ff7a,#aaff56,#c7ff39,#ddff23,#ebff14,#f1ff0e,#eeff11,#e2ff1d,#cfff31,#b4ff4c,#91ff6f,#67ff99,#37ffc9,#01fffe,#00c5ff,#0087ff,#0045ff,#0000ff)"></i><i style="background:linear-gradient(#0000ff,#003dff,#0079ff,#00b2ff,#00e9ff,#1effe2,#4cffb3,#75ff8b,#98ff68,#b4ff4c,#c9ff37,#d6ff29,#dbff24,#d9ff27,#ceff31,#bbff44,#a1ff5e,#80ff80,#58ffa8,#2affd5,#00f5ff,#00bdff,#0081ff,#0042ff,#0000ff)"></i><i style="background:linear-gradient(#0000ff,#003aff,#0073ff,#00aaff,#00deff,#10ffef,#3cffc3,#64ff9c,#85ff7b,#9fff60,#b3ff4c,#c0ff40,#c5ff3b,#c2ff3d,#b8ff47,#a7ff59,#8eff72,#6eff92,#48ffb8,#1cffe3,#00eaff,#00b4ff,#007bff,#003fff,#0000ff)"></i><i style="background:linear-gradient(#0000ff,#0037ff,#006cff,#00a1ff,#00d2ff,#01fffe,#2bffd4,#50ffb0,#6fff91,#89ff77,#9bff65,#a7ff59,#acff54,#a9ff56,#a0ff60,#8fff71,#78ff88,#5affa6,#36ffca,#0cfff3,#00ddff,#00aaff,#0074ff,#003bff,#0000ff)"></i><i style="background:linear-gradient(#0000ff,#0033ff,#0065ff,#0096ff,#00c4ff,#00efff,#17ffe8,#39ffc6,#56ffa9,#6eff92,#80ff80,#8bff75,#8fff71,#8dff73,#84ff7c,#74ff8b,#5effa1,#42ffbd,#21ffdf,#00f9ff,#00ceff,#009eff,#006cff,#0037ff,#0000ff)"></i><i style="background:linear-gradient(#0000ff,#002fff,#005dff,#0089ff,#00b3ff,#00dbff,#00ffff,#1fffe0,#3affc5,#50ffb0,#60ffa0,#6aff96,#6eff92,#6cff94,#64ff9c,#55ffaa,#41ffbe,#28ffd8,#09fff6,#00e4ff,#00bcff,#0091ff,#0063ff,#0033ff,#0000ff)"></i><i style="background:linear-gradient(#0000ff,#002aff,#0053ff,#007bff,#00a1ff,#00c4ff,#00e4ff,#01fffe,#19ffe6,#2dffd3,#3bffc4,#44ffbb,#48ffb8,#46ffb9,#3fffc1,#32ffcd,#20ffdf,#09fff6,#00ecff,#00ccff,#00a9ff,#0082ff,#0059ff,#002dff,#0000ff)"></i><i style="background:linear-gradient(#0000ff,#0024ff,#0048ff,#006aff,#008bff,#00aaff,#00c6ff,#00deff,#00f3ff,#05fffa,#11ffee,#19ffe6,#1cffe3,#1bffe5,#14ffeb,#09fff6,#00f8ff,#00e5ff,#00cdff,#00b1ff,#0092ff,#0071ff,#004dff,#0027ff,#0000ff)"></i><i style="background:linear-gradient(#0000ff,#001eff,#003cff,#0058ff,#0073ff,#008dff,#00a4ff,#00b8ff,#00c9ff,#00d7ff,#00e1ff,#00e8ff,#00ebff,#00e9ff,#00e4ff,#00dbff,#00ceff,#00bdff,#00aaff,#0093ff,#0079ff,#005dff,#0040ff,#0021ff,#0000ff)"></i><i style="background:linear-gradient(#0000ff,#0017ff,#002eff,#0043ff,#0058ff,#006bff,#007dff,#008cff,#009aff,#00a4ff,#00acff,#00b1ff,#00b3ff,#00b2ff,#00aeff,#00a7ff,#009dff,#0091ff,#0081ff,#0070ff,#005dff,#0047ff,#0031ff,#0019ff,#0000ff)"></i><i style="background:linear-gradient(#0000ff,#0010ff,#0020ff,#002fff,#003dff,#004bff,#0057ff,#0062ff,#006bff,#0072ff,#0078ff,#007bff,#007dff,#007cff,#0079ff,#0074ff,#006dff,#0065ff,#005aff,#004eff,#0040ff,#0032ff,#0022ff,#0011ff,#0000ff)"></i><i style="background:linear-gradient(#0000ff,#0009ff,#0013ff,#001cff,#0024ff,#002cff,#0033ff,#003aff,#003fff,#0043ff,#0047ff,#0049ff,#0049ff,#0049ff,#0047ff,#0044ff,#0040ff,#003bff,#0035ff,#002eff,#0026ff,#001dff,#0014ff,#000aff,#0000ff)"></i><i style="background:linear-gradient(#0000ff,#0004ff,#0007ff,#000bff,#000eff,#0011ff,#0014ff,#0016ff,#0018ff,#001aff,#001bff,#001cff,#001cff,#001cff,#001bff,#001aff,#0019ff,#0017ff,#0014ff,#0012ff,#000fff,#000bff,#0008ff,#0004ff,#0000ff)"></i><i style="flex-basis:0.3px;background:linear-gradient(#0000ff,#0001ff,#0001ff,#0002ff,#0002ff,#0003ff,#0003ff,#0004ff,#0004ff,#0004ff,#0005ff,#0005ff,#0005ff,#0005ff,#0005ff,#0005ff,#0004ff,#0004ff,#0004ff,#0003ff,#0003ff,#0002ff,#0001ff,#0001ff,#0000ff)"></i></div>
<div class="cb" style="left:38.7px;top:478.3px;width:121.3px;background:linear-gradient(90deg,#0000ea,#0000fd,#0012ff,#0026ff,#003aff,#004eff,#0063ff,#0077ff,#008bff,#00a0ff,#00b4ff,#00c8ff,#00ddff,#00f1ff,#06fff9,#1affe5,#2fffd1,#43ffbc,#57ffa8,#6cff94,#80ff80,#94ff6c,#a8ff57,#bcff43,#d1ff2f,#e5ff1a,#f9ff06,#fff100,#ffdd00,#ffc800,#ffb400,#ffa000,#ff8b00,#ff7700,#ff6300,#ff4e00,#ff3a00,#ff2600,#ff1200,#fe0000,#f80000)"></div>
<div class="cb" style="left:182.1px;top:478.3px;width:120.6px;background:linear-gradient(90deg,#0000ea,#0000fd,#0012ff,#0026ff,#003aff,#004eff,#0063ff,#0077ff,#008bff,#00a0ff,#00b4ff,#00c8ff,#00ddff,#00f1ff,#06fff9,#1affe5,#2fffd1,#43ffbc,#57ffa8,#6cff94,#80ff80,#94ff6c,#a8ff57,#bcff43,#d1ff2f,#e5ff1a,#f9ff06,#fff100,#ffdd00,#ffc800,#ffb400,#ffa000,#ff8b00,#ff7700,#ff6300,#ff4e00,#ff3a00,#ff2600,#ff1200,#fe0000,#f80000)"></div>
<svg id="ov" width="520" height="507" viewBox="0 0 520 507">
<text transform="translate(85.00 12.00) scale(1.011 1)" font-size="13.40">Electron density (10<tspan dy="-4.82" font-size="8.31">17</tspan><tspan dy="4.82"> m</tspan><tspan dy="-4.82" font-size="8.31">-3</tspan><tspan dy="4.82">)</tspan></text>
<text transform="translate(42.66 27.90) scale(1.018 1)" font-size="13.38">0.3</text>
<text transform="translate(186.76 27.90) scale(1.009 1)" font-size="13.38">0.7</text>
<rect x="36.2" y="46.5" width="128.5" height="62.1" fill="none" stroke="#00063a" stroke-width="0.8" opacity="0.75"/>
<rect x="182.2" y="46.1" width="127.1" height="62.2" fill="none" stroke="#00063a" stroke-width="0.8" opacity="0.75"/>
<rect x="36.2" y="130.3" width="128.5" height="62.8" fill="none" stroke="#00063a" stroke-width="0.8" opacity="0.75"/>
<rect x="182.2" y="128.8" width="127.1" height="62.9" fill="none" stroke="#00063a" stroke-width="0.8" opacity="0.75"/>
<rect x="36.2" y="214.3" width="128.5" height="63.2" fill="none" stroke="#00063a" stroke-width="0.8" opacity="0.75"/>
<rect x="182.2" y="213.3" width="127.1" height="62.4" fill="none" stroke="#00063a" stroke-width="0.8" opacity="0.75"/>
<rect x="36.2" y="298.1" width="128.5" height="62.4" fill="none" stroke="#00063a" stroke-width="0.8" opacity="0.75"/>
<rect x="182.2" y="297.6" width="127.1" height="63.1" fill="none" stroke="#00063a" stroke-width="0.8" opacity="0.75"/>
<rect x="36.2" y="382.1" width="128.5" height="62.2" fill="none" stroke="#00063a" stroke-width="0.8" opacity="0.75"/>
<rect x="182.2" y="381.8" width="127.1" height="62.5" fill="none" stroke="#00063a" stroke-width="0.8" opacity="0.75"/>
<text transform="translate(38.36 41.06) scale(1.093 1)" font-size="15.05">(a1)</text>
<text transform="translate(182.08 41.26) scale(1.068 1)" font-size="15.05">(b1)</text>
<path d="M36.3 45.6 V109.7" stroke="#000" stroke-width="2" fill="none"/>
<path d="M35.3 46.4 h4.2" stroke="#000" stroke-width="1.5" fill="none"/>
<path d="M36 92.8 h3.8" stroke="#000" stroke-width="1.6" fill="none"/>
<path d="M36 76.6 h3.8" stroke="#000" stroke-width="1.6" fill="none"/>
<path d="M36 60.4 h3.8" stroke="#000" stroke-width="1.6" fill="none"/>
<text transform="translate(19.27 49.40) scale(0.955 1)" font-size="16.06">12</text>
<text transform="translate(23.41 65.54) scale(0.964 1)" font-size="16.27">9</text>
<text transform="translate(23.46 81.64) scale(0.947 1)" font-size="16.27">6</text>
<text transform="translate(22.93 97.84) scale(1.002 1)" font-size="16.27">3</text>
<text transform="translate(22.79 113.94) scale(1.148 1)" font-size="15.56">0</text>
<text transform="translate(38.36 124.86) scale(1.093 1)" font-size="15.05">(a2)</text>
<text transform="translate(182.08 125.06) scale(1.068 1)" font-size="15.05">(b2)</text>
<path d="M36.3 129.4 V194.2" stroke="#000" stroke-width="2" fill="none"/>
<path d="M35.3 130.2 h4.2" stroke="#000" stroke-width="1.5" fill="none"/>
<path d="M36 177.3 h3.8" stroke="#000" stroke-width="1.6" fill="none"/>
<path d="M36 161.1 h3.8" stroke="#000" stroke-width="1.6" fill="none"/>
<path d="M36 144.9 h3.8" stroke="#000" stroke-width="1.6" fill="none"/>
<text transform="translate(19.27 133.20) scale(0.955 1)" font-size="16.06">12</text>
<text transform="translate(23.41 149.34) scale(0.964 1)" font-size="16.27">9</text>
<text transform="translate(23.46 165.44) scale(0.947 1)" font-size="16.27">6</text>
<text transform="translate(22.93 181.64) scale(1.002 1)" font-size="16.27">3</text>
<text transform="translate(22.79 197.74) scale(1.148 1)" font-size="15.56">0</text>
<text transform="translate(38.36 208.86) scale(1.093 1)" font-size="15.05">(a3)</text>
<text transform="translate(182.08 209.06) scale(1.068 1)" font-size="15.05">(b3)</text>
<path d="M36.3 213.4 V278.6" stroke="#000" stroke-width="2" fill="none"/>
<path d="M35.3 214.2 h4.2" stroke="#000" stroke-width="1.5" fill="none"/>
<path d="M36 261.7 h3.8" stroke="#000" stroke-width="1.6" fill="none"/>
<path d="M36 245.5 h3.8" stroke="#000" stroke-width="1.6" fill="none"/>
<path d="M36 229.3 h3.8" stroke="#000" stroke-width="1.6" fill="none"/>
<text transform="translate(19.27 217.20) scale(0.955 1)" font-size="16.06">12</text>
<text transform="translate(23.41 233.34) scale(0.964 1)" font-size="16.27">9</text>
<text transform="translate(23.46 249.44) scale(0.947 1)" font-size="16.27">6</text>
<text transform="translate(22.93 265.64) scale(1.002 1)" font-size="16.27">3</text>
<text transform="translate(22.79 281.74) scale(1.148 1)" font-size="15.56">0</text>
<text transform="translate(38.36 292.66) scale(1.093 1)" font-size="15.05">(a4)</text>
<text transform="translate(182.08 292.86) scale(1.068 1)" font-size="15.05">(b4)</text>
<path d="M36.3 297.2 V361.6" stroke="#000" stroke-width="2" fill="none"/>
<path d="M35.3 298 h4.2" stroke="#000" stroke-width="1.5" fill="none"/>
<path d="M36 344.7 h3.8" stroke="#000" stroke-width="1.6" fill="none"/>
<path d="M36 328.5 h3.8" stroke="#000" stroke-width="1.6" fill="none"/>
<path d="M36 312.3 h3.8" stroke="#000" stroke-width="1.6" fill="none"/>
<text transform="translate(19.27 301.00) scale(0.955 1)" font-size="16.06">12</text>
<text transform="translate(23.41 317.14) scale(0.964 1)" font-size="16.27">9</text>
<text transform="translate(23.46 333.24) scale(0.947 1)" font-size="16.27">6</text>
<text transform="translate(22.93 349.44) scale(1.002 1)" font-size="16.27">3</text>
<text transform="translate(22.79 365.54) scale(1.148 1)" font-size="15.56">0</text>
<text transform="translate(38.36 376.66) scale(1.093 1)" font-size="15.05">(a5)</text>
<text transform="translate(182.08 376.86) scale(1.068 1)" font-size="15.05">(b5)</text>
<path d="M36.3 381.2 V445.4" stroke="#000" stroke-width="2" fill="none"/>
<path d="M35.3 382 h4.2" stroke="#000" stroke-width="1.5" fill="none"/>
<path d="M36 428.5 h3.8" stroke="#000" stroke-width="1.6" fill="none"/>
<path d="M36 412.3 h3.8" stroke="#000" stroke-width="1.6" fill="none"/>
<path d="M36 396.1 h3.8" stroke="#000" stroke-width="1.6" fill="none"/>
<text transform="translate(19.27 385.00) scale(0.955 1)" font-size="16.06">12</text>
<text transform="translate(23.41 401.14) scale(0.964 1)" font-size="16.27">9</text>
<text transform="translate(23.46 417.24) scale(0.947 1)" font-size="16.27">6</text>
<text transform="translate(22.93 433.44) scale(1.002 1)" font-size="16.27">3</text>
<text transform="translate(22.79 449.54) scale(1.148 1)" font-size="15.56">0</text>
<text transform="translate(316.66 64.58) rotate(90) scale(0.981 1)" font-size="15.70">0 A</text>
<text transform="translate(316.66 149.98) rotate(90) scale(0.954 1)" font-size="15.70">8 A</text>
<text transform="translate(316.66 231.53) rotate(90) scale(0.940 1)" font-size="15.82">9 A</text>
<text transform="translate(316.66 316.89) rotate(90) scale(0.960 1)" font-size="15.70">10 A</text>
<text transform="translate(316.66 401.89) rotate(90) scale(0.953 1)" font-size="15.82">15 A</text>
<path d="M35.4 445.2 H165" stroke="#000" stroke-width="2.4" fill="none"/>
<path d="M57.8 444.9 v-3.4" stroke="#000" stroke-width="1.6" fill="none"/>
<path d="M82.7 444.9 v-3.4" stroke="#000" stroke-width="1.6" fill="none"/>
<path d="M109.6 444.9 v-3.4" stroke="#000" stroke-width="1.6" fill="none"/>
<path d="M135.3 444.9 v-3.4" stroke="#000" stroke-width="1.6" fill="none"/>
<text transform="translate(34.55 460.15) scale(1.071 1)" font-size="15.11">0</text>
<text transform="translate(54.35 460.30) scale(1.058 1)" font-size="15.45">4</text>
<text transform="translate(78.01 460.15) scale(1.108 1)" font-size="15.11">8</text>
<text transform="translate(98.45 460.30) scale(1.007 1)" font-size="15.45">12</text>
<text transform="translate(126.17 460.15) scale(1.011 1)" font-size="15.22">16</text>
<text transform="translate(154.51 460.15) scale(0.978 1)" font-size="15.11">20</text>
<path d="M181.4 445.2 H309.6" stroke="#000" stroke-width="2.4" fill="none"/>
<path d="M203.2 444.9 v-3.4" stroke="#000" stroke-width="1.6" fill="none"/>
<path d="M228.1 444.9 v-3.4" stroke="#000" stroke-width="1.6" fill="none"/>
<path d="M255 444.9 v-3.4" stroke="#000" stroke-width="1.6" fill="none"/>
<path d="M280.7 444.9 v-3.4" stroke="#000" stroke-width="1.6" fill="none"/>
<text transform="translate(179.95 460.15) scale(1.071 1)" font-size="15.11">0</text>
<text transform="translate(199.75 460.30) scale(1.058 1)" font-size="15.45">4</text>
<text transform="translate(223.41 460.15) scale(1.108 1)" font-size="15.11">8</text>
<text transform="translate(243.85 460.30) scale(1.007 1)" font-size="15.45">12</text>
<text transform="translate(271.57 460.15) scale(1.011 1)" font-size="15.22">16</text>
<text transform="translate(299.91 460.15) scale(0.978 1)" font-size="15.11">20</text>
<text transform="translate(11.99 274.02) rotate(-90) scale(1.215 1)" font-size="13.08">z (cm)</text>
<text transform="translate(155.51 474.40) scale(1.084 1)" font-size="14.40">r (cm)</text>
<text transform="translate(36.84 504.45) scale(1.077 1)" font-size="15.26">0</text>
<text transform="translate(72.68 504.60) scale(0.901 1)" font-size="15.61">1</text>
<text transform="translate(112.21 504.60) scale(1.098 1)" font-size="15.61">2</text>
<text transform="translate(152.34 504.45) scale(1.044 1)" font-size="15.37">3</text>
<text transform="translate(181.59 504.37) scale(1.010 1)" font-size="15.15">0.0</text>
<text transform="translate(215.89 504.37) scale(1.006 1)" font-size="15.15">0.3</text>
<text transform="translate(251.98 504.37) scale(1.018 1)" font-size="15.15">0.6</text>
<text transform="translate(287.47 504.37) scale(1.034 1)" font-size="15.15">0.9</text>
<rect x="368.1" y="98.5" width="142.9" height="112.1" fill="#fff" stroke="#2c2c2c" stroke-width="1.3"/>
<path d="M368.1 203.5 h3" stroke="#2c2c2c" stroke-width="1.2" fill="none"/>
<text transform="translate(347.86 207.90) scale(1.004 1)" font-size="13.53">0.0</text>
<path d="M368.1 184.65 h3" stroke="#2c2c2c" stroke-width="1.2" fill="none"/>
<text transform="translate(347.84 189.05) scale(1.038 1)" font-size="13.53">0.5</text>
<path d="M368.1 165.8 h3" stroke="#2c2c2c" stroke-width="1.2" fill="none"/>
<text transform="translate(347.27 170.20) scale(1.040 1)" font-size="13.53">1.0</text>
<path d="M368.1 146.95 h3" stroke="#2c2c2c" stroke-width="1.2" fill="none"/>
<text transform="translate(347.24 151.35) scale(1.067 1)" font-size="13.63">1.5</text>
<path d="M368.1 128.1 h3" stroke="#2c2c2c" stroke-width="1.2" fill="none"/>
<text transform="translate(347.86 132.50) scale(1.004 1)" font-size="13.53">2.0</text>
<path d="M368.1 109.25 h3" stroke="#2c2c2c" stroke-width="1.2" fill="none"/>
<text transform="translate(347.84 113.65) scale(1.030 1)" font-size="13.63">2.5</text>
<path d="M376.3 210.6 v-3" stroke="#2c2c2c" stroke-width="1.2" fill="none"/>
<text transform="translate(372.26 224.47) scale(1.183 1)" font-size="13.48">0</text>
<path d="M401.47 210.6 v-3" stroke="#2c2c2c" stroke-width="1.2" fill="none"/>
<text transform="translate(397.25 224.46) scale(1.147 1)" font-size="13.58">3</text>
<path d="M426.64 210.6 v-3" stroke="#2c2c2c" stroke-width="1.2" fill="none"/>
<text transform="translate(422.66 224.46) scale(1.134 1)" font-size="13.58">6</text>
<path d="M451.81 210.6 v-3" stroke="#2c2c2c" stroke-width="1.2" fill="none"/>
<text transform="translate(448.22 224.46) scale(1.121 1)" font-size="13.58">9</text>
<path d="M476.98 210.6 v-3" stroke="#2c2c2c" stroke-width="1.2" fill="none"/>
<text transform="translate(470.50 224.60) scale(0.997 1)" font-size="13.79">12</text>
<path d="M502.15 210.6 v-3" stroke="#2c2c2c" stroke-width="1.2" fill="none"/>
<text transform="translate(495.61 224.46) scale(1.007 1)" font-size="13.58">15</text>
<text transform="translate(365.36 93.00) scale(1.137 1)" font-size="14.40">(c)</text>
<text transform="translate(363.69 240.71) scale(1.110 1)" font-size="12.68">Magnetic coil current (A)</text>
<text transform="translate(342.00 235.30) rotate(-90) scale(0.969 1)" font-size="14.00">Electron density (10<tspan dy="-5.04" font-size="8.68">17</tspan><tspan dy="5.04"> m</tspan><tspan dy="-5.04" font-size="8.68">-3</tspan><tspan dy="5.04">)</tspan></text>
<polyline points="376.3,183.9 384.7,183.9 393.1,183.9 401.5,183.5 409.9,183.1 418.2,181.6 426.6,180.9 435.0,178.2 443.4,175.2 451.8,171.1 460.2,164.7 468.6,156.4 477.0,146.2 485.4,134.9 493.8,123.2 502.2,109.2" fill="none" stroke="#de2a42" stroke-width="1.35" stroke-dasharray="6.5 4.2"/>
<polygon points="376.3,181.1 377.0,183.1 379.2,183.2 377.5,184.5 378.1,186.5 376.3,185.4 374.5,186.5 375.1,184.5 373.4,183.2 375.6,183.1" fill="#fff" stroke="#de2a42" stroke-width="0.65" stroke-linejoin="miter"/>
<polygon points="384.7,181.1 385.4,183.1 387.5,183.2 385.9,184.5 386.5,186.5 384.7,185.4 382.9,186.5 383.5,184.5 381.8,183.2 383.9,183.1" fill="#fff" stroke="#de2a42" stroke-width="0.65" stroke-linejoin="miter"/>
<polygon points="393.1,181.1 393.8,183.1 395.9,183.2 394.3,184.5 394.8,186.5 393.1,185.4 391.3,186.5 391.9,184.5 390.2,183.2 392.3,183.1" fill="#fff" stroke="#de2a42" stroke-width="0.65" stroke-linejoin="miter"/>
<polygon points="401.5,180.7 402.2,182.7 404.3,182.8 402.7,184.1 403.2,186.1 401.5,185.0 399.7,186.1 400.3,184.1 398.6,182.8 400.7,182.7" fill="#fff" stroke="#de2a42" stroke-width="0.65" stroke-linejoin="miter"/>
<polygon points="409.9,180.3 410.6,182.3 412.7,182.4 411.1,183.7 411.6,185.8 409.9,184.6 408.1,185.8 408.7,183.7 407.0,182.4 409.1,182.3" fill="#fff" stroke="#de2a42" stroke-width="0.65" stroke-linejoin="miter"/>
<polygon points="418.2,178.8 419.0,180.8 421.1,180.9 419.4,182.2 420.0,184.3 418.2,183.1 416.5,184.3 417.1,182.2 415.4,180.9 417.5,180.8" fill="#fff" stroke="#de2a42" stroke-width="0.65" stroke-linejoin="miter"/>
<polygon points="426.6,178.1 427.4,180.1 429.5,180.2 427.8,181.5 428.4,183.5 426.6,182.3 424.9,183.5 425.4,181.5 423.8,180.2 425.9,180.1" fill="#fff" stroke="#de2a42" stroke-width="0.65" stroke-linejoin="miter"/>
<polygon points="435.0,175.4 435.8,177.4 437.9,177.5 436.2,178.8 436.8,180.9 435.0,179.7 433.3,180.9 433.8,178.8 432.2,177.5 434.3,177.4" fill="#fff" stroke="#de2a42" stroke-width="0.65" stroke-linejoin="miter"/>
<polygon points="443.4,172.4 444.2,174.4 446.3,174.5 444.6,175.8 445.2,177.9 443.4,176.7 441.7,177.9 442.2,175.8 440.6,174.5 442.7,174.4" fill="#fff" stroke="#de2a42" stroke-width="0.65" stroke-linejoin="miter"/>
<polygon points="451.8,168.3 452.6,170.3 454.7,170.4 453.0,171.7 453.6,173.7 451.8,172.5 450.0,173.7 450.6,171.7 449.0,170.4 451.1,170.3" fill="#fff" stroke="#de2a42" stroke-width="0.65" stroke-linejoin="miter"/>
<polygon points="460.2,161.9 460.9,163.8 463.1,163.9 461.4,165.3 462.0,167.3 460.2,166.1 458.4,167.3 459.0,165.3 457.3,163.9 459.5,163.8" fill="#fff" stroke="#de2a42" stroke-width="0.65" stroke-linejoin="miter"/>
<polygon points="468.6,153.6 469.3,155.6 471.4,155.6 469.8,157.0 470.4,159.0 468.6,157.8 466.8,159.0 467.4,157.0 465.7,155.6 467.8,155.6" fill="#fff" stroke="#de2a42" stroke-width="0.65" stroke-linejoin="miter"/>
<polygon points="477.0,143.4 477.7,145.4 479.8,145.5 478.2,146.8 478.7,148.8 477.0,147.7 475.2,148.8 475.8,146.8 474.1,145.5 476.2,145.4" fill="#fff" stroke="#de2a42" stroke-width="0.65" stroke-linejoin="miter"/>
<polygon points="485.4,132.1 486.1,134.1 488.2,134.2 486.6,135.5 487.1,137.5 485.4,136.3 483.6,137.5 484.2,135.5 482.5,134.2 484.6,134.1" fill="#fff" stroke="#de2a42" stroke-width="0.65" stroke-linejoin="miter"/>
<polygon points="493.8,120.4 494.5,122.4 496.6,122.5 495.0,123.8 495.5,125.8 493.8,124.7 492.0,125.8 492.6,123.8 490.9,122.5 493.0,122.4" fill="#fff" stroke="#de2a42" stroke-width="0.65" stroke-linejoin="miter"/>
<polygon points="502.2,106.5 502.9,108.4 505.0,108.5 503.3,109.8 503.9,111.9 502.2,110.7 500.4,111.9 501.0,109.8 499.3,108.5 501.4,108.4" fill="#fff" stroke="#de2a42" stroke-width="0.65" stroke-linejoin="miter"/>
<polyline points="376.3,196.7 384.7,196.7 393.1,196.7 401.5,196.7 409.9,196.7 418.2,196.5 426.6,196.3 435.0,196.0 443.4,195.4 451.8,194.5 460.2,192.2 468.6,188.8 477.0,185.4 485.4,180.5 493.8,176.4 502.2,170.7" fill="none" stroke="#2020c0" stroke-width="1.35" stroke-dasharray="6.5 4.2"/>
<polygon points="376.3,193.9 377.0,195.9 379.2,196.0 377.5,197.3 378.1,199.3 376.3,198.2 374.5,199.3 375.1,197.3 373.4,196.0 375.6,195.9" fill="#2020c0" stroke="#2020c0" stroke-width="0.65" stroke-linejoin="miter"/>
<polygon points="384.7,193.9 385.4,195.9 387.5,196.0 385.9,197.3 386.5,199.3 384.7,198.2 382.9,199.3 383.5,197.3 381.8,196.0 383.9,195.9" fill="#2020c0" stroke="#2020c0" stroke-width="0.65" stroke-linejoin="miter"/>
<polygon points="393.1,193.9 393.8,195.9 395.9,196.0 394.3,197.3 394.8,199.3 393.1,198.2 391.3,199.3 391.9,197.3 390.2,196.0 392.3,195.9" fill="#2020c0" stroke="#2020c0" stroke-width="0.65" stroke-linejoin="miter"/>
<polygon points="401.5,193.9 402.2,195.9 404.3,196.0 402.7,197.3 403.2,199.3 401.5,198.2 399.7,199.3 400.3,197.3 398.6,196.0 400.7,195.9" fill="#2020c0" stroke="#2020c0" stroke-width="0.65" stroke-linejoin="miter"/>
<polygon points="409.9,193.9 410.6,195.9 412.7,196.0 411.1,197.3 411.6,199.3 409.9,198.2 408.1,199.3 408.7,197.3 407.0,196.0 409.1,195.9" fill="#2020c0" stroke="#2020c0" stroke-width="0.65" stroke-linejoin="miter"/>
<polygon points="418.2,193.7 419.0,195.7 421.1,195.8 419.4,197.1 420.0,199.2 418.2,198.0 416.5,199.2 417.1,197.1 415.4,195.8 417.5,195.7" fill="#2020c0" stroke="#2020c0" stroke-width="0.65" stroke-linejoin="miter"/>
<polygon points="426.6,193.5 427.4,195.5 429.5,195.6 427.8,196.9 428.4,199.0 426.6,197.8 424.9,199.0 425.4,196.9 423.8,195.6 425.9,195.5" fill="#2020c0" stroke="#2020c0" stroke-width="0.65" stroke-linejoin="miter"/>
<polygon points="435.0,193.2 435.8,195.1 437.9,195.2 436.2,196.5 436.8,198.6 435.0,197.4 433.3,198.6 433.8,196.5 432.2,195.2 434.3,195.1" fill="#2020c0" stroke="#2020c0" stroke-width="0.65" stroke-linejoin="miter"/>
<polygon points="443.4,192.6 444.2,194.6 446.3,194.7 444.6,196.0 445.2,198.0 443.4,196.9 441.7,198.0 442.2,196.0 440.6,194.7 442.7,194.6" fill="#2020c0" stroke="#2020c0" stroke-width="0.65" stroke-linejoin="miter"/>
<polygon points="451.8,191.7 452.6,193.6 454.7,193.7 453.0,195.0 453.6,197.1 451.8,195.9 450.0,197.1 450.6,195.0 449.0,193.7 451.1,193.6" fill="#2020c0" stroke="#2020c0" stroke-width="0.65" stroke-linejoin="miter"/>
<polygon points="460.2,189.4 460.9,191.4 463.1,191.5 461.4,192.8 462.0,194.8 460.2,193.6 458.4,194.8 459.0,192.8 457.3,191.5 459.5,191.4" fill="#2020c0" stroke="#2020c0" stroke-width="0.65" stroke-linejoin="miter"/>
<polygon points="468.6,186.0 469.3,188.0 471.4,188.1 469.8,189.4 470.4,191.4 468.6,190.3 466.8,191.4 467.4,189.4 465.7,188.1 467.8,188.0" fill="#2020c0" stroke="#2020c0" stroke-width="0.65" stroke-linejoin="miter"/>
<polygon points="477.0,182.6 477.7,184.6 479.8,184.7 478.2,186.0 478.7,188.0 477.0,186.9 475.2,188.0 475.8,186.0 474.1,184.7 476.2,184.6" fill="#2020c0" stroke="#2020c0" stroke-width="0.65" stroke-linejoin="miter"/>
<polygon points="485.4,177.7 486.1,179.7 488.2,179.8 486.6,181.1 487.1,183.1 485.4,182.0 483.6,183.1 484.2,181.1 482.5,179.8 484.6,179.7" fill="#2020c0" stroke="#2020c0" stroke-width="0.65" stroke-linejoin="miter"/>
<polygon points="493.8,173.6 494.5,175.5 496.6,175.6 495.0,176.9 495.5,179.0 493.8,177.8 492.0,179.0 492.6,176.9 490.9,175.6 493.0,175.5" fill="#2020c0" stroke="#2020c0" stroke-width="0.65" stroke-linejoin="miter"/>
<polygon points="502.2,167.9 502.9,169.9 505.0,170.0 503.3,171.3 503.9,173.3 502.2,172.2 500.4,173.3 501.0,171.3 499.3,170.0 501.4,169.9" fill="#2020c0" stroke="#2020c0" stroke-width="0.65" stroke-linejoin="miter"/>
<path d="M372.1 107.3 H380.2 M388.9 107.3 H394.6" stroke="#de2a42" stroke-width="1.35" fill="none"/>
<polygon points="385.6,105.0 386.2,106.7 388.0,106.7 386.6,107.8 387.1,109.5 385.6,108.5 384.1,109.5 384.6,107.8 383.2,106.7 385.0,106.7" fill="#fff" stroke="#de2a42" stroke-width="0.65" stroke-linejoin="miter"/>
<text transform="translate(401.74 111.02) scale(0.977 1)" font-size="11.76">0.3</text>
<path d="M372.1 121.1 H380.2 M388.9 121.1 H394.6" stroke="#2020c0" stroke-width="1.35" fill="none"/>
<polygon points="385.6,118.8 386.2,120.5 388.0,120.5 386.6,121.6 387.1,123.3 385.6,122.3 384.1,123.3 384.6,121.6 383.2,120.5 385.0,120.5" fill="#2020c0" stroke="#2020c0" stroke-width="0.65" stroke-linejoin="miter"/>
<text transform="translate(401.74 124.82) scale(0.968 1)" font-size="11.76">0.7</text>
<rect x="371.2" y="272.4" width="143.5" height="106.8" fill="#fff" stroke="#2c2c2c" stroke-width="1.3"/>
<path d="M371.2 370 h3" stroke="#2c2c2c" stroke-width="1.2" fill="none"/>
<text transform="translate(354.57 374.27) scale(1.006 1)" font-size="13.19">50</text>
<path d="M371.2 350.44 h3" stroke="#2c2c2c" stroke-width="1.2" fill="none"/>
<text transform="translate(354.64 354.71) scale(1.002 1)" font-size="13.19">60</text>
<path d="M371.2 330.88 h3" stroke="#2c2c2c" stroke-width="1.2" fill="none"/>
<text transform="translate(354.36 335.15) scale(1.022 1)" font-size="13.19">70</text>
<path d="M371.2 311.32 h3" stroke="#2c2c2c" stroke-width="1.2" fill="none"/>
<text transform="translate(354.64 315.59) scale(1.002 1)" font-size="13.19">80</text>
<path d="M371.2 291.76 h3" stroke="#2c2c2c" stroke-width="1.2" fill="none"/>
<text transform="translate(354.77 296.03) scale(0.990 1)" font-size="13.19">90</text>
<text transform="translate(347.83 276.67) scale(1.059 1)" font-size="12.59">100</text>
<path d="M383.3 379.2 v-3" stroke="#2c2c2c" stroke-width="1.2" fill="none"/>
<text transform="translate(379.46 392.77) scale(1.183 1)" font-size="13.48">0</text>
<path d="M407.84 379.2 v-3" stroke="#2c2c2c" stroke-width="1.2" fill="none"/>
<text transform="translate(404.15 392.76) scale(1.147 1)" font-size="13.58">3</text>
<path d="M432.38 379.2 v-3" stroke="#2c2c2c" stroke-width="1.2" fill="none"/>
<text transform="translate(428.75 392.76) scale(1.151 1)" font-size="13.58">6</text>
<path d="M456.92 379.2 v-3" stroke="#2c2c2c" stroke-width="1.2" fill="none"/>
<text transform="translate(453.23 392.76) scale(1.104 1)" font-size="13.58">9</text>
<path d="M481.46 379.2 v-3" stroke="#2c2c2c" stroke-width="1.2" fill="none"/>
<text transform="translate(474.70 392.90) scale(0.997 1)" font-size="13.79">12</text>
<path d="M506 379.2 v-3" stroke="#2c2c2c" stroke-width="1.2" fill="none"/>
<text transform="translate(499.31 392.76) scale(1.007 1)" font-size="13.58">15</text>
<text transform="translate(368.44 267.10) scale(1.175 1)" font-size="14.40">(d)</text>
<text transform="translate(366.79 408.71) scale(1.113 1)" font-size="12.68">Magnetic coil current (A)</text>
<text transform="translate(343.01 390.33) rotate(-90) scale(0.938 1)" font-size="14.05">Uniformity degree (%)</text>
<polyline points="383.3,372.0 448.7,313.3 456.9,299.6 465.1,291.8 506.0,293.7" fill="none" stroke="#de2a42" stroke-width="1.35" stroke-dasharray="6.5 4.2"/>
<polygon points="383.3,369.5 384.0,371.2 385.9,371.3 384.4,372.5 384.9,374.3 383.3,373.3 381.7,374.3 382.2,372.5 380.7,371.3 382.6,371.2" fill="#fff" stroke="#de2a42" stroke-width="0.65" stroke-linejoin="miter"/>
<polygon points="448.7,310.8 449.4,312.6 451.3,312.6 449.8,313.8 450.3,315.7 448.7,314.6 447.2,315.7 447.7,313.8 446.2,312.6 448.1,312.6" fill="#fff" stroke="#de2a42" stroke-width="0.65" stroke-linejoin="miter"/>
<polygon points="456.9,297.1 457.6,298.9 459.5,298.9 458.0,300.1 458.5,302.0 456.9,300.9 455.3,302.0 455.8,300.1 454.4,298.9 456.3,298.9" fill="#fff" stroke="#de2a42" stroke-width="0.65" stroke-linejoin="miter"/>
<polygon points="465.1,289.3 465.8,291.0 467.7,291.1 466.2,292.3 466.7,294.1 465.1,293.1 463.5,294.1 464.0,292.3 462.5,291.1 464.4,291.0" fill="#fff" stroke="#de2a42" stroke-width="0.65" stroke-linejoin="miter"/>
<polygon points="506.0,291.2 506.7,293.0 508.6,293.1 507.1,294.3 507.6,296.1 506.0,295.1 504.4,296.1 504.9,294.3 503.4,293.1 505.3,293.0" fill="#fff" stroke="#de2a42" stroke-width="0.65" stroke-linejoin="miter"/>
<polyline points="383.3,348.5 448.7,305.5 456.9,291.8 465.1,282.0 506.0,319.1" fill="none" stroke="#2020c0" stroke-width="1.35" stroke-dasharray="6.5 4.2"/>
<polygon points="383.3,346.0 384.0,347.8 385.9,347.8 384.4,349.0 384.9,350.9 383.3,349.8 381.7,350.9 382.2,349.0 380.7,347.8 382.6,347.8" fill="#2020c0" stroke="#2020c0" stroke-width="0.65" stroke-linejoin="miter"/>
<polygon points="448.7,303.0 449.4,304.7 451.3,304.8 449.8,306.0 450.3,307.8 448.7,306.8 447.2,307.8 447.7,306.0 446.2,304.8 448.1,304.7" fill="#2020c0" stroke="#2020c0" stroke-width="0.65" stroke-linejoin="miter"/>
<polygon points="456.9,289.3 457.6,291.0 459.5,291.1 458.0,292.3 458.5,294.1 456.9,293.1 455.3,294.1 455.8,292.3 454.4,291.1 456.3,291.0" fill="#2020c0" stroke="#2020c0" stroke-width="0.65" stroke-linejoin="miter"/>
<polygon points="465.1,279.5 465.8,281.3 467.7,281.3 466.2,282.5 466.7,284.4 465.1,283.3 463.5,284.4 464.0,282.5 462.5,281.3 464.4,281.3" fill="#2020c0" stroke="#2020c0" stroke-width="0.65" stroke-linejoin="miter"/>
<polygon points="506.0,316.6 506.7,318.4 508.6,318.5 507.1,319.7 507.6,321.5 506.0,320.5 504.4,321.5 504.9,319.7 503.4,318.5 505.3,318.4" fill="#2020c0" stroke="#2020c0" stroke-width="0.65" stroke-linejoin="miter"/>
<path d="M375.9 280.9 H384.2 M393 280.9 H398.3" stroke="#de2a42" stroke-width="1.35" fill="none"/>
<polygon points="389.5,278.6 390.1,280.3 391.9,280.3 390.5,281.4 391.0,283.1 389.5,282.1 388.0,283.1 388.5,281.4 387.1,280.3 388.9,280.3" fill="#fff" stroke="#de2a42" stroke-width="0.65" stroke-linejoin="miter"/>
<text transform="translate(404.94 284.72) scale(0.977 1)" font-size="11.76">0.3</text>
<path d="M375.9 294 H384.2 M393 294 H398.3" stroke="#2020c0" stroke-width="1.35" fill="none"/>
<polygon points="389.5,291.7 390.1,293.4 391.9,293.4 390.5,294.5 391.0,296.2 389.5,295.2 388.0,296.2 388.5,294.5 387.1,293.4 388.9,293.4" fill="#2020c0" stroke="#2020c0" stroke-width="0.65" stroke-linejoin="miter"/>
<text transform="translate(404.94 297.82) scale(0.968 1)" font-size="11.76">0.7</text>
<text transform="translate(376.31 344.18) scale(0.934 1)" font-size="11.94">61</text>
<text transform="translate(389.93 375.78) scale(0.918 1)" font-size="12.39">49</text>
<text transform="translate(449.70 283.09) scale(1.055 1)" font-size="11.19">95</text>
<text transform="translate(440.80 293.69) scale(1.068 1)" font-size="11.11">90</text>
<text transform="translate(432.38 306.99) scale(1.074 1)" font-size="11.11">83</text>
<text transform="translate(463.30 304.59) scale(1.068 1)" font-size="11.11">90</text>
<text transform="translate(453.98 313.89) scale(1.078 1)" font-size="11.11">86</text>
<text transform="translate(447.05 325.09) scale(1.060 1)" font-size="11.19">79</text>
<text transform="translate(492.39 304.89) scale(1.041 1)" font-size="11.26">89</text>
<text transform="translate(491.96 330.09) scale(1.021 1)" font-size="11.34">76</text>
<rect x="445.8" y="334.4" width="68" height="44.2" rx="4" fill="#f4f4f4" stroke="#1c2340" stroke-width="1" stroke-dasharray="4 2.2"/>
<rect x="462.4" y="342.6" width="45.8" height="21" fill="#fff" stroke="#16244f" stroke-width="1.4"/>
<path d="M463 352.9 H497.3" stroke="#f01818" stroke-width="1.8" fill="none"/>
<path d="M476 350.3 L481.2 352.9 L476 355.5 Z" fill="#f01818"/>
<path d="M497.3 354.4 V363" stroke="#000" stroke-width="1.2" fill="none" stroke-dasharray="1.2 1.4"/>
<path d="M486 362 v1.6" stroke="#000" stroke-width="1.6" fill="none"/>
<text transform="translate(463.07 340.33) scale(0.960 1)" font-size="6.95">Chamber</text>
<text transform="translate(466.90 349.83) scale(0.918 1)" font-size="7.09">Base line</text>
<text transform="translate(455.85 344.40) scale(0.967 1)" font-size="5.76">12</text>
<text transform="translate(457.91 354.94) scale(0.932 1)" font-size="5.67">6</text>
<text transform="translate(459.89 370.24) scale(0.930 1)" font-size="5.63">0</text>
<text transform="translate(481.05 370.24) scale(1.009 1)" font-size="5.63">10</text>
<text transform="translate(494.26 370.24) scale(0.976 1)" font-size="5.67">15</text>
<text transform="translate(504.87 370.24) scale(1.023 1)" font-size="5.63">20</text>
<text transform="translate(473.27 376.57) scale(0.899 1)" font-size="5.71">r (cm)</text>
<text transform="translate(452.77 361.92) rotate(-90) scale(1.119 1)" font-size="5.27">z (cm)</text>
</svg>
</div></body></html>
